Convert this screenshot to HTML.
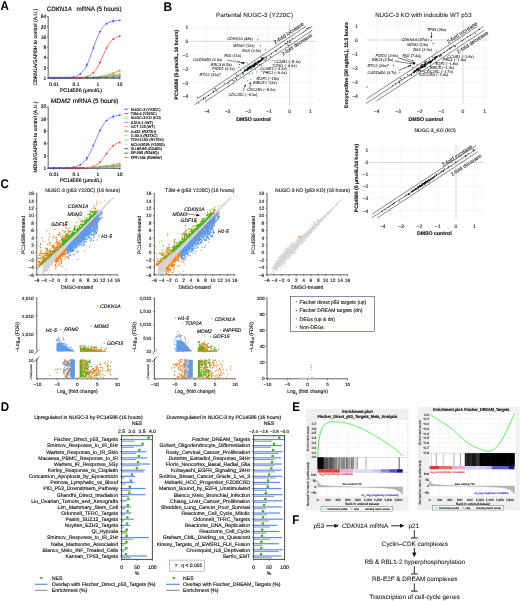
<!DOCTYPE html>
<html><head><meta charset="utf-8"><style>
html,body{margin:0;padding:0;background:#fff;}
svg{display:block;}
text{font-family:"Liberation Sans",Arial,sans-serif;text-rendering:geometricPrecision;}
</style></head><body><div class="wrap">
<svg width="520" height="601" viewBox="0 0 520 601">
<rect x="0" y="0" width="520" height="601" fill="#fff"/>
<text x="0.60" y="10.35" font-size="12.60" font-weight="bold" textLength="8.38" lengthAdjust="spacingAndGlyphs">A</text>
<text x="163.60" y="10.70" font-size="12.60" font-weight="bold" textLength="8.67" lengthAdjust="spacingAndGlyphs">B</text>
<text x="0.50" y="188.10" font-size="12.60" font-weight="bold" textLength="8.38" lengthAdjust="spacingAndGlyphs">C</text>
<text x="0.80" y="411.30" font-size="12.60" font-weight="bold" textLength="8.38" lengthAdjust="spacingAndGlyphs">D</text>
<text x="292.30" y="411.30" font-size="12.60" font-weight="bold" textLength="7.74" lengthAdjust="spacingAndGlyphs">E</text>
<text x="292.20" y="523.80" font-size="12.60" font-weight="bold" textLength="7.09" lengthAdjust="spacingAndGlyphs">F</text>
<line x1="48.20" y1="16.50" x2="48.20" y2="78.40" stroke="#222" stroke-width="0.7"/>
<line x1="47.85" y1="78.10" x2="120.50" y2="78.10" stroke="#222" stroke-width="0.7"/>
<line x1="47.00" y1="78.10" x2="48.20" y2="78.10" stroke="#222" stroke-width="0.6"/>
<text x="46.20" y="79.85" font-size="4.90" text-anchor="end" stroke="#000" stroke-width="0.140">1</text>
<line x1="47.00" y1="67.83" x2="48.20" y2="67.83" stroke="#222" stroke-width="0.6"/>
<text x="46.20" y="69.58" font-size="4.90" text-anchor="end" stroke="#000" stroke-width="0.140">2</text>
<line x1="47.00" y1="57.57" x2="48.20" y2="57.57" stroke="#222" stroke-width="0.6"/>
<text x="46.20" y="59.32" font-size="4.90" text-anchor="end" stroke="#000" stroke-width="0.140">4</text>
<line x1="47.00" y1="47.30" x2="48.20" y2="47.30" stroke="#222" stroke-width="0.6"/>
<text x="46.20" y="49.05" font-size="4.90" text-anchor="end" stroke="#000" stroke-width="0.140">8</text>
<line x1="47.00" y1="37.03" x2="48.20" y2="37.03" stroke="#222" stroke-width="0.6"/>
<text x="46.20" y="38.78" font-size="4.90" text-anchor="end" stroke="#000" stroke-width="0.140">16</text>
<line x1="47.00" y1="26.77" x2="48.20" y2="26.77" stroke="#222" stroke-width="0.6"/>
<text x="46.20" y="28.52" font-size="4.90" text-anchor="end" stroke="#000" stroke-width="0.140">32</text>
<line x1="47.00" y1="16.50" x2="48.20" y2="16.50" stroke="#222" stroke-width="0.6"/>
<text x="46.20" y="18.25" font-size="4.90" text-anchor="end" stroke="#000" stroke-width="0.140">64</text>
<line x1="54.10" y1="78.10" x2="54.10" y2="79.50" stroke="#222" stroke-width="0.6"/>
<line x1="76.00" y1="78.10" x2="76.00" y2="79.50" stroke="#222" stroke-width="0.6"/>
<line x1="97.90" y1="78.10" x2="97.90" y2="79.50" stroke="#222" stroke-width="0.6"/>
<line x1="119.80" y1="78.10" x2="119.80" y2="79.50" stroke="#222" stroke-width="0.6"/>
<line x1="49.24" y1="78.10" x2="49.24" y2="78.90" stroke="#222" stroke-width="0.4"/>
<line x1="50.71" y1="78.10" x2="50.71" y2="78.90" stroke="#222" stroke-width="0.4"/>
<line x1="51.98" y1="78.10" x2="51.98" y2="78.90" stroke="#222" stroke-width="0.4"/>
<line x1="53.10" y1="78.10" x2="53.10" y2="78.90" stroke="#222" stroke-width="0.4"/>
<line x1="60.69" y1="78.10" x2="60.69" y2="78.90" stroke="#222" stroke-width="0.4"/>
<line x1="64.55" y1="78.10" x2="64.55" y2="78.90" stroke="#222" stroke-width="0.4"/>
<line x1="67.29" y1="78.10" x2="67.29" y2="78.90" stroke="#222" stroke-width="0.4"/>
<line x1="69.41" y1="78.10" x2="69.41" y2="78.90" stroke="#222" stroke-width="0.4"/>
<line x1="71.14" y1="78.10" x2="71.14" y2="78.90" stroke="#222" stroke-width="0.4"/>
<line x1="72.61" y1="78.10" x2="72.61" y2="78.90" stroke="#222" stroke-width="0.4"/>
<line x1="73.88" y1="78.10" x2="73.88" y2="78.90" stroke="#222" stroke-width="0.4"/>
<line x1="75.00" y1="78.10" x2="75.00" y2="78.90" stroke="#222" stroke-width="0.4"/>
<line x1="82.59" y1="78.10" x2="82.59" y2="78.90" stroke="#222" stroke-width="0.4"/>
<line x1="86.45" y1="78.10" x2="86.45" y2="78.90" stroke="#222" stroke-width="0.4"/>
<line x1="89.19" y1="78.10" x2="89.19" y2="78.90" stroke="#222" stroke-width="0.4"/>
<line x1="91.31" y1="78.10" x2="91.31" y2="78.90" stroke="#222" stroke-width="0.4"/>
<line x1="93.04" y1="78.10" x2="93.04" y2="78.90" stroke="#222" stroke-width="0.4"/>
<line x1="94.51" y1="78.10" x2="94.51" y2="78.90" stroke="#222" stroke-width="0.4"/>
<line x1="95.78" y1="78.10" x2="95.78" y2="78.90" stroke="#222" stroke-width="0.4"/>
<line x1="96.90" y1="78.10" x2="96.90" y2="78.90" stroke="#222" stroke-width="0.4"/>
<line x1="104.49" y1="78.10" x2="104.49" y2="78.90" stroke="#222" stroke-width="0.4"/>
<line x1="108.35" y1="78.10" x2="108.35" y2="78.90" stroke="#222" stroke-width="0.4"/>
<line x1="111.09" y1="78.10" x2="111.09" y2="78.90" stroke="#222" stroke-width="0.4"/>
<line x1="113.21" y1="78.10" x2="113.21" y2="78.90" stroke="#222" stroke-width="0.4"/>
<line x1="114.94" y1="78.10" x2="114.94" y2="78.90" stroke="#222" stroke-width="0.4"/>
<line x1="116.41" y1="78.10" x2="116.41" y2="78.90" stroke="#222" stroke-width="0.4"/>
<line x1="117.68" y1="78.10" x2="117.68" y2="78.90" stroke="#222" stroke-width="0.4"/>
<line x1="118.80" y1="78.10" x2="118.80" y2="78.90" stroke="#222" stroke-width="0.4"/>
<text x="54.10" y="85.50" font-size="4.90" text-anchor="middle" stroke="#000" stroke-width="0.140">0.01</text>
<text x="76.00" y="85.50" font-size="4.90" text-anchor="middle" stroke="#000" stroke-width="0.140">0.1</text>
<text x="97.90" y="85.50" font-size="4.90" text-anchor="middle" stroke="#000" stroke-width="0.140">1</text>
<text x="119.80" y="85.50" font-size="4.90" text-anchor="middle" stroke="#000" stroke-width="0.140">10</text>
<text x="81.00" y="92.00" font-size="5.20" text-anchor="middle" stroke="#000" stroke-width="0.140">PC14586 (&#956;mol/L)</text>
<text y="10.60" font-size="6.3" stroke="#000" stroke-width="0.15"><tspan x="46.8" font-style="italic" textLength="25.1" lengthAdjust="spacingAndGlyphs">CDKN1A</tspan><tspan x="76.5" textLength="45" lengthAdjust="spacingAndGlyphs">mRNA (5 hours)</tspan></text>
<text x="36.60" y="47.10" font-size="5.05" text-anchor="middle" stroke="#000" stroke-width="0.140" transform="rotate(-90 36.60 47.10)">CDKN1A/GAPDH to control (A.U.)</text>
<path d="M48.20,78.09 L48.20,78.09 L48.20,78.09 L48.20,78.09 L48.72,78.09 L49.28,78.09 L49.83,78.09 L50.38,78.09 L50.94,78.09 L51.49,78.09 L52.05,78.09 L52.60,78.09 L53.16,78.09 L53.71,78.09 L54.26,78.09 L54.82,78.08 L55.37,78.08 L55.93,78.08 L56.48,78.08 L57.04,78.08 L57.59,78.08 L58.14,78.08 L58.70,78.08 L59.25,78.08 L59.81,78.07 L60.36,78.07 L60.91,78.07 L61.47,78.07 L62.02,78.07 L62.58,78.07 L63.13,78.06 L63.69,78.06 L64.24,78.06 L64.79,78.06 L65.35,78.05 L65.90,78.05 L66.46,78.05 L67.01,78.04 L67.56,78.04 L68.12,78.04 L68.67,78.03 L69.23,78.03 L69.78,78.03 L70.34,78.02 L70.89,78.02 L71.44,78.01 L72.00,78.01 L72.55,78.00 L73.11,77.99 L73.66,77.99 L74.22,77.98 L74.77,77.97 L75.32,77.97 L75.88,77.96 L76.43,77.95 L76.99,77.94 L77.54,77.93 L78.09,77.92 L78.65,77.91 L79.20,77.90 L79.76,77.89 L80.31,77.88 L80.87,77.86 L81.42,77.85 L81.97,77.84 L82.53,77.82 L83.08,77.80 L83.64,77.79 L84.19,77.77 L84.75,77.75 L85.30,77.73 L85.85,77.70 L86.41,77.68 L86.96,77.66 L87.52,77.63 L88.07,77.60 L88.62,77.58 L89.18,77.54 L89.73,77.51 L90.29,77.48 L90.84,77.44 L91.40,77.40 L91.95,77.36 L92.50,77.32 L93.06,77.28 L93.61,77.23 L94.17,77.18 L94.72,77.13 L95.27,77.08 L95.83,77.02 L96.38,76.96 L96.94,76.89 L97.49,76.83 L98.05,76.76 L98.60,76.68 L99.15,76.60 L99.71,76.52 L100.26,76.44 L100.82,76.35 L101.37,76.25 L101.93,76.16 L102.48,76.05 L103.03,75.95 L103.59,75.83 L104.14,75.72 L104.70,75.59 L105.25,75.47 L105.80,75.33 L106.36,75.20 L106.91,75.05 L107.47,74.90 L108.02,74.75 L108.58,74.59 L109.13,74.42 L109.68,74.25 L110.24,74.07 L110.79,73.89 L111.35,73.70 L111.90,73.51 L112.45,73.31 L113.01,73.11 L113.56,72.90 L114.12,72.68 L114.67,72.47 L115.23,72.24 L115.78,72.01 L116.33,71.78 L116.89,71.55 L117.44,71.31 L118.00,71.07 L118.55,70.83 L119.11,70.58 L119.66,70.33 L119.80,70.27" stroke="#c46a1a" stroke-width="0.65" fill="none"/>
<circle cx="53.91" cy="78.09" r="0.70" fill="#c46a1a"/>
<circle cx="60.45" cy="78.07" r="0.70" fill="#c46a1a"/>
<circle cx="67.04" cy="78.04" r="0.70" fill="#c46a1a"/>
<circle cx="73.64" cy="77.99" r="0.70" fill="#c46a1a"/>
<circle cx="80.23" cy="77.88" r="0.70" fill="#c46a1a"/>
<circle cx="86.84" cy="77.66" r="0.70" fill="#c46a1a"/>
<circle cx="93.43" cy="77.25" r="0.70" fill="#c46a1a"/>
<circle cx="100.02" cy="76.47" r="0.70" fill="#c46a1a"/>
<circle cx="106.61" cy="75.13" r="0.70" fill="#c46a1a"/>
<circle cx="113.21" cy="73.03" r="0.70" fill="#c46a1a"/>
<circle cx="119.80" cy="70.27" r="0.70" fill="#c46a1a"/>
<path d="M48.20,78.10 L48.20,78.10 L48.20,78.10 L48.20,78.10 L48.72,78.10 L49.28,78.10 L49.83,78.10 L50.38,78.09 L50.94,78.09 L51.49,78.09 L52.05,78.09 L52.60,78.09 L53.16,78.09 L53.71,78.09 L54.26,78.09 L54.82,78.09 L55.37,78.09 L55.93,78.09 L56.48,78.09 L57.04,78.09 L57.59,78.09 L58.14,78.09 L58.70,78.09 L59.25,78.09 L59.81,78.08 L60.36,78.08 L60.91,78.08 L61.47,78.08 L62.02,78.08 L62.58,78.08 L63.13,78.08 L63.69,78.08 L64.24,78.07 L64.79,78.07 L65.35,78.07 L65.90,78.07 L66.46,78.07 L67.01,78.06 L67.56,78.06 L68.12,78.06 L68.67,78.06 L69.23,78.05 L69.78,78.05 L70.34,78.05 L70.89,78.05 L71.44,78.04 L72.00,78.04 L72.55,78.03 L73.11,78.03 L73.66,78.02 L74.22,78.02 L74.77,78.01 L75.32,78.01 L75.88,78.00 L76.43,78.00 L76.99,77.99 L77.54,77.98 L78.09,77.97 L78.65,77.97 L79.20,77.96 L79.76,77.95 L80.31,77.94 L80.87,77.93 L81.42,77.92 L81.97,77.90 L82.53,77.89 L83.08,77.88 L83.64,77.86 L84.19,77.85 L84.75,77.83 L85.30,77.82 L85.85,77.80 L86.41,77.78 L86.96,77.76 L87.52,77.73 L88.07,77.71 L88.62,77.69 L89.18,77.66 L89.73,77.63 L90.29,77.60 L90.84,77.57 L91.40,77.54 L91.95,77.50 L92.50,77.46 L93.06,77.42 L93.61,77.38 L94.17,77.34 L94.72,77.29 L95.27,77.24 L95.83,77.19 L96.38,77.13 L96.94,77.07 L97.49,77.01 L98.05,76.95 L98.60,76.88 L99.15,76.80 L99.71,76.73 L100.26,76.65 L100.82,76.56 L101.37,76.48 L101.93,76.38 L102.48,76.29 L103.03,76.18 L103.59,76.08 L104.14,75.97 L104.70,75.85 L105.25,75.73 L105.80,75.61 L106.36,75.48 L106.91,75.34 L107.47,75.20 L108.02,75.06 L108.58,74.91 L109.13,74.75 L109.68,74.60 L110.24,74.43 L110.79,74.27 L111.35,74.09 L111.90,73.92 L112.45,73.74 L113.01,73.56 L113.56,73.37 L114.12,73.18 L114.67,72.99 L115.23,72.80 L115.78,72.61 L116.33,72.41 L116.89,72.21 L117.44,72.02 L118.00,71.82 L118.55,71.62 L119.11,71.42 L119.66,71.23 L119.80,71.18" stroke="#f59a3a" stroke-width="0.65" fill="none"/>
<circle cx="53.91" cy="78.09" r="0.70" fill="#f59a3a"/>
<circle cx="60.45" cy="78.08" r="0.70" fill="#f59a3a"/>
<circle cx="67.04" cy="78.06" r="0.70" fill="#f59a3a"/>
<circle cx="73.64" cy="78.02" r="0.70" fill="#f59a3a"/>
<circle cx="80.23" cy="77.94" r="0.70" fill="#f59a3a"/>
<circle cx="86.84" cy="77.76" r="0.70" fill="#f59a3a"/>
<circle cx="93.43" cy="77.40" r="0.70" fill="#f59a3a"/>
<circle cx="100.02" cy="76.68" r="0.70" fill="#f59a3a"/>
<circle cx="106.61" cy="75.42" r="0.70" fill="#f59a3a"/>
<circle cx="113.21" cy="73.49" r="0.70" fill="#f59a3a"/>
<circle cx="119.80" cy="71.18" r="0.70" fill="#f59a3a"/>
<path d="M48.20,78.10 L48.20,78.10 L48.20,78.10 L48.20,78.09 L48.72,78.09 L49.28,78.09 L49.83,78.09 L50.38,78.09 L50.94,78.09 L51.49,78.09 L52.05,78.09 L52.60,78.09 L53.16,78.09 L53.71,78.09 L54.26,78.09 L54.82,78.09 L55.37,78.09 L55.93,78.09 L56.48,78.09 L57.04,78.09 L57.59,78.09 L58.14,78.09 L58.70,78.08 L59.25,78.08 L59.81,78.08 L60.36,78.08 L60.91,78.08 L61.47,78.08 L62.02,78.08 L62.58,78.08 L63.13,78.08 L63.69,78.07 L64.24,78.07 L64.79,78.07 L65.35,78.07 L65.90,78.07 L66.46,78.07 L67.01,78.06 L67.56,78.06 L68.12,78.06 L68.67,78.06 L69.23,78.05 L69.78,78.05 L70.34,78.05 L70.89,78.04 L71.44,78.04 L72.00,78.04 L72.55,78.03 L73.11,78.03 L73.66,78.03 L74.22,78.02 L74.77,78.02 L75.32,78.01 L75.88,78.01 L76.43,78.00 L76.99,78.00 L77.54,77.99 L78.09,77.98 L78.65,77.98 L79.20,77.97 L79.76,77.96 L80.31,77.95 L80.87,77.94 L81.42,77.93 L81.97,77.93 L82.53,77.91 L83.08,77.90 L83.64,77.89 L84.19,77.88 L84.75,77.87 L85.30,77.85 L85.85,77.84 L86.41,77.82 L86.96,77.81 L87.52,77.79 L88.07,77.77 L88.62,77.75 L89.18,77.73 L89.73,77.71 L90.29,77.69 L90.84,77.67 L91.40,77.64 L91.95,77.62 L92.50,77.59 L93.06,77.56 L93.61,77.53 L94.17,77.50 L94.72,77.46 L95.27,77.43 L95.83,77.39 L96.38,77.35 L96.94,77.31 L97.49,77.27 L98.05,77.22 L98.60,77.18 L99.15,77.13 L99.71,77.07 L100.26,77.02 L100.82,76.96 L101.37,76.90 L101.93,76.84 L102.48,76.78 L103.03,76.71 L103.59,76.64 L104.14,76.56 L104.70,76.49 L105.25,76.41 L105.80,76.32 L106.36,76.24 L106.91,76.15 L107.47,76.06 L108.02,75.96 L108.58,75.87 L109.13,75.76 L109.68,75.66 L110.24,75.55 L110.79,75.44 L111.35,75.33 L111.90,75.21 L112.45,75.10 L113.01,74.97 L113.56,74.85 L114.12,74.73 L114.67,74.60 L115.23,74.47 L115.78,74.34 L116.33,74.20 L116.89,74.07 L117.44,73.93 L118.00,73.80 L118.55,73.66 L119.11,73.52 L119.66,73.38 L119.80,73.35" stroke="#7cff33" stroke-width="0.65" fill="none"/>
<circle cx="53.91" cy="78.09" r="0.70" fill="#7cff33"/>
<circle cx="60.45" cy="78.08" r="0.70" fill="#7cff33"/>
<circle cx="67.04" cy="78.06" r="0.70" fill="#7cff33"/>
<circle cx="73.64" cy="78.03" r="0.70" fill="#7cff33"/>
<circle cx="80.23" cy="77.95" r="0.70" fill="#7cff33"/>
<circle cx="86.84" cy="77.81" r="0.70" fill="#7cff33"/>
<circle cx="93.43" cy="77.54" r="0.70" fill="#7cff33"/>
<circle cx="100.02" cy="77.04" r="0.70" fill="#7cff33"/>
<circle cx="106.61" cy="76.20" r="0.70" fill="#7cff33"/>
<circle cx="113.21" cy="74.93" r="0.70" fill="#7cff33"/>
<circle cx="119.80" cy="73.35" r="0.70" fill="#7cff33"/>
<path d="M48.20,78.09 L48.20,78.09 L48.20,78.09 L48.20,78.09 L48.72,78.09 L49.28,78.09 L49.83,78.09 L50.38,78.09 L50.94,78.09 L51.49,78.09 L52.05,78.09 L52.60,78.09 L53.16,78.09 L53.71,78.09 L54.26,78.08 L54.82,78.08 L55.37,78.08 L55.93,78.08 L56.48,78.08 L57.04,78.08 L57.59,78.08 L58.14,78.08 L58.70,78.08 L59.25,78.07 L59.81,78.07 L60.36,78.07 L60.91,78.07 L61.47,78.07 L62.02,78.07 L62.58,78.06 L63.13,78.06 L63.69,78.06 L64.24,78.06 L64.79,78.05 L65.35,78.05 L65.90,78.05 L66.46,78.05 L67.01,78.04 L67.56,78.04 L68.12,78.04 L68.67,78.03 L69.23,78.03 L69.78,78.02 L70.34,78.02 L70.89,78.01 L71.44,78.01 L72.00,78.00 L72.55,78.00 L73.11,77.99 L73.66,77.98 L74.22,77.98 L74.77,77.97 L75.32,77.96 L75.88,77.96 L76.43,77.95 L76.99,77.94 L77.54,77.93 L78.09,77.92 L78.65,77.91 L79.20,77.90 L79.76,77.89 L80.31,77.87 L80.87,77.86 L81.42,77.85 L81.97,77.83 L82.53,77.82 L83.08,77.80 L83.64,77.78 L84.19,77.76 L84.75,77.75 L85.30,77.73 L85.85,77.70 L86.41,77.68 L86.96,77.66 L87.52,77.64 L88.07,77.61 L88.62,77.58 L89.18,77.55 L89.73,77.52 L90.29,77.49 L90.84,77.46 L91.40,77.43 L91.95,77.39 L92.50,77.35 L93.06,77.32 L93.61,77.27 L94.17,77.23 L94.72,77.19 L95.27,77.14 L95.83,77.09 L96.38,77.04 L96.94,76.99 L97.49,76.94 L98.05,76.88 L98.60,76.83 L99.15,76.77 L99.71,76.71 L100.26,76.64 L100.82,76.58 L101.37,76.51 L101.93,76.44 L102.48,76.37 L103.03,76.30 L103.59,76.22 L104.14,76.15 L104.70,76.07 L105.25,75.99 L105.80,75.91 L106.36,75.83 L106.91,75.75 L107.47,75.66 L108.02,75.58 L108.58,75.49 L109.13,75.40 L109.68,75.32 L110.24,75.23 L110.79,75.14 L111.35,75.06 L111.90,74.97 L112.45,74.88 L113.01,74.79 L113.56,74.71 L114.12,74.62 L114.67,74.54 L115.23,74.45 L115.78,74.37 L116.33,74.29 L116.89,74.21 L117.44,74.13 L118.00,74.05 L118.55,73.98 L119.11,73.90 L119.66,73.83 L119.80,73.81" stroke="#8fdc6a" stroke-width="0.65" fill="none"/>
<circle cx="53.91" cy="78.09" r="0.70" fill="#8fdc6a"/>
<circle cx="60.45" cy="78.07" r="0.70" fill="#8fdc6a"/>
<circle cx="67.04" cy="78.04" r="0.70" fill="#8fdc6a"/>
<circle cx="73.64" cy="77.99" r="0.70" fill="#8fdc6a"/>
<circle cx="80.23" cy="77.87" r="0.70" fill="#8fdc6a"/>
<circle cx="86.84" cy="77.66" r="0.70" fill="#8fdc6a"/>
<circle cx="93.43" cy="77.29" r="0.70" fill="#8fdc6a"/>
<circle cx="100.02" cy="76.67" r="0.70" fill="#8fdc6a"/>
<circle cx="106.61" cy="75.79" r="0.70" fill="#8fdc6a"/>
<circle cx="113.21" cy="74.76" r="0.70" fill="#8fdc6a"/>
<circle cx="119.80" cy="73.81" r="0.70" fill="#8fdc6a"/>
<path d="M48.20,78.10 L48.20,78.10 L48.20,78.10 L48.20,78.09 L48.72,78.09 L49.28,78.09 L49.83,78.09 L50.38,78.09 L50.94,78.09 L51.49,78.09 L52.05,78.09 L52.60,78.09 L53.16,78.09 L53.71,78.09 L54.26,78.09 L54.82,78.09 L55.37,78.09 L55.93,78.09 L56.48,78.09 L57.04,78.09 L57.59,78.09 L58.14,78.09 L58.70,78.08 L59.25,78.08 L59.81,78.08 L60.36,78.08 L60.91,78.08 L61.47,78.08 L62.02,78.08 L62.58,78.08 L63.13,78.08 L63.69,78.07 L64.24,78.07 L64.79,78.07 L65.35,78.07 L65.90,78.07 L66.46,78.06 L67.01,78.06 L67.56,78.06 L68.12,78.06 L68.67,78.06 L69.23,78.05 L69.78,78.05 L70.34,78.05 L70.89,78.04 L71.44,78.04 L72.00,78.04 L72.55,78.03 L73.11,78.03 L73.66,78.03 L74.22,78.02 L74.77,78.02 L75.32,78.01 L75.88,78.01 L76.43,78.00 L76.99,78.00 L77.54,77.99 L78.09,77.98 L78.65,77.98 L79.20,77.97 L79.76,77.96 L80.31,77.95 L80.87,77.94 L81.42,77.94 L81.97,77.93 L82.53,77.92 L83.08,77.91 L83.64,77.89 L84.19,77.88 L84.75,77.87 L85.30,77.86 L85.85,77.84 L86.41,77.83 L86.96,77.81 L87.52,77.80 L88.07,77.78 L88.62,77.77 L89.18,77.75 L89.73,77.73 L90.29,77.71 L90.84,77.69 L91.40,77.66 L91.95,77.64 L92.50,77.62 L93.06,77.59 L93.61,77.57 L94.17,77.54 L94.72,77.51 L95.27,77.48 L95.83,77.45 L96.38,77.42 L96.94,77.38 L97.49,77.35 L98.05,77.31 L98.60,77.28 L99.15,77.24 L99.71,77.20 L100.26,77.16 L100.82,77.11 L101.37,77.07 L101.93,77.03 L102.48,76.98 L103.03,76.93 L103.59,76.89 L104.14,76.84 L104.70,76.79 L105.25,76.73 L105.80,76.68 L106.36,76.63 L106.91,76.58 L107.47,76.52 L108.02,76.47 L108.58,76.41 L109.13,76.36 L109.68,76.30 L110.24,76.24 L110.79,76.19 L111.35,76.13 L111.90,76.07 L112.45,76.02 L113.01,75.96 L113.56,75.91 L114.12,75.85 L114.67,75.79 L115.23,75.74 L115.78,75.69 L116.33,75.63 L116.89,75.58 L117.44,75.53 L118.00,75.48 L118.55,75.43 L119.11,75.38 L119.66,75.34 L119.80,75.32" stroke="#3d7a3d" stroke-width="0.65" fill="none"/>
<circle cx="53.91" cy="78.09" r="0.70" fill="#3d7a3d"/>
<circle cx="60.45" cy="78.08" r="0.70" fill="#3d7a3d"/>
<circle cx="67.04" cy="78.06" r="0.70" fill="#3d7a3d"/>
<circle cx="73.64" cy="78.03" r="0.70" fill="#3d7a3d"/>
<circle cx="80.23" cy="77.95" r="0.70" fill="#3d7a3d"/>
<circle cx="86.84" cy="77.82" r="0.70" fill="#3d7a3d"/>
<circle cx="93.43" cy="77.57" r="0.70" fill="#3d7a3d"/>
<circle cx="100.02" cy="77.17" r="0.70" fill="#3d7a3d"/>
<circle cx="106.61" cy="76.61" r="0.70" fill="#3d7a3d"/>
<circle cx="113.21" cy="75.94" r="0.70" fill="#3d7a3d"/>
<circle cx="119.80" cy="75.32" r="0.70" fill="#3d7a3d"/>
<path d="M48.20,78.10 L48.20,78.09 L48.20,78.09 L48.20,78.09 L48.72,78.09 L49.28,78.09 L49.83,78.09 L50.38,78.09 L50.94,78.09 L51.49,78.09 L52.05,78.09 L52.60,78.09 L53.16,78.09 L53.71,78.09 L54.26,78.09 L54.82,78.09 L55.37,78.09 L55.93,78.09 L56.48,78.09 L57.04,78.09 L57.59,78.08 L58.14,78.08 L58.70,78.08 L59.25,78.08 L59.81,78.08 L60.36,78.08 L60.91,78.08 L61.47,78.08 L62.02,78.07 L62.58,78.07 L63.13,78.07 L63.69,78.07 L64.24,78.07 L64.79,78.07 L65.35,78.06 L65.90,78.06 L66.46,78.06 L67.01,78.06 L67.56,78.06 L68.12,78.05 L68.67,78.05 L69.23,78.05 L69.78,78.04 L70.34,78.04 L70.89,78.04 L71.44,78.03 L72.00,78.03 L72.55,78.03 L73.11,78.02 L73.66,78.02 L74.22,78.01 L74.77,78.01 L75.32,78.00 L75.88,77.99 L76.43,77.99 L76.99,77.98 L77.54,77.98 L78.09,77.97 L78.65,77.96 L79.20,77.95 L79.76,77.94 L80.31,77.94 L80.87,77.93 L81.42,77.92 L81.97,77.91 L82.53,77.89 L83.08,77.88 L83.64,77.87 L84.19,77.86 L84.75,77.85 L85.30,77.83 L85.85,77.82 L86.41,77.80 L86.96,77.78 L87.52,77.77 L88.07,77.75 L88.62,77.73 L89.18,77.71 L89.73,77.69 L90.29,77.67 L90.84,77.65 L91.40,77.62 L91.95,77.60 L92.50,77.57 L93.06,77.55 L93.61,77.52 L94.17,77.49 L94.72,77.46 L95.27,77.43 L95.83,77.40 L96.38,77.37 L96.94,77.33 L97.49,77.30 L98.05,77.26 L98.60,77.23 L99.15,77.19 L99.71,77.15 L100.26,77.11 L100.82,77.07 L101.37,77.03 L101.93,76.99 L102.48,76.94 L103.03,76.90 L103.59,76.85 L104.14,76.81 L104.70,76.76 L105.25,76.71 L105.80,76.67 L106.36,76.62 L106.91,76.57 L107.47,76.52 L108.02,76.48 L108.58,76.43 L109.13,76.38 L109.68,76.33 L110.24,76.28 L110.79,76.24 L111.35,76.19 L111.90,76.14 L112.45,76.10 L113.01,76.05 L113.56,76.01 L114.12,75.96 L114.67,75.92 L115.23,75.87 L115.78,75.83 L116.33,75.79 L116.89,75.75 L117.44,75.71 L118.00,75.67 L118.55,75.64 L119.11,75.60 L119.66,75.57 L119.80,75.56" stroke="#b54be0" stroke-width="0.65" fill="none"/>
<circle cx="53.91" cy="78.09" r="0.70" fill="#b54be0"/>
<circle cx="60.45" cy="78.08" r="0.70" fill="#b54be0"/>
<circle cx="67.04" cy="78.06" r="0.70" fill="#b54be0"/>
<circle cx="73.64" cy="78.02" r="0.70" fill="#b54be0"/>
<circle cx="80.23" cy="77.94" r="0.70" fill="#b54be0"/>
<circle cx="86.84" cy="77.79" r="0.70" fill="#b54be0"/>
<circle cx="93.43" cy="77.53" r="0.70" fill="#b54be0"/>
<circle cx="100.02" cy="77.13" r="0.70" fill="#b54be0"/>
<circle cx="106.61" cy="76.60" r="0.70" fill="#b54be0"/>
<circle cx="113.21" cy="76.03" r="0.70" fill="#b54be0"/>
<circle cx="119.80" cy="75.56" r="0.70" fill="#b54be0"/>
<path d="M48.20,78.10 L48.20,78.10 L48.20,78.10 L48.20,78.10 L48.72,78.09 L49.28,78.09 L49.83,78.09 L50.38,78.09 L50.94,78.09 L51.49,78.09 L52.05,78.09 L52.60,78.09 L53.16,78.09 L53.71,78.09 L54.26,78.09 L54.82,78.09 L55.37,78.09 L55.93,78.09 L56.48,78.09 L57.04,78.09 L57.59,78.09 L58.14,78.09 L58.70,78.09 L59.25,78.08 L59.81,78.08 L60.36,78.08 L60.91,78.08 L61.47,78.08 L62.02,78.08 L62.58,78.08 L63.13,78.08 L63.69,78.08 L64.24,78.07 L64.79,78.07 L65.35,78.07 L65.90,78.07 L66.46,78.07 L67.01,78.07 L67.56,78.06 L68.12,78.06 L68.67,78.06 L69.23,78.06 L69.78,78.05 L70.34,78.05 L70.89,78.05 L71.44,78.05 L72.00,78.04 L72.55,78.04 L73.11,78.04 L73.66,78.03 L74.22,78.03 L74.77,78.02 L75.32,78.02 L75.88,78.01 L76.43,78.01 L76.99,78.00 L77.54,78.00 L78.09,77.99 L78.65,77.99 L79.20,77.98 L79.76,77.97 L80.31,77.97 L80.87,77.96 L81.42,77.95 L81.97,77.94 L82.53,77.93 L83.08,77.92 L83.64,77.91 L84.19,77.90 L84.75,77.89 L85.30,77.88 L85.85,77.87 L86.41,77.86 L86.96,77.84 L87.52,77.83 L88.07,77.81 L88.62,77.80 L89.18,77.78 L89.73,77.77 L90.29,77.75 L90.84,77.73 L91.40,77.71 L91.95,77.69 L92.50,77.67 L93.06,77.65 L93.61,77.63 L94.17,77.60 L94.72,77.58 L95.27,77.55 L95.83,77.53 L96.38,77.50 L96.94,77.47 L97.49,77.45 L98.05,77.42 L98.60,77.39 L99.15,77.36 L99.71,77.32 L100.26,77.29 L100.82,77.26 L101.37,77.22 L101.93,77.19 L102.48,77.15 L103.03,77.12 L103.59,77.08 L104.14,77.04 L104.70,77.01 L105.25,76.97 L105.80,76.93 L106.36,76.89 L106.91,76.85 L107.47,76.81 L108.02,76.77 L108.58,76.73 L109.13,76.69 L109.68,76.66 L110.24,76.62 L110.79,76.58 L111.35,76.54 L111.90,76.50 L112.45,76.46 L113.01,76.43 L113.56,76.39 L114.12,76.35 L114.67,76.32 L115.23,76.28 L115.78,76.25 L116.33,76.21 L116.89,76.18 L117.44,76.15 L118.00,76.12 L118.55,76.09 L119.11,76.06 L119.66,76.03 L119.80,76.02" stroke="#7fb6ff" stroke-width="0.65" fill="none"/>
<circle cx="53.91" cy="78.09" r="0.70" fill="#7fb6ff"/>
<circle cx="60.45" cy="78.08" r="0.70" fill="#7fb6ff"/>
<circle cx="67.04" cy="78.07" r="0.70" fill="#7fb6ff"/>
<circle cx="73.64" cy="78.03" r="0.70" fill="#7fb6ff"/>
<circle cx="80.23" cy="77.97" r="0.70" fill="#7fb6ff"/>
<circle cx="86.84" cy="77.85" r="0.70" fill="#7fb6ff"/>
<circle cx="93.43" cy="77.63" r="0.70" fill="#7fb6ff"/>
<circle cx="100.02" cy="77.31" r="0.70" fill="#7fb6ff"/>
<circle cx="106.61" cy="76.87" r="0.70" fill="#7fb6ff"/>
<circle cx="113.21" cy="76.41" r="0.70" fill="#7fb6ff"/>
<circle cx="119.80" cy="76.02" r="0.70" fill="#7fb6ff"/>
<path d="M48.20,78.10 L48.20,78.10 L48.20,78.10 L48.20,78.10 L48.72,78.10 L49.28,78.10 L49.83,78.10 L50.38,78.10 L50.94,78.10 L51.49,78.10 L52.05,78.10 L52.60,78.10 L53.16,78.10 L53.71,78.10 L54.26,78.10 L54.82,78.09 L55.37,78.09 L55.93,78.09 L56.48,78.09 L57.04,78.09 L57.59,78.09 L58.14,78.09 L58.70,78.09 L59.25,78.09 L59.81,78.09 L60.36,78.09 L60.91,78.09 L61.47,78.09 L62.02,78.09 L62.58,78.09 L63.13,78.09 L63.69,78.09 L64.24,78.09 L64.79,78.09 L65.35,78.08 L65.90,78.08 L66.46,78.08 L67.01,78.08 L67.56,78.08 L68.12,78.08 L68.67,78.08 L69.23,78.08 L69.78,78.08 L70.34,78.07 L70.89,78.07 L71.44,78.07 L72.00,78.07 L72.55,78.07 L73.11,78.07 L73.66,78.06 L74.22,78.06 L74.77,78.06 L75.32,78.06 L75.88,78.06 L76.43,78.05 L76.99,78.05 L77.54,78.05 L78.09,78.04 L78.65,78.04 L79.20,78.04 L79.76,78.03 L80.31,78.03 L80.87,78.03 L81.42,78.02 L81.97,78.02 L82.53,78.01 L83.08,78.01 L83.64,78.00 L84.19,78.00 L84.75,77.99 L85.30,77.99 L85.85,77.98 L86.41,77.97 L86.96,77.97 L87.52,77.96 L88.07,77.95 L88.62,77.94 L89.18,77.93 L89.73,77.93 L90.29,77.92 L90.84,77.91 L91.40,77.90 L91.95,77.89 L92.50,77.88 L93.06,77.86 L93.61,77.85 L94.17,77.84 L94.72,77.83 L95.27,77.82 L95.83,77.80 L96.38,77.79 L96.94,77.77 L97.49,77.76 L98.05,77.74 L98.60,77.73 L99.15,77.71 L99.71,77.69 L100.26,77.68 L100.82,77.66 L101.37,77.64 L101.93,77.62 L102.48,77.61 L103.03,77.59 L103.59,77.57 L104.14,77.55 L104.70,77.53 L105.25,77.51 L105.80,77.49 L106.36,77.47 L106.91,77.45 L107.47,77.43 L108.02,77.41 L108.58,77.39 L109.13,77.37 L109.68,77.34 L110.24,77.32 L110.79,77.30 L111.35,77.28 L111.90,77.26 L112.45,77.24 L113.01,77.22 L113.56,77.21 L114.12,77.19 L114.67,77.17 L115.23,77.15 L115.78,77.13 L116.33,77.11 L116.89,77.10 L117.44,77.08 L118.00,77.06 L118.55,77.05 L119.11,77.03 L119.66,77.02 L119.80,77.01" stroke="#333333" stroke-width="0.65" fill="none"/>
<circle cx="53.91" cy="78.10" r="0.70" fill="#333333"/>
<circle cx="60.45" cy="78.09" r="0.70" fill="#333333"/>
<circle cx="67.04" cy="78.08" r="0.70" fill="#333333"/>
<circle cx="73.64" cy="78.06" r="0.70" fill="#333333"/>
<circle cx="80.23" cy="78.03" r="0.70" fill="#333333"/>
<circle cx="86.84" cy="77.97" r="0.70" fill="#333333"/>
<circle cx="93.43" cy="77.86" r="0.70" fill="#333333"/>
<circle cx="100.02" cy="77.68" r="0.70" fill="#333333"/>
<circle cx="106.61" cy="77.46" r="0.70" fill="#333333"/>
<circle cx="113.21" cy="77.22" r="0.70" fill="#333333"/>
<circle cx="119.80" cy="77.01" r="0.70" fill="#333333"/>
<path d="M48.20,78.10 L48.20,78.10 L48.20,78.10 L48.20,78.10 L48.72,78.10 L49.28,78.10 L49.83,78.10 L50.38,78.10 L50.94,78.10 L51.49,78.10 L52.05,78.10 L52.60,78.10 L53.16,78.10 L53.71,78.10 L54.26,78.10 L54.82,78.10 L55.37,78.10 L55.93,78.10 L56.48,78.10 L57.04,78.10 L57.59,78.10 L58.14,78.10 L58.70,78.10 L59.25,78.10 L59.81,78.09 L60.36,78.09 L60.91,78.09 L61.47,78.09 L62.02,78.09 L62.58,78.09 L63.13,78.09 L63.69,78.09 L64.24,78.09 L64.79,78.08 L65.35,78.08 L65.90,78.08 L66.46,78.08 L67.01,78.08 L67.56,78.07 L68.12,78.07 L68.67,78.07 L69.23,78.06 L69.78,78.06 L70.34,78.05 L70.89,78.05 L71.44,78.04 L72.00,78.03 L72.55,78.02 L73.11,78.01 L73.66,78.00 L74.22,77.99 L74.77,77.98 L75.32,77.96 L75.88,77.95 L76.43,77.93 L76.99,77.91 L77.54,77.88 L78.09,77.86 L78.65,77.83 L79.20,77.79 L79.76,77.75 L80.31,77.71 L80.87,77.66 L81.42,77.61 L81.97,77.55 L82.53,77.48 L83.08,77.41 L83.64,77.33 L84.19,77.23 L84.75,77.13 L85.30,77.01 L85.85,76.88 L86.41,76.73 L86.96,76.57 L87.52,76.39 L88.07,76.18 L88.62,75.96 L89.18,75.71 L89.73,75.43 L90.29,75.13 L90.84,74.79 L91.40,74.41 L91.95,74.00 L92.50,73.55 L93.06,73.05 L93.61,72.51 L94.17,71.91 L94.72,71.27 L95.27,70.57 L95.83,69.82 L96.38,69.01 L96.94,68.15 L97.49,67.23 L98.05,66.25 L98.60,65.23 L99.15,64.15 L99.71,63.03 L100.26,61.87 L100.82,60.67 L101.37,59.45 L101.93,58.21 L102.48,56.96 L103.03,55.70 L103.59,54.45 L104.14,53.21 L104.70,52.00 L105.25,50.82 L105.80,49.67 L106.36,48.56 L106.91,47.50 L107.47,46.49 L108.02,45.53 L108.58,44.63 L109.13,43.79 L109.68,43.00 L110.24,42.27 L110.79,41.59 L111.35,40.96 L111.90,40.39 L112.45,39.86 L113.01,39.38 L113.56,38.94 L114.12,38.54 L114.67,38.18 L115.23,37.85 L115.78,37.55 L116.33,37.28 L116.89,37.04 L117.44,36.82 L118.00,36.63 L118.55,36.45 L119.11,36.30 L119.66,36.16 L119.80,36.12" stroke="#ff1f1f" stroke-width="0.65" fill="none"/>
<circle cx="53.91" cy="78.10" r="0.85" fill="#ff1f1f"/>
<circle cx="60.45" cy="78.09" r="0.85" fill="#ff1f1f"/>
<circle cx="67.04" cy="78.08" r="0.85" fill="#ff1f1f"/>
<circle cx="73.64" cy="78.00" r="0.85" fill="#ff1f1f"/>
<circle cx="80.23" cy="77.72" r="0.85" fill="#ff1f1f"/>
<circle cx="86.84" cy="76.61" r="0.85" fill="#ff1f1f"/>
<circle cx="93.43" cy="72.69" r="0.85" fill="#ff1f1f"/>
<circle cx="100.02" cy="62.38" r="0.85" fill="#ff1f1f"/>
<circle cx="106.61" cy="48.06" r="0.85" fill="#ff1f1f"/>
<circle cx="113.21" cy="39.21" r="0.85" fill="#ff1f1f"/>
<circle cx="119.80" cy="36.12" r="0.85" fill="#ff1f1f"/>
<path d="M48.20,78.09 L48.20,78.09 L48.20,78.09 L48.20,78.09 L48.72,78.09 L49.28,78.09 L49.83,78.09 L50.38,78.09 L50.94,78.09 L51.49,78.09 L52.05,78.08 L52.60,78.08 L53.16,78.08 L53.71,78.08 L54.26,78.07 L54.82,78.07 L55.37,78.07 L55.93,78.07 L56.48,78.06 L57.04,78.06 L57.59,78.05 L58.14,78.05 L58.70,78.04 L59.25,78.03 L59.81,78.02 L60.36,78.02 L60.91,78.01 L61.47,77.99 L62.02,77.98 L62.58,77.97 L63.13,77.95 L63.69,77.94 L64.24,77.92 L64.79,77.90 L65.35,77.87 L65.90,77.84 L66.46,77.81 L67.01,77.78 L67.56,77.74 L68.12,77.70 L68.67,77.66 L69.23,77.61 L69.78,77.55 L70.34,77.48 L70.89,77.41 L71.44,77.33 L72.00,77.25 L72.55,77.15 L73.11,77.04 L73.66,76.92 L74.22,76.78 L74.77,76.63 L75.32,76.46 L75.88,76.28 L76.43,76.07 L76.99,75.84 L77.54,75.59 L78.09,75.31 L78.65,75.00 L79.20,74.66 L79.76,74.29 L80.31,73.87 L80.87,73.42 L81.42,72.92 L81.97,72.37 L82.53,71.77 L83.08,71.12 L83.64,70.41 L84.19,69.64 L84.75,68.81 L85.30,67.92 L85.85,66.95 L86.41,65.92 L86.96,64.82 L87.52,63.65 L88.07,62.42 L88.62,61.12 L89.18,59.76 L89.73,58.35 L90.29,56.88 L90.84,55.37 L91.40,53.82 L91.95,52.25 L92.50,50.65 L93.06,49.05 L93.61,47.45 L94.17,45.85 L94.72,44.28 L95.27,42.73 L95.83,41.22 L96.38,39.76 L96.94,38.35 L97.49,36.99 L98.05,35.70 L98.60,34.47 L99.15,33.30 L99.71,32.21 L100.26,31.18 L100.82,30.22 L101.37,29.33 L101.93,28.50 L102.48,27.74 L103.03,27.03 L103.59,26.38 L104.14,25.79 L104.70,25.25 L105.25,24.75 L105.80,24.30 L106.36,23.88 L106.91,23.51 L107.47,23.17 L108.02,22.86 L108.58,22.59 L109.13,22.34 L109.68,22.11 L110.24,21.90 L110.79,21.72 L111.35,21.55 L111.90,21.40 L112.45,21.27 L113.01,21.15 L113.56,21.04 L114.12,20.94 L114.67,20.85 L115.23,20.78 L115.78,20.70 L116.33,20.64 L116.89,20.58 L117.44,20.53 L118.00,20.49 L118.55,20.45 L119.11,20.41 L119.66,20.38 L119.80,20.37" stroke="#2b4cff" stroke-width="0.65" fill="none"/>
<circle cx="53.91" cy="78.08" r="0.85" fill="#2b4cff"/>
<circle cx="60.45" cy="78.01" r="0.85" fill="#2b4cff"/>
<circle cx="67.04" cy="77.78" r="0.85" fill="#2b4cff"/>
<circle cx="73.64" cy="76.92" r="0.85" fill="#2b4cff"/>
<circle cx="80.23" cy="73.94" r="0.85" fill="#2b4cff"/>
<circle cx="86.84" cy="65.08" r="0.85" fill="#2b4cff"/>
<line x1="86.84" y1="62.88" x2="86.84" y2="67.28" stroke="#2b4cff" stroke-width="0.5"/>
<circle cx="93.43" cy="47.97" r="0.85" fill="#2b4cff"/>
<circle cx="100.02" cy="31.62" r="0.85" fill="#2b4cff"/>
<circle cx="106.61" cy="23.71" r="0.85" fill="#2b4cff"/>
<circle cx="113.21" cy="21.11" r="0.85" fill="#2b4cff"/>
<line x1="113.21" y1="18.91" x2="113.21" y2="23.31" stroke="#2b4cff" stroke-width="0.5"/>
<circle cx="119.80" cy="20.37" r="0.85" fill="#2b4cff"/>
<line x1="48.20" y1="76.30" x2="120.00" y2="76.30" stroke="#9be07a" stroke-width="0.5"/>
<line x1="48.20" y1="106.50" x2="48.20" y2="168.60" stroke="#222" stroke-width="0.7"/>
<line x1="47.85" y1="168.30" x2="120.50" y2="168.30" stroke="#222" stroke-width="0.7"/>
<line x1="47.00" y1="168.30" x2="48.20" y2="168.30" stroke="#222" stroke-width="0.6"/>
<text x="46.20" y="170.05" font-size="4.90" text-anchor="end" stroke="#000" stroke-width="0.140">1</text>
<line x1="47.00" y1="155.94" x2="48.20" y2="155.94" stroke="#222" stroke-width="0.6"/>
<text x="46.20" y="157.69" font-size="4.90" text-anchor="end" stroke="#000" stroke-width="0.140">2</text>
<line x1="47.00" y1="143.58" x2="48.20" y2="143.58" stroke="#222" stroke-width="0.6"/>
<text x="46.20" y="145.33" font-size="4.90" text-anchor="end" stroke="#000" stroke-width="0.140">4</text>
<line x1="47.00" y1="131.22" x2="48.20" y2="131.22" stroke="#222" stroke-width="0.6"/>
<text x="46.20" y="132.97" font-size="4.90" text-anchor="end" stroke="#000" stroke-width="0.140">8</text>
<line x1="47.00" y1="118.86" x2="48.20" y2="118.86" stroke="#222" stroke-width="0.6"/>
<text x="46.20" y="120.61" font-size="4.90" text-anchor="end" stroke="#000" stroke-width="0.140">16</text>
<line x1="47.00" y1="106.50" x2="48.20" y2="106.50" stroke="#222" stroke-width="0.6"/>
<text x="46.20" y="108.25" font-size="4.90" text-anchor="end" stroke="#000" stroke-width="0.140">32</text>
<line x1="54.10" y1="168.30" x2="54.10" y2="169.70" stroke="#222" stroke-width="0.6"/>
<line x1="76.00" y1="168.30" x2="76.00" y2="169.70" stroke="#222" stroke-width="0.6"/>
<line x1="97.90" y1="168.30" x2="97.90" y2="169.70" stroke="#222" stroke-width="0.6"/>
<line x1="119.80" y1="168.30" x2="119.80" y2="169.70" stroke="#222" stroke-width="0.6"/>
<line x1="49.24" y1="168.30" x2="49.24" y2="169.10" stroke="#222" stroke-width="0.4"/>
<line x1="50.71" y1="168.30" x2="50.71" y2="169.10" stroke="#222" stroke-width="0.4"/>
<line x1="51.98" y1="168.30" x2="51.98" y2="169.10" stroke="#222" stroke-width="0.4"/>
<line x1="53.10" y1="168.30" x2="53.10" y2="169.10" stroke="#222" stroke-width="0.4"/>
<line x1="60.69" y1="168.30" x2="60.69" y2="169.10" stroke="#222" stroke-width="0.4"/>
<line x1="64.55" y1="168.30" x2="64.55" y2="169.10" stroke="#222" stroke-width="0.4"/>
<line x1="67.29" y1="168.30" x2="67.29" y2="169.10" stroke="#222" stroke-width="0.4"/>
<line x1="69.41" y1="168.30" x2="69.41" y2="169.10" stroke="#222" stroke-width="0.4"/>
<line x1="71.14" y1="168.30" x2="71.14" y2="169.10" stroke="#222" stroke-width="0.4"/>
<line x1="72.61" y1="168.30" x2="72.61" y2="169.10" stroke="#222" stroke-width="0.4"/>
<line x1="73.88" y1="168.30" x2="73.88" y2="169.10" stroke="#222" stroke-width="0.4"/>
<line x1="75.00" y1="168.30" x2="75.00" y2="169.10" stroke="#222" stroke-width="0.4"/>
<line x1="82.59" y1="168.30" x2="82.59" y2="169.10" stroke="#222" stroke-width="0.4"/>
<line x1="86.45" y1="168.30" x2="86.45" y2="169.10" stroke="#222" stroke-width="0.4"/>
<line x1="89.19" y1="168.30" x2="89.19" y2="169.10" stroke="#222" stroke-width="0.4"/>
<line x1="91.31" y1="168.30" x2="91.31" y2="169.10" stroke="#222" stroke-width="0.4"/>
<line x1="93.04" y1="168.30" x2="93.04" y2="169.10" stroke="#222" stroke-width="0.4"/>
<line x1="94.51" y1="168.30" x2="94.51" y2="169.10" stroke="#222" stroke-width="0.4"/>
<line x1="95.78" y1="168.30" x2="95.78" y2="169.10" stroke="#222" stroke-width="0.4"/>
<line x1="96.90" y1="168.30" x2="96.90" y2="169.10" stroke="#222" stroke-width="0.4"/>
<line x1="104.49" y1="168.30" x2="104.49" y2="169.10" stroke="#222" stroke-width="0.4"/>
<line x1="108.35" y1="168.30" x2="108.35" y2="169.10" stroke="#222" stroke-width="0.4"/>
<line x1="111.09" y1="168.30" x2="111.09" y2="169.10" stroke="#222" stroke-width="0.4"/>
<line x1="113.21" y1="168.30" x2="113.21" y2="169.10" stroke="#222" stroke-width="0.4"/>
<line x1="114.94" y1="168.30" x2="114.94" y2="169.10" stroke="#222" stroke-width="0.4"/>
<line x1="116.41" y1="168.30" x2="116.41" y2="169.10" stroke="#222" stroke-width="0.4"/>
<line x1="117.68" y1="168.30" x2="117.68" y2="169.10" stroke="#222" stroke-width="0.4"/>
<line x1="118.80" y1="168.30" x2="118.80" y2="169.10" stroke="#222" stroke-width="0.4"/>
<text x="54.10" y="175.70" font-size="4.90" text-anchor="middle" stroke="#000" stroke-width="0.140">0.01</text>
<text x="76.00" y="175.70" font-size="4.90" text-anchor="middle" stroke="#000" stroke-width="0.140">0.1</text>
<text x="97.90" y="175.70" font-size="4.90" text-anchor="middle" stroke="#000" stroke-width="0.140">1</text>
<text x="119.80" y="175.70" font-size="4.90" text-anchor="middle" stroke="#000" stroke-width="0.140">10</text>
<text x="81.00" y="182.20" font-size="5.20" text-anchor="middle" stroke="#000" stroke-width="0.140">PC14586 (&#956;mol/L)</text>
<text y="102.80" font-size="6.3" stroke="#000" stroke-width="0.15"><tspan x="50.8" font-style="italic" textLength="19.6" lengthAdjust="spacingAndGlyphs">MDM2</tspan><tspan x="72.7" textLength="45.8" lengthAdjust="spacingAndGlyphs">mRNA (5 hours)</tspan></text>
<text x="36.60" y="137.10" font-size="5.05" text-anchor="middle" stroke="#000" stroke-width="0.140" transform="rotate(-90 36.60 137.10)">MDM2/GAPDH to control (A.U.)</text>
<path d="M48.20,168.29 L48.20,168.29 L48.20,168.29 L48.20,168.29 L48.72,168.29 L49.28,168.29 L49.83,168.29 L50.38,168.29 L50.94,168.29 L51.49,168.29 L52.05,168.29 L52.60,168.29 L53.16,168.29 L53.71,168.28 L54.26,168.28 L54.82,168.28 L55.37,168.28 L55.93,168.28 L56.48,168.28 L57.04,168.28 L57.59,168.28 L58.14,168.27 L58.70,168.27 L59.25,168.27 L59.81,168.27 L60.36,168.27 L60.91,168.27 L61.47,168.26 L62.02,168.26 L62.58,168.26 L63.13,168.26 L63.69,168.25 L64.24,168.25 L64.79,168.25 L65.35,168.25 L65.90,168.24 L66.46,168.24 L67.01,168.24 L67.56,168.23 L68.12,168.23 L68.67,168.22 L69.23,168.22 L69.78,168.21 L70.34,168.21 L70.89,168.20 L71.44,168.20 L72.00,168.19 L72.55,168.19 L73.11,168.18 L73.66,168.17 L74.22,168.17 L74.77,168.16 L75.32,168.15 L75.88,168.14 L76.43,168.13 L76.99,168.12 L77.54,168.11 L78.09,168.10 L78.65,168.09 L79.20,168.08 L79.76,168.06 L80.31,168.05 L80.87,168.03 L81.42,168.02 L81.97,168.00 L82.53,167.99 L83.08,167.97 L83.64,167.95 L84.19,167.93 L84.75,167.91 L85.30,167.89 L85.85,167.86 L86.41,167.84 L86.96,167.81 L87.52,167.79 L88.07,167.76 L88.62,167.73 L89.18,167.70 L89.73,167.67 L90.29,167.63 L90.84,167.60 L91.40,167.56 L91.95,167.52 L92.50,167.48 L93.06,167.43 L93.61,167.39 L94.17,167.34 L94.72,167.29 L95.27,167.24 L95.83,167.19 L96.38,167.14 L96.94,167.08 L97.49,167.02 L98.05,166.96 L98.60,166.90 L99.15,166.83 L99.71,166.76 L100.26,166.69 L100.82,166.62 L101.37,166.55 L101.93,166.47 L102.48,166.39 L103.03,166.31 L103.59,166.23 L104.14,166.15 L104.70,166.06 L105.25,165.97 L105.80,165.88 L106.36,165.79 L106.91,165.70 L107.47,165.61 L108.02,165.52 L108.58,165.42 L109.13,165.33 L109.68,165.23 L110.24,165.13 L110.79,165.04 L111.35,164.94 L111.90,164.85 L112.45,164.75 L113.01,164.65 L113.56,164.56 L114.12,164.46 L114.67,164.37 L115.23,164.28 L115.78,164.19 L116.33,164.10 L116.89,164.01 L117.44,163.92 L118.00,163.83 L118.55,163.75 L119.11,163.67 L119.66,163.59 L119.80,163.57" stroke="#c46a1a" stroke-width="0.65" fill="none"/>
<circle cx="53.91" cy="168.28" r="0.70" fill="#c46a1a"/>
<circle cx="60.45" cy="168.27" r="0.70" fill="#c46a1a"/>
<circle cx="67.04" cy="168.24" r="0.70" fill="#c46a1a"/>
<circle cx="73.64" cy="168.17" r="0.70" fill="#c46a1a"/>
<circle cx="80.23" cy="168.05" r="0.70" fill="#c46a1a"/>
<circle cx="86.84" cy="167.82" r="0.70" fill="#c46a1a"/>
<circle cx="93.43" cy="167.40" r="0.70" fill="#c46a1a"/>
<circle cx="100.02" cy="166.72" r="0.70" fill="#c46a1a"/>
<circle cx="106.61" cy="165.75" r="0.70" fill="#c46a1a"/>
<circle cx="113.21" cy="164.62" r="0.70" fill="#c46a1a"/>
<circle cx="119.80" cy="163.57" r="0.70" fill="#c46a1a"/>
<path d="M48.20,168.29 L48.20,168.29 L48.20,168.29 L48.20,168.29 L48.72,168.29 L49.28,168.29 L49.83,168.29 L50.38,168.29 L50.94,168.29 L51.49,168.29 L52.05,168.29 L52.60,168.28 L53.16,168.28 L53.71,168.28 L54.26,168.28 L54.82,168.28 L55.37,168.28 L55.93,168.28 L56.48,168.28 L57.04,168.28 L57.59,168.27 L58.14,168.27 L58.70,168.27 L59.25,168.27 L59.81,168.27 L60.36,168.27 L60.91,168.26 L61.47,168.26 L62.02,168.26 L62.58,168.26 L63.13,168.25 L63.69,168.25 L64.24,168.25 L64.79,168.25 L65.35,168.24 L65.90,168.24 L66.46,168.24 L67.01,168.23 L67.56,168.23 L68.12,168.22 L68.67,168.22 L69.23,168.21 L69.78,168.21 L70.34,168.20 L70.89,168.20 L71.44,168.19 L72.00,168.19 L72.55,168.18 L73.11,168.17 L73.66,168.16 L74.22,168.16 L74.77,168.15 L75.32,168.14 L75.88,168.13 L76.43,168.12 L76.99,168.11 L77.54,168.10 L78.09,168.09 L78.65,168.07 L79.20,168.06 L79.76,168.05 L80.31,168.03 L80.87,168.02 L81.42,168.00 L81.97,167.99 L82.53,167.97 L83.08,167.95 L83.64,167.93 L84.19,167.91 L84.75,167.89 L85.30,167.86 L85.85,167.84 L86.41,167.82 L86.96,167.79 L87.52,167.76 L88.07,167.73 L88.62,167.70 L89.18,167.67 L89.73,167.64 L90.29,167.60 L90.84,167.57 L91.40,167.53 L91.95,167.49 L92.50,167.45 L93.06,167.41 L93.61,167.36 L94.17,167.32 L94.72,167.27 L95.27,167.22 L95.83,167.17 L96.38,167.12 L96.94,167.06 L97.49,167.00 L98.05,166.95 L98.60,166.89 L99.15,166.83 L99.71,166.76 L100.26,166.70 L100.82,166.63 L101.37,166.56 L101.93,166.50 L102.48,166.42 L103.03,166.35 L103.59,166.28 L104.14,166.21 L104.70,166.13 L105.25,166.06 L105.80,165.98 L106.36,165.90 L106.91,165.83 L107.47,165.75 L108.02,165.67 L108.58,165.59 L109.13,165.51 L109.68,165.44 L110.24,165.36 L110.79,165.28 L111.35,165.21 L111.90,165.13 L112.45,165.06 L113.01,164.98 L113.56,164.91 L114.12,164.84 L114.67,164.77 L115.23,164.70 L115.78,164.63 L116.33,164.56 L116.89,164.50 L117.44,164.43 L118.00,164.37 L118.55,164.31 L119.11,164.25 L119.66,164.20 L119.80,164.18" stroke="#f59a3a" stroke-width="0.65" fill="none"/>
<circle cx="53.91" cy="168.28" r="0.70" fill="#f59a3a"/>
<circle cx="60.45" cy="168.27" r="0.70" fill="#f59a3a"/>
<circle cx="67.04" cy="168.23" r="0.70" fill="#f59a3a"/>
<circle cx="73.64" cy="168.16" r="0.70" fill="#f59a3a"/>
<circle cx="80.23" cy="168.04" r="0.70" fill="#f59a3a"/>
<circle cx="86.84" cy="167.80" r="0.70" fill="#f59a3a"/>
<circle cx="93.43" cy="167.38" r="0.70" fill="#f59a3a"/>
<circle cx="100.02" cy="166.73" r="0.70" fill="#f59a3a"/>
<circle cx="106.61" cy="165.87" r="0.70" fill="#f59a3a"/>
<circle cx="113.21" cy="164.96" r="0.70" fill="#f59a3a"/>
<circle cx="119.80" cy="164.18" r="0.70" fill="#f59a3a"/>
<path d="M48.20,168.29 L48.20,168.29 L48.20,168.29 L48.20,168.29 L48.72,168.29 L49.28,168.29 L49.83,168.29 L50.38,168.29 L50.94,168.29 L51.49,168.29 L52.05,168.29 L52.60,168.29 L53.16,168.29 L53.71,168.29 L54.26,168.29 L54.82,168.29 L55.37,168.28 L55.93,168.28 L56.48,168.28 L57.04,168.28 L57.59,168.28 L58.14,168.28 L58.70,168.28 L59.25,168.28 L59.81,168.28 L60.36,168.27 L60.91,168.27 L61.47,168.27 L62.02,168.27 L62.58,168.27 L63.13,168.27 L63.69,168.26 L64.24,168.26 L64.79,168.26 L65.35,168.26 L65.90,168.25 L66.46,168.25 L67.01,168.25 L67.56,168.25 L68.12,168.24 L68.67,168.24 L69.23,168.24 L69.78,168.23 L70.34,168.23 L70.89,168.22 L71.44,168.22 L72.00,168.21 L72.55,168.21 L73.11,168.20 L73.66,168.20 L74.22,168.19 L74.77,168.19 L75.32,168.18 L75.88,168.17 L76.43,168.17 L76.99,168.16 L77.54,168.15 L78.09,168.14 L78.65,168.13 L79.20,168.12 L79.76,168.11 L80.31,168.10 L80.87,168.09 L81.42,168.08 L81.97,168.07 L82.53,168.05 L83.08,168.04 L83.64,168.02 L84.19,168.01 L84.75,167.99 L85.30,167.98 L85.85,167.96 L86.41,167.94 L86.96,167.92 L87.52,167.90 L88.07,167.88 L88.62,167.86 L89.18,167.83 L89.73,167.81 L90.29,167.78 L90.84,167.76 L91.40,167.73 L91.95,167.70 L92.50,167.67 L93.06,167.64 L93.61,167.60 L94.17,167.57 L94.72,167.53 L95.27,167.50 L95.83,167.46 L96.38,167.42 L96.94,167.38 L97.49,167.34 L98.05,167.29 L98.60,167.25 L99.15,167.20 L99.71,167.16 L100.26,167.11 L100.82,167.06 L101.37,167.01 L101.93,166.96 L102.48,166.91 L103.03,166.85 L103.59,166.80 L104.14,166.74 L104.70,166.69 L105.25,166.63 L105.80,166.58 L106.36,166.52 L106.91,166.46 L107.47,166.40 L108.02,166.34 L108.58,166.29 L109.13,166.23 L109.68,166.17 L110.24,166.11 L110.79,166.06 L111.35,166.00 L111.90,165.94 L112.45,165.89 L113.01,165.83 L113.56,165.78 L114.12,165.72 L114.67,165.67 L115.23,165.62 L115.78,165.57 L116.33,165.52 L116.89,165.47 L117.44,165.43 L118.00,165.38 L118.55,165.34 L119.11,165.29 L119.66,165.25 L119.80,165.24" stroke="#7cff33" stroke-width="0.65" fill="none"/>
<circle cx="53.91" cy="168.29" r="0.70" fill="#7cff33"/>
<circle cx="60.45" cy="168.27" r="0.70" fill="#7cff33"/>
<circle cx="67.04" cy="168.25" r="0.70" fill="#7cff33"/>
<circle cx="73.64" cy="168.20" r="0.70" fill="#7cff33"/>
<circle cx="80.23" cy="168.10" r="0.70" fill="#7cff33"/>
<circle cx="86.84" cy="167.92" r="0.70" fill="#7cff33"/>
<circle cx="93.43" cy="167.61" r="0.70" fill="#7cff33"/>
<circle cx="100.02" cy="167.13" r="0.70" fill="#7cff33"/>
<circle cx="106.61" cy="166.49" r="0.70" fill="#7cff33"/>
<circle cx="113.21" cy="165.81" r="0.70" fill="#7cff33"/>
<circle cx="119.80" cy="165.24" r="0.70" fill="#7cff33"/>
<path d="M48.20,168.30 L48.20,168.29 L48.20,168.29 L48.20,168.29 L48.72,168.29 L49.28,168.29 L49.83,168.29 L50.38,168.29 L50.94,168.29 L51.49,168.29 L52.05,168.29 L52.60,168.29 L53.16,168.29 L53.71,168.29 L54.26,168.29 L54.82,168.29 L55.37,168.29 L55.93,168.29 L56.48,168.29 L57.04,168.29 L57.59,168.28 L58.14,168.28 L58.70,168.28 L59.25,168.28 L59.81,168.28 L60.36,168.28 L60.91,168.28 L61.47,168.28 L62.02,168.28 L62.58,168.27 L63.13,168.27 L63.69,168.27 L64.24,168.27 L64.79,168.27 L65.35,168.27 L65.90,168.26 L66.46,168.26 L67.01,168.26 L67.56,168.26 L68.12,168.25 L68.67,168.25 L69.23,168.25 L69.78,168.24 L70.34,168.24 L70.89,168.24 L71.44,168.23 L72.00,168.23 L72.55,168.23 L73.11,168.22 L73.66,168.22 L74.22,168.21 L74.77,168.21 L75.32,168.20 L75.88,168.20 L76.43,168.19 L76.99,168.18 L77.54,168.18 L78.09,168.17 L78.65,168.16 L79.20,168.16 L79.76,168.15 L80.31,168.14 L80.87,168.13 L81.42,168.12 L81.97,168.11 L82.53,168.10 L83.08,168.09 L83.64,168.07 L84.19,168.06 L84.75,168.05 L85.30,168.04 L85.85,168.02 L86.41,168.01 L86.96,167.99 L87.52,167.97 L88.07,167.96 L88.62,167.94 L89.18,167.92 L89.73,167.90 L90.29,167.88 L90.84,167.85 L91.40,167.83 L91.95,167.81 L92.50,167.78 L93.06,167.76 L93.61,167.73 L94.17,167.70 L94.72,167.67 L95.27,167.64 L95.83,167.61 L96.38,167.58 L96.94,167.55 L97.49,167.51 L98.05,167.48 L98.60,167.44 L99.15,167.40 L99.71,167.37 L100.26,167.33 L100.82,167.29 L101.37,167.25 L101.93,167.20 L102.48,167.16 L103.03,167.12 L103.59,167.07 L104.14,167.03 L104.70,166.98 L105.25,166.94 L105.80,166.89 L106.36,166.84 L106.91,166.80 L107.47,166.75 L108.02,166.70 L108.58,166.66 L109.13,166.61 L109.68,166.56 L110.24,166.51 L110.79,166.47 L111.35,166.42 L111.90,166.37 L112.45,166.33 L113.01,166.28 L113.56,166.24 L114.12,166.20 L114.67,166.15 L115.23,166.11 L115.78,166.07 L116.33,166.03 L116.89,165.99 L117.44,165.95 L118.00,165.91 L118.55,165.88 L119.11,165.84 L119.66,165.81 L119.80,165.80" stroke="#8fdc6a" stroke-width="0.65" fill="none"/>
<circle cx="53.91" cy="168.29" r="0.70" fill="#8fdc6a"/>
<circle cx="60.45" cy="168.28" r="0.70" fill="#8fdc6a"/>
<circle cx="67.04" cy="168.26" r="0.70" fill="#8fdc6a"/>
<circle cx="73.64" cy="168.22" r="0.70" fill="#8fdc6a"/>
<circle cx="80.23" cy="168.14" r="0.70" fill="#8fdc6a"/>
<circle cx="86.84" cy="167.99" r="0.70" fill="#8fdc6a"/>
<circle cx="93.43" cy="167.74" r="0.70" fill="#8fdc6a"/>
<circle cx="100.02" cy="167.34" r="0.70" fill="#8fdc6a"/>
<circle cx="106.61" cy="166.82" r="0.70" fill="#8fdc6a"/>
<circle cx="113.21" cy="166.27" r="0.70" fill="#8fdc6a"/>
<circle cx="119.80" cy="165.80" r="0.70" fill="#8fdc6a"/>
<path d="M48.20,168.30 L48.20,168.30 L48.20,168.30 L48.20,168.30 L48.72,168.30 L49.28,168.30 L49.83,168.29 L50.38,168.29 L50.94,168.29 L51.49,168.29 L52.05,168.29 L52.60,168.29 L53.16,168.29 L53.71,168.29 L54.26,168.29 L54.82,168.29 L55.37,168.29 L55.93,168.29 L56.48,168.29 L57.04,168.29 L57.59,168.29 L58.14,168.29 L58.70,168.29 L59.25,168.29 L59.81,168.28 L60.36,168.28 L60.91,168.28 L61.47,168.28 L62.02,168.28 L62.58,168.28 L63.13,168.28 L63.69,168.28 L64.24,168.28 L64.79,168.27 L65.35,168.27 L65.90,168.27 L66.46,168.27 L67.01,168.27 L67.56,168.27 L68.12,168.26 L68.67,168.26 L69.23,168.26 L69.78,168.26 L70.34,168.26 L70.89,168.25 L71.44,168.25 L72.00,168.25 L72.55,168.24 L73.11,168.24 L73.66,168.24 L74.22,168.23 L74.77,168.23 L75.32,168.22 L75.88,168.22 L76.43,168.22 L76.99,168.21 L77.54,168.21 L78.09,168.20 L78.65,168.19 L79.20,168.19 L79.76,168.18 L80.31,168.18 L80.87,168.17 L81.42,168.16 L81.97,168.15 L82.53,168.15 L83.08,168.14 L83.64,168.13 L84.19,168.12 L84.75,168.11 L85.30,168.10 L85.85,168.09 L86.41,168.07 L86.96,168.06 L87.52,168.05 L88.07,168.04 L88.62,168.02 L89.18,168.01 L89.73,167.99 L90.29,167.98 L90.84,167.96 L91.40,167.94 L91.95,167.92 L92.50,167.90 L93.06,167.88 L93.61,167.86 L94.17,167.84 L94.72,167.82 L95.27,167.80 L95.83,167.77 L96.38,167.75 L96.94,167.72 L97.49,167.70 L98.05,167.67 L98.60,167.64 L99.15,167.61 L99.71,167.58 L100.26,167.55 L100.82,167.52 L101.37,167.49 L101.93,167.46 L102.48,167.43 L103.03,167.39 L103.59,167.36 L104.14,167.33 L104.70,167.29 L105.25,167.26 L105.80,167.22 L106.36,167.18 L106.91,167.15 L107.47,167.11 L108.02,167.08 L108.58,167.04 L109.13,167.00 L109.68,166.97 L110.24,166.93 L110.79,166.89 L111.35,166.86 L111.90,166.82 L112.45,166.79 L113.01,166.75 L113.56,166.72 L114.12,166.69 L114.67,166.65 L115.23,166.62 L115.78,166.59 L116.33,166.56 L116.89,166.53 L117.44,166.50 L118.00,166.47 L118.55,166.44 L119.11,166.42 L119.66,166.39 L119.80,166.38" stroke="#3d7a3d" stroke-width="0.65" fill="none"/>
<circle cx="53.91" cy="168.29" r="0.70" fill="#3d7a3d"/>
<circle cx="60.45" cy="168.28" r="0.70" fill="#3d7a3d"/>
<circle cx="67.04" cy="168.27" r="0.70" fill="#3d7a3d"/>
<circle cx="73.64" cy="168.24" r="0.70" fill="#3d7a3d"/>
<circle cx="80.23" cy="168.18" r="0.70" fill="#3d7a3d"/>
<circle cx="86.84" cy="168.06" r="0.70" fill="#3d7a3d"/>
<circle cx="93.43" cy="167.87" r="0.70" fill="#3d7a3d"/>
<circle cx="100.02" cy="167.57" r="0.70" fill="#3d7a3d"/>
<circle cx="106.61" cy="167.17" r="0.70" fill="#3d7a3d"/>
<circle cx="113.21" cy="166.74" r="0.70" fill="#3d7a3d"/>
<circle cx="119.80" cy="166.38" r="0.70" fill="#3d7a3d"/>
<path d="M48.20,168.30 L48.20,168.30 L48.20,168.30 L48.20,168.30 L48.72,168.30 L49.28,168.30 L49.83,168.30 L50.38,168.30 L50.94,168.30 L51.49,168.30 L52.05,168.30 L52.60,168.30 L53.16,168.29 L53.71,168.29 L54.26,168.29 L54.82,168.29 L55.37,168.29 L55.93,168.29 L56.48,168.29 L57.04,168.29 L57.59,168.29 L58.14,168.29 L58.70,168.29 L59.25,168.29 L59.81,168.29 L60.36,168.29 L60.91,168.29 L61.47,168.29 L62.02,168.29 L62.58,168.29 L63.13,168.29 L63.69,168.28 L64.24,168.28 L64.79,168.28 L65.35,168.28 L65.90,168.28 L66.46,168.28 L67.01,168.28 L67.56,168.28 L68.12,168.28 L68.67,168.27 L69.23,168.27 L69.78,168.27 L70.34,168.27 L70.89,168.27 L71.44,168.27 L72.00,168.26 L72.55,168.26 L73.11,168.26 L73.66,168.26 L74.22,168.25 L74.77,168.25 L75.32,168.25 L75.88,168.25 L76.43,168.24 L76.99,168.24 L77.54,168.24 L78.09,168.23 L78.65,168.23 L79.20,168.22 L79.76,168.22 L80.31,168.22 L80.87,168.21 L81.42,168.21 L81.97,168.20 L82.53,168.19 L83.08,168.19 L83.64,168.18 L84.19,168.18 L84.75,168.17 L85.30,168.16 L85.85,168.15 L86.41,168.15 L86.96,168.14 L87.52,168.13 L88.07,168.12 L88.62,168.11 L89.18,168.10 L89.73,168.09 L90.29,168.08 L90.84,168.07 L91.40,168.06 L91.95,168.04 L92.50,168.03 L93.06,168.02 L93.61,168.00 L94.17,167.99 L94.72,167.97 L95.27,167.96 L95.83,167.94 L96.38,167.92 L96.94,167.91 L97.49,167.89 L98.05,167.87 L98.60,167.85 L99.15,167.83 L99.71,167.81 L100.26,167.79 L100.82,167.77 L101.37,167.75 L101.93,167.73 L102.48,167.70 L103.03,167.68 L103.59,167.66 L104.14,167.64 L104.70,167.61 L105.25,167.59 L105.80,167.56 L106.36,167.54 L106.91,167.51 L107.47,167.49 L108.02,167.46 L108.58,167.44 L109.13,167.42 L109.68,167.39 L110.24,167.37 L110.79,167.34 L111.35,167.32 L111.90,167.29 L112.45,167.27 L113.01,167.25 L113.56,167.22 L114.12,167.20 L114.67,167.18 L115.23,167.16 L115.78,167.13 L116.33,167.11 L116.89,167.09 L117.44,167.07 L118.00,167.05 L118.55,167.03 L119.11,167.02 L119.66,167.00 L119.80,166.99" stroke="#b54be0" stroke-width="0.65" fill="none"/>
<circle cx="53.91" cy="168.29" r="0.70" fill="#b54be0"/>
<circle cx="60.45" cy="168.29" r="0.70" fill="#b54be0"/>
<circle cx="67.04" cy="168.28" r="0.70" fill="#b54be0"/>
<circle cx="73.64" cy="168.26" r="0.70" fill="#b54be0"/>
<circle cx="80.23" cy="168.22" r="0.70" fill="#b54be0"/>
<circle cx="86.84" cy="168.14" r="0.70" fill="#b54be0"/>
<circle cx="93.43" cy="168.01" r="0.70" fill="#b54be0"/>
<circle cx="100.02" cy="167.80" r="0.70" fill="#b54be0"/>
<circle cx="106.61" cy="167.53" r="0.70" fill="#b54be0"/>
<circle cx="113.21" cy="167.24" r="0.70" fill="#b54be0"/>
<circle cx="119.80" cy="166.99" r="0.70" fill="#b54be0"/>
<path d="M48.20,168.29 L48.20,168.29 L48.20,168.29 L48.20,168.29 L48.72,168.29 L49.28,168.29 L49.83,168.29 L50.38,168.29 L50.94,168.29 L51.49,168.29 L52.05,168.29 L52.60,168.29 L53.16,168.29 L53.71,168.28 L54.26,168.28 L54.82,168.28 L55.37,168.28 L55.93,168.28 L56.48,168.28 L57.04,168.28 L57.59,168.28 L58.14,168.28 L58.70,168.27 L59.25,168.27 L59.81,168.27 L60.36,168.27 L60.91,168.27 L61.47,168.27 L62.02,168.26 L62.58,168.26 L63.13,168.26 L63.69,168.26 L64.24,168.25 L64.79,168.25 L65.35,168.25 L65.90,168.24 L66.46,168.24 L67.01,168.24 L67.56,168.23 L68.12,168.23 L68.67,168.23 L69.23,168.22 L69.78,168.22 L70.34,168.21 L70.89,168.21 L71.44,168.20 L72.00,168.20 L72.55,168.19 L73.11,168.18 L73.66,168.18 L74.22,168.17 L74.77,168.16 L75.32,168.16 L75.88,168.15 L76.43,168.14 L76.99,168.13 L77.54,168.12 L78.09,168.11 L78.65,168.10 L79.20,168.09 L79.76,168.08 L80.31,168.06 L80.87,168.05 L81.42,168.04 L81.97,168.02 L82.53,168.01 L83.08,167.99 L83.64,167.97 L84.19,167.96 L84.75,167.94 L85.30,167.92 L85.85,167.90 L86.41,167.88 L86.96,167.86 L87.52,167.83 L88.07,167.81 L88.62,167.78 L89.18,167.76 L89.73,167.73 L90.29,167.70 L90.84,167.67 L91.40,167.64 L91.95,167.61 L92.50,167.58 L93.06,167.55 L93.61,167.51 L94.17,167.48 L94.72,167.44 L95.27,167.41 L95.83,167.37 L96.38,167.33 L96.94,167.29 L97.49,167.25 L98.05,167.21 L98.60,167.16 L99.15,167.12 L99.71,167.07 L100.26,167.03 L100.82,166.98 L101.37,166.94 L101.93,166.89 L102.48,166.85 L103.03,166.80 L103.59,166.75 L104.14,166.70 L104.70,166.66 L105.25,166.61 L105.80,166.56 L106.36,166.52 L106.91,166.47 L107.47,166.42 L108.02,166.38 L108.58,166.33 L109.13,166.29 L109.68,166.24 L110.24,166.20 L110.79,166.15 L111.35,166.11 L111.90,166.07 L112.45,166.03 L113.01,165.99 L113.56,165.95 L114.12,165.92 L114.67,165.88 L115.23,165.84 L115.78,165.81 L116.33,165.78 L116.89,165.74 L117.44,165.71 L118.00,165.68 L118.55,165.65 L119.11,165.62 L119.66,165.60 L119.80,165.59" stroke="#333333" stroke-width="0.65" fill="none"/>
<circle cx="53.91" cy="168.28" r="0.70" fill="#333333"/>
<circle cx="60.45" cy="168.27" r="0.70" fill="#333333"/>
<circle cx="67.04" cy="168.24" r="0.70" fill="#333333"/>
<circle cx="73.64" cy="168.18" r="0.70" fill="#333333"/>
<circle cx="80.23" cy="168.06" r="0.70" fill="#333333"/>
<circle cx="86.84" cy="167.86" r="0.70" fill="#333333"/>
<circle cx="93.43" cy="167.53" r="0.70" fill="#333333"/>
<circle cx="100.02" cy="167.05" r="0.70" fill="#333333"/>
<circle cx="106.61" cy="166.49" r="0.70" fill="#333333"/>
<circle cx="113.21" cy="165.98" r="0.70" fill="#333333"/>
<circle cx="119.80" cy="165.59" r="0.70" fill="#333333"/>
<path d="M48.20,168.30 L48.20,168.30 L48.20,168.30 L48.20,168.30 L48.72,168.30 L49.28,168.30 L49.83,168.30 L50.38,168.30 L50.94,168.30 L51.49,168.30 L52.05,168.30 L52.60,168.30 L53.16,168.30 L53.71,168.30 L54.26,168.30 L54.82,168.30 L55.37,168.30 L55.93,168.30 L56.48,168.30 L57.04,168.30 L57.59,168.30 L58.14,168.30 L58.70,168.30 L59.25,168.30 L59.81,168.30 L60.36,168.30 L60.91,168.30 L61.47,168.30 L62.02,168.30 L62.58,168.30 L63.13,168.30 L63.69,168.30 L64.24,168.30 L64.79,168.30 L65.35,168.29 L65.90,168.29 L66.46,168.29 L67.01,168.29 L67.56,168.29 L68.12,168.29 L68.67,168.29 L69.23,168.29 L69.78,168.29 L70.34,168.28 L70.89,168.28 L71.44,168.28 L72.00,168.28 L72.55,168.28 L73.11,168.27 L73.66,168.27 L74.22,168.26 L74.77,168.26 L75.32,168.26 L75.88,168.25 L76.43,168.24 L76.99,168.24 L77.54,168.23 L78.09,168.22 L78.65,168.21 L79.20,168.20 L79.76,168.19 L80.31,168.17 L80.87,168.16 L81.42,168.14 L81.97,168.12 L82.53,168.10 L83.08,168.07 L83.64,168.05 L84.19,168.02 L84.75,167.98 L85.30,167.94 L85.85,167.90 L86.41,167.85 L86.96,167.79 L87.52,167.73 L88.07,167.66 L88.62,167.59 L89.18,167.50 L89.73,167.41 L90.29,167.30 L90.84,167.18 L91.40,167.05 L91.95,166.90 L92.50,166.74 L93.06,166.56 L93.61,166.36 L94.17,166.14 L94.72,165.90 L95.27,165.63 L95.83,165.34 L96.38,165.01 L96.94,164.66 L97.49,164.28 L98.05,163.86 L98.60,163.41 L99.15,162.93 L99.71,162.41 L100.26,161.85 L100.82,161.26 L101.37,160.64 L101.93,159.98 L102.48,159.29 L103.03,158.58 L103.59,157.84 L104.14,157.08 L104.70,156.31 L105.25,155.52 L105.80,154.73 L106.36,153.94 L106.91,153.15 L107.47,152.38 L108.02,151.61 L108.58,150.87 L109.13,150.16 L109.68,149.47 L110.24,148.81 L110.79,148.18 L111.35,147.59 L111.90,147.03 L112.45,146.51 L113.01,146.02 L113.56,145.57 L114.12,145.15 L114.67,144.77 L115.23,144.41 L115.78,144.09 L116.33,143.79 L116.89,143.53 L117.44,143.28 L118.00,143.06 L118.55,142.86 L119.11,142.68 L119.66,142.51 L119.80,142.47" stroke="#ff1f1f" stroke-width="0.65" fill="none"/>
<circle cx="53.91" cy="168.30" r="0.85" fill="#ff1f1f"/>
<circle cx="60.45" cy="168.30" r="0.85" fill="#ff1f1f"/>
<circle cx="67.04" cy="168.29" r="0.85" fill="#ff1f1f"/>
<circle cx="73.64" cy="168.27" r="0.85" fill="#ff1f1f"/>
<circle cx="80.23" cy="168.18" r="0.85" fill="#ff1f1f"/>
<circle cx="86.84" cy="167.81" r="0.85" fill="#ff1f1f"/>
<circle cx="93.43" cy="166.43" r="0.85" fill="#ff1f1f"/>
<circle cx="100.02" cy="162.10" r="0.85" fill="#ff1f1f"/>
<circle cx="106.61" cy="153.57" r="0.85" fill="#ff1f1f"/>
<circle cx="113.21" cy="145.86" r="0.85" fill="#ff1f1f"/>
<circle cx="119.80" cy="142.47" r="0.85" fill="#ff1f1f"/>
<path d="M48.20,168.29 L48.20,168.29 L48.20,168.29 L48.20,168.29 L48.72,168.29 L49.28,168.29 L49.83,168.28 L50.38,168.28 L50.94,168.28 L51.49,168.28 L52.05,168.28 L52.60,168.27 L53.16,168.27 L53.71,168.27 L54.26,168.26 L54.82,168.26 L55.37,168.26 L55.93,168.25 L56.48,168.25 L57.04,168.24 L57.59,168.23 L58.14,168.23 L58.70,168.22 L59.25,168.21 L59.81,168.20 L60.36,168.19 L60.91,168.18 L61.47,168.17 L62.02,168.16 L62.58,168.14 L63.13,168.13 L63.69,168.11 L64.24,168.09 L64.79,168.06 L65.35,168.04 L65.90,168.01 L66.46,167.98 L67.01,167.95 L67.56,167.92 L68.12,167.88 L68.67,167.83 L69.23,167.78 L69.78,167.73 L70.34,167.67 L70.89,167.61 L71.44,167.54 L72.00,167.46 L72.55,167.37 L73.11,167.28 L73.66,167.17 L74.22,167.06 L74.77,166.93 L75.32,166.79 L75.88,166.64 L76.43,166.47 L76.99,166.29 L77.54,166.09 L78.09,165.87 L78.65,165.63 L79.20,165.37 L79.76,165.08 L80.31,164.77 L80.87,164.43 L81.42,164.05 L81.97,163.65 L82.53,163.21 L83.08,162.74 L83.64,162.22 L84.19,161.67 L84.75,161.07 L85.30,160.43 L85.85,159.74 L86.41,159.00 L86.96,158.22 L87.52,157.38 L88.07,156.49 L88.62,155.55 L89.18,154.57 L89.73,153.53 L90.29,152.44 L90.84,151.31 L91.40,150.14 L91.95,148.93 L92.50,147.69 L93.06,146.42 L93.61,145.12 L94.17,143.81 L94.72,142.48 L95.27,141.15 L95.83,139.82 L96.38,138.50 L96.94,137.19 L97.49,135.90 L98.05,134.64 L98.60,133.41 L99.15,132.22 L99.71,131.06 L100.26,129.95 L100.82,128.88 L101.37,127.87 L101.93,126.90 L102.48,125.98 L103.03,125.11 L103.59,124.30 L104.14,123.53 L104.70,122.81 L105.25,122.14 L105.80,121.52 L106.36,120.94 L106.91,120.40 L107.47,119.90 L108.02,119.44 L108.58,119.02 L109.13,118.63 L109.68,118.27 L110.24,117.94 L110.79,117.64 L111.35,117.36 L111.90,117.10 L112.45,116.87 L113.01,116.66 L113.56,116.47 L114.12,116.29 L114.67,116.13 L115.23,115.98 L115.78,115.85 L116.33,115.73 L116.89,115.62 L117.44,115.52 L118.00,115.43 L118.55,115.34 L119.11,115.27 L119.66,115.20 L119.80,115.18" stroke="#2b4cff" stroke-width="0.65" fill="none"/>
<circle cx="53.91" cy="168.27" r="0.85" fill="#2b4cff"/>
<circle cx="60.45" cy="168.19" r="0.85" fill="#2b4cff"/>
<circle cx="67.04" cy="167.95" r="0.85" fill="#2b4cff"/>
<circle cx="73.64" cy="167.18" r="0.85" fill="#2b4cff"/>
<circle cx="80.23" cy="164.82" r="0.85" fill="#2b4cff"/>
<circle cx="86.84" cy="158.40" r="0.85" fill="#2b4cff"/>
<line x1="86.84" y1="156.20" x2="86.84" y2="160.60" stroke="#2b4cff" stroke-width="0.5"/>
<circle cx="93.43" cy="145.55" r="0.85" fill="#2b4cff"/>
<circle cx="100.02" cy="130.43" r="0.85" fill="#2b4cff"/>
<circle cx="106.61" cy="120.68" r="0.85" fill="#2b4cff"/>
<circle cx="113.21" cy="116.59" r="0.85" fill="#2b4cff"/>
<line x1="113.21" y1="114.39" x2="113.21" y2="118.79" stroke="#2b4cff" stroke-width="0.5"/>
<circle cx="119.80" cy="115.18" r="0.85" fill="#2b4cff"/>
<path d="M84,168.1 L120,168.1 L120,164.6 L100,165.6 L84,167.2 Z" fill="#a8e08a" fill-opacity="0.55"/>
<line x1="124.00" y1="109.20" x2="128.60" y2="109.20" stroke="#2b4cff" stroke-width="0.6"/>
<circle cx="126.30" cy="109.20" r="0.60" fill="#2b4cff"/>
<text x="130.70" y="110.55" font-size="3.80" stroke="#000" stroke-width="0.140">NUGC-3 (Y220C)</text>
<line x1="124.00" y1="113.59" x2="128.60" y2="113.59" stroke="#ff1f1f" stroke-width="0.6"/>
<circle cx="126.30" cy="113.59" r="0.60" fill="#ff1f1f"/>
<text x="130.70" y="114.94" font-size="3.80" stroke="#000" stroke-width="0.140">T3M-4 (Y220C)</text>
<line x1="124.00" y1="117.98" x2="128.60" y2="117.98" stroke="#8fdc6a" stroke-width="0.6"/>
<circle cx="126.30" cy="117.98" r="0.60" fill="#8fdc6a"/>
<text x="130.70" y="119.33" font-size="3.80" stroke="#000" stroke-width="0.140">NUGC-3 KO (KO)</text>
<line x1="124.00" y1="122.37" x2="128.60" y2="122.37" stroke="#b54be0" stroke-width="0.6"/>
<circle cx="126.30" cy="122.37" r="0.60" fill="#b54be0"/>
<text x="130.70" y="123.72" font-size="3.80" stroke="#000" stroke-width="0.140">SJSA-1 (WT)</text>
<line x1="124.00" y1="126.76" x2="128.60" y2="126.76" stroke="#f59a3a" stroke-width="0.6"/>
<circle cx="126.30" cy="126.76" r="0.60" fill="#f59a3a"/>
<text x="130.70" y="128.11" font-size="3.80" stroke="#000" stroke-width="0.140">HCT 116 (WT)</text>
<line x1="124.00" y1="131.15" x2="128.60" y2="131.15" stroke="#3d7a3d" stroke-width="0.6"/>
<circle cx="126.30" cy="131.15" r="0.60" fill="#3d7a3d"/>
<text x="130.70" y="132.50" font-size="3.80" stroke="#000" stroke-width="0.140">A-431 (R273H)</text>
<line x1="124.00" y1="135.54" x2="128.60" y2="135.54" stroke="#7cff33" stroke-width="0.6"/>
<circle cx="126.30" cy="135.54" r="0.60" fill="#7cff33"/>
<text x="130.70" y="136.89" font-size="3.80" stroke="#000" stroke-width="0.140">C-33 A (R273C)</text>
<line x1="124.00" y1="139.93" x2="128.60" y2="139.93" stroke="#7fb6ff" stroke-width="0.6"/>
<circle cx="126.30" cy="139.93" r="0.60" fill="#7fb6ff"/>
<text x="130.70" y="141.28" font-size="3.80" stroke="#000" stroke-width="0.140">TOV-112D (R175H)</text>
<line x1="124.00" y1="144.32" x2="128.60" y2="144.32" stroke="#c9c9ff" stroke-width="0.6"/>
<circle cx="126.30" cy="144.32" r="0.60" fill="#c9c9ff"/>
<text x="130.70" y="145.67" font-size="3.80" stroke="#000" stroke-width="0.140">NCI-H2029 (Y220D)</text>
<line x1="124.00" y1="148.71" x2="128.60" y2="148.71" stroke="#333333" stroke-width="0.6"/>
<circle cx="126.30" cy="148.71" r="0.60" fill="#333333"/>
<text x="130.70" y="150.06" font-size="3.80" stroke="#000" stroke-width="0.140">SU.86.86 (G245S)</text>
<line x1="124.00" y1="153.10" x2="128.60" y2="153.10" stroke="#555555" stroke-width="0.6"/>
<circle cx="126.30" cy="153.10" r="0.60" fill="#555555"/>
<text x="130.70" y="154.45" font-size="3.80" stroke="#000" stroke-width="0.140">SF-295 (R248Q)</text>
<line x1="124.00" y1="157.49" x2="128.60" y2="157.49" stroke="#c46a1a" stroke-width="0.6"/>
<circle cx="126.30" cy="157.49" r="0.60" fill="#c46a1a"/>
<text x="130.70" y="158.84" font-size="3.80" stroke="#000" stroke-width="0.140">EFE-184 (R280W)</text>
<line x1="206.80" y1="21.98" x2="206.80" y2="104.78" stroke="#ececec" stroke-width="0.5"/>
<line x1="189.21" y1="96.50" x2="315.48" y2="96.50" stroke="#ececec" stroke-width="0.5"/>
<line x1="227.50" y1="21.98" x2="227.50" y2="104.78" stroke="#ececec" stroke-width="0.5"/>
<line x1="189.21" y1="82.70" x2="315.48" y2="82.70" stroke="#ececec" stroke-width="0.5"/>
<line x1="248.20" y1="21.98" x2="248.20" y2="104.78" stroke="#ececec" stroke-width="0.5"/>
<line x1="189.21" y1="68.90" x2="315.48" y2="68.90" stroke="#ececec" stroke-width="0.5"/>
<line x1="268.90" y1="21.98" x2="268.90" y2="104.78" stroke="#ececec" stroke-width="0.5"/>
<line x1="189.21" y1="55.10" x2="315.48" y2="55.10" stroke="#ececec" stroke-width="0.5"/>
<line x1="310.30" y1="21.98" x2="310.30" y2="104.78" stroke="#ececec" stroke-width="0.5"/>
<line x1="189.21" y1="27.50" x2="315.48" y2="27.50" stroke="#ececec" stroke-width="0.5"/>
<line x1="196.45" y1="21.98" x2="196.45" y2="104.78" stroke="#f5f5f5" stroke-width="0.4"/>
<line x1="189.21" y1="103.40" x2="315.48" y2="103.40" stroke="#f5f5f5" stroke-width="0.4"/>
<line x1="217.15" y1="21.98" x2="217.15" y2="104.78" stroke="#f5f5f5" stroke-width="0.4"/>
<line x1="189.21" y1="89.60" x2="315.48" y2="89.60" stroke="#f5f5f5" stroke-width="0.4"/>
<line x1="237.85" y1="21.98" x2="237.85" y2="104.78" stroke="#f5f5f5" stroke-width="0.4"/>
<line x1="189.21" y1="75.80" x2="315.48" y2="75.80" stroke="#f5f5f5" stroke-width="0.4"/>
<line x1="258.55" y1="21.98" x2="258.55" y2="104.78" stroke="#f5f5f5" stroke-width="0.4"/>
<line x1="189.21" y1="62.00" x2="315.48" y2="62.00" stroke="#f5f5f5" stroke-width="0.4"/>
<line x1="279.25" y1="21.98" x2="279.25" y2="104.78" stroke="#f5f5f5" stroke-width="0.4"/>
<line x1="189.21" y1="48.20" x2="315.48" y2="48.20" stroke="#f5f5f5" stroke-width="0.4"/>
<line x1="299.95" y1="21.98" x2="299.95" y2="104.78" stroke="#f5f5f5" stroke-width="0.4"/>
<line x1="189.21" y1="34.40" x2="315.48" y2="34.40" stroke="#f5f5f5" stroke-width="0.4"/>
<line x1="289.60" y1="21.98" x2="289.60" y2="104.78" stroke="#c4c4c4" stroke-width="0.7"/>
<line x1="189.21" y1="41.30" x2="315.48" y2="41.30" stroke="#c4c4c4" stroke-width="0.7"/>
<text x="206.80" y="113.30" font-size="5.00" text-anchor="middle" fill="#333" stroke="#333" stroke-width="0.140">&#8722;4</text>
<text x="188.20" y="98.30" font-size="5.00" text-anchor="end" fill="#333" stroke="#333" stroke-width="0.140">&#8722;4</text>
<text x="227.50" y="113.30" font-size="5.00" text-anchor="middle" fill="#333" stroke="#333" stroke-width="0.140">&#8722;3</text>
<text x="188.20" y="84.50" font-size="5.00" text-anchor="end" fill="#333" stroke="#333" stroke-width="0.140">&#8722;3</text>
<text x="248.20" y="113.30" font-size="5.00" text-anchor="middle" fill="#333" stroke="#333" stroke-width="0.140">&#8722;2</text>
<text x="188.20" y="70.70" font-size="5.00" text-anchor="end" fill="#333" stroke="#333" stroke-width="0.140">&#8722;2</text>
<text x="268.90" y="113.30" font-size="5.00" text-anchor="middle" fill="#333" stroke="#333" stroke-width="0.140">&#8722;1</text>
<text x="188.20" y="56.90" font-size="5.00" text-anchor="end" fill="#333" stroke="#333" stroke-width="0.140">&#8722;1</text>
<text x="289.60" y="113.30" font-size="5.00" text-anchor="middle" fill="#333" stroke="#333" stroke-width="0.140">0</text>
<text x="188.20" y="43.10" font-size="5.00" text-anchor="end" fill="#333" stroke="#333" stroke-width="0.140">0</text>
<text x="310.30" y="113.30" font-size="5.00" text-anchor="middle" fill="#333" stroke="#333" stroke-width="0.140">1</text>
<text x="188.20" y="29.30" font-size="5.00" text-anchor="end" fill="#333" stroke="#333" stroke-width="0.140">1</text>
<line x1="197.49" y1="98.57" x2="306.16" y2="26.12" stroke="#111" stroke-width="0.5"/>
<line x1="194.38" y1="104.78" x2="312.37" y2="26.12" stroke="#111" stroke-width="0.5"/>
<line x1="204.73" y1="102.02" x2="312.37" y2="30.26" stroke="#111" stroke-width="0.5"/>
<text x="275.32" y="44.20" font-size="5.31" fill="#222" stroke="#222" stroke-width="0.084" transform="rotate(-33.7 275.32 44.20)">2-fold increase</text>
<text x="282.96" y="55.80" font-size="5.16" fill="#222" stroke="#222" stroke-width="0.090" transform="rotate(-33.7 282.96 55.80)">2-fold decrease</text>
<text x="254.50" y="17.10" font-size="6.20" text-anchor="middle" fill="#222" stroke="#222" stroke-width="0.063" textLength="77.00" lengthAdjust="spacingAndGlyphs">Partental NUGC-3 (Y220C)</text>
<text x="253.50" y="120.70" font-size="5.20" text-anchor="middle" font-weight="bold" fill="#111" stroke="#111" stroke-width="0.140">DMSO control</text>
<text x="178.20" y="64.60" font-size="5.00" text-anchor="middle" font-weight="bold" fill="#111" stroke="#111" stroke-width="0.140" transform="rotate(-90 178.20 64.60)">PC14586 (5 &#956;mol/L, 16 hours)</text>
<circle cx="258.47" cy="60.75" r="0.55" fill="#111"/>
<circle cx="245.60" cy="70.87" r="0.55" fill="#111"/>
<circle cx="250.34" cy="67.49" r="0.55" fill="#111"/>
<circle cx="255.20" cy="64.03" r="0.55" fill="#111"/>
<circle cx="254.07" cy="65.49" r="0.55" fill="#111"/>
<circle cx="240.09" cy="76.23" r="0.55" fill="#111"/>
<circle cx="236.56" cy="74.84" r="0.55" fill="#111"/>
<circle cx="256.11" cy="64.33" r="0.55" fill="#111"/>
<circle cx="256.93" cy="62.44" r="0.55" fill="#111"/>
<circle cx="217.03" cy="91.06" r="0.55" fill="#111"/>
<circle cx="247.27" cy="69.90" r="0.55" fill="#111"/>
<circle cx="251.57" cy="66.20" r="0.55" fill="#111"/>
<circle cx="262.87" cy="59.70" r="0.55" fill="#111"/>
<circle cx="261.19" cy="60.85" r="0.55" fill="#111"/>
<circle cx="224.24" cy="83.00" r="0.55" fill="#111"/>
<circle cx="237.75" cy="76.22" r="0.55" fill="#111"/>
<circle cx="229.23" cy="81.00" r="0.55" fill="#111"/>
<circle cx="251.89" cy="66.41" r="0.55" fill="#111"/>
<circle cx="248.18" cy="67.32" r="0.55" fill="#111"/>
<circle cx="261.69" cy="59.51" r="0.55" fill="#111"/>
<circle cx="232.17" cy="80.09" r="0.55" fill="#111"/>
<circle cx="243.18" cy="74.28" r="0.55" fill="#111"/>
<circle cx="250.43" cy="66.84" r="0.55" fill="#111"/>
<circle cx="203.36" cy="99.27" r="0.55" fill="#111"/>
<circle cx="290.03" cy="42.54" r="0.55" fill="#111"/>
<circle cx="244.23" cy="70.47" r="0.55" fill="#111"/>
<circle cx="248.07" cy="68.83" r="0.55" fill="#111"/>
<circle cx="263.89" cy="57.76" r="0.55" fill="#111"/>
<circle cx="252.45" cy="64.97" r="0.55" fill="#111"/>
<circle cx="205.62" cy="98.61" r="0.55" fill="#111"/>
<circle cx="289.73" cy="40.78" r="0.55" fill="#111"/>
<circle cx="228.15" cy="83.16" r="0.55" fill="#111"/>
<circle cx="305.49" cy="30.18" r="0.55" fill="#111"/>
<circle cx="254.69" cy="63.85" r="0.55" fill="#111"/>
<circle cx="242.72" cy="72.41" r="0.55" fill="#111"/>
<circle cx="259.89" cy="61.08" r="0.55" fill="#111"/>
<circle cx="235.95" cy="78.17" r="0.55" fill="#111"/>
<circle cx="255.14" cy="65.50" r="0.55" fill="#111"/>
<circle cx="245.01" cy="69.47" r="0.55" fill="#111"/>
<circle cx="287.29" cy="43.98" r="0.55" fill="#111"/>
<circle cx="249.61" cy="67.65" r="0.55" fill="#111"/>
<circle cx="203.54" cy="97.99" r="0.55" fill="#111"/>
<circle cx="254.38" cy="64.98" r="0.55" fill="#111"/>
<circle cx="254.35" cy="64.50" r="0.55" fill="#111"/>
<circle cx="255.07" cy="62.10" r="0.55" fill="#111"/>
<circle cx="213.36" cy="91.77" r="0.55" fill="#111"/>
<circle cx="248.38" cy="67.92" r="0.55" fill="#111"/>
<circle cx="265.65" cy="60.10" r="0.55" fill="#111"/>
<circle cx="249.29" cy="68.13" r="0.55" fill="#111"/>
<circle cx="249.22" cy="67.50" r="0.55" fill="#111"/>
<circle cx="214.83" cy="88.46" r="0.55" fill="#111"/>
<circle cx="254.91" cy="63.59" r="0.55" fill="#111"/>
<circle cx="259.56" cy="64.34" r="0.55" fill="#111"/>
<circle cx="275.71" cy="51.10" r="0.55" fill="#111"/>
<circle cx="249.41" cy="67.60" r="0.55" fill="#111"/>
<circle cx="257.09" cy="62.80" r="0.55" fill="#111"/>
<circle cx="245.97" cy="69.18" r="0.55" fill="#111"/>
<circle cx="288.22" cy="45.18" r="0.55" fill="#111"/>
<circle cx="280.68" cy="47.05" r="0.55" fill="#111"/>
<circle cx="261.00" cy="60.11" r="0.55" fill="#111"/>
<circle cx="252.65" cy="66.03" r="0.55" fill="#111"/>
<circle cx="247.37" cy="67.76" r="0.55" fill="#111"/>
<circle cx="308.94" cy="27.40" r="0.55" fill="#111"/>
<circle cx="250.41" cy="67.32" r="0.55" fill="#111"/>
<circle cx="257.08" cy="64.66" r="0.55" fill="#111"/>
<circle cx="251.04" cy="68.67" r="0.55" fill="#111"/>
<circle cx="287.49" cy="41.31" r="0.55" fill="#111"/>
<circle cx="285.52" cy="43.20" r="0.55" fill="#111"/>
<circle cx="250.87" cy="66.27" r="0.55" fill="#111"/>
<circle cx="263.86" cy="57.54" r="0.55" fill="#111"/>
<circle cx="233.98" cy="80.56" r="0.55" fill="#111"/>
<circle cx="215.80" cy="88.94" r="0.55" fill="#111"/>
<circle cx="261.48" cy="58.10" r="0.55" fill="#111"/>
<circle cx="213.09" cy="90.87" r="0.55" fill="#111"/>
<circle cx="236.34" cy="79.55" r="0.55" fill="#111"/>
<circle cx="253.17" cy="65.45" r="0.55" fill="#111"/>
<circle cx="270.42" cy="56.63" r="0.55" fill="#111"/>
<circle cx="249.53" cy="66.58" r="0.55" fill="#111"/>
<circle cx="242.56" cy="72.67" r="0.55" fill="#111"/>
<circle cx="258.37" cy="62.85" r="0.55" fill="#111"/>
<circle cx="249.44" cy="66.43" r="0.55" fill="#111"/>
<circle cx="264.00" cy="59.77" r="0.55" fill="#111"/>
<circle cx="244.34" cy="71.09" r="0.55" fill="#111"/>
<circle cx="253.56" cy="66.64" r="0.55" fill="#111"/>
<circle cx="250.59" cy="67.96" r="0.55" fill="#111"/>
<circle cx="254.03" cy="64.80" r="0.55" fill="#111"/>
<circle cx="248.09" cy="69.19" r="0.55" fill="#111"/>
<circle cx="243.21" cy="73.62" r="0.55" fill="#111"/>
<circle cx="208.53" cy="95.51" r="0.55" fill="#111"/>
<circle cx="252.40" cy="65.21" r="0.55" fill="#111"/>
<circle cx="254.25" cy="66.59" r="0.55" fill="#111"/>
<circle cx="246.91" cy="70.46" r="0.55" fill="#111"/>
<circle cx="254.01" cy="66.72" r="0.55" fill="#111"/>
<circle cx="251.49" cy="67.94" r="0.55" fill="#111"/>
<circle cx="276.06" cy="50.59" r="0.55" fill="#111"/>
<circle cx="303.72" cy="31.97" r="0.55" fill="#111"/>
<circle cx="292.08" cy="38.23" r="0.55" fill="#111"/>
<circle cx="257.99" cy="61.55" r="0.55" fill="#111"/>
<circle cx="252.51" cy="65.60" r="0.55" fill="#111"/>
<circle cx="285.70" cy="43.39" r="0.55" fill="#111"/>
<circle cx="271.62" cy="53.67" r="0.55" fill="#111"/>
<circle cx="266.40" cy="58.71" r="0.55" fill="#111"/>
<circle cx="259.32" cy="61.81" r="0.55" fill="#111"/>
<circle cx="266.01" cy="57.16" r="0.55" fill="#111"/>
<circle cx="244.41" cy="70.87" r="0.55" fill="#111"/>
<circle cx="254.46" cy="63.81" r="0.55" fill="#111"/>
<circle cx="198.67" cy="103.04" r="0.55" fill="#111"/>
<circle cx="249.74" cy="68.63" r="0.55" fill="#111"/>
<circle cx="261.17" cy="57.31" r="0.55" fill="#111"/>
<circle cx="307.08" cy="28.39" r="0.55" fill="#111"/>
<text x="227.20" y="40.30" font-size="3.88" fill="#222" stroke="#222" stroke-width="0.060"><tspan font-style="italic">CDKN1A</tspan> (48x)</text>
<text x="233.10" y="46.80" font-size="3.88" fill="#222" stroke="#222" stroke-width="0.060"><tspan font-style="italic">MDM2</tspan> (12x)</text>
<text x="242.30" y="51.70" font-size="3.88" fill="#222" stroke="#222" stroke-width="0.060"><tspan font-style="italic">BAX</tspan> (3.9x)</text>
<text x="224.20" y="56.50" font-size="3.88" fill="#222" stroke="#222" stroke-width="0.060"><tspan font-style="italic">FAS</tspan> (11x)</text>
<text x="193.10" y="60.60" font-size="3.88" fill="#222" stroke="#222" stroke-width="0.060"><tspan font-style="italic">GADD45A</tspan> (3.3x)</text>
<text x="210.80" y="65.60" font-size="3.88" fill="#222" stroke="#222" stroke-width="0.060"><tspan font-style="italic">BBC3</tspan> (6.5x)</text>
<text x="212.30" y="69.90" font-size="3.88" fill="#222" stroke="#222" stroke-width="0.060"><tspan font-style="italic">PIDD1</tspan> (2.2x)</text>
<text x="199.50" y="75.60" font-size="3.88" fill="#222" stroke="#222" stroke-width="0.060"><tspan font-style="italic">BTG2</tspan> (31x)*</text>
<text x="274.20" y="63.30" font-size="3.88" fill="#222" stroke="#222" stroke-width="0.060"><tspan font-style="italic">CCNB1</tspan> (&#8722;5.1x)</text>
<text x="273.10" y="66.90" font-size="3.88" fill="#222" stroke="#222" stroke-width="0.060"><tspan font-style="italic">CDK1</tspan> (&#8722;6.6x)</text>
<text x="260.30" y="69.90" font-size="3.88" fill="#222" stroke="#222" stroke-width="0.060"><tspan font-style="italic">CCNE1</tspan> (&#8722;3.2x)</text>
<text x="263.10" y="74.10" font-size="3.88" fill="#222" stroke="#222" stroke-width="0.060"><tspan font-style="italic">PRC1</tspan> (&#8722;6.6x)</text>
<text x="257.70" y="80.20" font-size="3.88" fill="#222" stroke="#222" stroke-width="0.060"><tspan font-style="italic">E2F1</tspan> (&#8722;15x)</text>
<text x="253.10" y="84.10" font-size="3.88" fill="#222" stroke="#222" stroke-width="0.060"><tspan font-style="italic">BIRC5</tspan> (&#8722;12x)</text>
<text x="246.90" y="90.60" font-size="3.88" fill="#222" stroke="#222" stroke-width="0.060"><tspan font-style="italic">CDC25A</tspan> (&#8722;8.2x)</text>
<text x="228.50" y="95.60" font-size="3.88" fill="#222" stroke="#222" stroke-width="0.060"><tspan font-style="italic">CDC25C</tspan> (&#8722;8.3x)</text>
<circle cx="257.70" cy="39.70" r="0.65" fill="#e02a2a"/>
<circle cx="260.50" cy="45.80" r="0.65" fill="#e02a2a"/>
<circle cx="265.40" cy="49.70" r="0.65" fill="#e02a2a"/>
<circle cx="263.00" cy="54.60" r="0.65" fill="#e02a2a"/>
<circle cx="213.80" cy="71.50" r="0.65" fill="#e02a2a"/>
<circle cx="238.90" cy="61.50" r="0.65" fill="#e02a2a"/>
<circle cx="247.20" cy="62.80" r="0.65" fill="#e02a2a"/>
<circle cx="238.90" cy="67.40" r="0.65" fill="#e02a2a"/>
<circle cx="240.50" cy="70.30" r="0.65" fill="#e02a2a"/>
<circle cx="239.50" cy="64.50" r="0.65" fill="#e02a2a"/>
<circle cx="197.50" cy="97.40" r="0.65" fill="#e02a2a"/>
<circle cx="228.50" cy="86.50" r="0.65" fill="#2aa36a"/>
<circle cx="233.10" cy="83.50" r="0.65" fill="#2aa36a"/>
<circle cx="247.40" cy="80.80" r="0.65" fill="#2aa36a"/>
<circle cx="249.20" cy="74.20" r="0.65" fill="#2aa36a"/>
<circle cx="252.30" cy="73.20" r="0.65" fill="#2aa36a"/>
<circle cx="256.90" cy="71.90" r="0.65" fill="#2aa36a"/>
<circle cx="261.50" cy="65.80" r="0.65" fill="#2aa36a"/>
<circle cx="261.80" cy="71.20" r="0.65" fill="#2aa36a"/>
<circle cx="272.30" cy="60.40" r="0.65" fill="#2aa36a"/>
<circle cx="273.10" cy="64.50" r="0.65" fill="#2aa36a"/>
<circle cx="250.80" cy="79.60" r="0.65" fill="#2aa36a"/>
<circle cx="255.50" cy="69.00" r="0.65" fill="#2aa36a"/>
<circle cx="244.00" cy="78.00" r="0.65" fill="#2aa36a"/>
<line x1="226.90" y1="60.00" x2="243.00" y2="62.90" stroke="#111" stroke-width="0.5"/>
<path d="M243.00,62.90 L241.39,61.70 L241.07,63.47 Z" fill="#111"/>
<circle cx="243.50" cy="63.00" r="1.00" fill="#111"/>
<line x1="243.10" y1="91.20" x2="245.60" y2="84.60" stroke="#111" stroke-width="0.5"/>
<path d="M245.60,84.60 L244.12,85.96 L245.80,86.60 Z" fill="#111"/>
<line x1="250.00" y1="88.10" x2="250.30" y2="82.20" stroke="#111" stroke-width="0.5"/>
<path d="M250.30,82.20 L249.31,83.95 L251.11,84.04 Z" fill="#111"/>
<line x1="256.50" y1="79.80" x2="257.80" y2="77.30" stroke="#111" stroke-width="0.5"/>
<path d="M257.80,77.30 L256.71,78.09 L257.78,78.64 Z" fill="#111"/>
<circle cx="247.97" cy="69.07" r="0.75" fill="#111"/>
<circle cx="259.84" cy="60.95" r="0.75" fill="#111"/>
<circle cx="250.89" cy="66.61" r="0.75" fill="#111"/>
<circle cx="262.17" cy="59.06" r="0.75" fill="#111"/>
<circle cx="260.54" cy="60.69" r="0.75" fill="#111"/>
<circle cx="262.30" cy="59.11" r="0.75" fill="#111"/>
<circle cx="256.17" cy="63.68" r="0.75" fill="#111"/>
<circle cx="247.14" cy="69.89" r="0.75" fill="#111"/>
<circle cx="258.24" cy="62.45" r="0.75" fill="#111"/>
<circle cx="262.64" cy="59.15" r="0.75" fill="#111"/>
<circle cx="257.29" cy="62.75" r="0.75" fill="#111"/>
<circle cx="261.20" cy="60.51" r="0.75" fill="#111"/>
<circle cx="247.30" cy="69.00" r="0.75" fill="#111"/>
<circle cx="252.10" cy="66.88" r="0.75" fill="#111"/>
<circle cx="255.86" cy="63.30" r="0.75" fill="#111"/>
<circle cx="248.40" cy="69.01" r="0.75" fill="#111"/>
<circle cx="255.40" cy="64.08" r="0.75" fill="#111"/>
<circle cx="248.97" cy="68.05" r="0.75" fill="#111"/>
<circle cx="247.02" cy="69.51" r="0.75" fill="#111"/>
<circle cx="251.50" cy="66.13" r="0.75" fill="#111"/>
<circle cx="259.49" cy="61.57" r="0.75" fill="#111"/>
<circle cx="249.26" cy="67.41" r="0.75" fill="#111"/>
<circle cx="252.24" cy="65.69" r="0.75" fill="#111"/>
<circle cx="246.40" cy="70.04" r="0.75" fill="#111"/>
<circle cx="259.03" cy="62.11" r="0.75" fill="#111"/>
<circle cx="254.48" cy="64.85" r="0.75" fill="#111"/>
<circle cx="262.58" cy="58.32" r="0.75" fill="#111"/>
<circle cx="253.73" cy="64.42" r="0.75" fill="#111"/>
<circle cx="254.84" cy="64.12" r="0.75" fill="#111"/>
<circle cx="255.05" cy="64.93" r="0.75" fill="#111"/>
<circle cx="258.23" cy="61.58" r="0.75" fill="#111"/>
<circle cx="260.77" cy="60.59" r="0.75" fill="#111"/>
<line x1="376.60" y1="20.19" x2="376.60" y2="103.68" stroke="#ececec" stroke-width="0.5"/>
<line x1="366.88" y1="96.60" x2="488.92" y2="96.60" stroke="#ececec" stroke-width="0.5"/>
<line x1="398.20" y1="20.19" x2="398.20" y2="103.68" stroke="#ececec" stroke-width="0.5"/>
<line x1="366.88" y1="82.45" x2="488.92" y2="82.45" stroke="#ececec" stroke-width="0.5"/>
<line x1="419.80" y1="20.19" x2="419.80" y2="103.68" stroke="#ececec" stroke-width="0.5"/>
<line x1="366.88" y1="68.30" x2="488.92" y2="68.30" stroke="#ececec" stroke-width="0.5"/>
<line x1="441.40" y1="20.19" x2="441.40" y2="103.68" stroke="#ececec" stroke-width="0.5"/>
<line x1="366.88" y1="54.15" x2="488.92" y2="54.15" stroke="#ececec" stroke-width="0.5"/>
<line x1="484.60" y1="20.19" x2="484.60" y2="103.68" stroke="#ececec" stroke-width="0.5"/>
<line x1="366.88" y1="25.85" x2="488.92" y2="25.85" stroke="#ececec" stroke-width="0.5"/>
<line x1="366.88" y1="103.68" x2="488.92" y2="103.68" stroke="#f5f5f5" stroke-width="0.4"/>
<line x1="387.40" y1="20.19" x2="387.40" y2="103.68" stroke="#f5f5f5" stroke-width="0.4"/>
<line x1="366.88" y1="89.53" x2="488.92" y2="89.53" stroke="#f5f5f5" stroke-width="0.4"/>
<line x1="409.00" y1="20.19" x2="409.00" y2="103.68" stroke="#f5f5f5" stroke-width="0.4"/>
<line x1="366.88" y1="75.38" x2="488.92" y2="75.38" stroke="#f5f5f5" stroke-width="0.4"/>
<line x1="430.60" y1="20.19" x2="430.60" y2="103.68" stroke="#f5f5f5" stroke-width="0.4"/>
<line x1="366.88" y1="61.23" x2="488.92" y2="61.23" stroke="#f5f5f5" stroke-width="0.4"/>
<line x1="452.20" y1="20.19" x2="452.20" y2="103.68" stroke="#f5f5f5" stroke-width="0.4"/>
<line x1="366.88" y1="47.08" x2="488.92" y2="47.08" stroke="#f5f5f5" stroke-width="0.4"/>
<line x1="473.80" y1="20.19" x2="473.80" y2="103.68" stroke="#f5f5f5" stroke-width="0.4"/>
<line x1="366.88" y1="32.92" x2="488.92" y2="32.92" stroke="#f5f5f5" stroke-width="0.4"/>
<line x1="463.00" y1="20.19" x2="463.00" y2="103.68" stroke="#c4c4c4" stroke-width="0.7"/>
<line x1="366.88" y1="40.00" x2="488.92" y2="40.00" stroke="#c4c4c4" stroke-width="0.7"/>
<text x="376.60" y="113.30" font-size="5.00" text-anchor="middle" fill="#333" stroke="#333" stroke-width="0.140">&#8722;4</text>
<text x="357.90" y="98.40" font-size="5.00" text-anchor="end" fill="#333" stroke="#333" stroke-width="0.140">&#8722;4</text>
<text x="398.20" y="113.30" font-size="5.00" text-anchor="middle" fill="#333" stroke="#333" stroke-width="0.140">&#8722;3</text>
<text x="357.90" y="84.25" font-size="5.00" text-anchor="end" fill="#333" stroke="#333" stroke-width="0.140">&#8722;3</text>
<text x="419.80" y="113.30" font-size="5.00" text-anchor="middle" fill="#333" stroke="#333" stroke-width="0.140">&#8722;2</text>
<text x="357.90" y="70.10" font-size="5.00" text-anchor="end" fill="#333" stroke="#333" stroke-width="0.140">&#8722;2</text>
<text x="441.40" y="113.30" font-size="5.00" text-anchor="middle" fill="#333" stroke="#333" stroke-width="0.140">&#8722;1</text>
<text x="357.90" y="55.95" font-size="5.00" text-anchor="end" fill="#333" stroke="#333" stroke-width="0.140">&#8722;1</text>
<text x="463.00" y="113.30" font-size="5.00" text-anchor="middle" fill="#333" stroke="#333" stroke-width="0.140">0</text>
<text x="357.90" y="41.80" font-size="5.00" text-anchor="end" fill="#333" stroke="#333" stroke-width="0.140">0</text>
<text x="484.60" y="113.30" font-size="5.00" text-anchor="middle" fill="#333" stroke="#333" stroke-width="0.140">1</text>
<text x="357.90" y="27.65" font-size="5.00" text-anchor="end" fill="#333" stroke="#333" stroke-width="0.140">1</text>
<line x1="366.88" y1="98.72" x2="477.04" y2="26.56" stroke="#111" stroke-width="0.5"/>
<line x1="365.80" y1="103.68" x2="483.52" y2="26.56" stroke="#111" stroke-width="0.5"/>
<line x1="376.60" y1="100.84" x2="484.60" y2="30.09" stroke="#111" stroke-width="0.5"/>
<text x="448.41" y="43.80" font-size="5.34" fill="#222" stroke="#222" stroke-width="0.083" transform="rotate(-33.2 448.41 43.80)">2-fold increase</text>
<text x="458.37" y="53.80" font-size="5.26" fill="#222" stroke="#222" stroke-width="0.087" transform="rotate(-33.2 458.37 53.80)">2-fold decrease</text>
<text x="423.40" y="17.00" font-size="6.20" text-anchor="middle" fill="#222" stroke="#222" stroke-width="0.063" textLength="96.50" lengthAdjust="spacingAndGlyphs">NUGC-3 KO with inducible WT p53</text>
<text x="425.80" y="120.70" font-size="5.20" text-anchor="middle" font-weight="bold" fill="#111" stroke="#111" stroke-width="0.140">DMSO control</text>
<text x="348.20" y="65.00" font-size="5.15" text-anchor="middle" font-weight="bold" fill="#111" stroke="#111" stroke-width="0.140" transform="rotate(-90 348.20 65.00)">Doxycycline (50 ng/mL), 12.5 hours</text>
<circle cx="439.98" cy="55.94" r="0.55" fill="#111"/>
<circle cx="425.90" cy="64.01" r="0.55" fill="#111"/>
<circle cx="395.61" cy="83.83" r="0.55" fill="#111"/>
<circle cx="434.47" cy="57.59" r="0.55" fill="#111"/>
<circle cx="444.01" cy="52.61" r="0.55" fill="#111"/>
<circle cx="427.48" cy="63.91" r="0.55" fill="#111"/>
<circle cx="423.08" cy="66.39" r="0.55" fill="#111"/>
<circle cx="429.61" cy="58.99" r="0.55" fill="#111"/>
<circle cx="428.32" cy="62.93" r="0.55" fill="#111"/>
<circle cx="429.37" cy="62.02" r="0.55" fill="#111"/>
<circle cx="416.90" cy="70.22" r="0.55" fill="#111"/>
<circle cx="427.88" cy="62.98" r="0.55" fill="#111"/>
<circle cx="420.18" cy="67.86" r="0.55" fill="#111"/>
<circle cx="420.12" cy="67.31" r="0.55" fill="#111"/>
<circle cx="409.57" cy="75.34" r="0.55" fill="#111"/>
<circle cx="449.31" cy="48.15" r="0.55" fill="#111"/>
<circle cx="416.79" cy="69.63" r="0.55" fill="#111"/>
<circle cx="440.83" cy="54.59" r="0.55" fill="#111"/>
<circle cx="430.10" cy="63.60" r="0.55" fill="#111"/>
<circle cx="451.40" cy="47.37" r="0.55" fill="#111"/>
<circle cx="418.13" cy="71.54" r="0.55" fill="#111"/>
<circle cx="462.19" cy="40.59" r="0.55" fill="#111"/>
<circle cx="430.92" cy="62.09" r="0.55" fill="#111"/>
<circle cx="392.62" cy="85.51" r="0.55" fill="#111"/>
<circle cx="422.75" cy="64.67" r="0.55" fill="#111"/>
<circle cx="430.76" cy="62.22" r="0.55" fill="#111"/>
<circle cx="422.87" cy="67.43" r="0.55" fill="#111"/>
<circle cx="425.67" cy="66.25" r="0.55" fill="#111"/>
<circle cx="411.14" cy="74.34" r="0.55" fill="#111"/>
<circle cx="421.48" cy="68.06" r="0.55" fill="#111"/>
<circle cx="420.77" cy="65.85" r="0.55" fill="#111"/>
<circle cx="420.64" cy="70.83" r="0.55" fill="#111"/>
<circle cx="415.57" cy="70.20" r="0.55" fill="#111"/>
<circle cx="455.26" cy="46.28" r="0.55" fill="#111"/>
<circle cx="414.69" cy="71.13" r="0.55" fill="#111"/>
<circle cx="401.31" cy="79.72" r="0.55" fill="#111"/>
<circle cx="424.63" cy="65.11" r="0.55" fill="#111"/>
<circle cx="416.50" cy="72.00" r="0.55" fill="#111"/>
<circle cx="399.73" cy="82.71" r="0.55" fill="#111"/>
<circle cx="421.08" cy="65.70" r="0.55" fill="#111"/>
<circle cx="432.81" cy="57.15" r="0.55" fill="#111"/>
<circle cx="419.53" cy="70.50" r="0.55" fill="#111"/>
<circle cx="418.22" cy="68.80" r="0.55" fill="#111"/>
<circle cx="426.51" cy="61.26" r="0.55" fill="#111"/>
<circle cx="418.32" cy="69.58" r="0.55" fill="#111"/>
<circle cx="425.82" cy="64.54" r="0.55" fill="#111"/>
<circle cx="425.14" cy="63.46" r="0.55" fill="#111"/>
<circle cx="414.27" cy="70.88" r="0.55" fill="#111"/>
<circle cx="416.73" cy="68.99" r="0.55" fill="#111"/>
<circle cx="422.16" cy="66.95" r="0.55" fill="#111"/>
<circle cx="425.90" cy="65.18" r="0.55" fill="#111"/>
<circle cx="435.21" cy="58.20" r="0.55" fill="#111"/>
<circle cx="407.51" cy="74.75" r="0.55" fill="#111"/>
<circle cx="399.61" cy="82.33" r="0.55" fill="#111"/>
<circle cx="400.29" cy="78.50" r="0.55" fill="#111"/>
<circle cx="416.84" cy="69.32" r="0.55" fill="#111"/>
<circle cx="425.30" cy="64.54" r="0.55" fill="#111"/>
<circle cx="399.12" cy="81.06" r="0.55" fill="#111"/>
<circle cx="419.71" cy="69.09" r="0.55" fill="#111"/>
<circle cx="421.62" cy="64.84" r="0.55" fill="#111"/>
<circle cx="439.39" cy="56.11" r="0.55" fill="#111"/>
<circle cx="475.52" cy="33.52" r="0.55" fill="#111"/>
<circle cx="418.29" cy="69.43" r="0.55" fill="#111"/>
<circle cx="440.97" cy="55.66" r="0.55" fill="#111"/>
<circle cx="438.43" cy="55.31" r="0.55" fill="#111"/>
<circle cx="415.13" cy="71.18" r="0.55" fill="#111"/>
<circle cx="420.54" cy="70.91" r="0.55" fill="#111"/>
<circle cx="418.40" cy="70.01" r="0.55" fill="#111"/>
<circle cx="418.36" cy="68.82" r="0.55" fill="#111"/>
<circle cx="426.26" cy="61.69" r="0.55" fill="#111"/>
<circle cx="425.04" cy="62.45" r="0.55" fill="#111"/>
<circle cx="418.28" cy="68.82" r="0.55" fill="#111"/>
<circle cx="425.76" cy="64.67" r="0.55" fill="#111"/>
<circle cx="424.73" cy="65.15" r="0.55" fill="#111"/>
<circle cx="453.24" cy="44.93" r="0.55" fill="#111"/>
<circle cx="414.06" cy="71.35" r="0.55" fill="#111"/>
<circle cx="420.54" cy="67.47" r="0.55" fill="#111"/>
<circle cx="425.80" cy="64.49" r="0.55" fill="#111"/>
<circle cx="411.62" cy="75.30" r="0.55" fill="#111"/>
<circle cx="421.21" cy="66.53" r="0.55" fill="#111"/>
<circle cx="404.28" cy="77.53" r="0.55" fill="#111"/>
<circle cx="467.61" cy="36.69" r="0.55" fill="#111"/>
<circle cx="470.27" cy="35.20" r="0.55" fill="#111"/>
<circle cx="421.84" cy="66.98" r="0.55" fill="#111"/>
<circle cx="434.62" cy="59.53" r="0.55" fill="#111"/>
<circle cx="479.20" cy="29.38" r="0.55" fill="#111"/>
<circle cx="425.59" cy="66.20" r="0.55" fill="#111"/>
<circle cx="449.98" cy="48.77" r="0.55" fill="#111"/>
<circle cx="455.01" cy="46.62" r="0.55" fill="#111"/>
<circle cx="424.50" cy="65.06" r="0.55" fill="#111"/>
<circle cx="441.09" cy="55.16" r="0.55" fill="#111"/>
<circle cx="425.96" cy="63.65" r="0.55" fill="#111"/>
<circle cx="447.28" cy="49.97" r="0.55" fill="#111"/>
<circle cx="423.83" cy="66.63" r="0.55" fill="#111"/>
<circle cx="418.23" cy="69.46" r="0.55" fill="#111"/>
<circle cx="451.12" cy="60.52" r="0.60" fill="#222"/>
<circle cx="436.00" cy="63.35" r="0.60" fill="#222"/>
<circle cx="439.24" cy="66.18" r="0.60" fill="#222"/>
<circle cx="428.44" cy="69.72" r="0.60" fill="#222"/>
<circle cx="423.04" cy="71.13" r="0.60" fill="#222"/>
<circle cx="419.80" cy="73.96" r="0.60" fill="#222"/>
<text x="427.00" y="30.90" font-size="3.88" fill="#222" stroke="#222" stroke-width="0.060"><tspan font-style="italic">TP53</tspan> (26x)</text>
<line x1="431.50" y1="32.00" x2="431.50" y2="38.00" stroke="#111" stroke-width="0.55"/>
<path d="M431.50,38.00 L432.50,36.00 L430.50,36.00 Z" fill="#111"/>
<text x="401.50" y="41.10" font-size="3.88" fill="#222" stroke="#222" stroke-width="0.060"><tspan font-style="italic">CDKN1A</tspan> (37x)</text>
<text x="407.00" y="45.60" font-size="3.88" fill="#222" stroke="#222" stroke-width="0.060"><tspan font-style="italic">MDM2</tspan> (13x)</text>
<text x="413.20" y="50.90" font-size="3.88" fill="#222" stroke="#222" stroke-width="0.060"><tspan font-style="italic">BAX</tspan> (2.9x)</text>
<text x="402.40" y="56.50" font-size="3.88" fill="#222" stroke="#222" stroke-width="0.060"><tspan font-style="italic">FAS</tspan> (7.4x)</text>
<text x="375.60" y="57.00" font-size="3.88" fill="#222" stroke="#222" stroke-width="0.060"><tspan font-style="italic">PIDD1</tspan> (2.8x)</text>
<text x="372.10" y="60.80" font-size="3.88" fill="#222" stroke="#222" stroke-width="0.060"><tspan font-style="italic">BBC3</tspan> (2.5x)</text>
<text x="367.50" y="67.40" font-size="3.88" fill="#222" stroke="#222" stroke-width="0.060"><tspan font-style="italic">BTG2</tspan> (26x)*</text>
<text x="367.50" y="73.70" font-size="3.88" fill="#222" stroke="#222" stroke-width="0.060"><tspan font-style="italic">GADD45A</tspan> (3.7x)</text>
<text x="447.30" y="58.00" font-size="3.88" fill="#222" stroke="#222" stroke-width="0.060"><tspan font-style="italic">CCNB1</tspan> (&#8722;1.8x)</text>
<text x="442.60" y="61.40" font-size="3.88" fill="#222" stroke="#222" stroke-width="0.060"><tspan font-style="italic">PRC1</tspan> (&#8722;1.6x)</text>
<text x="435.70" y="64.80" font-size="3.88" fill="#222" stroke="#222" stroke-width="0.060"><tspan font-style="italic">E2F1</tspan> (&#8722;1.8x)</text>
<text x="429.40" y="69.20" font-size="3.88" fill="#222" stroke="#222" stroke-width="0.060"><tspan font-style="italic">BIRC5</tspan> (&#8722;1.9x)</text>
<text x="424.10" y="72.90" font-size="3.88" fill="#222" stroke="#222" stroke-width="0.060"><tspan font-style="italic">CDC25C</tspan> (&#8722;1.7x)</text>
<text x="419.80" y="76.10" font-size="3.88" fill="#222" stroke="#222" stroke-width="0.060"><tspan font-style="italic">CDC25A</tspan> (&#8722;1.6x)</text>
<circle cx="428.50" cy="39.90" r="0.65" fill="#e02a2a"/>
<circle cx="431.60" cy="40.30" r="0.65" fill="#e02a2a"/>
<circle cx="433.20" cy="43.50" r="0.65" fill="#e02a2a"/>
<circle cx="436.20" cy="50.80" r="0.65" fill="#e02a2a"/>
<circle cx="393.40" cy="65.40" r="0.65" fill="#e02a2a"/>
<circle cx="399.80" cy="72.30" r="0.65" fill="#e02a2a"/>
<circle cx="412.50" cy="60.30" r="0.65" fill="#e02a2a"/>
<circle cx="417.10" cy="64.60" r="0.65" fill="#e02a2a"/>
<circle cx="412.80" cy="67.50" r="0.65" fill="#e02a2a"/>
<circle cx="420.00" cy="57.50" r="0.65" fill="#e02a2a"/>
<circle cx="425.00" cy="61.00" r="0.65" fill="#e02a2a"/>
<circle cx="367.00" cy="87.00" r="0.65" fill="#e02a2a"/>
<line x1="398.00" y1="57.50" x2="413.00" y2="62.80" stroke="#111" stroke-width="0.55"/>
<line x1="394.50" y1="61.00" x2="412.50" y2="63.80" stroke="#111" stroke-width="0.55"/>
<line x1="404.00" y1="56.80" x2="414.00" y2="62.00" stroke="#111" stroke-width="0.45"/>
<circle cx="414.00" cy="63.20" r="1.20" fill="#111"/>
<line x1="398.60" y1="70.60" x2="409.80" y2="65.80" stroke="#111" stroke-width="0.55"/>
<path d="M409.80,65.80 L407.79,65.68 L408.50,67.34 Z" fill="#111"/>
<circle cx="410.30" cy="65.60" r="0.90" fill="#111"/>
<circle cx="420.48" cy="67.92" r="0.70" fill="#111"/>
<circle cx="424.27" cy="64.19" r="0.70" fill="#111"/>
<circle cx="434.32" cy="59.10" r="0.70" fill="#111"/>
<circle cx="424.61" cy="65.09" r="0.70" fill="#111"/>
<circle cx="436.14" cy="56.96" r="0.70" fill="#111"/>
<circle cx="430.06" cy="61.64" r="0.70" fill="#111"/>
<circle cx="425.16" cy="64.62" r="0.70" fill="#111"/>
<circle cx="429.35" cy="62.62" r="0.70" fill="#111"/>
<circle cx="429.18" cy="61.84" r="0.70" fill="#111"/>
<circle cx="435.30" cy="58.11" r="0.70" fill="#111"/>
<circle cx="421.35" cy="67.06" r="0.70" fill="#111"/>
<circle cx="423.31" cy="66.23" r="0.70" fill="#111"/>
<circle cx="432.26" cy="60.65" r="0.70" fill="#111"/>
<circle cx="430.88" cy="61.62" r="0.70" fill="#111"/>
<circle cx="436.36" cy="57.47" r="0.70" fill="#111"/>
<circle cx="420.73" cy="67.43" r="0.70" fill="#111"/>
<circle cx="418.58" cy="69.65" r="0.70" fill="#111"/>
<circle cx="431.39" cy="61.29" r="0.70" fill="#111"/>
<circle cx="425.10" cy="62.82" r="0.70" fill="#111"/>
<circle cx="417.77" cy="69.48" r="0.70" fill="#111"/>
<circle cx="429.13" cy="61.32" r="0.70" fill="#111"/>
<circle cx="435.86" cy="57.26" r="0.70" fill="#111"/>
<circle cx="418.38" cy="68.56" r="0.70" fill="#111"/>
<circle cx="436.47" cy="57.21" r="0.70" fill="#111"/>
<circle cx="414.75" cy="71.39" r="0.70" fill="#111"/>
<circle cx="422.67" cy="65.01" r="0.70" fill="#111"/>
<circle cx="430.73" cy="62.19" r="0.70" fill="#111"/>
<circle cx="437.02" cy="56.33" r="0.70" fill="#111"/>
<circle cx="417.73" cy="69.97" r="0.70" fill="#111"/>
<circle cx="435.56" cy="57.98" r="0.70" fill="#111"/>
<circle cx="429.11" cy="62.42" r="0.70" fill="#111"/>
<circle cx="422.32" cy="67.19" r="0.70" fill="#111"/>
<circle cx="417.34" cy="69.37" r="0.70" fill="#111"/>
<circle cx="413.39" cy="72.65" r="0.70" fill="#111"/>
<circle cx="436.02" cy="56.90" r="0.70" fill="#111"/>
<circle cx="416.26" cy="70.06" r="0.70" fill="#111"/>
<circle cx="421.79" cy="67.12" r="0.70" fill="#111"/>
<circle cx="432.84" cy="59.36" r="0.70" fill="#111"/>
<circle cx="414.49" cy="72.59" r="0.70" fill="#111"/>
<circle cx="424.57" cy="66.50" r="0.70" fill="#111"/>
<circle cx="417.91" cy="68.17" r="0.70" fill="#111"/>
<circle cx="421.97" cy="66.71" r="0.70" fill="#111"/>
<circle cx="423.08" cy="66.28" r="0.70" fill="#111"/>
<circle cx="432.61" cy="59.88" r="0.70" fill="#111"/>
<circle cx="414.15" cy="72.25" r="0.70" fill="#111"/>
<circle cx="414.81" cy="71.00" r="0.70" fill="#111"/>
<circle cx="431.08" cy="61.23" r="0.70" fill="#111"/>
<circle cx="434.67" cy="58.92" r="0.70" fill="#111"/>
<circle cx="436.07" cy="57.06" r="0.70" fill="#111"/>
<circle cx="427.98" cy="63.04" r="0.70" fill="#111"/>
<text x="435.00" y="131.90" font-size="5.00" text-anchor="middle" fill="#222" stroke="#222" stroke-width="0.140">NUGC-3_KO (KO)</text>
<line x1="382.80" y1="145.03" x2="382.80" y2="218.53" stroke="#ececec" stroke-width="0.5"/>
<line x1="369.07" y1="210.70" x2="483.45" y2="210.70" stroke="#ececec" stroke-width="0.5"/>
<line x1="401.10" y1="145.03" x2="401.10" y2="218.53" stroke="#ececec" stroke-width="0.5"/>
<line x1="369.07" y1="198.65" x2="483.45" y2="198.65" stroke="#ececec" stroke-width="0.5"/>
<line x1="419.40" y1="145.03" x2="419.40" y2="218.53" stroke="#ececec" stroke-width="0.5"/>
<line x1="369.07" y1="186.60" x2="483.45" y2="186.60" stroke="#ececec" stroke-width="0.5"/>
<line x1="437.70" y1="145.03" x2="437.70" y2="218.53" stroke="#ececec" stroke-width="0.5"/>
<line x1="369.07" y1="174.55" x2="483.45" y2="174.55" stroke="#ececec" stroke-width="0.5"/>
<line x1="474.30" y1="145.03" x2="474.30" y2="218.53" stroke="#ececec" stroke-width="0.5"/>
<line x1="369.07" y1="150.45" x2="483.45" y2="150.45" stroke="#ececec" stroke-width="0.5"/>
<line x1="373.65" y1="145.03" x2="373.65" y2="218.53" stroke="#f5f5f5" stroke-width="0.4"/>
<line x1="369.07" y1="216.72" x2="483.45" y2="216.72" stroke="#f5f5f5" stroke-width="0.4"/>
<line x1="391.95" y1="145.03" x2="391.95" y2="218.53" stroke="#f5f5f5" stroke-width="0.4"/>
<line x1="369.07" y1="204.68" x2="483.45" y2="204.68" stroke="#f5f5f5" stroke-width="0.4"/>
<line x1="410.25" y1="145.03" x2="410.25" y2="218.53" stroke="#f5f5f5" stroke-width="0.4"/>
<line x1="369.07" y1="192.62" x2="483.45" y2="192.62" stroke="#f5f5f5" stroke-width="0.4"/>
<line x1="428.55" y1="145.03" x2="428.55" y2="218.53" stroke="#f5f5f5" stroke-width="0.4"/>
<line x1="369.07" y1="180.57" x2="483.45" y2="180.57" stroke="#f5f5f5" stroke-width="0.4"/>
<line x1="446.85" y1="145.03" x2="446.85" y2="218.53" stroke="#f5f5f5" stroke-width="0.4"/>
<line x1="369.07" y1="168.53" x2="483.45" y2="168.53" stroke="#f5f5f5" stroke-width="0.4"/>
<line x1="465.15" y1="145.03" x2="465.15" y2="218.53" stroke="#f5f5f5" stroke-width="0.4"/>
<line x1="369.07" y1="156.47" x2="483.45" y2="156.47" stroke="#f5f5f5" stroke-width="0.4"/>
<line x1="456.00" y1="145.03" x2="456.00" y2="218.53" stroke="#c4c4c4" stroke-width="0.7"/>
<line x1="369.07" y1="162.50" x2="483.45" y2="162.50" stroke="#c4c4c4" stroke-width="0.7"/>
<text x="382.80" y="228.30" font-size="5.00" text-anchor="middle" fill="#333" stroke="#333" stroke-width="0.140">&#8722;4</text>
<text x="368.30" y="212.50" font-size="5.00" text-anchor="end" fill="#333" stroke="#333" stroke-width="0.140">&#8722;4</text>
<text x="401.10" y="228.30" font-size="5.00" text-anchor="middle" fill="#333" stroke="#333" stroke-width="0.140">&#8722;3</text>
<text x="368.30" y="200.45" font-size="5.00" text-anchor="end" fill="#333" stroke="#333" stroke-width="0.140">&#8722;3</text>
<text x="419.40" y="228.30" font-size="5.00" text-anchor="middle" fill="#333" stroke="#333" stroke-width="0.140">&#8722;2</text>
<text x="368.30" y="188.40" font-size="5.00" text-anchor="end" fill="#333" stroke="#333" stroke-width="0.140">&#8722;2</text>
<text x="437.70" y="228.30" font-size="5.00" text-anchor="middle" fill="#333" stroke="#333" stroke-width="0.140">&#8722;1</text>
<text x="368.30" y="176.35" font-size="5.00" text-anchor="end" fill="#333" stroke="#333" stroke-width="0.140">&#8722;1</text>
<text x="456.00" y="228.30" font-size="5.00" text-anchor="middle" fill="#333" stroke="#333" stroke-width="0.140">0</text>
<text x="368.30" y="164.30" font-size="5.00" text-anchor="end" fill="#333" stroke="#333" stroke-width="0.140">0</text>
<text x="474.30" y="228.30" font-size="5.00" text-anchor="middle" fill="#333" stroke="#333" stroke-width="0.140">1</text>
<text x="368.30" y="152.25" font-size="5.00" text-anchor="end" fill="#333" stroke="#333" stroke-width="0.140">1</text>
<line x1="371.82" y1="214.31" x2="476.13" y2="145.63" stroke="#111" stroke-width="0.5"/>
<line x1="371.82" y1="217.93" x2="476.13" y2="149.25" stroke="#111" stroke-width="0.5"/>
<line x1="377.31" y1="217.93" x2="477.96" y2="151.66" stroke="#111" stroke-width="0.5"/>
<text x="443.61" y="166.80" font-size="5.32" fill="#222" stroke="#222" stroke-width="0.084" transform="rotate(-33.4 443.61 166.80)">2-fold increase</text>
<text x="452.25" y="176.30" font-size="5.16" fill="#222" stroke="#222" stroke-width="0.090" transform="rotate(-33.4 452.25 176.30)">2-fold decrease</text>
<text x="434.30" y="234.90" font-size="5.20" text-anchor="middle" font-weight="bold" fill="#111" stroke="#111" stroke-width="0.140">DMSO control</text>
<text x="358.00" y="178.00" font-size="5.00" text-anchor="middle" font-weight="bold" fill="#111" stroke="#111" stroke-width="0.140" transform="rotate(-90 358.00 178.00)">PC14586 (5 &#956;mol/L/16 hours)</text>
<circle cx="436.48" cy="175.36" r="0.55" fill="#111"/>
<circle cx="465.89" cy="155.93" r="0.55" fill="#111"/>
<circle cx="468.59" cy="153.78" r="0.55" fill="#111"/>
<circle cx="425.70" cy="181.01" r="0.55" fill="#111"/>
<circle cx="420.02" cy="186.20" r="0.55" fill="#111"/>
<circle cx="432.65" cy="177.53" r="0.55" fill="#111"/>
<circle cx="447.98" cy="167.95" r="0.55" fill="#111"/>
<circle cx="451.43" cy="165.93" r="0.55" fill="#111"/>
<circle cx="420.82" cy="186.35" r="0.55" fill="#111"/>
<circle cx="434.64" cy="176.24" r="0.55" fill="#111"/>
<circle cx="436.46" cy="175.22" r="0.55" fill="#111"/>
<circle cx="425.65" cy="183.26" r="0.55" fill="#111"/>
<circle cx="473.07" cy="149.76" r="0.55" fill="#111"/>
<circle cx="427.74" cy="180.97" r="0.55" fill="#111"/>
<circle cx="422.90" cy="184.93" r="0.55" fill="#111"/>
<circle cx="416.06" cy="188.38" r="0.55" fill="#111"/>
<circle cx="448.93" cy="166.64" r="0.55" fill="#111"/>
<circle cx="416.02" cy="188.55" r="0.55" fill="#111"/>
<circle cx="419.75" cy="187.06" r="0.55" fill="#111"/>
<circle cx="433.47" cy="177.33" r="0.55" fill="#111"/>
<circle cx="430.38" cy="178.78" r="0.55" fill="#111"/>
<circle cx="418.49" cy="188.69" r="0.55" fill="#111"/>
<circle cx="438.79" cy="173.70" r="0.55" fill="#111"/>
<circle cx="473.39" cy="149.96" r="0.55" fill="#111"/>
<circle cx="411.52" cy="191.61" r="0.55" fill="#111"/>
<circle cx="465.68" cy="155.64" r="0.55" fill="#111"/>
<circle cx="426.42" cy="181.38" r="0.55" fill="#111"/>
<circle cx="443.16" cy="170.43" r="0.55" fill="#111"/>
<circle cx="418.85" cy="187.21" r="0.55" fill="#111"/>
<circle cx="427.96" cy="182.40" r="0.55" fill="#111"/>
<circle cx="416.51" cy="188.98" r="0.55" fill="#111"/>
<circle cx="422.15" cy="184.55" r="0.55" fill="#111"/>
<circle cx="424.58" cy="182.37" r="0.55" fill="#111"/>
<circle cx="394.13" cy="202.71" r="0.55" fill="#111"/>
<circle cx="392.28" cy="204.42" r="0.55" fill="#111"/>
<circle cx="428.65" cy="179.48" r="0.55" fill="#111"/>
<circle cx="428.01" cy="180.82" r="0.55" fill="#111"/>
<circle cx="414.95" cy="189.80" r="0.55" fill="#111"/>
<circle cx="430.72" cy="178.35" r="0.55" fill="#111"/>
<circle cx="423.59" cy="183.34" r="0.55" fill="#111"/>
<circle cx="405.09" cy="196.54" r="0.55" fill="#111"/>
<circle cx="422.10" cy="183.49" r="0.55" fill="#111"/>
<circle cx="406.29" cy="194.92" r="0.55" fill="#111"/>
<circle cx="436.06" cy="174.33" r="0.55" fill="#111"/>
<circle cx="425.47" cy="182.34" r="0.55" fill="#111"/>
<circle cx="420.04" cy="186.73" r="0.55" fill="#111"/>
<circle cx="434.12" cy="176.84" r="0.55" fill="#111"/>
<circle cx="465.22" cy="155.72" r="0.55" fill="#111"/>
<circle cx="430.31" cy="179.75" r="0.55" fill="#111"/>
<circle cx="424.77" cy="184.42" r="0.55" fill="#111"/>
<circle cx="422.68" cy="185.53" r="0.55" fill="#111"/>
<circle cx="393.51" cy="203.58" r="0.55" fill="#111"/>
<circle cx="443.57" cy="171.26" r="0.55" fill="#111"/>
<circle cx="440.67" cy="172.14" r="0.55" fill="#111"/>
<circle cx="433.29" cy="177.93" r="0.55" fill="#111"/>
<circle cx="389.78" cy="206.01" r="0.55" fill="#111"/>
<circle cx="419.83" cy="185.67" r="0.55" fill="#111"/>
<circle cx="413.57" cy="190.32" r="0.55" fill="#111"/>
<circle cx="432.14" cy="178.44" r="0.55" fill="#111"/>
<circle cx="427.40" cy="181.54" r="0.55" fill="#111"/>
<circle cx="409.47" cy="194.08" r="0.55" fill="#111"/>
<circle cx="420.19" cy="185.92" r="0.55" fill="#111"/>
<circle cx="421.77" cy="185.84" r="0.55" fill="#111"/>
<circle cx="421.71" cy="185.78" r="0.55" fill="#111"/>
<circle cx="429.55" cy="180.27" r="0.55" fill="#111"/>
<circle cx="418.20" cy="186.56" r="0.55" fill="#111"/>
<circle cx="426.38" cy="181.91" r="0.55" fill="#111"/>
<circle cx="419.78" cy="185.33" r="0.55" fill="#111"/>
<circle cx="421.46" cy="185.20" r="0.55" fill="#111"/>
<circle cx="421.98" cy="184.79" r="0.55" fill="#111"/>
<circle cx="422.78" cy="184.38" r="0.55" fill="#111"/>
<circle cx="381.93" cy="211.38" r="0.55" fill="#111"/>
<circle cx="412.27" cy="190.63" r="0.55" fill="#111"/>
<circle cx="427.79" cy="180.77" r="0.55" fill="#111"/>
<circle cx="473.91" cy="150.81" r="0.55" fill="#111"/>
<circle cx="455.68" cy="162.12" r="0.55" fill="#111"/>
<circle cx="444.32" cy="168.90" r="0.55" fill="#111"/>
<circle cx="420.51" cy="185.54" r="0.55" fill="#111"/>
<circle cx="408.47" cy="194.40" r="0.55" fill="#111"/>
<circle cx="434.80" cy="176.08" r="0.55" fill="#111"/>
<circle cx="388.10" cy="207.50" r="0.55" fill="#111"/>
<circle cx="429.27" cy="180.30" r="0.55" fill="#111"/>
<circle cx="418.48" cy="187.23" r="0.55" fill="#111"/>
<circle cx="426.69" cy="181.48" r="0.55" fill="#111"/>
<circle cx="442.06" cy="171.39" r="0.55" fill="#111"/>
<circle cx="385.23" cy="209.32" r="0.55" fill="#111"/>
<circle cx="420.36" cy="186.40" r="0.55" fill="#111"/>
<circle cx="429.53" cy="181.02" r="0.55" fill="#111"/>
<circle cx="417.59" cy="186.94" r="0.55" fill="#111"/>
<circle cx="424.43" cy="183.15" r="0.55" fill="#111"/>
<circle cx="431.76" cy="178.91" r="0.55" fill="#111"/>
<circle cx="425.62" cy="183.15" r="0.55" fill="#111"/>
<circle cx="424.80" cy="183.24" r="0.55" fill="#111"/>
<circle cx="399.18" cy="201.03" r="0.55" fill="#111"/>
<circle cx="408.73" cy="193.90" r="0.55" fill="#111"/>
<circle cx="412.12" cy="191.75" r="0.55" fill="#111"/>
<circle cx="412.88" cy="190.50" r="0.55" fill="#111"/>
<circle cx="422.36" cy="184.11" r="0.55" fill="#111"/>
<circle cx="424.28" cy="183.19" r="0.55" fill="#111"/>
<circle cx="417.49" cy="188.02" r="0.55" fill="#111"/>
<circle cx="427.62" cy="181.15" r="0.55" fill="#111"/>
<circle cx="420.52" cy="185.85" r="0.55" fill="#111"/>
<circle cx="414.61" cy="189.97" r="0.55" fill="#111"/>
<circle cx="425.96" cy="182.01" r="0.55" fill="#111"/>
<circle cx="426.09" cy="182.00" r="0.55" fill="#111"/>
<circle cx="423.38" cy="183.33" r="0.55" fill="#111"/>
<circle cx="415.29" cy="188.98" r="0.55" fill="#111"/>
<circle cx="415.63" cy="189.22" r="0.55" fill="#111"/>
<circle cx="414.36" cy="190.55" r="0.55" fill="#111"/>
<circle cx="430.69" cy="179.91" r="0.55" fill="#111"/>
<circle cx="421.64" cy="185.13" r="0.55" fill="#111"/>
<circle cx="427.42" cy="181.24" r="0.55" fill="#111"/>
<circle cx="425.46" cy="183.02" r="0.55" fill="#111"/>
<circle cx="422.64" cy="183.91" r="0.55" fill="#111"/>
<circle cx="434.37" cy="176.78" r="0.55" fill="#111"/>
<circle cx="433.57" cy="177.63" r="0.55" fill="#111"/>
<circle cx="413.13" cy="191.21" r="0.55" fill="#111"/>
<circle cx="417.73" cy="187.79" r="0.55" fill="#111"/>
<circle cx="413.47" cy="190.49" r="0.55" fill="#111"/>
<circle cx="425.19" cy="182.86" r="0.55" fill="#111"/>
<circle cx="434.46" cy="176.48" r="0.55" fill="#111"/>
<circle cx="426.55" cy="181.64" r="0.55" fill="#111"/>
<circle cx="424.14" cy="184.03" r="0.55" fill="#111"/>
<circle cx="390.12" cy="210.70" r="0.50" fill="#2aa36a"/>
<line x1="36.80" y1="193.30" x2="36.80" y2="275.15" stroke="#222" stroke-width="0.7"/>
<line x1="36.45" y1="274.80" x2="117.62" y2="274.80" stroke="#222" stroke-width="0.7"/>
<line x1="35.50" y1="274.80" x2="36.80" y2="274.80" stroke="#222" stroke-width="0.55"/>
<text x="34.00" y="276.55" font-size="4.85" text-anchor="end" fill="#222" stroke="#222" stroke-width="0.140">&#8722;6</text>
<line x1="36.80" y1="274.80" x2="36.80" y2="276.10" stroke="#222" stroke-width="0.55"/>
<text x="36.80" y="282.05" font-size="4.85" text-anchor="middle" fill="#222" stroke="#222" stroke-width="0.140">&#8722;6</text>
<line x1="35.50" y1="267.42" x2="36.80" y2="267.42" stroke="#222" stroke-width="0.55"/>
<text x="34.00" y="269.16" font-size="4.85" text-anchor="end" fill="#222" stroke="#222" stroke-width="0.140">&#8722;4</text>
<line x1="44.12" y1="274.80" x2="44.12" y2="276.10" stroke="#222" stroke-width="0.55"/>
<text x="44.12" y="282.05" font-size="4.85" text-anchor="middle" fill="#222" stroke="#222" stroke-width="0.140">&#8722;4</text>
<line x1="35.50" y1="260.04" x2="36.80" y2="260.04" stroke="#222" stroke-width="0.55"/>
<text x="34.00" y="261.78" font-size="4.85" text-anchor="end" fill="#222" stroke="#222" stroke-width="0.140">&#8722;2</text>
<line x1="51.44" y1="274.80" x2="51.44" y2="276.10" stroke="#222" stroke-width="0.55"/>
<text x="51.44" y="282.05" font-size="4.85" text-anchor="middle" fill="#222" stroke="#222" stroke-width="0.140">&#8722;2</text>
<line x1="35.50" y1="252.65" x2="36.80" y2="252.65" stroke="#222" stroke-width="0.55"/>
<text x="34.00" y="254.40" font-size="4.85" text-anchor="end" fill="#222" stroke="#222" stroke-width="0.140">0</text>
<line x1="58.76" y1="274.80" x2="58.76" y2="276.10" stroke="#222" stroke-width="0.55"/>
<text x="58.76" y="282.05" font-size="4.85" text-anchor="middle" fill="#222" stroke="#222" stroke-width="0.140">0</text>
<line x1="35.50" y1="245.27" x2="36.80" y2="245.27" stroke="#222" stroke-width="0.55"/>
<text x="34.00" y="247.02" font-size="4.85" text-anchor="end" fill="#222" stroke="#222" stroke-width="0.140">2</text>
<line x1="66.08" y1="274.80" x2="66.08" y2="276.10" stroke="#222" stroke-width="0.55"/>
<text x="66.08" y="282.05" font-size="4.85" text-anchor="middle" fill="#222" stroke="#222" stroke-width="0.140">2</text>
<line x1="35.50" y1="237.89" x2="36.80" y2="237.89" stroke="#222" stroke-width="0.55"/>
<text x="34.00" y="239.64" font-size="4.85" text-anchor="end" fill="#222" stroke="#222" stroke-width="0.140">4</text>
<line x1="73.40" y1="274.80" x2="73.40" y2="276.10" stroke="#222" stroke-width="0.55"/>
<text x="73.40" y="282.05" font-size="4.85" text-anchor="middle" fill="#222" stroke="#222" stroke-width="0.140">4</text>
<line x1="35.50" y1="230.51" x2="36.80" y2="230.51" stroke="#222" stroke-width="0.55"/>
<text x="34.00" y="232.26" font-size="4.85" text-anchor="end" fill="#222" stroke="#222" stroke-width="0.140">6</text>
<line x1="80.72" y1="274.80" x2="80.72" y2="276.10" stroke="#222" stroke-width="0.55"/>
<text x="80.72" y="282.05" font-size="4.85" text-anchor="middle" fill="#222" stroke="#222" stroke-width="0.140">6</text>
<line x1="35.50" y1="223.13" x2="36.80" y2="223.13" stroke="#222" stroke-width="0.55"/>
<text x="34.00" y="224.87" font-size="4.85" text-anchor="end" fill="#222" stroke="#222" stroke-width="0.140">8</text>
<line x1="88.04" y1="274.80" x2="88.04" y2="276.10" stroke="#222" stroke-width="0.55"/>
<text x="88.04" y="282.05" font-size="4.85" text-anchor="middle" fill="#222" stroke="#222" stroke-width="0.140">8</text>
<line x1="35.50" y1="215.75" x2="36.80" y2="215.75" stroke="#222" stroke-width="0.55"/>
<text x="34.00" y="217.49" font-size="4.85" text-anchor="end" fill="#222" stroke="#222" stroke-width="0.140">10</text>
<line x1="95.36" y1="274.80" x2="95.36" y2="276.10" stroke="#222" stroke-width="0.55"/>
<text x="95.36" y="282.05" font-size="4.85" text-anchor="middle" fill="#222" stroke="#222" stroke-width="0.140">10</text>
<line x1="35.50" y1="208.36" x2="36.80" y2="208.36" stroke="#222" stroke-width="0.55"/>
<text x="34.00" y="210.11" font-size="4.85" text-anchor="end" fill="#222" stroke="#222" stroke-width="0.140">12</text>
<line x1="102.68" y1="274.80" x2="102.68" y2="276.10" stroke="#222" stroke-width="0.55"/>
<text x="102.68" y="282.05" font-size="4.85" text-anchor="middle" fill="#222" stroke="#222" stroke-width="0.140">12</text>
<line x1="35.50" y1="200.98" x2="36.80" y2="200.98" stroke="#222" stroke-width="0.55"/>
<text x="34.00" y="202.73" font-size="4.85" text-anchor="end" fill="#222" stroke="#222" stroke-width="0.140">14</text>
<line x1="110.00" y1="274.80" x2="110.00" y2="276.10" stroke="#222" stroke-width="0.55"/>
<text x="110.00" y="282.05" font-size="4.85" text-anchor="middle" fill="#222" stroke="#222" stroke-width="0.140">14</text>
<line x1="35.50" y1="193.60" x2="36.80" y2="193.60" stroke="#222" stroke-width="0.55"/>
<text x="34.00" y="195.35" font-size="4.85" text-anchor="end" fill="#222" stroke="#222" stroke-width="0.140">16</text>
<line x1="117.32" y1="274.80" x2="117.32" y2="276.10" stroke="#222" stroke-width="0.55"/>
<text x="117.32" y="282.05" font-size="4.85" text-anchor="middle" fill="#222" stroke="#222" stroke-width="0.140">16</text>
<text x="77.06" y="288.80" font-size="5.00" text-anchor="middle" fill="#222" stroke="#222" stroke-width="0.140">DMSO-treated</text>
<text x="24.90" y="235.00" font-size="5.00" text-anchor="middle" fill="#222" stroke="#222" stroke-width="0.140" transform="rotate(-90 24.90 235.00)">PC14586-treated</text>
<text x="82.60" y="191.84" font-size="5.10" text-anchor="middle" fill="#222" stroke="#222" stroke-width="0.140" textLength="74.80" lengthAdjust="spacingAndGlyphs">NUGC-3 (p53 Y220C) (16 hours)</text>
<path d="M42.66,265.44 L45.01,263.27 L47.37,261.10 L49.72,258.94 L52.07,256.77 L54.43,254.61 L56.78,252.44 L59.14,250.26 L61.49,247.98 L63.85,245.71 L66.20,243.43 L68.56,241.15 L70.91,238.88 L73.27,236.60 L75.62,234.32 L77.97,232.05 L80.33,229.77 L82.68,227.46 L85.04,225.15 L87.39,222.83 L89.75,220.51 L92.10,218.20 L94.46,215.88 L96.81,213.57 L99.17,211.25 L101.52,208.94 L103.88,206.62 L106.23,204.30 L108.58,201.99 L110.94,199.67 L113.29,197.29 L113.29,198.03 L110.94,200.40 L108.58,202.83 L106.23,205.26 L103.88,207.70 L101.52,210.13 L99.17,212.56 L96.81,215.00 L94.46,217.43 L92.10,219.86 L89.75,222.30 L87.39,224.73 L85.04,227.16 L82.68,229.60 L80.33,232.04 L77.97,234.51 L75.62,236.98 L73.27,239.45 L70.91,241.93 L68.56,244.40 L66.20,246.87 L63.85,249.34 L61.49,251.81 L59.14,254.29 L56.78,256.85 L54.43,259.44 L52.07,262.02 L49.72,264.60 L47.37,267.19 L45.01,269.77 L42.66,272.35 Z" fill="#d5d5d5"/>
<path d="M63.0 252.8h0M63.6 249.5h0M65.7 246.8h0M65.9 246.1h0M72.1 239.0h0M56.4 256.1h0M48.2 261.5h0M45.9 270.7h0M105.1 205.1h0M71.3 240.5h0M50.7 257.0h0M46.8 264.3h0M51.9 259.5h0M63.5 247.3h0M62.4 247.5h0M72.7 240.2h0M65.3 247.2h0M55.4 258.5h0M111.0 199.2h0M76.9 234.5h0M56.9 254.2h0M47.3 261.4h0M80.8 232.4h0M60.0 248.9h0M100.2 210.9h0M52.7 258.9h0M93.6 220.0h0M60.5 249.8h0M47.4 268.1h0M55.1 259.8h0M48.0 267.8h0M80.2 228.1h0M49.2 262.3h0M46.9 263.1h0M83.1 227.4h0M62.8 246.2h0M51.9 259.7h0M72.9 239.2h0M49.1 264.4h0M55.1 255.5h0M102.6 208.3h0M90.8 221.1h0M52.7 263.2h0M72.8 236.5h0M48.5 260.7h0M54.6 257.0h0M81.3 230.4h0M47.5 261.5h0M48.1 265.5h0M70.5 241.4h0M59.3 257.5h0M64.5 245.4h0M69.1 241.5h0M50.5 262.4h0M93.4 217.5h0M51.9 261.6h0M78.9 231.5h0M98.9 212.4h0M90.6 221.4h0M48.7 264.9h0M45.7 263.2h0M76.6 234.9h0M54.5 255.3h0M56.0 258.5h0M51.3 260.4h0M53.4 259.1h0M68.3 241.5h0M55.5 258.9h0M94.4 216.6h0M55.0 256.0h0M62.7 247.5h0M59.2 251.7h0M69.0 241.2h0M91.5 219.0h0M104.7 206.8h0M69.6 244.0h0M50.0 260.9h0M93.6 217.5h0M76.4 234.6h0M72.5 238.9h0M64.4 247.2h0M112.6 198.7h0M47.5 269.3h0M92.5 219.1h0M78.8 233.1h0M94.1 218.5h0M58.5 254.9h0M89.5 223.7h0M61.4 248.9h0M69.0 245.8h0M71.9 241.1h0M71.0 238.8h0M47.7 270.6h0M90.3 223.2h0M78.2 234.8h0M69.4 240.0h0M62.4 248.5h0M79.7 232.0h0M45.2 269.7h0M53.5 259.9h0M76.3 237.0h0M94.8 216.3h0M54.5 254.7h0M75.0 236.2h0M52.4 256.0h0M73.9 234.4h0M62.5 247.4h0M74.3 237.9h0M52.2 264.1h0M94.1 216.4h0M90.4 221.8h0M57.0 252.3h0M49.8 267.7h0M87.4 223.7h0M77.1 233.1h0M51.1 261.1h0M62.9 248.7h0M61.2 248.7h0M71.9 240.8h0M86.5 224.6h0M105.1 206.2h0M45.3 265.8h0M89.6 220.0h0M68.9 241.7h0M56.7 254.6h0M49.8 262.3h0M63.1 244.4h0M53.7 256.9h0M50.0 257.2h0M62.7 247.8h0M72.1 240.8h0M100.2 211.9h0M75.4 235.4h0M51.5 256.8h0M43.6 273.9h0M51.5 259.2h0M55.2 258.6h0M66.3 242.6h0M71.3 240.0h0M82.7 229.7h0M93.1 216.2h0M77.8 231.8h0M49.6 266.2h0M93.6 217.2h0M59.6 256.0h0M83.1 229.2h0M98.0 214.2h0M52.5 258.0h0M77.8 232.6h0M77.5 235.6h0M52.8 252.1h0M103.9 208.1h0M67.1 243.8h0M93.6 218.3h0M88.0 223.4h0M62.5 248.2h0M67.8 243.3h0M45.1 270.6h0M84.1 225.2h0M51.2 258.1h0M57.8 253.4h0M50.3 262.8h0M66.1 245.9h0M75.7 238.4h0M98.2 214.7h0M48.0 263.1h0M53.1 260.7h0M78.2 233.2h0M72.7 241.8h0M68.3 243.5h0M56.8 258.2h0M92.5 217.4h0M52.6 254.3h0M66.5 248.9h0M69.0 241.6h0M65.4 243.6h0M70.8 236.1h0M66.1 244.4h0M60.6 249.9h0M64.8 249.0h0M75.8 233.8h0M61.2 249.1h0M100.0 210.6h0M64.0 248.1h0M49.5 267.4h0M92.5 217.9h0M64.1 247.8h0M71.5 238.8h0M95.4 214.7h0M44.7 262.2h0M52.1 258.8h0M57.2 250.5h0M58.6 253.6h0M78.4 233.3h0M49.4 264.6h0M52.2 259.4h0M66.8 246.3h0M61.2 249.4h0M66.8 243.9h0M72.2 238.1h0M72.6 241.8h0M71.1 240.8h0M88.1 222.9h0M84.2 225.1h0M92.7 218.7h0M95.1 215.3h0M53.0 252.5h0M49.8 261.8h0M53.8 257.9h0M48.4 265.6h0M85.9 227.0h0M49.5 259.3h0M60.7 250.8h0M52.3 259.7h0M75.3 232.6h0M49.1 266.9h0M65.6 245.7h0M75.5 237.6h0M51.9 258.3h0M45.7 265.1h0M67.9 245.8h0M50.2 261.6h0M51.7 258.2h0M107.6 202.5h0M95.6 215.2h0M99.1 211.8h0M63.5 247.7h0M63.7 249.5h0M66.0 247.7h0M43.9 265.5h0M76.4 234.3h0M63.1 249.4h0M78.9 233.0h0M50.9 259.4h0M65.9 241.3h0M83.5 227.5h0M76.7 233.3h0M60.8 253.0h0M70.5 245.8h0M83.7 227.6h0M54.6 253.1h0M81.7 230.6h0M84.5 228.7h0M90.3 219.7h0M76.0 235.0h0M60.9 254.2h0M77.8 232.3h0M63.8 246.8h0M43.6 271.3h0M71.8 237.6h0M53.5 254.0h0M57.9 254.7h0M73.9 239.2h0M60.1 252.4h0M113.7 197.7h0M80.5 232.3h0M104.6 205.6h0M78.9 232.1h0M54.5 257.6h0M52.1 258.8h0M59.5 250.5h0M93.1 217.7h0M67.8 248.4h0M68.7 242.8h0M109.5 202.0h0M47.6 268.7h0M70.3 240.9h0M96.0 215.3h0M50.7 262.6h0M65.1 246.1h0M71.1 236.4h0M61.5 248.0h0M66.6 246.2h0M55.7 257.2h0M73.6 238.9h0M77.4 234.3h0M56.1 253.4h0M46.0 265.3h0M50.6 260.8h0M92.2 219.9h0M79.6 227.9h0M98.0 212.3h0M47.5 261.0h0M64.2 248.4h0M103.0 208.0h0M97.0 213.1h0M77.8 237.2h0M84.7 225.9h0M70.7 238.8h0M63.2 246.3h0M52.4 255.7h0M49.4 260.8h0M62.6 250.0h0M54.7 259.3h0M69.5 244.5h0M66.8 242.9h0M111.0 199.3h0M53.8 259.0h0M49.0 258.0h0M71.9 241.3h0M58.8 253.1h0M68.6 240.0h0M70.0 243.3h0M51.9 263.3h0M54.2 251.2h0M90.2 221.2h0M45.8 263.1h0M61.7 249.0h0M71.8 237.9h0M47.4 261.5h0M48.0 265.4h0M72.2 241.0h0M59.4 253.5h0M58.1 253.1h0M79.3 231.7h0M49.2 263.3h0M84.1 228.6h0M52.8 262.1h0M61.7 249.9h0M59.2 248.1h0M73.5 236.4h0M67.7 243.7h0M79.4 230.6h0M59.2 253.3h0M48.4 262.1h0M47.9 264.6h0M68.5 245.6h0M56.2 254.8h0M81.5 229.0h0M74.0 236.8h0M47.8 265.5h0M76.0 233.0h0M55.6 254.3h0M78.0 232.2h0M59.1 249.7h0M68.8 240.6h0M94.6 214.8h0M62.3 250.8h0M83.6 228.0h0M60.6 249.0h0M96.6 214.0h0M58.9 253.6h0M59.1 253.8h0M60.0 249.7h0M52.1 264.2h0M67.3 245.3h0M86.3 225.5h0M80.3 231.2h0M90.4 220.8h0M66.1 244.9h0M67.5 248.3h0M73.4 239.6h0M83.7 226.2h0M82.4 228.2h0M47.9 258.8h0M92.3 218.1h0M47.9 264.8h0M79.4 232.4h0M73.3 238.0h0M80.8 229.6h0M66.4 244.8h0M57.9 255.9h0M102.0 209.4h0M67.2 246.1h0M77.7 234.4h0M61.1 255.0h0M85.4 226.8h0M83.8 229.4h0M86.1 223.0h0M72.7 241.2h0M66.5 245.7h0M61.6 253.6h0M61.5 247.7h0M107.8 202.5h0M59.5 251.1h0M61.7 248.4h0M56.0 254.6h0M56.6 255.0h0M49.1 265.8h0M51.5 264.2h0M47.0 269.0h0M93.5 217.3h0M45.6 264.1h0M53.0 257.3h0M53.7 258.6h0M53.2 262.0h0M51.7 260.1h0M80.2 230.3h0M56.8 259.0h0M64.3 248.2h0M54.7 252.2h0M58.1 256.8h0M67.7 241.6h0M53.1 259.2h0M46.4 259.2h0M59.9 252.8h0M66.7 246.2h0M107.5 203.5h0M73.8 237.5h0M64.0 247.1h0M59.3 251.0h0M70.8 243.1h0M50.6 259.3h0M54.6 254.8h0M89.3 223.3h0M108.6 202.4h0M54.9 258.0h0M81.1 230.3h0M42.0 266.2h0M85.1 228.1h0M47.8 264.3h0M48.4 257.9h0M64.3 252.0h0M69.7 240.7h0M88.2 223.6h0M61.4 246.4h0M94.4 215.4h0M52.6 255.9h0M67.5 245.0h0M85.9 225.4h0M56.8 255.0h0M56.5 254.0h0M63.7 248.1h0M75.5 237.1h0M48.7 265.7h0M101.8 208.8h0M85.7 225.5h0M59.6 252.1h0M77.0 234.1h0M63.3 245.4h0M43.6 261.2h0M52.5 259.2h0M71.4 240.4h0M67.3 242.3h0M56.2 256.5h0M74.3 235.7h0M54.5 255.6h0M57.5 250.2h0M98.1 214.1h0M57.6 255.3h0M85.5 225.2h0M48.3 262.2h0M75.0 236.6h0M60.7 252.0h0M86.3 225.2h0M53.3 258.8h0M50.6 258.6h0M47.4 261.6h0M94.8 217.2h0M73.1 237.3h0M80.9 229.8h0M57.6 256.0h0M61.1 248.1h0M76.3 234.8h0M105.1 205.8h0M70.9 242.8h0M44.3 268.9h0M73.4 236.7h0M48.7 265.6h0M82.5 227.8h0M85.4 226.3h0M80.8 230.9h0M92.8 219.2h0M65.3 246.6h0M50.1 263.5h0M66.1 250.8h0M77.3 233.4h0M98.1 213.4h0M72.0 239.1h0M54.0 256.3h0M69.2 242.7h0M95.9 215.9h0M58.9 253.7h0M103.1 207.9h0M49.8 258.4h0M68.4 244.3h0M68.3 243.4h0M108.2 201.7h0M84.7 226.9h0M85.3 226.2h0M55.8 254.1h0M69.0 243.1h0M85.8 224.8h0M47.6 260.0h0M45.3 261.6h0M97.3 211.7h0M73.8 238.3h0M78.8 230.5h0M59.8 255.0h0M44.2 271.1h0M52.3 260.8h0M60.0 251.2h0M68.8 241.5h0M54.8 253.8h0M68.8 243.9h0M45.7 261.3h0M74.6 234.3h0M70.5 237.4h0M63.8 250.0h0M75.7 234.5h0M80.2 231.0h0M109.3 202.2h0M86.5 224.0h0M62.1 251.0h0M68.6 240.8h0M66.5 246.1h0M62.1 247.8h0M46.6 266.7h0M78.0 231.4h0M70.3 242.6h0M79.8 232.0h0M47.3 259.9h0M49.4 265.7h0M60.5 250.1h0M46.5 266.5h0M53.8 260.8h0M56.6 256.3h0M47.2 262.7h0M93.7 216.1h0M89.0 222.5h0M61.6 249.3h0M79.4 232.7h0M68.7 242.0h0M82.7 228.8h0M49.4 269.8h0M41.7 272.1h0M54.0 258.2h0M47.0 261.6h0M91.9 218.9h0M58.7 254.8h0M69.7 241.2h0M92.3 218.8h0M56.6 260.6h0M103.9 207.1h0M64.0 246.9h0M95.1 215.3h0M92.1 218.4h0M58.6 248.7h0M64.0 245.4h0M109.7 200.5h0M52.4 260.4h0M90.4 221.3h0M46.4 260.7h0M56.8 252.1h0M92.5 217.7h0M49.8 265.4h0M76.1 233.7h0M47.7 265.2h0M53.2 259.8h0M52.1 255.0h0M51.5 259.5h0M82.6 226.8h0M59.4 254.5h0M69.9 244.5h0M53.4 260.1h0M74.3 233.6h0M55.3 256.8h0M105.3 205.9h0M62.4 251.5h0M46.1 266.2h0M70.5 241.1h0M83.6 226.7h0M48.0 264.7h0M54.1 252.9h0M55.4 257.6h0M92.1 219.2h0M106.7 203.7h0M79.7 231.2h0M59.9 249.1h0M51.5 261.5h0M68.1 244.3h0M73.8 238.7h0M82.0 230.6h0M87.1 224.2h0M75.4 239.6h0M51.3 261.2h0M81.8 228.6h0M53.7 254.5h0M62.4 248.4h0M82.7 230.7h0M53.7 259.7h0M69.4 241.8h0M65.2 243.5h0M77.3 233.5h0M69.0 241.5h0M50.4 262.5h0M44.3 271.2h0M62.5 248.8h0M54.8 256.4h0M93.2 218.2h0M68.8 245.6h0M53.8 259.0h0M50.2 261.6h0M56.9 253.9h0M71.7 241.0h0M69.9 241.7h0M48.1 262.5h0M54.4 258.5h0M50.7 262.9h0M82.3 231.0h0M46.9 267.4h0M52.9 257.1h0M102.5 207.8h0M80.5 230.4h0M106.2 204.4h0M79.3 230.8h0M45.8 265.3h0M50.1 254.8h0M60.3 251.8h0M47.6 260.5h0M45.5 259.9h0M78.6 232.7h0M53.5 258.1h0M53.9 254.0h0M63.4 246.1h0M57.8 254.5h0M104.9 206.3h0M60.7 251.1h0M73.3 236.6h0M76.0 234.8h0M88.8 224.1h0M63.5 250.2h0M60.3 249.9h0M81.9 230.3h0M52.9 259.6h0M67.8 242.6h0M50.9 260.0h0M63.7 246.3h0M56.6 262.3h0M75.1 234.6h0M88.7 222.2h0M47.4 260.8h0M75.8 236.2h0M44.3 264.9h0M51.6 260.1h0M95.2 215.1h0M77.3 234.1h0M50.5 258.1h0M96.9 215.1h0M77.9 231.6h0M93.2 217.1h0M59.9 251.2h0M47.9 261.4h0M81.1 230.8h0M66.2 243.3h0M53.8 256.7h0M45.9 262.8h0M45.3 262.2h0M56.8 257.4h0M49.8 259.8h0M76.8 234.6h0M74.3 234.5h0M50.3 260.5h0M77.2 233.0h0M60.8 253.9h0M53.3 254.4h0M56.0 256.5h0M45.9 263.6h0M44.8 270.0h0M84.0 228.3h0M103.5 207.8h0M94.6 215.2h0M52.9 260.1h0M99.7 212.4h0M89.2 221.8h0M48.1 258.7h0M61.9 250.1h0M59.9 251.1h0M57.5 255.9h0M50.7 260.7h0M60.7 252.0h0M74.2 236.9h0M53.8 255.5h0M61.6 248.7h0M50.4 265.3h0M68.0 244.8h0M76.4 233.5h0M59.0 252.1h0M47.0 265.5h0M65.1 245.9h0M69.7 243.2h0M54.4 256.6h0M44.7 271.2h0M68.6 239.5h0M54.7 257.6h0M63.8 248.7h0M71.3 238.4h0M69.2 242.6h0M97.7 213.2h0M71.6 242.0h0M61.1 251.8h0M85.7 225.0h0M90.3 222.4h0M45.7 260.5h0M49.8 264.4h0M58.9 252.6h0M103.9 206.9h0M53.4 256.6h0M75.1 236.2h0M67.5 243.8h0M60.3 250.9h0M73.3 236.1h0M67.7 245.3h0M85.9 226.3h0M102.1 209.2h0M91.0 219.4h0M56.8 255.4h0M75.5 238.0h0M101.2 209.7h0M71.7 240.5h0M64.8 248.3h0M55.7 256.7h0M79.6 232.6h0M54.2 257.7h0M57.3 252.8h0M49.5 258.5h0M47.0 263.0h0M76.7 234.3h0M49.0 267.9h0M64.3 246.0h0M50.8 256.5h0M46.5 270.3h0M54.4 261.9h0M60.3 251.3h0M77.4 233.9h0M57.4 250.2h0M57.7 253.4h0M85.6 227.7h0M68.7 245.1h0M71.8 238.3h0M85.8 225.2h0M59.6 252.9h0M74.5 236.7h0M43.9 265.2h0M69.7 237.2h0M49.8 264.8h0M75.6 237.5h0M60.5 249.4h0M96.5 214.4h0M77.2 234.1h0M49.2 259.7h0M78.4 232.6h0M108.8 201.8h0M45.0 264.3h0M67.4 245.7h0M56.7 254.5h0M83.4 227.3h0M60.2 252.7h0M71.5 239.4h0M60.1 257.5h0M76.0 237.8h0M50.3 262.8h0M51.3 254.6h0M54.3 253.2h0M64.7 245.4h0M44.4 264.9h0M68.6 241.1h0M55.2 253.3h0M53.4 260.8h0M54.6 256.5h0M46.4 258.2h0M56.7 252.7h0M47.7 262.2h0M110.7 199.9h0M52.4 256.8h0M61.3 252.0h0M83.9 227.6h0M67.8 243.1h0M73.7 238.5h0M97.2 214.3h0M88.8 221.2h0M86.1 225.2h0M78.0 233.1h0M51.1 259.8h0M49.2 259.6h0M79.9 230.8h0M56.7 255.1h0M52.7 258.8h0M100.4 209.8h0M84.1 227.0h0M82.7 228.6h0M83.6 228.8h0M85.6 225.3h0M48.5 272.6h0M98.9 213.1h0M54.3 254.7h0M93.5 216.4h0M53.3 257.6h0M60.1 253.5h0M84.2 225.8h0M59.0 253.7h0M55.4 257.9h0M93.0 218.3h0M57.8 252.7h0M79.1 231.6h0M67.6 240.7h0M75.1 235.8h0M50.1 260.0h0M58.4 253.3h0M65.4 245.8h0M60.8 251.8h0M99.2 211.0h0M52.5 257.1h0M80.0 232.1h0M48.8 259.2h0M101.0 210.1h0M53.0 262.2h0M51.4 257.5h0M55.2 259.1h0M57.2 259.5h0M51.6 265.5h0M50.3 253.8h0M72.4 240.6h0M52.8 255.8h0M71.4 237.4h0M72.1 241.4h0M65.5 246.7h0M86.4 225.0h0M75.7 237.7h0M61.5 249.0h0M59.9 251.1h0M69.0 239.9h0M66.0 242.6h0M62.7 248.0h0M70.1 244.6h0M50.4 265.1h0M63.8 244.2h0M56.8 254.8h0M78.8 231.1h0M89.1 222.1h0M49.5 258.3h0M53.6 258.0h0M86.6 226.1h0M85.7 227.6h0M83.2 231.8h0M47.1 265.2h0M89.4 222.0h0M83.9 228.2h0M63.1 252.4h0M52.1 260.7h0M55.5 256.6h0M68.1 243.8h0M82.4 229.8h0M83.3 227.8h0M88.0 223.0h0M93.1 219.2h0M83.1 227.5h0M48.5 260.4h0M45.6 270.0h0M86.1 223.3h0M49.2 261.0h0M87.4 222.8h0M71.4 239.4h0M106.7 204.4h0M52.5 263.0h0M78.2 235.1h0M52.2 260.8h0M44.1 271.0h0M58.0 254.8h0M55.4 252.6h0M70.6 241.0h0M49.5 263.9h0M76.0 236.1h0M49.1 262.0h0M97.5 214.1h0M52.1 261.1h0M109.4 201.8h0M58.9 256.0h0M56.7 255.9h0M72.2 238.6h0M61.7 248.7h0M63.2 250.1h0M65.6 244.1h0M76.6 235.2h0M53.7 259.8h0M89.6 221.9h0M55.7 253.3h0M63.1 250.7h0M96.5 215.6h0M70.5 238.9h0M62.8 246.6h0M55.5 254.9h0M62.5 247.2h0M76.0 235.6h0M74.6 236.6h0M49.7 258.5h0M91.9 219.2h0M58.0 250.9h0M85.0 225.3h0M67.6 245.8h0M48.5 261.9h0M59.0 253.0h0M59.5 252.5h0M58.1 256.7h0M92.2 218.7h0M72.3 239.1h0M63.8 249.1h0M57.0 252.4h0M74.6 240.0h0M103.7 208.3h0M108.4 203.3h0M73.3 236.1h0M76.4 234.3h0M63.5 247.9h0M60.7 251.6h0M107.4 203.9h0M52.6 259.9h0M60.4 250.1h0M79.1 231.4h0M73.2 237.6h0M71.8 239.6h0M84.2 227.9h0M78.4 232.8h0M63.8 248.6h0M44.1 261.7h0M92.0 220.9h0M44.8 269.5h0M67.0 242.5h0M48.9 261.9h0M65.6 247.3h0M49.4 263.6h0M48.1 264.2h0M65.9 246.4h0M54.1 252.7h0M61.2 248.7h0M63.0 247.9h0M68.2 246.6h0M48.7 261.2h0M87.5 222.1h0M66.5 240.6h0M60.9 253.8h0M101.2 210.8h0M61.2 248.9h0M84.8 226.3h0M78.6 232.8h0M66.8 245.6h0M45.1 264.0h0M101.6 209.1h0M72.9 238.1h0M61.3 250.6h0M47.7 263.9h0M94.6 216.1h0M57.5 257.4h0M91.0 220.0h0M98.3 213.6h0M92.9 218.7h0M60.4 252.2h0M54.6 252.6h0M59.2 254.6h0M58.8 251.5h0M62.0 250.1h0M86.2 224.8h0M46.9 268.9h0M60.6 251.3h0M53.2 256.1h0M56.9 253.1h0M64.5 246.4h0M64.7 243.4h0M43.1 262.9h0M70.1 239.6h0M70.4 241.4h0M59.2 253.2h0M69.9 239.1h0M56.9 257.5h0M79.9 231.3h0M46.5 262.8h0M55.1 255.3h0M83.0 230.3h0M60.7 248.7h0M55.7 256.2h0M105.6 205.6h0M85.9 225.8h0M84.9 225.4h0M82.4 229.0h0M80.6 230.9h0M46.3 268.4h0M95.7 216.2h0M72.6 234.9h0M79.9 231.0h0M69.4 239.0h0M61.4 249.8h0M75.1 232.8h0M47.5 264.8h0M81.9 231.2h0M59.6 250.4h0M62.8 249.6h0M57.1 253.8h0M78.6 232.0h0M86.1 224.8h0M74.3 237.7h0M49.2 262.8h0M56.7 251.7h0M95.0 216.4h0M52.7 261.8h0M86.6 223.9h0M49.4 259.6h0M45.3 269.2h0M62.1 251.6h0M95.8 214.5h0M65.0 247.1h0M81.7 230.6h0M48.7 262.9h0M69.7 242.7h0M52.4 260.1h0M58.4 251.9h0M70.0 243.1h0M69.1 242.5h0M86.8 225.3h0M64.3 244.9h0M104.7 206.7h0M53.6 254.0h0M54.7 257.2h0M54.5 260.4h0M47.1 262.9h0M77.4 235.1h0M62.1 251.3h0M103.6 208.0h0M93.5 218.6h0M53.5 257.1h0M79.9 230.5h0M87.3 223.4h0M45.5 267.5h0M67.9 245.7h0M57.7 250.3h0M80.7 228.0h0M83.8 225.7h0M53.0 255.6h0M52.3 263.2h0M49.3 263.2h0M80.7 232.9h0M95.2 216.8h0M75.7 238.0h0M77.6 231.1h0M55.9 252.9h0M54.8 260.0h0M54.2 253.9h0M54.4 256.6h0M56.0 255.5h0M64.6 245.7h0M55.2 256.7h0M65.7 244.1h0M89.7 220.4h0M87.9 221.5h0M71.0 243.0h0M67.0 245.2h0M73.9 235.0h0M54.6 259.1h0M46.6 261.9h0M82.4 229.3h0M53.6 260.4h0M78.3 232.6h0M97.9 214.2h0M58.4 253.2h0M53.5 256.6h0M97.5 213.8h0M73.7 234.5h0M48.6 259.8h0M68.6 238.7h0M56.7 249.6h0M89.6 220.2h0M47.2 262.4h0M75.4 237.7h0M88.0 222.9h0M47.6 267.9h0M66.6 243.8h0M58.6 250.2h0M65.2 245.1h0M61.4 246.8h0M64.6 244.7h0M68.2 242.1h0M102.9 208.5h0M56.3 255.6h0M57.8 255.3h0M103.6 208.8h0M98.9 210.9h0M96.7 215.1h0M44.5 272.0h0M75.5 235.7h0M71.2 243.1h0M48.0 268.6h0M66.2 244.6h0M48.9 262.8h0M89.3 221.7h0M45.3 266.4h0M85.7 226.0h0M69.4 243.9h0M80.2 231.0h0M47.2 264.4h0M82.9 226.1h0M60.9 251.1h0M57.8 253.9h0M81.1 229.9h0M54.7 259.5h0M57.8 255.1h0M74.8 237.6h0M90.5 220.4h0M51.3 258.8h0M64.3 245.8h0M82.1 229.6h0M73.6 236.7h0M54.7 258.8h0M90.0 221.2h0M51.7 259.5h0M57.5 251.9h0M78.1 234.3h0M67.3 247.0h0M47.7 263.6h0M53.0 260.6h0M61.2 248.1h0M58.7 252.9h0M93.7 216.6h0M49.8 261.9h0M82.5 228.5h0M82.6 229.7h0M59.7 252.4h0M79.1 230.4h0M64.1 247.1h0M65.2 246.4h0M59.7 247.1h0M50.1 258.6h0M52.5 253.6h0M96.2 216.3h0M58.1 252.2h0M77.3 234.3h0M98.2 212.7h0M75.0 235.5h0M90.6 220.9h0M63.1 253.3h0M59.4 250.7h0M97.2 213.4h0M47.4 262.9h0M46.3 262.2h0M56.6 254.3h0M66.6 243.8h0M67.3 246.9h0M66.6 246.1h0M98.4 212.2h0M47.6 262.7h0M56.7 254.4h0M65.5 250.4h0M50.8 262.7h0M56.1 252.5h0M82.8 227.1h0M70.6 241.0h0M87.1 224.7h0M98.0 213.0h0M104.1 206.0h0M60.6 250.2h0M46.5 263.9h0M78.7 231.8h0M52.7 256.7h0M83.3 227.8h0M65.2 247.4h0M51.6 262.6h0M44.0 267.9h0M54.7 256.0h0M71.5 241.1h0M71.8 238.1h0M57.0 257.6h0M69.4 239.0h0M61.4 252.4h0M57.7 254.4h0M94.0 216.9h0M87.8 220.9h0M90.5 220.0h0M105.8 204.7h0M55.8 253.6h0M53.7 253.9h0M69.6 239.4h0M55.6 250.5h0M48.4 264.3h0M68.3 244.6h0M65.2 244.1h0M59.7 253.0h0M42.1 272.6h0M69.1 242.2h0M72.3 239.7h0M65.2 246.0h0M64.4 250.3h0M55.5 261.3h0M62.6 245.6h0M53.6 255.3h0M85.7 225.3h0M92.7 219.1h0M65.5 248.1h0M98.2 212.4h0M64.8 248.2h0M86.7 224.4h0M65.4 246.6h0M52.9 257.0h0M86.1 224.1h0M94.4 219.0h0M75.4 235.2h0M84.1 228.9h0M83.4 226.8h0M56.4 250.9h0M54.0 256.9h0M65.9 245.7h0M58.1 252.5h0M93.7 218.6h0M96.4 214.9h0M74.3 237.4h0M48.9 256.0h0M56.7 255.3h0M51.7 261.5h0M105.9 206.0h0M71.7 237.6h0M46.8 260.7h0M89.1 221.8h0M89.7 223.2h0M68.8 240.1h0M64.9 247.5h0M59.9 251.8h0M50.8 260.2h0M83.0 228.0h0M81.5 228.0h0M76.0 236.5h0M55.2 256.5h0M51.8 262.4h0M97.7 214.3h0M57.6 249.1h0M55.9 258.0h0M99.2 213.3h0M81.4 232.0h0M57.7 254.3h0M64.7 244.3h0M45.5 263.1h0M64.0 249.3h0M79.3 231.9h0M69.4 240.7h0M53.9 258.0h0M46.5 263.9h0M58.6 258.3h0M72.7 239.3h0M61.3 251.5h0M64.0 246.5h0M100.3 210.2h0M75.5 234.7h0M80.5 232.4h0M97.2 214.3h0M92.7 218.4h0M110.8 199.7h0M66.7 243.5h0M46.7 259.3h0M50.4 263.5h0M77.6 234.0h0M78.1 234.2h0M73.2 235.6h0M76.7 236.0h0M48.8 261.8h0M64.1 243.2h0M46.7 266.9h0M47.4 264.8h0M62.3 245.8h0M49.5 265.7h0M79.3 231.2h0M60.7 252.6h0M71.3 242.0h0M46.2 265.8h0M46.6 266.7h0M64.0 246.6h0M60.2 251.1h0M63.8 243.6h0M87.7 221.9h0M64.6 248.2h0M105.5 205.8h0M49.2 263.0h0M88.9 221.5h0M65.7 247.3h0M91.1 219.6h0M54.6 255.8h0M62.8 251.7h0M59.1 254.6h0M56.9 253.4h0M71.8 240.7h0M81.3 229.4h0M63.1 252.5h0M63.1 247.6h0M59.5 246.9h0M82.2 231.0h0M60.7 252.5h0M56.1 259.0h0M77.9 231.4h0M74.4 237.6h0M62.2 250.1h0M81.1 230.8h0M67.2 242.4h0M77.1 234.3h0M44.2 272.9h0M54.6 254.5h0M71.2 239.8h0M108.9 201.7h0M52.1 258.4h0M69.5 242.1h0M85.0 225.6h0M69.9 242.9h0M77.1 234.0h0M69.3 245.0h0" stroke="#d5d5d5" stroke-width="1.2" stroke-linecap="round" fill="none"/>
<path d="M46.2 253.1h0M55.9 248.4h0M69.3 239.0h0M62.8 244.1h0M61.1 234.2h0M46.9 255.0h0M54.9 249.7h0M43.5 256.6h0M66.4 237.7h0M47.4 249.7h0M51.5 255.2h0M57.3 248.1h0M54.9 229.5h0M56.2 237.2h0M49.4 249.7h0M40.6 263.1h0M60.0 243.3h0M64.3 242.3h0M46.9 257.4h0M55.2 252.7h0M50.1 251.3h0M42.9 261.1h0M65.7 231.1h0M46.1 259.6h0M42.0 263.9h0M63.3 239.5h0M46.6 256.2h0M60.2 248.3h0M64.0 236.0h0M44.9 254.0h0M60.3 246.4h0M65.9 241.8h0M53.2 252.6h0M52.2 246.5h0M56.2 247.4h0M69.3 238.6h0M45.3 255.4h0M43.0 241.2h0M49.0 254.9h0M51.8 246.2h0M67.1 236.8h0M43.7 260.1h0M60.5 247.0h0M66.0 233.7h0M45.4 258.6h0M45.5 253.3h0M39.7 257.9h0M40.2 252.9h0M55.4 248.4h0M41.3 264.8h0M49.4 233.7h0M57.2 241.9h0M40.2 265.2h0M38.9 258.4h0M43.8 260.7h0M59.3 244.0h0M48.4 255.1h0M47.4 254.7h0M49.5 255.3h0M46.1 258.7h0M46.5 260.4h0M48.0 253.8h0M46.7 259.5h0M64.9 241.1h0M54.4 251.7h0M66.2 236.5h0M57.9 245.6h0M60.1 245.4h0M51.3 253.6h0M54.1 250.5h0M54.9 249.3h0M63.1 235.7h0M45.3 261.4h0M47.7 259.2h0M63.3 241.1h0M47.3 258.5h0M65.6 235.2h0M59.8 243.5h0M61.7 244.2h0M50.8 252.2h0M66.0 221.8h0M67.1 233.8h0M40.6 263.7h0M68.8 236.7h0M54.5 251.6h0M65.4 240.2h0M69.4 239.2h0M69.5 239.4h0M42.9 260.3h0M58.4 249.5h0M56.0 238.6h0M52.0 247.9h0M56.9 247.2h0M43.7 258.8h0M66.6 237.3h0M45.1 257.9h0M55.4 250.7h0M56.4 247.0h0M38.8 265.4h0M58.9 248.5h0M40.6 255.6h0M48.8 239.9h0M55.9 251.7h0M58.3 248.7h0M63.9 239.1h0M62.1 246.2h0M39.3 255.2h0M42.7 262.3h0M39.2 265.6h0M53.2 238.0h0M48.4 257.0h0M64.3 243.5h0M58.3 245.8h0M67.7 241.0h0M56.0 249.8h0M64.2 243.3h0M60.8 246.9h0M53.8 236.3h0M45.8 259.0h0M67.1 236.8h0M40.3 264.4h0M45.7 259.0h0M64.8 238.6h0M69.1 235.0h0M58.0 248.2h0M60.8 244.7h0M40.1 261.3h0M50.4 252.8h0M39.8 266.2h0M69.2 237.7h0M48.7 257.6h0M56.9 239.8h0M43.9 258.2h0M54.0 246.5h0M56.1 250.8h0M44.2 254.0h0M40.7 251.5h0M39.3 265.3h0M53.0 245.0h0M57.8 244.3h0M62.2 240.7h0M39.9 253.8h0M42.9 262.4h0M39.4 266.5h0M65.9 240.8h0M41.0 265.0h0M64.9 239.8h0M67.1 241.6h0M41.8 262.3h0M44.3 261.7h0M44.6 255.5h0M43.6 261.8h0M55.1 250.6h0M43.0 257.9h0M54.3 251.2h0M53.2 254.4h0M57.6 249.7h0M48.8 258.4h0M66.2 238.7h0M50.6 252.5h0M67.8 240.5h0M50.3 250.2h0M50.0 250.4h0M66.9 241.8h0M47.2 257.7h0M61.9 240.0h0M60.3 236.8h0M44.1 259.3h0M65.1 237.3h0M41.8 237.7h0M61.6 238.1h0M49.7 252.4h0M68.4 230.4h0M56.4 241.2h0M69.7 231.2h0M58.9 235.3h0M42.8 260.3h0M56.0 251.4h0M62.8 245.6h0M58.1 248.8h0M48.4 253.3h0M44.3 258.6h0M65.2 224.4h0M46.5 257.6h0M60.1 247.5h0M65.0 242.8h0M55.8 250.3h0M38.3 267.7h0M38.3 264.7h0M46.9 230.9h0M58.3 249.8h0M60.8 246.6h0M53.4 247.7h0M65.2 231.4h0M51.5 254.0h0M50.8 254.6h0M61.6 244.2h0M59.8 247.9h0M62.9 230.7h0M44.7 255.9h0M43.4 263.0h0M51.3 255.2h0M61.3 243.6h0M59.5 233.8h0M40.1 265.4h0M39.4 262.3h0M64.2 239.4h0M55.5 243.1h0M50.0 256.7h0M58.5 249.9h0M45.5 261.2h0M43.4 262.8h0M55.0 252.3h0M57.3 242.9h0M49.1 257.4h0M59.4 243.3h0M66.1 239.2h0M56.6 242.2h0M59.6 232.6h0M47.3 250.7h0M58.2 247.4h0M38.6 262.7h0M46.6 254.7h0M54.3 250.0h0M40.1 265.1h0M57.4 245.6h0M69.4 232.6h0M47.4 256.0h0M54.2 245.4h0M50.7 242.6h0M53.5 251.7h0M53.4 252.1h0M69.7 239.1h0M50.8 256.2h0M59.6 248.2h0M43.0 259.9h0M57.2 244.3h0M52.3 253.5h0M49.8 245.0h0M45.0 261.7h0M66.1 239.8h0M42.4 263.1h0M66.3 236.4h0M40.3 257.9h0M45.0 258.0h0M57.3 250.7h0M67.7 239.4h0M42.8 253.5h0M41.7 264.4h0M58.8 246.9h0M66.6 235.3h0M44.8 261.7h0M57.3 248.1h0M47.7 244.4h0M44.8 255.3h0M40.6 247.5h0M68.1 236.6h0M48.3 251.2h0M66.7 235.2h0M39.5 261.5h0M42.7 258.5h0M68.2 231.9h0M46.1 255.8h0M48.3 257.8h0M61.7 240.6h0M48.9 255.2h0M60.2 242.6h0M52.9 254.2h0M41.3 263.8h0M64.3 241.4h0M58.5 247.9h0M49.9 256.4h0M68.9 235.9h0M42.3 255.9h0M57.1 246.7h0M62.5 242.0h0M65.9 227.5h0M51.1 250.7h0M50.0 254.4h0M49.8 251.6h0M49.4 255.5h0M64.9 236.7h0M59.5 240.7h0M50.4 251.2h0M46.2 258.4h0M41.4 253.8h0M67.3 240.0h0M50.2 256.5h0M42.7 256.9h0M66.3 242.1h0M46.3 251.8h0M45.4 248.1h0M49.4 254.2h0M44.6 259.9h0M51.6 254.2h0M61.2 247.2h0M58.4 242.8h0M48.5 257.4h0M42.0 263.9h0M63.2 241.4h0M38.7 262.9h0M57.1 249.4h0M39.4 262.8h0M49.4 237.2h0M49.6 243.0h0M65.6 239.4h0M42.2 253.0h0M41.1 259.5h0M41.3 264.4h0M51.2 255.4h0M69.5 235.7h0M66.5 228.5h0M62.1 241.9h0M53.2 246.7h0M59.3 248.4h0M54.9 250.4h0M54.5 247.2h0M60.0 244.8h0M63.1 237.9h0M41.2 264.1h0M39.7 265.2h0M68.4 238.9h0M52.1 252.2h0M56.0 250.5h0M62.8 244.1h0M64.9 236.7h0M38.3 261.8h0M41.2 250.1h0M40.4 263.6h0M62.5 242.2h0" stroke="#f7821e" stroke-width="1.4" stroke-linecap="round" fill="none"/>
<path d="M60.0 245.8h0M55.7 251.1h0M54.0 252.2h0M60.2 247.6h0M44.5 260.9h0M56.1 247.7h0M40.5 244.5h0M64.9 241.4h0M45.1 253.0h0M69.1 238.8h0M62.6 237.7h0M67.9 239.8h0M44.0 261.5h0M47.2 248.5h0M67.1 238.6h0M44.2 260.1h0M47.5 254.3h0M61.5 239.7h0M53.3 251.4h0M54.2 251.3h0M53.8 248.3h0M61.3 245.2h0M57.1 250.2h0M41.8 262.0h0M51.0 256.1h0M42.8 260.8h0M68.1 232.0h0M41.3 262.9h0M51.3 254.3h0M44.5 257.7h0M65.0 241.3h0M45.6 260.4h0M40.9 258.1h0M47.2 253.4h0M63.6 244.5h0M46.0 258.8h0M63.0 239.1h0M49.3 254.9h0M50.9 253.3h0M63.7 243.4h0M64.2 232.3h0M58.1 234.8h0M67.9 240.0h0M69.5 238.3h0M64.0 243.9h0M49.3 254.9h0M65.0 238.1h0M46.4 249.3h0M65.8 239.4h0M41.9 262.6h0M49.0 255.4h0M68.1 236.4h0M64.5 243.8h0M47.6 252.9h0M50.4 255.5h0M42.3 263.6h0M52.5 251.2h0M52.2 251.3h0M49.0 258.0h0M60.2 246.2h0M54.8 250.6h0M48.4 258.3h0M49.1 256.2h0M43.8 262.4h0M54.5 253.1h0M66.2 240.4h0M53.5 250.6h0M41.2 264.3h0M63.5 241.2h0M54.9 250.9h0" stroke="#43b51c" stroke-width="1.4" stroke-linecap="round" fill="none"/>
<path d="M89.8 217.7h0M91.2 212.7h0M94.7 211.0h0M87.2 220.5h0M82.4 224.4h0M82.1 221.8h0M93.5 216.3h0M89.8 216.8h0M84.6 217.2h0M65.9 240.8h0M77.0 222.5h0M69.9 236.4h0M69.2 235.2h0M80.9 224.3h0M74.7 227.5h0M64.5 243.4h0M89.2 213.6h0M90.7 218.1h0M67.0 237.8h0M89.1 220.5h0M96.1 211.5h0M65.4 241.2h0M75.8 233.2h0M94.4 206.5h0M68.5 238.5h0M73.6 232.0h0M68.0 239.6h0M78.2 229.1h0M79.1 227.4h0M96.3 204.9h0M95.1 209.0h0M72.0 236.2h0M79.9 226.2h0M84.9 223.4h0M98.0 210.8h0M64.9 243.6h0M71.4 233.4h0M92.9 216.9h0M72.3 235.9h0M91.0 211.3h0M73.2 235.6h0M97.2 201.1h0M88.6 219.1h0M89.7 215.3h0M81.6 227.0h0M82.1 223.9h0M75.3 230.6h0M69.2 228.0h0M71.4 236.8h0M96.9 203.2h0M95.7 208.2h0M93.1 211.1h0M83.5 225.9h0M89.2 214.7h0M92.8 217.0h0M66.3 238.2h0M80.9 221.3h0M98.0 210.1h0M87.2 218.9h0M87.9 220.4h0" stroke="#f7821e" stroke-width="1.4" stroke-linecap="round" fill="none"/>
<path d="M84.2 225.4h0M93.1 214.5h0M89.7 219.0h0M69.4 238.5h0M85.6 222.7h0M66.1 242.7h0M76.0 232.9h0M70.1 238.5h0M76.6 230.6h0M93.5 214.4h0M63.1 241.8h0M83.1 224.1h0M83.3 225.6h0M74.0 235.1h0M85.0 224.6h0M85.6 219.7h0M85.2 222.9h0M89.9 214.0h0M90.1 211.3h0M78.1 231.4h0M83.3 224.5h0M91.8 216.4h0M74.8 234.5h0M90.7 217.4h0M96.0 212.4h0M91.4 215.7h0M96.1 212.7h0M93.0 216.1h0M62.8 245.1h0M74.4 225.9h0M75.9 232.9h0M85.9 223.6h0M72.8 235.4h0M66.7 240.5h0M76.8 229.6h0M74.0 228.3h0M69.1 238.5h0M70.1 238.9h0M72.7 232.3h0M72.3 235.6h0M80.3 228.8h0M80.6 228.9h0M74.3 234.3h0M90.2 217.0h0M86.3 221.8h0M91.9 215.5h0M64.3 244.2h0M87.9 218.5h0M96.1 211.2h0M67.8 239.6h0M83.7 224.3h0M67.0 235.5h0M79.8 229.2h0M95.8 213.3h0M64.8 241.9h0M71.3 237.4h0M72.7 234.7h0M73.3 233.9h0M93.2 208.1h0M92.7 212.6h0M71.0 234.9h0M65.5 241.7h0M65.0 243.6h0M94.7 215.0h0M86.8 221.6h0M62.5 243.3h0M64.5 240.3h0M90.3 218.3h0M77.6 231.8h0M86.2 223.4h0M80.3 224.5h0M85.5 224.0h0M87.0 220.6h0M73.6 232.9h0M82.1 226.5h0M80.3 228.7h0M72.2 232.9h0M74.3 232.2h0M74.9 234.0h0M62.5 240.1h0M88.0 214.4h0M82.5 227.1h0M68.0 240.9h0M83.3 224.6h0M94.9 214.4h0M70.4 238.2h0M67.4 241.4h0M79.2 229.3h0M74.9 228.8h0M73.1 232.9h0M80.5 228.9h0M63.4 243.5h0M92.2 217.6h0M86.3 223.0h0M85.8 220.6h0M87.2 222.1h0M67.7 234.9h0M93.6 211.6h0M80.8 228.7h0M75.0 229.9h0M64.7 243.4h0M63.9 240.9h0M74.5 234.7h0M74.5 234.3h0M77.2 230.5h0M84.8 224.7h0M80.6 228.9h0M77.4 228.9h0M71.4 234.6h0M70.7 237.4h0M89.4 220.4h0M81.3 226.9h0M86.8 217.6h0M86.1 223.2h0M69.2 238.6h0M72.0 235.7h0M65.5 241.2h0M76.6 232.7h0M66.5 237.3h0M91.3 214.6h0M75.7 226.0h0M68.2 238.4h0M94.5 215.1h0M62.6 245.8h0M65.3 240.5h0M83.1 225.4h0M66.3 240.6h0M67.1 241.6h0M82.6 225.1h0M89.7 216.9h0M67.1 241.1h0M67.3 240.3h0M63.4 241.6h0M85.6 221.1h0M79.0 226.0h0M90.8 215.8h0M89.9 219.6h0M74.2 235.0h0M88.4 220.2h0M96.0 213.4h0M77.1 228.6h0M95.4 212.0h0M92.5 212.7h0M71.7 235.7h0M64.6 242.1h0M94.8 213.9h0M67.4 240.0h0M64.6 243.0h0M65.1 242.7h0M90.3 217.1h0M91.5 217.3h0M77.4 231.9h0M89.3 219.0h0M76.3 232.8h0M78.0 231.3h0M66.5 242.2h0M76.9 232.2h0M90.6 217.6h0M91.9 216.5h0M67.9 240.5h0M91.0 217.3h0M84.4 223.4h0M64.1 244.3h0M77.1 228.9h0M94.5 213.8h0M71.3 237.8h0M81.4 227.2h0M94.1 215.4h0M69.4 239.6h0M63.4 242.3h0M92.1 217.5h0M62.9 244.2h0M70.8 236.5h0M93.5 214.0h0M71.9 235.5h0M72.3 234.3h0M71.2 234.1h0M85.5 220.1h0M74.2 229.4h0M82.2 226.9h0M84.4 224.6h0M66.3 242.5h0M83.2 226.0h0M65.8 240.2h0M67.3 239.1h0M71.7 236.6h0M94.2 212.6h0M90.8 211.8h0M83.0 221.6h0M83.6 224.5h0M73.4 234.9h0M81.8 227.3h0M84.3 221.7h0M86.9 222.4h0M63.4 244.5h0M77.2 228.8h0M81.0 227.2h0M83.0 225.1h0M85.5 222.7h0M81.2 227.9h0M66.6 241.2h0M92.6 211.9h0M72.4 235.2h0M80.1 228.4h0M68.5 237.6h0M65.3 243.0h0M71.9 236.8h0M69.0 239.8h0M80.2 229.0h0M84.3 223.7h0M83.7 224.8h0M83.3 225.8h0M78.2 229.1h0M69.7 236.8h0M82.3 220.5h0M83.4 224.8h0M88.6 220.6h0M75.1 233.2h0M87.4 220.0h0M68.7 234.6h0M95.8 212.9h0M96.3 211.9h0M75.5 233.7h0M63.0 244.0h0M86.9 221.1h0M89.1 219.7h0M87.7 220.4h0M84.0 224.2h0M85.1 223.1h0M65.5 241.2h0M86.4 222.4h0M95.4 213.4h0M68.1 239.5h0M74.6 234.3h0M92.7 216.9h0M86.7 222.8h0M80.0 219.0h0M65.4 239.8h0M62.6 239.0h0M93.3 215.5h0M84.1 224.4h0M68.0 240.1h0M77.4 228.2h0M66.3 241.1h0M78.5 229.5h0M89.4 218.8h0M73.4 230.1h0M82.8 226.3h0M81.1 224.8h0M64.0 242.8h0M79.0 229.9h0M67.8 240.6h0M77.3 231.1h0M82.9 226.2h0M83.5 225.0h0M89.5 217.3h0M70.5 231.6h0M81.0 227.8h0M71.1 235.7h0M77.3 230.0h0M71.1 234.3h0M71.4 233.9h0M77.3 231.1h0M82.1 226.2h0M81.1 227.0h0M94.8 212.7h0M65.6 235.1h0M62.9 245.6h0M90.3 219.0h0M63.4 244.9h0M79.3 226.8h0M63.1 245.3h0M62.9 245.7h0M73.1 234.8h0M95.4 212.7h0M91.5 216.7h0M93.4 214.5h0M70.6 237.6h0M78.7 230.5h0M93.9 214.9h0M69.2 238.5h0M89.8 219.4h0M82.4 227.1h0M70.6 238.1h0M79.6 227.8h0M70.2 236.7h0M82.4 224.7h0M96.3 213.0h0M96.3 212.6h0M79.8 229.4h0M65.3 241.6h0M65.9 242.8h0M65.3 242.1h0M69.1 239.3h0M88.5 220.2h0M67.4 239.4h0M96.3 212.0h0M77.6 230.4h0M86.3 220.1h0M89.2 220.2h0M89.0 220.7h0M66.8 240.8h0M68.7 238.8h0M72.1 231.8h0M77.2 229.1h0M94.6 214.3h0M88.6 220.0h0M76.0 233.1h0M84.8 220.2h0M85.8 223.2h0M80.3 228.5h0M75.7 230.9h0M62.6 244.8h0M79.8 229.4h0M87.3 221.9h0M76.2 232.7h0M82.8 225.9h0M85.7 223.0h0M89.1 219.3h0M66.0 241.6h0M71.0 237.4h0M94.7 214.1h0M87.6 221.9h0M83.8 225.6h0M70.0 238.8h0M63.3 241.0h0M95.3 213.9h0M62.9 243.4h0M85.0 224.7h0M88.5 221.2h0" stroke="#43b51c" stroke-width="1.4" stroke-linecap="round" fill="none"/>
<path d="M58.7 260.1h0M66.9 247.7h0M62.9 255.9h0M64.4 251.8h0M57.9 256.7h0M58.0 258.7h0M64.3 251.5h0M64.9 251.5h0M65.0 250.5h0M68.0 247.9h0M68.6 257.6h0M67.8 250.3h0M65.7 250.6h0M58.9 255.8h0M65.3 249.5h0M64.5 251.8h0M64.4 251.2h0M58.8 256.7h0M65.8 254.5h0M60.0 255.4h0M62.0 253.8h0M64.8 253.3h0M66.9 251.8h0M66.3 258.1h0M62.0 253.9h0M65.1 249.9h0M67.8 247.5h0M63.7 252.5h0M60.7 253.6h0M59.4 256.9h0M69.7 244.3h0M69.0 255.3h0M67.3 247.5h0M55.4 265.7h0M56.2 259.6h0M69.5 247.4h0M67.8 251.3h0M57.8 258.7h0M56.6 259.5h0M62.7 256.4h0M59.5 258.0h0M57.3 258.2h0M56.0 261.3h0M64.1 253.6h0M61.6 260.8h0M66.2 250.1h0M68.5 245.8h0M59.6 257.1h0M64.3 258.9h0M65.5 248.5h0M69.6 245.9h0M58.3 260.4h0M64.8 254.9h0M63.6 251.3h0M62.3 253.6h0M60.5 256.3h0M57.4 258.0h0M56.9 257.8h0M63.2 254.8h0M61.3 259.8h0M64.5 252.7h0M59.5 261.6h0M60.4 259.3h0M58.9 264.5h0M65.6 248.9h0M66.3 248.0h0M61.0 254.6h0M60.2 255.3h0M57.6 258.5h0M56.5 262.8h0M60.5 257.4h0M61.7 263.3h0M68.6 248.7h0M68.0 252.9h0M69.4 245.8h0M64.2 250.0h0M60.7 254.7h0M64.7 249.3h0M66.7 247.4h0M61.6 254.5h0M68.0 248.6h0M57.4 260.4h0M58.7 258.5h0M61.5 261.9h0M62.0 253.1h0M59.9 263.8h0M60.5 254.6h0M63.3 254.0h0M69.6 244.3h0M60.2 257.9h0M62.7 254.8h0M65.5 248.7h0M55.9 259.5h0M59.8 255.1h0M59.5 255.2h0M55.5 261.5h0M66.8 247.6h0M56.5 262.0h0M56.3 258.8h0M62.6 252.5h0M67.2 248.7h0M63.1 252.3h0M55.5 264.4h0M61.1 258.3h0M56.7 259.6h0M63.4 251.1h0M56.2 266.6h0M63.5 254.5h0M64.3 251.6h0M57.7 259.8h0M61.9 255.6h0M55.7 260.1h0M56.8 262.0h0M62.5 252.6h0M67.1 248.8h0M59.6 256.2h0M55.1 259.9h0M55.7 268.8h0M68.6 247.4h0M69.6 246.3h0M65.6 248.6h0M61.8 255.1h0M61.4 255.9h0M60.4 257.0h0M58.3 258.1h0M61.7 254.7h0M55.9 259.6h0M66.1 248.3h0M62.4 267.0h0M64.5 253.4h0M66.9 257.0h0M61.1 254.6h0M66.7 247.2h0M62.3 252.8h0M63.7 254.3h0M68.3 247.5h0M65.7 248.4h0M65.2 256.5h0M64.6 251.4h0M63.0 252.7h0M57.9 257.3h0M67.3 248.6h0M55.7 261.9h0M67.9 249.0h0M57.9 265.6h0M57.9 258.7h0M62.2 252.5h0M59.2 255.7h0M57.7 257.0h0M65.0 252.2h0M59.0 264.3h0M61.6 254.4h0M69.4 247.4h0M62.3 255.9h0M66.5 248.4h0M56.2 262.4h0M66.6 249.9h0M56.9 261.8h0M57.8 261.4h0M64.7 252.3h0M56.3 259.8h0M66.4 247.8h0M55.7 260.7h0M68.2 248.4h0M58.6 256.0h0M68.0 251.2h0M65.9 248.7h0M66.6 247.2h0M57.7 257.9h0" stroke="#f7821e" stroke-width="1.4" stroke-linecap="round" fill="none"/>
<path d="M96.2 220.1h0M89.4 223.8h0M90.2 222.3h0M93.1 221.9h0M96.6 223.6h0M69.4 247.1h0M89.6 230.3h0M90.2 232.5h0M82.3 236.9h0M80.5 233.1h0M86.4 228.1h0M95.7 225.9h0M75.2 246.3h0M77.5 242.1h0M67.7 250.6h0M96.3 221.9h0M84.0 230.2h0M72.0 249.2h0M87.3 229.3h0M75.3 239.1h0M78.0 235.5h0M76.7 243.0h0M68.5 246.6h0M92.5 231.2h0M91.0 226.4h0M81.0 233.4h0M75.9 238.6h0M67.3 248.8h0M80.7 233.3h0M85.4 227.5h0M85.4 229.4h0M84.0 229.1h0M82.9 231.1h0M71.6 244.8h0M81.7 236.2h0M87.5 231.3h0M75.3 240.8h0M89.7 225.8h0M73.1 246.7h0M91.4 227.2h0M83.1 244.5h0M91.2 231.7h0M77.8 235.8h0M70.8 249.0h0M72.3 246.7h0M78.7 238.6h0M95.1 220.1h0M77.3 241.8h0M76.7 238.7h0M93.6 219.6h0M76.0 251.7h0M78.5 235.1h0M90.6 238.9h0M69.3 247.5h0M81.4 232.0h0M95.0 218.4h0M77.2 236.6h0M69.2 245.8h0M69.5 246.5h0M95.0 234.2h0M83.1 238.2h0M82.4 235.8h0M90.9 227.3h0M72.1 245.8h0M71.2 246.4h0M75.7 240.0h0M96.1 227.9h0M70.5 245.2h0M70.0 246.2h0M85.1 229.4h0M84.8 232.4h0M71.1 244.7h0M88.2 230.4h0M92.0 227.1h0M69.1 247.9h0M95.5 219.8h0M85.9 228.8h0M67.3 250.7h0M82.6 232.9h0M82.4 231.5h0M83.4 231.1h0M76.4 243.4h0M88.4 236.0h0M80.6 235.6h0M72.1 242.8h0M69.7 249.8h0M94.9 218.6h0M69.0 248.9h0M80.8 235.4h0M72.3 241.6h0M83.6 231.1h0M73.5 241.7h0M85.4 227.2h0M88.2 225.7h0M93.5 223.5h0M73.3 248.9h0M76.3 242.5h0M86.1 231.6h0M83.8 229.2h0M69.4 247.3h0M68.6 246.5h0M93.8 219.9h0M96.3 227.6h0M86.0 239.6h0M67.0 249.5h0M76.3 240.0h0M68.9 244.5h0M80.6 233.1h0M81.6 232.5h0M94.0 234.5h0M82.2 232.2h0M90.0 228.4h0M90.7 228.3h0M77.6 242.4h0M72.1 243.1h0M88.9 225.0h0M74.6 247.8h0M85.2 227.4h0M94.8 219.0h0M89.6 233.0h0M88.0 232.0h0M87.1 229.5h0M83.7 243.1h0M76.0 239.6h0M72.7 244.7h0M88.8 223.6h0M86.4 230.4h0M85.8 226.7h0M79.0 236.4h0M70.2 247.8h0M88.0 227.2h0M85.8 227.2h0M85.7 232.5h0M82.4 234.8h0M97.2 220.4h0M91.8 225.8h0M87.3 232.8h0M69.0 259.2h0M73.3 240.8h0M95.2 230.4h0M73.8 249.8h0M89.0 224.6h0M84.9 238.7h0M69.6 250.1h0M96.5 218.2h0M90.0 231.4h0M75.8 241.1h0M91.1 235.2h0M96.8 224.0h0M89.5 228.0h0M96.2 216.7h0M69.9 247.1h0M72.1 241.4h0M76.7 243.1h0M71.4 248.0h0M91.9 225.9h0M70.6 255.7h0M77.9 236.2h0M83.2 229.8h0M93.7 219.9h0M90.6 222.2h0M81.9 236.1h0M95.7 219.2h0M86.5 226.9h0M96.1 218.8h0M81.0 234.7h0M91.1 230.5h0M68.4 247.5h0M72.9 247.0h0M69.6 247.5h0M69.6 245.6h0M77.1 240.9h0M72.0 247.3h0M96.1 220.7h0M86.3 229.0h0M85.7 228.3h0M78.0 239.0h0M85.7 233.8h0M94.9 221.0h0M80.3 233.3h0M69.4 246.9h0M88.3 225.8h0M77.7 246.5h0M70.7 243.0h0M75.1 239.7h0M90.6 222.0h0M88.8 230.4h0M70.8 246.9h0M83.1 233.5h0M80.7 234.6h0M83.6 236.9h0M77.1 245.9h0M77.6 237.5h0M78.1 243.4h0M73.3 241.6h0M92.5 226.6h0M80.3 234.9h0M84.7 234.3h0M74.7 245.3h0M69.4 247.9h0M80.8 232.0h0M77.2 240.1h0M72.9 241.5h0M74.1 239.6h0M74.9 242.2h0M87.9 235.8h0M94.1 221.2h0M76.4 239.0h0M82.4 235.8h0M93.2 230.7h0M67.3 250.0h0M80.0 233.6h0M67.0 247.8h0M93.7 221.5h0M73.3 241.1h0M92.9 223.3h0M70.3 246.1h0M74.4 240.0h0M97.4 217.4h0M77.7 243.8h0M96.9 225.7h0M73.8 240.8h0M68.3 250.0h0M93.3 221.1h0M97.5 216.8h0M97.1 220.1h0M85.6 231.0h0M96.3 217.0h0M91.3 221.6h0M67.5 252.3h0M95.6 220.2h0M83.4 239.1h0M81.8 243.8h0M92.5 222.3h0M78.9 235.9h0M77.5 238.0h0M76.7 241.4h0M66.9 247.9h0M96.6 219.0h0M68.7 249.3h0M74.9 238.7h0M69.7 247.4h0M79.9 235.4h0M78.4 235.7h0M83.9 228.8h0M97.3 222.5h0M74.7 238.3h0M94.9 220.1h0M83.6 234.2h0M94.0 230.0h0M70.8 251.2h0M77.7 244.4h0M91.1 222.8h0M78.7 241.1h0M76.4 240.2h0M95.9 228.1h0M68.9 250.8h0M73.5 242.9h0M67.5 251.9h0M88.7 230.8h0M77.0 244.9h0M69.7 246.8h0M89.0 225.3h0M96.1 224.0h0M86.2 229.3h0M79.4 235.8h0M75.8 245.9h0M97.3 214.8h0M94.8 229.3h0M89.4 237.6h0M89.5 228.6h0M81.9 234.0h0M70.0 246.9h0M74.3 241.6h0M69.3 248.0h0M96.0 217.6h0M86.3 229.5h0M68.3 246.2h0M88.0 230.3h0M82.4 234.7h0M79.4 234.9h0M73.9 240.1h0M91.2 223.5h0M80.1 237.3h0M75.9 237.2h0M83.9 231.4h0M88.8 229.5h0M77.7 242.5h0M86.0 230.9h0M84.0 231.7h0M85.6 228.5h0M83.4 229.5h0M93.4 219.4h0M85.9 230.8h0M73.9 240.7h0M86.0 227.9h0M93.9 219.5h0M93.7 228.0h0M92.9 220.1h0M96.8 222.6h0M95.8 222.9h0M77.3 241.4h0M69.6 245.3h0M86.2 230.3h0M87.0 235.2h0M66.8 253.5h0M73.1 243.8h0M94.9 221.3h0M81.2 232.6h0M77.7 238.4h0M91.4 223.9h0M85.2 237.0h0M87.0 231.5h0M97.1 216.2h0M78.4 238.2h0M84.9 251.1h0M88.2 233.3h0M78.8 234.8h0M75.3 238.7h0M88.2 228.8h0M69.5 247.8h0M97.2 220.8h0M90.8 227.0h0M73.2 247.1h0M82.5 237.3h0M67.8 246.2h0M70.4 246.0h0M81.4 234.9h0M73.5 241.8h0M96.0 217.8h0M97.1 218.4h0M73.0 241.5h0M93.8 222.4h0M86.8 226.0h0M96.5 228.5h0M76.6 241.0h0M89.4 236.3h0M96.7 221.6h0M90.2 224.5h0M79.8 241.5h0M84.4 235.4h0M67.6 248.3h0M80.6 238.3h0M81.6 237.7h0M95.5 216.7h0M88.4 228.7h0M93.6 235.5h0M80.1 233.2h0M92.9 225.5h0M76.2 237.1h0M73.5 244.5h0M86.8 235.3h0M94.8 221.9h0M79.1 236.6h0M91.2 222.6h0M93.6 240.5h0M83.1 230.2h0M82.8 240.9h0M87.7 232.2h0M71.6 248.7h0M67.7 247.8h0M72.6 249.2h0M93.0 219.4h0M71.6 244.5h0M87.0 228.1h0M94.7 220.4h0M73.4 245.7h0M70.5 252.5h0M88.4 238.0h0M80.5 236.1h0M79.5 234.4h0M76.7 246.5h0M94.8 232.3h0M67.4 248.0h0M89.1 228.9h0M85.0 229.2h0M79.5 243.1h0M82.0 235.1h0M91.5 224.8h0M73.9 239.9h0M91.9 221.8h0M78.4 234.5h0M78.7 240.3h0M74.2 247.1h0M89.6 229.9h0M87.1 234.0h0M69.0 249.0h0M80.9 232.9h0M83.9 230.9h0M82.8 235.5h0M92.2 221.9h0M71.1 245.0h0M75.2 242.7h0M93.8 220.4h0M96.5 217.8h0M89.7 228.8h0M82.2 237.1h0M86.4 228.3h0M87.9 227.3h0M84.3 231.0h0M80.0 236.9h0M73.2 247.7h0M78.2 235.2h0M81.9 245.8h0M80.6 241.9h0M93.2 221.7h0M82.3 234.3h0M69.4 247.1h0M79.1 239.7h0M96.9 217.7h0M83.2 231.3h0M87.7 228.2h0M82.7 235.8h0M79.4 236.9h0M87.7 226.4h0M82.1 231.6h0M74.5 243.5h0M90.2 225.8h0M96.5 216.1h0M82.4 238.4h0M70.3 243.4h0M78.5 237.9h0M84.8 228.9h0M83.6 241.1h0M96.7 223.7h0M76.7 237.0h0M84.5 233.0h0M95.7 224.3h0M80.4 238.9h0M83.8 236.1h0M75.1 241.2h0M69.1 245.8h0M83.4 239.3h0M91.9 227.7h0M85.6 232.1h0M71.9 241.6h0M80.4 235.9h0M97.0 223.4h0M91.4 229.8h0M79.7 235.1h0M94.7 219.7h0M94.5 221.5h0M87.6 231.7h0M79.8 240.2h0M88.1 233.5h0M95.1 217.3h0M94.2 225.1h0M88.8 224.3h0M87.3 231.5h0M75.4 241.1h0M86.7 228.4h0M74.6 242.2h0M75.4 247.0h0M86.5 231.0h0M86.7 226.2h0M80.0 238.4h0M86.8 228.5h0M95.1 228.8h0M93.9 233.0h0M73.7 243.8h0M70.8 245.7h0M72.3 243.8h0M85.5 234.6h0M82.5 231.7h0M85.8 228.4h0M88.5 234.3h0M92.3 229.9h0M70.3 244.2h0M69.3 250.6h0M74.0 241.3h0M96.3 217.8h0M81.2 238.0h0M96.7 218.6h0M86.3 230.1h0M77.9 236.5h0M95.0 220.3h0M80.4 236.1h0M95.6 219.1h0M70.1 243.8h0M83.2 231.5h0M76.8 241.6h0M92.6 221.9h0M67.7 246.9h0M78.2 250.7h0M68.0 245.7h0M83.0 235.3h0M78.5 236.4h0M81.2 237.6h0M72.4 247.1h0M84.4 229.0h0M89.6 227.2h0M95.8 217.7h0M70.4 244.4h0M79.5 238.8h0M73.3 242.5h0M83.6 232.9h0M85.5 231.5h0M70.9 246.0h0M83.5 230.5h0M95.7 230.9h0M70.3 249.6h0M78.3 236.6h0M95.8 231.3h0M68.9 244.8h0M78.8 237.5h0M82.0 241.2h0M93.2 219.4h0M88.6 230.6h0M82.7 239.7h0M92.8 229.3h0M94.2 219.0h0M68.0 253.0h0M82.2 232.7h0M78.6 240.4h0M83.7 238.3h0M87.0 229.8h0M75.4 238.8h0M76.8 239.8h0M79.9 242.5h0M97.0 215.3h0M74.8 239.9h0M67.0 251.4h0M86.3 234.5h0M84.9 229.6h0M78.6 239.0h0M67.3 246.3h0M70.1 243.7h0M89.5 233.8h0M77.7 237.6h0M73.8 241.2h0M84.4 238.8h0M76.3 238.5h0M94.5 225.1h0M84.5 235.0h0M73.3 250.7h0M67.3 250.2h0M77.0 237.4h0M90.5 226.7h0M86.7 232.4h0M93.8 226.8h0M68.8 250.6h0M93.9 219.4h0M83.7 235.1h0M84.2 228.5h0M94.9 227.2h0M81.1 237.1h0M94.0 219.2h0M76.1 243.1h0M76.0 244.4h0M69.0 245.2h0M82.8 237.0h0M75.5 240.5h0M94.6 231.1h0M74.8 239.3h0M94.1 226.8h0M80.2 234.6h0M95.8 224.8h0M78.0 237.4h0M80.9 232.6h0M74.9 243.6h0M69.2 244.9h0M87.2 226.3h0M69.7 246.9h0M75.2 240.4h0M83.7 231.4h0M76.2 245.0h0M95.1 219.4h0M93.9 218.8h0M88.0 225.2h0M77.9 242.8h0M82.4 231.3h0M86.8 233.6h0M92.8 219.7h0M84.2 236.3h0M93.7 232.8h0M95.2 218.7h0M79.4 245.7h0M84.6 237.0h0M83.1 230.8h0M82.7 237.9h0M87.0 225.8h0M67.1 250.6h0M89.0 228.2h0M96.7 226.4h0M90.0 226.9h0M95.2 221.0h0M70.1 249.1h0M71.3 247.8h0M73.3 240.7h0M67.7 252.0h0M83.1 234.0h0M83.3 240.4h0M67.2 246.7h0M94.7 218.1h0M94.1 218.1h0M95.7 216.9h0M74.9 243.2h0M84.0 237.0h0M70.4 243.1h0M70.6 250.2h0M78.4 239.6h0M71.5 243.7h0M86.8 232.3h0M78.0 242.6h0M92.3 221.9h0M83.6 232.3h0M80.5 241.3h0M77.3 243.9h0M85.6 241.3h0M97.0 221.9h0M87.8 231.1h0M81.2 237.7h0M81.4 231.9h0M92.8 223.4h0M85.4 227.3h0M79.2 242.8h0M83.7 231.7h0M80.1 240.5h0M90.9 223.1h0M69.3 248.3h0M68.0 245.6h0M79.9 233.9h0M78.5 235.5h0M97.1 216.4h0M69.7 245.7h0M74.4 242.9h0M85.6 227.6h0M70.8 243.1h0M87.7 228.6h0M74.6 254.3h0M90.5 226.3h0M75.4 242.8h0M79.5 236.9h0M79.9 235.1h0M94.7 230.2h0M83.2 232.6h0M77.6 236.7h0M78.5 242.2h0M97.5 227.0h0M89.0 230.5h0M88.6 234.6h0M68.2 246.5h0M87.4 229.4h0M89.6 227.9h0M88.2 235.5h0M81.7 231.0h0M70.5 250.5h0M71.9 242.5h0M81.0 232.1h0M93.3 219.8h0M77.6 240.7h0M84.4 235.3h0M75.7 240.4h0M94.2 224.3h0M97.4 216.9h0M87.9 234.4h0M94.9 219.4h0M92.7 222.8h0M67.4 250.4h0M95.0 218.1h0M86.0 226.8h0M81.3 233.4h0M83.8 236.7h0M68.7 245.9h0M77.9 237.1h0M72.6 244.1h0M72.3 249.9h0M79.3 237.7h0M76.9 243.4h0M94.7 228.5h0M96.1 223.0h0M70.4 248.4h0M95.8 222.3h0M77.8 242.8h0M67.9 247.3h0M94.1 222.7h0M72.4 243.4h0M68.3 249.2h0M75.5 240.8h0M90.5 232.8h0M95.6 219.1h0M78.3 237.8h0M76.7 238.7h0M67.0 253.4h0M83.3 232.8h0M75.8 240.5h0M81.0 240.4h0M80.0 236.2h0M97.2 214.9h0M86.4 230.2h0M90.5 223.1h0M89.0 231.2h0M77.0 244.2h0M91.4 224.4h0M83.4 235.1h0M96.1 220.1h0M80.4 237.0h0M82.7 231.5h0M84.0 239.8h0M92.9 223.5h0M72.4 242.4h0M79.2 240.1h0M70.4 254.6h0M89.1 234.1h0M84.4 232.9h0M76.9 238.3h0M69.5 246.9h0M79.5 237.0h0M68.9 251.9h0M83.9 239.8h0M74.0 243.6h0M81.7 232.6h0M72.3 241.3h0M86.1 241.1h0M96.3 219.4h0M82.9 236.6h0M88.1 226.1h0M80.7 233.6h0M91.9 221.2h0M92.2 221.8h0M68.3 247.9h0M76.0 237.3h0M73.9 245.1h0M94.0 225.7h0M82.4 231.8h0M69.4 244.4h0M70.7 244.3h0M71.4 245.4h0M93.0 224.4h0M90.9 227.4h0M72.4 242.2h0M81.7 230.9h0M95.4 222.5h0M86.3 228.4h0M82.2 238.8h0M88.7 223.8h0M94.2 236.3h0M91.7 223.1h0M87.8 225.9h0M72.9 243.3h0M92.7 220.8h0M89.7 223.1h0M70.9 243.8h0M72.6 251.4h0M92.2 221.3h0M78.5 244.0h0M84.1 232.4h0M73.2 247.1h0M87.4 227.4h0M90.7 226.0h0M71.5 243.7h0M84.7 229.3h0M72.2 249.6h0M80.5 244.4h0M82.2 234.9h0M70.1 244.0h0M85.9 228.8h0M71.2 244.5h0M89.6 226.0h0M76.5 240.0h0M75.3 244.1h0M70.9 244.2h0M71.5 244.4h0M87.3 228.9h0M72.2 242.5h0M93.2 220.6h0M83.3 234.9h0M86.2 226.9h0M73.5 239.8h0M83.0 230.1h0M84.5 234.9h0M83.6 245.6h0M70.8 242.5h0M87.8 226.2h0M92.5 220.7h0M68.8 245.3h0M92.3 223.1h0M95.3 221.5h0M91.8 231.8h0M67.2 251.8h0M76.8 237.0h0M82.2 234.4h0M68.2 248.1h0M87.8 225.5h0M77.6 241.3h0M82.1 234.3h0M90.2 229.0h0M72.1 243.0h0M91.4 226.2h0M97.2 220.9h0M81.1 231.7h0M77.9 238.2h0M86.2 227.4h0M97.3 240.2h0M86.6 226.8h0M90.6 227.1h0M93.3 227.8h0M86.9 227.6h0M74.5 241.7h0M83.0 230.7h0M86.4 229.2h0M72.0 244.2h0M79.7 235.3h0M81.8 234.7h0M87.9 227.7h0M81.3 233.6h0M82.8 233.7h0M84.2 236.4h0M96.4 225.7h0M69.5 245.6h0M82.9 230.4h0M69.1 247.8h0M88.1 227.2h0M73.9 242.5h0M97.3 225.8h0M74.4 241.2h0M95.8 218.0h0M70.3 248.4h0M80.2 236.3h0M90.8 222.1h0M70.2 244.2h0M96.6 222.1h0M71.9 246.4h0M68.2 247.9h0M84.1 233.3h0M76.7 238.2h0M97.5 220.5h0M76.9 237.7h0M76.0 239.3h0M88.1 229.2h0M77.7 235.4h0M91.0 223.1h0M76.0 238.3h0M96.6 229.9h0M83.7 239.3h0M90.3 227.5h0M67.3 248.0h0M81.4 242.0h0M72.2 244.3h0M72.4 241.1h0M88.2 234.5h0M67.4 246.6h0M67.4 247.4h0M96.3 226.6h0M70.4 246.3h0M67.7 251.4h0M94.6 220.3h0M91.2 227.3h0M83.5 230.5h0M85.9 228.1h0M71.4 245.5h0M86.8 235.6h0M86.6 237.8h0M88.8 225.4h0M77.9 259.4h0M68.8 246.2h0M68.1 256.6h0M80.5 242.3h0M73.2 242.8h0M78.0 235.3h0M77.5 236.6h0M97.5 230.0h0M96.9 219.0h0M71.9 248.3h0M81.0 236.7h0M90.9 221.3h0M73.6 242.3h0M86.2 236.6h0M69.2 250.1h0M96.3 225.1h0M74.2 243.1h0M93.5 229.1h0M71.0 242.7h0M88.1 226.5h0M77.8 236.1h0M86.4 229.6h0M75.2 244.2h0M96.0 219.8h0M72.7 240.8h0M72.3 242.4h0M88.2 235.1h0M94.1 224.9h0M73.6 241.5h0M96.9 225.7h0M82.0 238.8h0M75.0 245.8h0M94.9 222.1h0M92.5 225.2h0M90.1 226.2h0M97.2 225.0h0M79.1 241.3h0M88.9 226.9h0M78.8 236.5h0M86.1 229.1h0M77.0 236.3h0M90.2 224.1h0M71.7 247.5h0M77.8 242.5h0M69.9 244.2h0M96.9 220.1h0M91.6 221.5h0M84.0 228.6h0M80.8 242.4h0M92.6 224.0h0M71.0 247.4h0M81.3 232.6h0M71.5 242.0h0M75.4 240.9h0M83.5 229.2h0M70.2 246.7h0M68.9 248.5h0M80.7 235.2h0M70.8 243.2h0M90.9 221.4h0M68.1 246.5h0M80.8 238.3h0M88.5 233.2h0M68.9 247.5h0M75.8 238.0h0M79.7 239.4h0M70.1 244.3h0M68.5 246.0h0M86.7 234.1h0M72.9 241.7h0M85.6 232.0h0M91.5 220.9h0M74.9 238.7h0M74.3 240.2h0M95.2 228.7h0M81.9 232.0h0M75.0 241.8h0M76.3 241.6h0M82.7 235.8h0M70.4 243.6h0M81.5 243.8h0M93.6 221.5h0M94.3 223.6h0M92.9 221.3h0M70.5 244.0h0M91.8 222.1h0M89.7 226.5h0M92.5 221.7h0M88.3 231.0h0M91.6 222.7h0M81.3 243.9h0M78.1 238.9h0M83.4 241.0h0M93.1 225.7h0M79.1 236.9h0M87.2 229.4h0M87.3 230.9h0M87.5 230.4h0M67.0 253.0h0M89.2 224.5h0M91.9 222.8h0M96.6 232.5h0M85.9 228.4h0M72.6 243.5h0M73.5 249.9h0M77.6 237.7h0M95.5 217.6h0M67.7 246.9h0M97.5 227.8h0M93.3 218.9h0M76.2 247.3h0M95.4 218.0h0M79.1 234.1h0M95.7 217.3h0M85.6 236.4h0M77.9 236.1h0M72.3 250.5h0M83.2 230.4h0M83.4 229.8h0M74.1 241.7h0M76.2 249.2h0M75.2 240.0h0M73.8 239.9h0M74.1 250.9h0M76.0 238.5h0M69.7 244.5h0M83.8 228.9h0M91.6 225.7h0M81.6 238.9h0M89.6 226.5h0M95.1 220.5h0M89.6 223.3h0M67.6 248.3h0M70.8 244.9h0M71.5 242.6h0M91.0 233.8h0M82.2 239.8h0M85.0 230.7h0M69.2 247.1h0M81.3 232.3h0M96.9 217.3h0M84.7 233.0h0M87.1 227.5h0M82.1 236.1h0M95.4 231.5h0M83.9 232.5h0M95.0 225.3h0M67.5 249.9h0M73.7 242.1h0M82.7 234.2h0M97.0 225.5h0M84.2 231.8h0M74.6 243.4h0M67.5 246.3h0M79.9 236.1h0M80.0 234.7h0M69.0 249.4h0M75.6 239.6h0M83.7 234.0h0M91.7 224.3h0M80.8 240.6h0M88.1 229.5h0M71.8 245.2h0M91.8 239.1h0M68.2 245.3h0M87.3 225.5h0M94.1 222.2h0M83.5 237.3h0M89.3 234.6h0M71.6 244.1h0M81.3 232.9h0M84.1 230.1h0M95.0 227.3h0M88.9 229.1h0M94.2 228.1h0M85.2 229.2h0M81.4 238.6h0M77.2 238.4h0M91.4 228.0h0M82.7 231.8h0M88.6 230.0h0M88.6 234.2h0M74.3 241.3h0M69.4 243.9h0M82.4 236.2h0M90.1 225.8h0M80.4 236.1h0M81.7 234.9h0M75.0 242.6h0M70.6 247.1h0M71.4 243.8h0M96.9 226.9h0M73.5 240.4h0M84.7 244.3h0M91.3 231.1h0M74.4 238.7h0M97.0 215.4h0M96.6 215.8h0M86.7 226.5h0M76.1 242.8h0M90.6 224.0h0M94.2 219.8h0M77.0 239.7h0M70.8 248.9h0M85.4 230.1h0M96.2 217.2h0M88.1 237.5h0M86.6 230.5h0M92.1 220.7h0M76.5 239.7h0M72.1 245.5h0M84.4 242.0h0M87.3 232.9h0M80.4 233.3h0M75.4 240.2h0M72.7 240.7h0M93.0 223.9h0M83.1 230.2h0M74.1 239.8h0M87.4 226.0h0M69.1 244.8h0M88.2 227.1h0M73.5 240.8h0M84.2 228.8h0M77.3 238.5h0M75.9 238.9h0M93.5 226.4h0M81.7 233.4h0M75.8 240.2h0M67.7 250.2h0M67.1 247.3h0M74.7 243.1h0M88.7 231.6h0M84.9 231.9h0M88.7 231.5h0M88.2 227.7h0M83.9 238.9h0M83.1 234.8h0M68.0 245.6h0M95.9 224.9h0M79.6 244.9h0M95.3 219.6h0M90.5 228.6h0M89.4 225.3h0M94.4 228.7h0M84.1 230.9h0M83.8 229.9h0M74.7 242.4h0M97.1 220.2h0M73.1 240.6h0M91.9 223.2h0M70.1 246.7h0M87.5 225.1h0M88.8 233.1h0M85.2 238.3h0M93.6 220.9h0M72.0 251.5h0M96.8 229.7h0M91.9 222.5h0M93.7 221.9h0M92.1 224.9h0M91.8 235.1h0M95.0 219.7h0M72.0 242.4h0M91.6 223.6h0M91.1 226.8h0M92.3 225.7h0M88.2 228.2h0M97.4 219.4h0M74.2 242.2h0M72.6 246.5h0M73.7 244.6h0M89.7 229.6h0M83.0 234.4h0M79.5 240.3h0M87.2 226.0h0M94.1 228.4h0M71.7 242.6h0M93.2 234.8h0M95.8 226.1h0M69.6 245.1h0M87.6 225.5h0M81.9 234.4h0M85.0 231.3h0M69.7 245.6h0M73.8 247.1h0M70.3 250.8h0M95.6 233.6h0M93.9 218.4h0M71.6 242.2h0M84.7 239.4h0M67.8 247.4h0M86.0 236.0h0M69.6 247.1h0M81.8 233.2h0M91.3 240.9h0M90.9 224.3h0M83.5 237.4h0M82.0 235.9h0M78.5 237.7h0M90.3 233.2h0M95.3 232.8h0M91.4 227.1h0M82.1 235.0h0M91.1 225.0h0M67.1 247.9h0M93.6 225.1h0M85.3 228.0h0M78.7 240.0h0M88.1 230.5h0M94.5 223.2h0M80.7 237.1h0M97.1 231.8h0M96.6 217.2h0M67.7 246.0h0M82.1 233.4h0M86.2 233.6h0M88.1 228.4h0M77.5 240.6h0M71.5 242.9h0M74.7 245.2h0M83.4 232.2h0M91.6 226.7h0M79.1 241.7h0M83.4 230.1h0M95.2 219.3h0M69.3 250.2h0M76.4 244.0h0M94.8 221.4h0M80.6 232.5h0M86.4 229.7h0M92.0 234.6h0M72.5 242.1h0M81.2 231.6h0M77.5 238.9h0M97.4 215.4h0M96.6 233.4h0M89.5 246.8h0M67.8 248.0h0M75.4 239.7h0M88.9 225.1h0M67.0 250.3h0M76.7 237.1h0M69.8 245.6h0M79.3 244.9h0M74.7 244.2h0M78.1 244.0h0M72.6 244.0h0M69.2 251.0h0M95.0 228.8h0M81.2 233.5h0M94.6 218.9h0M90.0 222.6h0M71.7 250.6h0M81.7 232.7h0M74.5 244.9h0M83.5 229.1h0M70.3 243.8h0M91.1 229.0h0M87.1 227.8h0M74.7 240.3h0M89.9 228.8h0M89.3 231.9h0M74.6 240.1h0M96.0 224.7h0M78.2 242.3h0M84.6 229.8h0M90.2 230.2h0M75.2 238.8h0M82.7 235.0h0M71.2 250.1h0M67.7 250.9h0M72.6 247.5h0M87.9 227.0h0M87.9 226.1h0M71.5 248.0h0M83.5 229.1h0M82.4 230.8h0M96.8 227.7h0M86.0 228.7h0M68.0 257.9h0M86.9 231.3h0M76.0 243.5h0M95.5 222.8h0M92.9 226.2h0M83.1 232.8h0M76.6 238.0h0M97.2 217.9h0M77.2 242.5h0M76.4 239.2h0M85.5 239.0h0M70.0 246.4h0M93.7 226.5h0M89.9 231.7h0M72.6 242.2h0M89.7 223.6h0M91.0 223.0h0M69.6 248.5h0M87.3 225.8h0M85.6 228.9h0M93.8 225.2h0M75.2 248.0h0M67.3 252.4h0M72.7 244.6h0M93.2 221.6h0M91.9 221.4h0M76.9 236.3h0M76.1 237.2h0M81.0 239.3h0M69.3 244.2h0M66.9 250.0h0M89.1 227.9h0M94.3 227.7h0M73.6 244.1h0M73.3 254.3h0M96.7 217.2h0M73.9 241.9h0M77.9 238.3h0M75.5 242.6h0M81.1 231.7h0M69.5 245.0h0M92.3 222.3h0M74.2 239.0h0M77.7 236.7h0M96.2 220.2h0M89.7 227.3h0M73.9 239.8h0M93.1 237.7h0M68.1 246.9h0M91.2 233.0h0M84.6 235.2h0M84.7 233.6h0M81.7 231.3h0M78.4 237.9h0M86.2 241.8h0M94.1 231.4h0M74.9 243.7h0M81.0 235.0h0M69.2 251.1h0M78.4 244.0h0M93.8 225.0h0M95.0 222.7h0M96.8 225.3h0M96.1 216.5h0M76.3 238.6h0M93.9 221.4h0M84.1 235.3h0M94.4 223.1h0M82.7 236.1h0M77.1 237.6h0M96.6 220.7h0M69.6 248.0h0M86.5 232.9h0M73.3 241.3h0M78.9 234.6h0M80.3 236.4h0M70.5 242.9h0M69.9 250.7h0M92.8 223.5h0M90.6 224.2h0M78.4 234.6h0M72.3 241.0h0M95.6 224.4h0M84.9 227.8h0M69.6 249.0h0M86.2 236.6h0M76.6 239.2h0M80.5 235.8h0M90.9 224.7h0M97.0 219.9h0M73.3 240.4h0M84.1 235.8h0M83.4 239.5h0M74.5 240.3h0M80.2 237.9h0M74.6 248.0h0M77.7 239.3h0M82.6 230.9h0M95.7 217.8h0M94.1 231.6h0M81.8 232.5h0M83.7 231.3h0M92.8 223.4h0M92.3 223.6h0M71.7 249.1h0M82.5 234.0h0M75.8 241.0h0M87.4 228.4h0M91.3 224.8h0M70.6 250.3h0M75.1 241.5h0M94.3 226.9h0M80.3 234.4h0M68.3 245.7h0M83.4 229.9h0M94.7 219.2h0M68.8 249.0h0M87.8 233.8h0M73.5 244.8h0M92.1 221.9h0M79.8 241.5h0M68.6 253.6h0M84.3 241.9h0M85.3 236.0h0M74.9 242.4h0M71.9 246.0h0M77.6 238.6h0M73.1 240.8h0M87.4 239.3h0M76.9 236.3h0M90.1 241.0h0M95.1 229.1h0M72.8 244.2h0M81.3 236.1h0M85.0 228.8h0M86.8 229.1h0M92.1 224.8h0M74.6 240.6h0M85.5 230.1h0M76.1 239.4h0M88.0 224.8h0M71.4 247.8h0M77.7 252.2h0M81.0 238.9h0M92.6 219.7h0M71.2 245.8h0M78.7 236.8h0M76.7 242.4h0M70.8 243.6h0M72.2 249.1h0M97.3 217.1h0M66.9 248.8h0M92.2 230.2h0M82.3 232.7h0M79.5 234.2h0M89.9 223.0h0M92.7 225.1h0M92.6 220.9h0M72.9 245.7h0M97.2 225.6h0M97.2 216.2h0M67.1 248.5h0M70.4 248.4h0M90.0 237.5h0M72.4 245.7h0M71.7 245.2h0" stroke="#5b9bf0" stroke-width="1.3" stroke-linecap="round" fill="none"/>
<path d="M94.4 219.4h0M96.4 216.0h0M102.1 217.7h0M97.9 217.7h0M98.6 220.3h0M97.4 222.2h0M102.0 212.2h0M98.8 221.0h0M96.5 223.7h0M98.1 219.4h0M94.7 220.7h0M99.4 214.3h0M102.1 213.1h0M98.7 219.7h0M96.5 221.3h0M100.1 218.2h0M96.6 218.3h0M98.8 216.9h0M97.9 218.8h0M100.3 212.9h0M95.7 217.5h0M98.3 215.5h0M101.7 211.9h0M97.7 220.7h0M96.3 216.5h0M95.8 222.1h0M96.8 223.0h0M95.2 219.5h0M98.1 216.7h0M96.4 216.6h0M98.2 220.0h0M97.0 223.1h0M99.1 215.8h0M97.0 217.4h0M94.7 221.4h0M98.4 220.1h0M94.6 217.9h0M101.5 213.3h0M100.0 219.1h0M96.3 217.3h0M100.5 214.0h0M98.1 214.0h0M98.8 216.8h0M95.7 218.1h0M101.7 217.5h0M96.5 218.2h0M96.8 218.2h0M97.1 222.8h0M94.0 221.2h0M98.5 218.5h0M96.7 221.3h0M97.5 215.8h0M101.6 212.0h0M99.8 219.7h0M95.3 223.0h0M100.4 214.3h0M101.6 211.4h0M98.3 221.8h0M98.3 220.9h0M97.3 220.1h0M98.0 219.9h0M100.1 217.7h0M100.3 213.4h0M99.4 219.1h0M100.2 213.3h0M98.5 213.7h0M102.1 215.1h0M96.0 221.1h0M96.5 220.1h0M100.5 218.4h0" stroke="#5b9bf0" stroke-width="1.3" stroke-linecap="round" fill="none"/>
<path d="M100.3 215.7h0M86.5 228.8h0M74.5 239.0h0M97.4 228.2h0M95.5 217.4h0M89.2 224.1h0M79.8 238.9h0M98.7 213.4h0M94.0 222.8h0M91.5 221.5h0M80.6 237.3h0M76.1 237.8h0M84.6 228.7h0M77.9 235.8h0M76.3 237.2h0M82.6 231.7h0M74.1 239.9h0M82.3 230.8h0M79.0 234.2h0M92.7 220.1h0M84.3 228.9h0M91.0 234.8h0M91.7 221.0h0M75.8 238.0h0M97.3 215.2h0M93.5 224.2h0M95.7 218.5h0M82.7 231.6h0M90.0 224.8h0M91.7 222.8h0" stroke="#f7821e" stroke-width="1.2" stroke-linecap="round" fill="none"/>
<path d="M43.02,264.04 L45.35,261.96 L47.68,259.88 L50.01,257.80 L52.34,255.72 L54.67,253.64 L57.00,251.56 L59.33,249.45 L61.66,247.23 L63.99,245.00 L66.32,242.78 L68.65,240.56 L70.98,238.34 L73.31,236.11 L75.64,233.89 L77.97,231.67 L80.31,229.44 L82.64,227.18 L84.97,224.90 L87.30,222.63 L89.63,220.36 L91.96,218.08 L94.29,215.81 L96.62,213.54 L98.95,211.26 L101.28,208.99 L103.61,206.71 L105.94,204.44 L108.27,202.17 L110.60,199.89 L112.93,197.55 L112.93,198.51 L110.60,200.86 L108.27,203.29 L105.94,205.72 L103.61,208.14 L101.28,210.57 L98.95,212.99 L96.62,215.42 L94.29,217.85 L91.96,220.27 L89.63,222.70 L87.30,225.12 L84.97,227.55 L82.64,229.98 L80.31,232.41 L77.97,234.89 L75.64,237.37 L73.31,239.84 L70.98,242.32 L68.65,244.80 L66.32,247.27 L63.99,249.75 L61.66,252.23 L59.33,254.70 L57.00,257.29 L54.67,259.91 L52.34,262.53 L50.01,265.15 L47.68,267.77 L45.35,270.39 L43.02,273.01 Z" fill="#d5d5d5"/>
<circle cx="37.53" cy="258.19" r="0.60" fill="#f7821e"/>
<circle cx="43.39" cy="274.80" r="0.60" fill="#f7821e"/>
<circle cx="47.78" cy="270.37" r="0.60" fill="#f7821e"/>
<circle cx="66.08" cy="269.26" r="0.60" fill="#f7821e"/>
<circle cx="100.85" cy="202.46" r="0.60" fill="#f7821e"/>
<circle cx="104.51" cy="200.98" r="0.60" fill="#f7821e"/>
<circle cx="94.63" cy="212.05" r="0.60" fill="#f7821e"/>
<circle cx="60.59" cy="265.57" r="0.60" fill="#f7821e"/>
<circle cx="39.00" cy="246.75" r="0.60" fill="#f7821e"/>
<circle cx="40.46" cy="243.43" r="0.60" fill="#f7821e"/>
<circle cx="80.72" cy="211.32" r="0.65" fill="#43b51c"/>
<circle cx="77.79" cy="216.85" r="0.65" fill="#43b51c"/>
<circle cx="67.54" cy="222.02" r="0.65" fill="#43b51c"/>
<text x="68.02" y="208.06" font-size="5.00" font-style="italic" fill="#111" stroke="#111" stroke-width="0.140">CDKN1A</text>
<text x="67.51" y="215.55" font-size="5.00" font-style="italic" fill="#111" stroke="#111" stroke-width="0.140">MDM2</text>
<text x="51.26" y="226.29" font-size="5.00" font-style="italic" fill="#111" stroke="#111" stroke-width="0.140">GDF15</text>
<text x="101.22" y="237.55" font-size="5.00" font-style="italic" fill="#111" stroke="#111" stroke-width="0.140">H1-5</text>
<path d="M100.12,234.66 l-2.2,1.2 l2.2,1.2" stroke="#5b9bf0" stroke-width="0.6" fill="none"/>
<line x1="154.30" y1="193.30" x2="154.30" y2="275.15" stroke="#222" stroke-width="0.7"/>
<line x1="153.95" y1="274.80" x2="235.12" y2="274.80" stroke="#222" stroke-width="0.7"/>
<line x1="153.00" y1="274.80" x2="154.30" y2="274.80" stroke="#222" stroke-width="0.55"/>
<text x="151.50" y="276.55" font-size="4.85" text-anchor="end" fill="#222" stroke="#222" stroke-width="0.140">&#8722;6</text>
<line x1="154.30" y1="274.80" x2="154.30" y2="276.10" stroke="#222" stroke-width="0.55"/>
<text x="154.30" y="282.05" font-size="4.85" text-anchor="middle" fill="#222" stroke="#222" stroke-width="0.140">&#8722;6</text>
<line x1="153.00" y1="267.42" x2="154.30" y2="267.42" stroke="#222" stroke-width="0.55"/>
<text x="151.50" y="269.16" font-size="4.85" text-anchor="end" fill="#222" stroke="#222" stroke-width="0.140">&#8722;4</text>
<line x1="161.62" y1="274.80" x2="161.62" y2="276.10" stroke="#222" stroke-width="0.55"/>
<text x="161.62" y="282.05" font-size="4.85" text-anchor="middle" fill="#222" stroke="#222" stroke-width="0.140">&#8722;4</text>
<line x1="153.00" y1="260.04" x2="154.30" y2="260.04" stroke="#222" stroke-width="0.55"/>
<text x="151.50" y="261.78" font-size="4.85" text-anchor="end" fill="#222" stroke="#222" stroke-width="0.140">&#8722;2</text>
<line x1="168.94" y1="274.80" x2="168.94" y2="276.10" stroke="#222" stroke-width="0.55"/>
<text x="168.94" y="282.05" font-size="4.85" text-anchor="middle" fill="#222" stroke="#222" stroke-width="0.140">&#8722;2</text>
<line x1="153.00" y1="252.65" x2="154.30" y2="252.65" stroke="#222" stroke-width="0.55"/>
<text x="151.50" y="254.40" font-size="4.85" text-anchor="end" fill="#222" stroke="#222" stroke-width="0.140">0</text>
<line x1="176.26" y1="274.80" x2="176.26" y2="276.10" stroke="#222" stroke-width="0.55"/>
<text x="176.26" y="282.05" font-size="4.85" text-anchor="middle" fill="#222" stroke="#222" stroke-width="0.140">0</text>
<line x1="153.00" y1="245.27" x2="154.30" y2="245.27" stroke="#222" stroke-width="0.55"/>
<text x="151.50" y="247.02" font-size="4.85" text-anchor="end" fill="#222" stroke="#222" stroke-width="0.140">2</text>
<line x1="183.58" y1="274.80" x2="183.58" y2="276.10" stroke="#222" stroke-width="0.55"/>
<text x="183.58" y="282.05" font-size="4.85" text-anchor="middle" fill="#222" stroke="#222" stroke-width="0.140">2</text>
<line x1="153.00" y1="237.89" x2="154.30" y2="237.89" stroke="#222" stroke-width="0.55"/>
<text x="151.50" y="239.64" font-size="4.85" text-anchor="end" fill="#222" stroke="#222" stroke-width="0.140">4</text>
<line x1="190.90" y1="274.80" x2="190.90" y2="276.10" stroke="#222" stroke-width="0.55"/>
<text x="190.90" y="282.05" font-size="4.85" text-anchor="middle" fill="#222" stroke="#222" stroke-width="0.140">4</text>
<line x1="153.00" y1="230.51" x2="154.30" y2="230.51" stroke="#222" stroke-width="0.55"/>
<text x="151.50" y="232.26" font-size="4.85" text-anchor="end" fill="#222" stroke="#222" stroke-width="0.140">6</text>
<line x1="198.22" y1="274.80" x2="198.22" y2="276.10" stroke="#222" stroke-width="0.55"/>
<text x="198.22" y="282.05" font-size="4.85" text-anchor="middle" fill="#222" stroke="#222" stroke-width="0.140">6</text>
<line x1="153.00" y1="223.13" x2="154.30" y2="223.13" stroke="#222" stroke-width="0.55"/>
<text x="151.50" y="224.87" font-size="4.85" text-anchor="end" fill="#222" stroke="#222" stroke-width="0.140">8</text>
<line x1="205.54" y1="274.80" x2="205.54" y2="276.10" stroke="#222" stroke-width="0.55"/>
<text x="205.54" y="282.05" font-size="4.85" text-anchor="middle" fill="#222" stroke="#222" stroke-width="0.140">8</text>
<line x1="153.00" y1="215.75" x2="154.30" y2="215.75" stroke="#222" stroke-width="0.55"/>
<text x="151.50" y="217.49" font-size="4.85" text-anchor="end" fill="#222" stroke="#222" stroke-width="0.140">10</text>
<line x1="212.86" y1="274.80" x2="212.86" y2="276.10" stroke="#222" stroke-width="0.55"/>
<text x="212.86" y="282.05" font-size="4.85" text-anchor="middle" fill="#222" stroke="#222" stroke-width="0.140">10</text>
<line x1="153.00" y1="208.36" x2="154.30" y2="208.36" stroke="#222" stroke-width="0.55"/>
<text x="151.50" y="210.11" font-size="4.85" text-anchor="end" fill="#222" stroke="#222" stroke-width="0.140">12</text>
<line x1="220.18" y1="274.80" x2="220.18" y2="276.10" stroke="#222" stroke-width="0.55"/>
<text x="220.18" y="282.05" font-size="4.85" text-anchor="middle" fill="#222" stroke="#222" stroke-width="0.140">12</text>
<line x1="153.00" y1="200.98" x2="154.30" y2="200.98" stroke="#222" stroke-width="0.55"/>
<text x="151.50" y="202.73" font-size="4.85" text-anchor="end" fill="#222" stroke="#222" stroke-width="0.140">14</text>
<line x1="227.50" y1="274.80" x2="227.50" y2="276.10" stroke="#222" stroke-width="0.55"/>
<text x="227.50" y="282.05" font-size="4.85" text-anchor="middle" fill="#222" stroke="#222" stroke-width="0.140">14</text>
<line x1="153.00" y1="193.60" x2="154.30" y2="193.60" stroke="#222" stroke-width="0.55"/>
<text x="151.50" y="195.35" font-size="4.85" text-anchor="end" fill="#222" stroke="#222" stroke-width="0.140">16</text>
<line x1="234.82" y1="274.80" x2="234.82" y2="276.10" stroke="#222" stroke-width="0.55"/>
<text x="234.82" y="282.05" font-size="4.85" text-anchor="middle" fill="#222" stroke="#222" stroke-width="0.140">16</text>
<text x="194.56" y="288.80" font-size="5.00" text-anchor="middle" fill="#222" stroke="#222" stroke-width="0.140">DMSO-treated</text>
<text x="141.30" y="235.00" font-size="5.00" text-anchor="middle" fill="#222" stroke="#222" stroke-width="0.140" transform="rotate(-90 141.30 235.00)">PC14586-treated</text>
<text x="199.80" y="191.84" font-size="5.10" text-anchor="middle" fill="#222" stroke="#222" stroke-width="0.140" textLength="69.50" lengthAdjust="spacingAndGlyphs">T3M-4 (p53 Y220C) (16 hours)</text>
<path d="M158.33,266.62 L160.77,264.43 L163.21,262.24 L165.65,260.05 L168.09,257.86 L170.53,255.67 L172.97,253.48 L175.41,251.29 L177.85,248.99 L180.29,246.64 L182.73,244.29 L185.17,241.94 L187.61,239.58 L190.05,237.23 L192.49,234.88 L194.93,232.53 L197.37,230.18 L199.81,227.79 L202.25,225.39 L204.69,222.99 L207.13,220.59 L209.57,218.19 L212.01,215.79 L214.45,213.39 L216.89,210.99 L219.33,208.59 L221.77,206.19 L224.21,203.80 L226.65,201.40 L229.09,199.00 L231.53,196.56 L231.53,197.29 L229.09,199.77 L226.65,202.29 L224.21,204.81 L221.77,207.33 L219.33,209.86 L216.89,212.38 L214.45,214.90 L212.01,217.42 L209.57,219.94 L207.13,222.46 L204.69,224.98 L202.25,227.51 L199.81,230.03 L197.37,232.57 L194.93,235.13 L192.49,237.70 L190.05,240.27 L187.61,242.84 L185.17,245.41 L182.73,247.98 L180.29,250.55 L177.85,253.12 L175.41,255.74 L172.97,258.47 L170.53,261.20 L168.09,263.94 L165.65,266.67 L163.21,269.40 L160.77,272.13 L158.33,274.86 Z" fill="#d5d5d5"/>
<path d="M204.1 225.4h0M177.9 252.1h0M169.5 258.6h0M176.9 252.4h0M178.2 251.5h0M191.4 237.9h0M165.6 264.0h0M163.3 262.3h0M230.2 197.5h0M192.3 235.2h0M213.5 216.0h0M179.0 251.5h0M184.3 245.2h0M186.3 241.5h0M199.9 226.1h0M187.4 242.0h0M168.4 262.5h0M205.6 223.3h0M197.0 232.6h0M208.7 219.3h0M178.6 247.3h0M177.9 249.4h0M165.0 262.4h0M167.9 263.0h0M183.2 245.7h0M179.2 247.6h0M213.6 215.8h0M203.1 226.3h0M213.2 215.3h0M200.8 228.0h0M198.5 230.7h0M190.5 240.9h0M168.5 255.0h0M169.9 261.5h0M183.4 244.9h0M188.6 239.0h0M165.9 258.0h0M188.0 240.7h0M210.8 217.0h0M165.1 263.4h0M211.6 216.9h0M180.3 249.8h0M192.4 237.7h0M183.8 246.7h0M168.6 258.5h0M182.1 246.3h0M166.0 260.7h0M159.5 272.0h0M189.8 240.5h0M179.0 253.1h0M211.7 217.9h0M200.0 231.3h0M171.3 259.6h0M188.9 239.4h0M176.3 254.8h0M167.3 260.9h0M186.5 242.6h0M165.4 267.0h0M187.9 242.5h0M202.8 226.9h0M215.2 213.3h0M214.8 214.9h0M185.0 245.1h0M173.3 255.8h0M175.2 253.9h0M167.6 258.7h0M164.5 268.5h0M200.7 228.5h0M194.9 231.0h0M164.7 268.0h0M190.5 237.6h0M165.8 263.9h0M160.2 264.2h0M207.6 218.8h0M166.0 261.3h0M206.2 222.4h0M173.4 257.9h0M177.8 252.0h0M189.1 239.1h0M177.8 251.4h0M194.1 234.2h0M171.6 261.5h0M160.7 267.6h0M209.3 218.1h0M186.4 243.9h0M196.6 232.9h0M220.2 209.4h0M183.3 245.1h0M170.4 257.5h0M177.8 251.6h0M212.8 216.6h0M168.6 261.9h0M175.6 253.4h0M188.3 243.3h0M216.5 212.5h0M188.3 239.4h0M213.5 215.5h0M202.8 228.1h0M160.4 270.8h0M192.0 237.8h0M199.4 229.0h0M175.6 254.9h0M166.5 259.8h0M184.8 246.8h0M184.2 244.8h0M167.4 265.4h0M217.2 211.3h0M185.0 246.1h0M168.5 260.4h0M190.9 237.4h0M201.5 227.3h0M178.4 249.0h0M171.7 257.2h0M170.7 260.6h0M177.1 249.5h0M164.9 268.7h0M165.8 257.9h0M190.3 237.7h0M166.9 263.5h0M162.1 259.0h0M195.3 232.4h0M173.2 259.3h0M195.9 231.3h0M188.3 241.6h0M187.1 237.2h0M190.9 239.8h0M181.1 246.0h0M177.9 249.1h0M191.9 238.1h0M168.2 260.6h0M196.6 234.3h0M167.9 263.6h0M179.0 248.8h0M174.5 253.3h0M171.3 256.3h0M182.4 246.8h0M164.0 263.6h0M205.3 223.7h0M173.1 256.7h0M188.6 239.6h0M163.2 268.3h0M171.3 260.9h0M190.0 239.0h0M211.4 217.6h0M207.2 220.7h0M174.3 260.4h0M165.4 271.2h0M191.9 235.4h0M164.7 264.3h0M179.7 253.2h0M189.9 237.6h0M199.5 230.1h0M185.4 242.6h0M166.1 269.8h0M167.8 264.0h0M172.3 258.1h0M177.2 248.8h0M168.8 263.3h0M160.7 264.1h0M167.0 265.3h0M192.9 236.2h0M165.4 255.9h0M196.7 230.9h0M189.6 240.1h0M166.2 264.2h0M179.0 250.9h0M181.7 249.3h0M163.5 262.7h0M176.3 253.1h0M200.8 226.8h0M179.3 250.3h0M203.8 225.5h0M168.9 260.0h0M174.0 253.9h0M209.2 219.5h0M203.3 224.9h0M174.5 256.4h0M214.7 213.0h0M175.2 252.9h0M196.2 234.4h0M219.4 211.2h0M187.5 239.2h0M168.5 262.8h0M182.1 247.3h0M200.5 225.5h0M164.4 267.9h0M198.2 232.1h0M166.1 264.5h0M178.1 251.4h0M175.1 255.5h0M182.5 244.7h0M164.7 265.8h0M193.2 235.6h0M161.3 268.1h0M199.0 229.7h0M215.4 213.2h0M179.8 251.5h0M197.0 230.6h0M180.7 247.2h0M167.1 265.0h0M165.8 262.3h0M186.4 243.3h0M183.5 244.9h0M169.3 262.3h0M194.4 234.9h0M187.0 240.2h0M197.2 231.5h0M174.0 254.3h0M213.0 217.4h0M196.7 233.4h0M163.8 263.2h0M172.1 257.2h0M199.2 227.2h0M188.9 239.8h0M189.4 241.2h0M174.9 250.9h0M207.4 221.1h0M181.6 245.6h0M170.4 260.3h0M166.6 265.2h0M164.7 262.9h0M172.9 251.3h0M177.8 252.3h0M169.6 262.2h0M188.2 240.6h0M171.6 261.1h0M171.5 261.0h0M169.1 263.8h0M207.8 221.4h0M201.5 228.6h0M199.4 228.9h0M185.7 241.8h0M164.9 261.5h0M191.3 237.1h0M162.4 272.4h0M177.1 248.3h0M196.8 231.7h0M168.2 261.0h0M166.0 264.1h0M213.1 215.2h0M214.2 213.2h0M197.8 232.2h0M176.9 251.3h0M166.4 261.6h0M197.6 232.7h0M180.7 248.1h0M165.0 261.1h0M194.5 235.8h0M221.4 207.1h0M175.2 254.8h0M171.4 255.8h0M170.2 262.1h0M180.2 248.9h0M203.4 226.2h0M182.3 244.3h0M216.1 214.0h0M175.1 257.2h0M167.9 259.4h0M164.8 257.3h0M172.0 256.4h0M193.4 235.8h0M176.5 251.4h0M205.6 220.4h0M168.7 257.4h0M163.2 262.0h0M215.9 213.0h0M162.4 263.4h0M181.1 248.8h0M193.2 235.9h0M182.4 244.4h0M206.8 224.1h0M178.7 252.1h0M177.2 249.0h0M179.5 249.4h0M164.4 262.4h0M189.1 235.5h0M170.9 262.6h0M168.4 259.2h0M202.1 226.3h0M174.4 255.7h0M193.2 234.8h0M167.9 260.4h0M213.2 215.5h0M177.3 254.2h0M169.8 257.9h0M211.8 218.0h0M206.9 222.0h0M190.7 237.7h0M172.3 257.8h0M168.7 262.9h0M209.6 219.1h0M168.6 263.0h0M173.1 254.0h0M193.8 237.7h0M174.7 254.0h0M203.5 224.6h0M214.6 214.8h0M213.3 215.2h0M206.8 220.6h0M169.4 257.7h0M202.1 227.3h0M175.8 248.4h0M175.9 254.7h0M159.5 273.8h0M172.2 259.3h0M211.7 217.9h0M169.2 257.8h0M195.3 234.3h0M214.9 213.8h0M171.4 254.4h0M177.8 248.3h0M200.9 229.2h0M194.5 233.4h0M207.1 221.3h0M180.7 247.3h0M166.4 261.7h0M174.9 256.3h0M163.7 265.8h0M170.9 255.2h0M168.7 261.4h0M165.2 257.9h0M182.0 247.2h0M202.0 226.9h0M197.2 231.6h0M163.2 264.4h0M207.1 220.2h0M186.3 241.9h0M190.5 240.0h0M179.9 248.2h0M197.1 230.7h0M181.4 246.5h0M177.6 253.1h0M219.7 209.3h0M168.8 259.6h0M201.5 227.3h0M164.4 265.6h0M211.0 216.7h0M165.6 270.1h0M181.1 248.0h0M194.7 231.4h0M170.3 258.7h0M173.5 259.8h0M222.6 206.2h0M204.5 223.9h0M194.0 236.9h0M206.8 221.7h0M169.3 261.6h0M177.2 249.8h0M201.5 227.4h0M172.1 258.3h0M225.2 204.4h0M185.5 244.3h0M204.8 224.3h0M168.7 255.6h0M182.9 243.1h0M179.8 247.3h0M192.3 233.1h0M206.1 223.5h0M182.3 245.0h0M164.0 259.8h0M174.9 253.6h0M204.0 224.5h0M185.7 246.0h0M169.9 263.2h0M170.6 260.7h0M180.0 245.9h0M178.4 249.1h0M168.9 261.5h0M168.9 265.8h0M163.8 270.1h0M200.6 229.6h0M159.5 273.9h0M176.7 246.7h0M224.7 203.4h0M194.0 236.9h0M165.5 267.1h0M223.7 205.3h0M159.4 266.5h0M163.6 263.1h0M181.9 247.6h0M194.9 234.0h0M192.6 237.8h0M203.3 225.0h0M185.8 241.3h0M192.7 236.5h0M170.0 259.3h0M174.9 251.7h0M171.2 260.9h0M185.2 245.1h0M192.8 232.0h0M207.6 221.5h0M199.5 228.8h0M167.5 257.9h0M206.1 224.1h0M185.5 243.6h0M171.5 258.0h0M165.1 259.6h0M162.7 264.3h0M181.4 246.7h0M200.5 227.5h0M224.3 204.7h0M167.4 265.2h0M178.0 250.2h0M175.9 253.7h0M170.0 258.7h0M195.4 232.5h0M174.1 252.5h0M193.7 235.2h0M175.2 253.6h0M223.4 205.3h0M170.2 259.0h0M160.0 273.0h0M183.7 242.6h0M168.8 256.0h0M162.1 272.3h0M189.5 239.8h0M194.1 231.6h0M201.0 226.8h0M196.4 231.2h0M168.4 260.5h0M207.9 220.9h0M168.6 257.0h0M195.3 232.3h0M196.9 230.8h0M175.1 253.4h0M167.8 257.1h0M195.0 233.3h0M162.1 269.7h0M175.6 248.5h0M217.1 211.4h0M186.7 244.6h0M175.1 254.3h0M183.8 248.0h0M172.2 260.5h0M166.1 264.0h0M172.9 255.8h0M182.2 244.9h0M224.4 204.7h0M199.2 226.9h0M173.6 255.8h0M167.4 263.4h0M177.2 255.4h0M202.1 227.9h0M203.8 224.3h0M203.8 225.4h0M170.8 254.7h0M203.0 227.5h0M164.1 263.2h0M169.8 255.4h0M175.9 247.8h0M166.7 264.3h0M166.9 261.2h0M218.3 210.2h0M208.2 220.1h0M202.6 224.8h0M215.4 212.5h0M228.0 199.7h0M214.5 215.0h0M176.8 253.3h0M202.1 228.9h0M186.9 240.2h0M212.6 217.3h0M210.6 217.6h0M174.1 256.0h0M181.4 245.7h0M206.8 221.8h0M221.3 208.0h0M164.8 264.0h0M183.6 243.6h0M190.4 239.0h0M201.8 228.1h0M194.1 234.2h0M167.3 263.0h0M162.8 263.7h0M170.0 256.4h0M177.0 255.3h0M164.9 267.3h0M188.8 240.1h0M205.3 224.0h0M202.7 225.2h0M205.4 223.6h0M213.1 216.3h0M162.8 259.7h0M162.7 266.8h0M167.0 259.6h0M164.3 273.5h0M188.2 239.0h0M213.3 216.3h0M207.5 221.0h0M209.0 219.2h0M170.1 253.2h0M176.2 256.9h0M197.8 230.5h0M165.2 259.4h0M188.6 239.0h0M160.5 264.9h0M221.9 207.0h0M169.2 261.7h0M199.1 231.2h0M161.7 267.0h0M175.3 258.4h0M168.4 259.2h0M162.1 269.8h0M161.5 268.3h0M164.6 268.4h0M170.9 257.7h0M193.5 234.1h0M181.5 246.8h0M170.0 256.1h0M179.5 249.8h0M216.6 212.6h0M180.5 248.6h0M225.9 202.4h0M163.2 268.8h0M212.9 215.8h0M177.8 250.2h0M197.6 232.8h0M214.7 212.8h0M191.4 235.8h0M163.7 268.9h0M191.7 237.2h0M209.6 217.3h0M180.0 249.1h0M185.7 243.7h0M190.6 237.6h0M168.1 261.5h0M197.4 232.4h0M220.4 208.6h0M163.1 264.5h0M169.9 260.2h0M190.5 235.6h0M172.7 254.7h0M200.1 229.4h0M199.7 229.6h0M212.0 216.5h0M178.8 251.0h0M163.0 269.2h0M183.2 245.1h0M206.4 222.3h0M162.4 273.9h0M181.0 250.9h0M208.4 219.4h0M158.9 267.5h0M161.1 270.8h0M188.2 245.1h0M200.7 228.7h0M180.1 247.9h0M182.5 250.6h0M173.2 258.9h0M194.0 237.2h0M188.1 239.2h0M187.0 239.2h0M194.8 234.4h0M170.4 258.3h0M186.6 241.3h0M177.3 249.9h0M165.9 263.8h0M211.4 216.3h0M194.5 233.1h0M201.2 226.8h0M156.9 274.1h0M170.3 263.5h0M159.6 270.9h0M190.9 236.5h0M163.4 262.4h0M161.6 261.6h0M186.8 243.2h0M177.2 250.1h0M174.2 253.2h0M185.4 247.6h0M192.2 236.2h0M180.1 249.6h0M160.7 268.0h0M165.7 271.2h0M177.9 253.1h0M162.3 270.2h0M177.2 253.3h0M209.1 218.4h0M163.5 269.9h0M176.2 253.4h0M167.9 262.7h0M191.5 237.0h0M172.1 255.3h0M168.7 262.1h0M167.7 262.2h0M206.5 224.2h0M182.5 247.6h0M183.6 246.8h0M164.8 261.4h0M180.7 249.8h0M164.4 267.2h0M223.4 205.1h0M163.3 266.7h0M168.3 259.6h0M181.8 244.3h0M187.1 240.7h0M197.8 232.0h0M174.0 251.7h0M192.4 235.4h0M192.0 236.9h0M200.2 228.5h0M182.3 245.9h0M182.2 249.3h0M173.8 258.0h0M200.9 228.0h0M169.5 261.8h0M179.4 246.7h0M183.3 248.8h0M183.2 249.1h0M160.4 268.4h0M193.7 237.0h0M205.2 223.6h0M164.6 273.9h0M170.1 259.5h0M188.0 241.3h0M189.4 236.5h0M165.8 261.0h0M179.0 248.3h0M200.2 227.0h0M163.9 266.8h0M179.7 248.4h0M178.8 250.4h0M171.0 259.3h0M161.9 269.5h0M167.7 264.9h0M204.1 224.7h0M168.7 264.7h0M181.3 247.1h0M170.6 255.4h0M197.2 231.7h0M168.5 250.9h0M172.1 257.8h0M167.1 263.3h0M173.9 257.7h0M186.5 245.3h0M171.8 264.9h0M175.4 256.3h0M164.8 260.1h0M216.4 212.0h0M215.1 213.7h0M175.8 254.8h0M168.7 265.6h0M161.0 265.3h0M182.8 245.4h0M199.6 227.4h0M197.8 232.6h0M159.7 261.6h0M172.2 254.1h0M180.9 245.4h0M187.2 240.8h0M196.6 231.9h0M189.9 237.3h0M186.9 242.9h0M178.2 249.3h0M181.3 248.8h0M199.4 230.2h0M164.3 261.8h0M218.5 210.9h0M166.8 262.2h0M177.3 252.5h0M175.1 252.5h0M174.7 254.8h0M226.6 202.1h0M204.1 223.3h0M195.5 233.2h0M161.6 258.8h0M163.1 272.7h0M173.4 253.3h0M195.7 233.3h0M200.6 226.7h0M173.7 255.2h0M202.4 224.7h0M160.5 265.4h0M187.5 245.5h0M224.3 204.0h0M202.3 226.8h0M186.6 244.0h0M178.0 251.2h0M190.6 242.8h0M166.1 267.2h0M209.5 219.5h0M173.3 259.0h0M187.3 239.8h0M181.4 248.7h0M163.9 266.8h0M178.6 254.0h0M176.7 252.9h0M173.9 249.3h0M168.6 262.3h0M205.2 223.7h0M200.1 228.2h0M183.1 243.8h0M161.6 269.3h0M176.5 253.0h0M190.5 239.4h0M169.4 259.9h0M193.7 235.3h0M168.4 267.3h0M164.5 257.9h0M163.3 258.5h0M185.3 244.3h0M183.0 248.7h0M201.8 226.4h0M165.7 266.0h0M166.6 259.1h0M164.6 271.2h0M201.6 229.8h0M173.1 260.1h0M202.2 223.5h0M186.9 241.1h0M196.5 231.9h0M175.4 254.4h0M192.2 237.4h0M182.4 245.6h0M170.2 257.7h0M176.5 258.0h0M167.8 263.3h0M168.0 263.4h0M158.6 271.1h0M182.0 249.5h0M182.2 245.1h0M163.3 267.4h0M163.3 265.0h0M205.5 220.8h0M195.4 235.3h0M187.8 243.2h0M173.2 255.8h0M206.9 224.0h0M175.1 252.6h0M170.2 261.9h0M181.0 250.4h0M169.0 255.9h0M165.6 260.7h0M204.4 226.1h0M171.1 256.6h0M210.7 217.8h0M162.8 253.6h0M195.7 234.1h0M187.3 237.3h0M195.5 235.6h0M171.7 258.7h0M175.8 253.5h0M171.9 258.0h0M168.1 259.7h0M160.6 265.5h0M184.7 247.0h0M218.3 209.7h0M186.9 244.1h0M218.7 211.2h0M178.9 248.4h0M179.7 250.9h0M170.4 258.6h0M173.1 258.0h0M178.9 245.8h0M157.6 270.6h0M165.6 258.3h0M160.3 273.3h0M169.0 260.5h0M169.6 259.0h0M174.3 253.7h0M193.1 235.7h0M168.7 260.6h0M196.9 232.0h0M212.7 213.6h0M205.7 221.9h0M172.7 256.5h0M167.5 261.5h0M162.5 268.3h0M163.1 263.4h0M162.8 265.7h0M165.7 262.1h0M203.6 225.5h0M206.3 222.2h0M167.1 261.7h0M203.6 224.8h0M179.1 252.2h0M205.0 224.3h0M210.1 218.2h0M193.0 237.6h0M168.9 257.5h0M160.6 272.4h0M173.7 253.1h0M165.1 265.0h0M224.0 205.2h0M175.1 252.4h0M170.7 261.4h0M181.1 243.2h0M194.0 235.6h0M210.6 218.5h0M211.9 216.5h0M194.9 233.5h0M166.3 259.9h0M182.5 248.1h0M171.3 260.1h0M159.9 270.5h0M183.5 243.2h0M180.0 251.2h0M204.6 223.3h0M175.4 253.0h0M160.4 262.0h0M180.2 246.5h0M190.3 237.0h0M212.5 214.3h0M174.1 254.1h0M171.7 254.6h0M176.1 254.5h0M209.8 220.3h0M187.9 239.7h0M163.5 270.7h0M167.1 261.7h0M170.7 256.8h0M191.2 237.6h0M184.1 247.0h0M189.5 240.0h0M175.2 256.2h0M182.8 247.0h0M179.7 249.8h0M181.8 247.0h0M218.0 211.1h0M194.7 235.3h0M167.1 264.8h0M174.2 255.9h0M163.2 261.5h0M160.3 268.2h0M172.4 256.6h0M177.0 249.8h0M171.9 257.3h0M180.9 251.0h0M192.5 238.6h0M163.4 258.5h0M164.5 269.4h0M202.1 224.7h0M213.8 215.7h0M172.7 259.5h0M203.1 227.1h0M187.3 239.5h0M176.1 255.2h0M215.9 213.0h0M211.4 217.0h0M175.5 252.0h0M199.0 232.3h0M192.5 237.1h0M176.6 249.8h0M201.1 228.1h0M198.5 229.0h0M164.8 263.1h0M191.8 239.0h0M191.9 236.7h0M188.2 236.8h0M174.9 252.7h0M161.3 266.0h0M172.0 256.5h0M162.3 266.0h0M164.4 264.3h0M172.7 255.0h0M164.6 261.7h0M175.7 250.5h0M192.1 236.4h0M171.6 253.1h0M178.2 250.7h0M229.6 198.7h0M170.6 254.1h0M162.4 266.5h0M164.4 264.2h0M175.6 251.6h0M173.9 256.7h0M176.0 249.0h0M209.8 219.4h0M178.4 255.1h0M174.0 263.5h0M163.5 272.6h0M192.0 235.9h0M165.2 268.1h0M229.5 199.4h0M180.4 244.1h0M165.0 267.1h0M172.8 256.7h0M208.9 218.7h0M190.4 239.7h0M190.9 240.6h0M187.5 240.3h0M226.4 201.8h0M180.1 247.7h0M163.2 263.0h0M206.5 223.5h0M202.6 225.6h0M198.0 230.4h0M164.4 265.4h0M180.4 253.9h0M174.6 258.2h0M165.8 263.2h0M196.4 231.6h0M184.1 244.8h0M176.1 248.8h0M168.1 255.6h0M202.9 224.9h0M193.9 231.1h0M158.6 273.5h0M165.6 267.9h0M174.7 254.3h0M168.9 261.0h0M181.4 241.7h0M177.8 251.3h0M200.4 230.3h0M199.1 229.9h0M181.8 245.6h0M195.8 233.3h0M165.1 255.7h0M169.5 260.9h0M165.5 261.9h0M172.9 252.2h0M184.2 244.5h0M166.0 263.2h0M184.2 246.7h0M208.2 221.0h0M173.8 255.1h0M166.4 260.6h0M163.1 267.8h0M179.3 251.6h0M160.4 262.1h0M169.2 260.4h0M182.4 245.6h0M209.2 218.2h0M159.3 272.5h0M189.3 238.3h0M188.3 238.7h0M216.0 213.2h0M163.8 266.5h0M196.8 232.7h0M183.9 243.5h0M191.3 237.6h0M203.5 225.3h0M190.7 236.4h0M190.5 240.1h0M171.1 261.9h0M173.0 250.6h0M211.1 217.6h0M219.0 208.7h0M189.4 239.6h0M176.6 252.4h0M165.5 273.0h0M170.7 261.7h0M213.5 214.6h0M208.3 220.7h0M193.9 234.4h0M187.9 240.1h0M206.7 222.5h0M189.5 236.5h0M165.3 264.5h0M167.0 264.8h0M179.6 244.8h0M161.3 265.8h0M223.6 203.6h0M186.8 242.3h0M224.5 203.4h0M180.4 247.9h0M166.7 264.8h0M179.1 253.7h0M162.4 270.6h0M224.5 203.1h0M176.1 247.9h0M193.5 235.0h0M161.6 271.4h0M225.6 202.9h0M185.5 241.5h0M174.4 255.7h0M183.2 243.9h0M173.0 254.4h0M167.3 259.3h0M194.5 235.9h0M187.4 241.2h0M167.6 258.6h0M188.8 240.4h0M202.2 225.9h0M165.5 260.2h0M191.5 237.5h0M223.8 204.7h0M173.8 249.6h0M183.5 247.7h0M192.1 236.1h0M197.9 232.3h0M207.2 220.3h0M182.2 249.0h0M167.6 260.7h0M187.5 241.4h0M213.5 214.2h0M171.9 259.2h0M187.3 239.2h0M204.7 223.4h0M167.2 259.8h0M165.9 268.1h0M203.1 224.4h0M168.1 261.4h0M179.4 250.9h0M165.3 263.1h0M194.4 231.6h0M181.4 246.7h0M172.2 257.7h0M191.6 236.0h0M178.1 248.9h0M167.3 262.2h0M184.0 243.3h0M174.1 257.0h0M194.6 234.7h0M207.5 222.7h0M179.9 251.8h0M163.7 263.2h0M163.3 267.4h0M196.4 231.0h0M178.2 249.2h0M162.2 268.8h0M193.2 235.4h0M204.0 225.9h0M176.5 250.9h0M187.0 240.5h0M186.9 242.2h0M159.6 268.1h0M178.1 251.1h0M175.3 255.4h0M167.4 262.3h0M183.1 243.6h0M177.5 257.1h0M170.0 259.6h0M207.0 221.2h0M200.7 226.3h0M181.5 243.7h0M186.7 244.3h0M168.7 264.3h0M174.8 257.6h0M194.7 234.7h0M169.2 258.1h0M178.0 247.6h0M221.3 205.6h0M222.5 206.4h0M208.3 220.3h0M200.2 228.9h0M203.8 224.6h0M210.2 218.1h0M167.2 258.7h0M174.5 253.7h0M172.5 255.2h0M204.1 223.4h0M201.1 227.2h0M160.8 270.8h0M166.4 263.6h0M206.3 219.3h0M159.9 271.5h0M164.6 261.2h0M211.5 219.8h0M161.9 264.5h0M180.1 244.1h0M209.5 217.5h0M164.9 270.3h0M186.8 238.1h0M176.8 254.2h0M204.2 225.3h0M164.0 272.8h0M160.9 272.5h0M172.8 259.5h0M203.1 224.8h0M183.9 240.7h0M167.6 257.0h0M201.0 227.3h0M190.9 237.3h0M176.8 251.6h0M164.5 265.6h0M163.6 267.7h0M166.7 261.6h0M179.4 248.8h0M176.9 256.2h0M174.5 254.7h0M175.6 249.5h0M193.5 234.5h0M184.2 243.7h0M158.6 263.4h0M178.5 253.0h0M164.3 267.3h0M174.8 252.5h0M178.6 249.8h0M163.4 264.5h0M165.9 261.8h0M166.1 259.3h0M166.1 267.1h0M171.5 259.4h0M193.5 236.3h0M205.9 222.9h0M185.4 242.0h0M162.0 263.3h0M172.7 254.1h0M181.7 248.6h0M211.1 216.9h0M179.7 243.1h0M164.8 265.2h0M202.2 226.5h0M180.5 245.4h0M169.1 256.6h0M206.6 219.1h0M177.4 250.0h0M175.7 256.7h0M201.7 226.4h0M211.8 217.6h0M174.9 252.9h0M200.2 226.0h0M169.0 261.8h0M198.1 230.7h0M164.6 256.0h0M175.2 253.9h0M211.2 218.7h0M210.7 217.6h0M160.4 264.9h0M183.7 245.1h0M195.7 232.9h0M158.0 269.3h0M158.4 267.6h0M177.8 245.7h0M170.9 256.7h0M170.0 255.8h0M168.7 263.6h0M221.1 207.3h0M177.9 250.2h0M194.2 234.5h0M183.1 250.1h0M172.2 260.7h0M167.4 269.0h0M209.0 218.3h0M185.2 243.7h0M179.6 251.2h0M168.7 265.1h0M184.8 246.0h0M205.5 223.1h0M193.7 232.4h0M206.2 223.3h0M176.1 253.4h0M194.4 235.4h0M193.3 231.5h0M228.6 200.3h0M198.3 229.6h0M220.3 207.1h0M214.3 213.2h0M175.5 254.2h0M191.5 236.7h0M178.3 251.6h0M204.1 224.0h0M161.5 265.5h0M178.7 250.8h0M170.9 257.0h0M164.8 263.6h0M160.0 268.9h0M184.7 242.4h0M210.7 219.8h0M177.3 251.9h0M203.8 224.8h0M169.3 256.5h0M175.8 260.2h0M196.9 231.6h0M177.1 252.6h0M189.1 236.9h0M220.4 207.9h0M209.1 219.7h0M163.9 266.5h0M169.6 256.8h0M176.1 252.1h0M171.2 254.4h0M183.1 245.1h0M164.4 264.8h0M166.6 260.3h0M201.7 224.0h0M180.4 247.8h0M161.6 267.4h0M167.4 259.5h0M174.1 259.4h0M209.4 220.3h0M198.7 229.0h0M197.3 232.6h0M166.9 263.4h0M177.6 244.2h0M207.4 222.0h0M194.8 232.2h0M223.7 204.8h0M182.2 248.4h0M185.0 246.0h0M190.2 240.3h0M216.5 212.0h0M176.0 257.3h0M172.1 261.9h0M165.5 261.7h0M169.4 259.4h0M181.0 243.2h0M185.3 242.9h0M189.6 237.8h0M177.8 251.6h0M218.5 209.0h0M171.6 260.3h0M209.8 218.3h0M184.1 244.7h0M161.7 258.7h0M174.5 249.6h0M165.6 261.8h0M204.4 224.8h0M175.8 253.5h0M169.5 253.4h0M218.8 209.6h0M166.0 262.4h0M216.4 212.2h0M175.3 251.8h0M160.7 272.0h0M204.1 225.3h0M204.4 225.8h0M215.8 212.9h0M175.1 250.9h0M163.3 267.6h0M167.1 261.0h0M166.0 261.9h0M166.2 269.7h0M176.1 255.5h0M177.2 253.4h0M185.9 239.1h0M172.0 259.3h0M222.9 205.8h0M178.7 248.3h0M204.3 222.0h0M200.2 227.7h0M181.1 251.1h0M200.1 227.9h0M187.2 239.7h0M172.8 255.3h0M179.9 247.9h0M217.5 211.3h0M176.5 253.1h0M198.1 232.6h0M196.9 231.7h0M175.2 250.0h0M218.8 209.6h0M165.5 262.4h0M161.1 264.5h0M187.1 240.6h0M179.2 248.6h0M161.0 267.2h0M187.8 241.6h0M174.1 251.5h0M206.3 223.1h0M199.9 228.7h0M181.1 251.5h0M163.3 271.6h0M174.3 255.9h0M161.7 264.5h0M175.1 254.1h0M205.4 226.4h0M206.7 221.8h0M186.5 241.7h0M220.7 207.1h0M175.4 252.9h0M199.3 228.8h0M199.8 230.9h0M160.0 271.4h0M173.1 261.1h0M161.3 263.2h0M184.8 245.0h0M181.2 244.5h0M205.0 223.3h0M187.3 242.6h0M166.3 258.5h0M177.6 249.0h0M209.3 217.8h0M180.4 250.5h0M165.7 263.5h0M182.2 246.4h0M200.1 225.6h0M158.1 268.4h0M221.1 207.7h0M213.2 214.8h0M180.5 253.3h0M222.2 206.1h0M160.8 269.3h0M185.4 244.2h0M177.0 251.5h0M190.1 241.5h0M202.9 226.8h0M162.9 265.0h0M177.6 251.3h0M171.6 258.1h0M226.7 202.6h0M194.1 231.7h0M168.1 261.1h0M193.2 232.8h0M171.7 261.8h0M191.1 237.9h0M202.7 228.3h0M188.9 237.6h0" stroke="#d5d5d5" stroke-width="1.2" stroke-linecap="round" fill="none"/>
<path d="M173.8 240.1h0M174.3 248.8h0M157.3 265.3h0M183.8 240.2h0M167.9 255.9h0M160.9 260.2h0M170.8 250.3h0M160.1 262.0h0M167.6 256.6h0M174.1 245.2h0M184.1 239.0h0M162.9 250.0h0M174.3 245.6h0M161.3 261.9h0M159.8 263.3h0M172.7 250.0h0M183.2 239.8h0M171.6 253.5h0M184.2 240.1h0M156.9 261.2h0M184.3 241.8h0M176.9 246.3h0M155.8 265.4h0M159.5 260.7h0M170.7 252.9h0M177.7 242.5h0M156.4 263.9h0M163.2 257.3h0M167.4 251.9h0M168.2 255.7h0M180.0 245.0h0M168.3 250.3h0M167.5 256.3h0M168.9 255.3h0M173.0 252.2h0M161.3 254.3h0M174.1 249.4h0M183.9 242.0h0M164.0 258.6h0M179.5 245.0h0M156.8 264.0h0M157.5 264.8h0M168.5 246.9h0M166.4 254.1h0M171.0 251.4h0M181.9 243.6h0M160.1 262.0h0M166.9 256.1h0M162.8 260.0h0M174.7 249.4h0M175.6 249.5h0M166.5 256.9h0M181.8 243.3h0M165.3 258.3h0M173.5 250.8h0M177.2 247.1h0M174.7 248.4h0M184.9 240.5h0M182.6 242.9h0M173.2 248.2h0M156.4 264.5h0M168.6 255.4h0M179.4 246.2h0M169.0 254.9h0M178.1 244.1h0M180.7 243.1h0M174.8 243.0h0M168.9 244.3h0M164.9 256.9h0M183.6 242.3h0M169.8 250.2h0M174.2 251.2h0M167.6 249.8h0M169.6 253.7h0M163.6 254.1h0M157.2 258.4h0M164.7 256.5h0M181.9 239.1h0M180.0 245.5h0M160.2 253.3h0M173.5 250.8h0M168.4 254.3h0M182.2 239.4h0M169.5 250.0h0M181.0 244.0h0M161.8 258.4h0M157.6 258.8h0M166.6 255.5h0M183.6 241.8h0M159.6 253.4h0M156.1 253.9h0M173.9 251.4h0M180.3 244.8h0M166.9 247.7h0M158.5 262.5h0M185.0 239.2h0M173.9 251.4h0M187.0 236.2h0M182.9 242.9h0M160.3 261.6h0M180.3 245.6h0M185.1 234.4h0M167.3 255.1h0M175.3 247.6h0M161.2 259.7h0M159.3 242.1h0M162.3 252.4h0M172.0 250.8h0M167.6 248.7h0M169.3 254.8h0M168.1 256.1h0M165.4 257.5h0M185.9 238.5h0M179.5 246.4h0M165.8 251.7h0M175.2 239.8h0M168.2 248.2h0M161.0 258.8h0M171.9 251.1h0M184.5 232.7h0M174.5 241.7h0M165.1 257.2h0M186.5 238.7h0M186.8 239.4h0M164.9 254.9h0M183.3 242.9h0M162.1 261.5h0M161.5 258.6h0M163.2 260.1h0M177.0 248.4h0M186.3 233.9h0M183.9 234.4h0M184.5 235.2h0M164.2 259.7h0M158.6 264.5h0M166.9 255.1h0M178.2 246.2h0M158.5 262.0h0M177.1 245.9h0M156.6 263.4h0M178.4 246.9h0M166.9 251.1h0M182.3 242.8h0M158.1 263.6h0M180.0 241.7h0M160.3 261.1h0M169.0 253.1h0M166.6 257.5h0M168.0 253.4h0M184.6 241.7h0M181.1 243.3h0M162.2 254.1h0M156.0 265.5h0M170.0 253.4h0M179.4 246.5h0M172.1 252.7h0M156.6 265.0h0M159.0 263.5h0M167.5 234.0h0M186.7 238.8h0M163.4 258.3h0M161.8 255.5h0M170.8 250.6h0M169.3 254.5h0M160.1 262.4h0M168.0 253.9h0M156.8 263.2h0M163.1 255.5h0M185.3 239.3h0M157.8 260.9h0" stroke="#f7821e" stroke-width="1.4" stroke-linecap="round" fill="none"/>
<path d="M175.3 247.6h0M174.5 242.2h0M164.9 256.7h0M179.8 245.7h0M178.1 246.7h0M166.3 249.9h0M180.6 242.7h0M179.7 245.2h0M175.7 245.9h0M185.3 231.4h0M173.3 250.6h0M163.1 246.0h0M161.0 260.6h0M174.5 250.6h0M185.3 235.2h0M183.1 240.1h0M177.5 248.2h0M182.1 234.5h0M172.4 247.4h0M164.4 257.7h0M169.6 248.0h0M186.1 239.1h0M185.6 235.2h0M162.1 253.8h0M166.5 257.3h0M169.8 254.2h0M184.2 240.8h0M165.1 258.4h0M172.1 249.4h0M164.7 253.1h0M185.1 240.2h0M165.6 257.2h0M170.2 251.7h0M168.3 252.2h0M184.5 237.5h0M161.6 258.3h0M173.7 248.2h0M165.4 256.1h0M167.5 252.5h0M186.9 236.5h0" stroke="#43b51c" stroke-width="1.4" stroke-linecap="round" fill="none"/>
<path d="M193.7 232.8h0M186.5 239.0h0M200.7 223.1h0M194.9 226.2h0M215.3 210.8h0M210.6 214.4h0M189.7 236.4h0M198.3 225.0h0M194.7 228.5h0M206.2 220.9h0M194.4 229.1h0M209.2 217.7h0M204.0 221.9h0M214.2 210.7h0M214.9 207.3h0M200.0 225.9h0M190.8 234.8h0M185.3 225.5h0M209.9 213.9h0M186.5 230.2h0M199.4 224.5h0M189.1 229.3h0M183.0 241.4h0M196.3 220.8h0M201.0 223.5h0M196.5 226.8h0M182.5 236.8h0M212.7 212.7h0M197.1 227.4h0M201.2 220.6h0M208.1 217.8h0M189.0 228.4h0M187.2 234.6h0M199.8 226.3h0M190.2 235.9h0M201.6 222.9h0M184.9 238.8h0M185.8 230.6h0M210.9 215.6h0M204.0 221.4h0M186.4 236.7h0M214.3 209.1h0M213.9 210.5h0M208.2 218.7h0M184.2 241.6h0M207.6 212.2h0M187.8 236.7h0M211.1 212.5h0M195.5 221.9h0M208.2 219.0h0M201.9 222.9h0M201.8 222.6h0M208.8 213.6h0M185.2 233.4h0M198.0 224.1h0M189.1 235.9h0M196.6 211.8h0M213.9 209.4h0M192.3 232.6h0M189.2 231.9h0M203.1 219.3h0M195.6 231.2h0M193.7 232.0h0M194.8 230.8h0M193.5 226.7h0M183.1 241.8h0M200.8 225.2h0M204.1 218.6h0M193.9 229.0h0M192.0 232.8h0M209.3 217.6h0M200.2 224.6h0M207.7 218.7h0M204.1 220.5h0M211.4 209.1h0M209.5 215.3h0M191.3 229.6h0M195.8 229.9h0M193.2 226.2h0M186.4 233.3h0" stroke="#f7821e" stroke-width="1.4" stroke-linecap="round" fill="none"/>
<path d="M200.6 224.0h0M199.0 224.9h0M174.1 250.1h0M202.0 224.6h0M210.4 216.8h0M190.3 236.0h0M199.5 224.9h0M179.4 243.0h0M191.5 231.8h0M195.7 229.0h0M185.5 240.0h0M188.6 233.6h0M183.0 240.8h0M201.1 221.5h0M207.7 218.2h0M173.6 246.6h0M208.7 216.8h0M186.5 239.8h0M197.5 225.1h0M181.0 244.8h0M184.6 238.2h0M207.8 214.7h0M200.4 225.3h0M196.0 229.7h0M192.1 231.1h0M178.0 245.0h0M192.2 231.9h0M209.1 217.9h0M175.0 247.7h0M173.2 250.7h0M178.6 246.5h0M200.1 223.8h0M203.8 222.6h0M208.3 217.3h0M205.9 219.7h0M173.4 248.6h0M193.3 232.2h0M203.9 218.2h0M191.4 234.0h0M195.9 230.3h0M177.2 245.6h0M180.8 245.1h0M174.1 249.1h0M192.3 232.4h0M196.9 228.1h0M206.1 221.1h0M184.0 241.8h0M188.7 237.7h0M209.9 216.8h0M198.6 228.3h0M197.3 227.9h0M174.1 251.2h0M190.3 233.9h0M178.6 246.1h0M173.3 250.8h0M211.9 215.3h0M193.8 232.0h0M176.2 249.4h0M198.6 227.6h0M197.0 229.5h0M186.7 239.4h0M203.2 220.0h0M210.1 216.7h0M177.6 242.4h0M212.5 214.1h0M203.1 222.3h0M211.9 213.6h0M175.0 249.6h0M173.3 249.1h0M203.8 223.2h0M191.6 232.5h0M187.1 238.0h0M174.1 250.1h0M173.7 247.2h0M209.2 217.1h0M213.3 213.8h0M213.7 212.0h0M190.7 231.1h0M208.6 216.4h0M183.6 242.5h0M208.3 217.8h0M196.8 229.4h0M199.0 227.6h0M204.5 221.1h0M206.2 220.2h0M198.9 227.5h0M174.0 250.9h0M189.4 236.8h0M191.9 233.9h0M174.7 250.8h0M191.5 233.6h0M176.6 248.8h0M185.9 239.4h0M176.5 245.4h0M181.9 241.8h0M200.8 223.3h0M197.5 228.5h0M194.6 231.9h0M208.8 218.4h0M195.2 230.7h0M206.5 219.8h0M195.2 229.7h0M183.7 233.4h0M206.4 220.6h0M200.3 226.4h0M180.8 240.9h0M208.0 218.9h0M182.5 237.9h0M197.3 228.7h0M197.9 228.8h0M196.0 225.4h0M185.5 240.3h0M198.7 226.4h0M201.9 223.7h0M193.2 230.5h0M207.9 219.2h0M178.5 247.1h0M212.0 214.9h0M208.4 218.5h0M181.6 243.9h0M174.2 248.7h0M198.8 227.8h0M189.4 235.5h0M210.3 215.3h0M195.5 231.2h0M197.8 226.2h0M207.9 218.8h0M176.4 249.0h0M211.0 214.5h0M212.0 213.6h0M182.9 241.9h0M200.8 225.0h0M211.1 215.8h0M188.8 234.3h0M187.8 237.8h0M202.9 223.8h0M204.1 221.6h0M209.1 216.4h0M182.8 238.5h0M193.4 233.3h0M187.7 235.3h0M177.7 248.1h0M195.0 229.9h0M201.2 225.7h0M201.6 221.1h0M186.1 235.5h0M180.4 245.0h0M188.1 235.8h0M197.2 229.5h0M209.2 218.1h0M207.1 218.9h0M204.1 222.0h0M210.1 210.8h0M177.4 245.7h0M197.1 229.9h0M185.1 241.0h0M177.1 248.3h0M175.3 249.8h0M189.3 236.2h0M200.2 225.7h0M210.2 217.0h0M191.4 229.0h0M183.1 243.0h0M194.4 231.0h0M194.0 232.4h0M209.3 216.3h0M198.3 228.5h0M204.9 220.1h0M208.9 217.8h0M177.3 245.8h0M200.4 226.3h0M199.8 226.7h0M179.9 242.3h0M197.0 228.0h0M179.6 246.4h0M205.7 220.1h0M211.2 215.6h0M211.6 215.5h0M189.6 234.6h0M201.1 225.7h0M195.2 230.0h0M177.8 245.7h0M209.4 217.3h0M179.4 246.5h0M196.9 229.7h0M205.0 221.5h0M202.0 224.1h0M197.6 228.8h0M179.1 246.5h0M192.3 234.0h0M207.5 214.2h0M202.9 222.4h0M175.0 249.2h0M176.6 249.0h0M189.3 233.8h0M196.7 230.2h0M193.0 231.9h0M198.2 224.5h0M213.3 209.6h0M176.3 243.5h0M207.4 215.3h0M172.9 250.1h0M184.8 237.6h0M177.7 247.0h0M195.1 230.7h0M213.1 214.0h0M192.7 230.8h0M202.2 224.9h0M207.1 219.9h0M208.0 215.4h0M189.1 236.7h0M179.4 243.7h0M208.3 217.0h0M211.4 215.3h0M176.6 246.8h0M195.3 230.8h0M204.5 221.5h0M194.9 229.9h0M179.8 244.1h0M175.2 250.3h0M184.9 239.7h0M190.9 233.9h0M178.6 244.8h0M198.9 226.8h0M186.0 239.8h0M213.4 213.9h0M213.7 213.1h0M183.7 240.1h0M188.8 237.5h0M189.4 236.6h0M187.6 238.1h0M194.3 232.4h0M174.4 246.3h0M211.5 215.0h0M185.5 240.2h0M175.6 249.4h0M206.8 215.6h0M182.5 242.6h0M179.6 244.9h0M189.9 235.7h0M200.5 224.0h0M175.1 247.5h0M211.3 213.8h0M202.9 223.9h0M211.2 214.6h0M197.1 229.5h0M199.3 227.3h0M210.4 213.2h0M199.8 225.2h0M209.7 215.9h0M179.8 244.1h0M181.5 241.6h0M184.5 236.3h0M207.2 217.7h0M210.4 216.5h0M209.3 214.9h0M207.4 217.3h0M205.7 218.9h0M192.1 229.2h0M188.3 235.8h0M204.6 222.3h0M179.6 242.6h0M199.9 226.6h0M203.9 222.2h0M201.2 224.9h0M209.8 214.5h0M177.0 246.3h0M195.2 231.6h0M186.6 236.9h0M190.9 235.5h0M193.1 233.4h0M177.1 248.3h0M172.8 251.5h0M205.9 219.0h0M202.2 221.9h0M213.9 212.9h0M196.2 228.9h0M181.3 243.0h0M189.4 236.8h0M186.2 234.2h0M189.5 235.4h0M202.5 224.1h0M179.3 242.1h0M173.0 251.5h0M210.4 215.8h0M201.4 224.5h0M197.3 229.5h0M205.1 221.6h0M202.3 218.8h0M176.0 247.1h0M174.6 250.7h0M198.4 225.8h0M199.4 227.3h0M207.3 219.6h0M191.4 230.0h0M189.1 237.0h0M184.6 241.2h0M209.5 217.3h0M174.1 251.3h0M203.7 222.0h0M193.5 232.9h0M202.6 220.8h0M213.8 213.1h0M201.6 224.8h0M193.3 232.9h0M177.3 245.9h0M182.7 243.4h0M181.3 244.3h0M177.0 247.3h0M183.3 242.1h0M196.7 226.1h0M179.6 245.7h0M187.6 237.6h0M197.2 229.7h0M202.4 224.6h0M211.3 215.1h0M188.0 237.6h0M193.6 232.1h0M194.4 231.9h0M195.1 229.5h0" stroke="#43b51c" stroke-width="1.4" stroke-linecap="round" fill="none"/>
<path d="M175.3 262.3h0M181.0 252.6h0M177.4 260.0h0M172.6 265.4h0M182.9 250.6h0M167.1 267.6h0M178.6 261.2h0M179.0 257.2h0M177.7 256.1h0M181.0 257.2h0M184.6 254.2h0M177.8 257.5h0M173.2 263.5h0M179.5 265.5h0M174.0 260.1h0M176.0 258.7h0M167.7 270.1h0M174.0 262.1h0M180.3 251.7h0M184.3 255.4h0M183.5 249.2h0M179.1 257.7h0M167.4 266.6h0M183.9 254.2h0M184.2 250.8h0M175.2 260.3h0M184.3 248.6h0M169.0 272.2h0M166.4 271.7h0M172.3 266.9h0M182.3 249.7h0M174.5 260.8h0M166.9 273.4h0M175.1 258.8h0M173.2 259.9h0M183.0 259.7h0M182.4 249.6h0M182.5 249.4h0M172.8 265.1h0M178.6 253.8h0M167.9 268.7h0M183.5 250.9h0M172.2 261.5h0M178.8 256.0h0M177.5 257.1h0M177.0 259.8h0M172.6 261.9h0M176.4 257.9h0M179.0 254.8h0M176.1 258.5h0M185.3 246.8h0M173.7 264.5h0M181.3 250.4h0M176.6 259.8h0M166.4 273.4h0M171.0 269.3h0M184.6 249.6h0M178.2 257.2h0M179.7 253.0h0M182.4 251.1h0M182.6 253.7h0M173.9 266.0h0M175.1 259.0h0M166.6 267.6h0M167.6 269.3h0M180.6 251.1h0M185.3 249.3h0M168.1 267.8h0M173.6 260.1h0M184.4 264.1h0M181.8 259.0h0M178.9 253.5h0M166.9 267.2h0M178.0 260.0h0M180.0 252.6h0M174.4 258.0h0M170.9 265.6h0M168.6 265.1h0M172.5 264.7h0M166.4 269.6h0M172.2 260.8h0M168.2 269.2h0M172.9 261.8h0M180.5 252.1h0M172.1 261.8h0M184.8 253.0h0M175.2 257.5h0M179.6 255.8h0M183.3 252.8h0M175.4 257.0h0M171.8 262.0h0M178.4 258.9h0M184.0 247.6h0M174.0 261.8h0M181.0 255.8h0M169.6 264.1h0M182.9 250.6h0M177.4 254.6h0M182.3 250.8h0M179.6 252.5h0M180.0 253.0h0M169.7 265.2h0M185.1 249.6h0M166.1 267.8h0M181.5 252.5h0M173.6 268.0h0M184.6 260.1h0M166.9 268.3h0M183.3 253.5h0M170.6 270.0h0M184.0 258.9h0M181.0 250.9h0M173.9 260.1h0M180.3 254.8h0M172.4 262.1h0M173.8 270.9h0M168.7 266.8h0M174.8 264.9h0M179.0 258.6h0M174.7 258.9h0M168.8 270.8h0M167.0 267.6h0M170.7 274.2h0M179.7 254.7h0M185.0 246.8h0M180.7 254.1h0M176.3 256.9h0M173.7 259.2h0M166.8 270.9h0M183.2 248.9h0M175.0 260.9h0M180.6 252.0h0M173.3 261.3h0M184.9 247.2h0M182.1 255.1h0M171.1 265.2h0M173.8 259.0h0M172.8 260.1h0M178.7 258.9h0M167.5 267.9h0M183.0 251.9h0M183.4 248.3h0M177.5 266.2h0M170.0 268.5h0M171.8 266.5h0M174.1 261.0h0M179.7 254.8h0M183.3 250.4h0M169.3 265.7h0M178.2 255.5h0M178.0 254.0h0M167.0 273.2h0M175.1 257.9h0M177.4 254.7h0M167.6 268.0h0M172.1 261.9h0M167.6 268.3h0M172.0 265.5h0M183.8 253.1h0M168.2 267.7h0M168.9 265.8h0M178.3 253.8h0M172.6 272.4h0M166.3 268.5h0M169.0 269.3h0M170.0 263.5h0M183.6 253.0h0M174.7 261.9h0M184.7 251.4h0M183.0 249.3h0M180.1 251.6h0M183.4 261.7h0M179.2 256.5h0M170.4 270.8h0M184.8 247.3h0M174.3 258.0h0M180.5 251.4h0M175.1 257.4h0M177.7 255.1h0M168.5 266.6h0M168.6 268.9h0M170.3 269.3h0M167.3 266.9h0M174.2 268.7h0M184.5 247.3h0M176.3 260.5h0M176.1 257.8h0M184.4 247.2h0M178.3 253.7h0M184.1 257.1h0M182.4 251.3h0M171.7 263.7h0M175.9 258.0h0M172.9 265.9h0M169.5 264.9h0M171.1 263.9h0" stroke="#f7821e" stroke-width="1.4" stroke-linecap="round" fill="none"/>
<path d="M195.7 239.1h0M213.2 221.9h0M201.4 228.9h0M201.1 250.2h0M210.8 219.0h0M195.8 239.7h0M201.6 233.4h0M187.8 253.9h0M198.6 236.9h0M208.1 237.2h0M195.1 237.0h0M189.4 248.7h0M181.3 253.6h0M199.4 234.8h0M190.2 251.6h0M185.2 247.2h0M199.0 235.7h0M194.8 239.3h0M210.6 224.7h0M185.9 245.6h0M189.5 242.2h0M194.4 236.7h0M192.4 245.9h0M192.9 237.9h0M194.0 243.7h0M186.8 246.0h0M188.4 249.8h0M197.1 234.3h0M198.9 234.5h0M186.7 246.4h0M204.5 231.3h0M205.1 228.3h0M185.6 246.0h0M193.3 237.7h0M203.9 237.7h0M182.4 248.9h0M200.6 235.9h0M202.2 230.6h0M188.9 249.5h0M182.1 253.9h0M183.1 249.0h0M211.1 227.3h0M202.0 231.7h0M205.0 230.3h0M213.4 217.4h0M193.8 239.9h0M188.6 247.0h0M186.3 250.9h0M201.0 230.5h0M209.9 231.9h0M209.2 227.0h0M203.7 232.6h0M201.8 230.6h0M207.9 227.2h0M192.5 239.2h0M208.7 227.5h0M193.3 244.7h0M203.8 228.5h0M206.2 225.6h0M184.7 247.7h0M197.5 245.1h0M200.3 230.7h0M188.3 242.9h0M181.4 256.4h0M182.2 250.2h0M206.7 238.3h0M190.9 241.9h0M196.1 236.9h0M212.9 223.6h0M184.6 251.6h0M185.6 250.3h0M191.3 240.8h0M203.6 227.6h0M193.7 240.9h0M204.3 228.3h0M214.4 218.3h0M200.2 233.4h0M181.1 253.6h0M201.0 239.7h0M203.4 230.8h0M191.9 239.3h0M197.1 238.2h0M203.4 229.8h0M200.1 236.3h0M206.8 229.1h0M204.8 225.7h0M184.2 251.9h0M192.9 239.2h0M198.5 232.8h0M201.8 232.0h0M194.8 244.0h0M210.3 232.7h0M189.2 244.3h0M192.2 241.6h0M188.8 242.1h0M214.4 218.0h0M205.1 224.8h0M196.2 245.0h0M200.1 236.1h0M184.4 254.1h0M207.3 224.0h0M195.7 235.7h0M205.3 230.5h0M184.1 253.1h0M205.4 225.4h0M187.4 244.2h0M184.0 250.9h0M204.6 232.5h0M184.3 252.6h0M181.6 257.5h0M187.0 248.5h0M199.2 235.7h0M202.5 229.5h0M200.2 235.8h0M185.5 253.4h0M183.1 253.9h0M190.1 246.0h0M184.8 249.7h0M200.5 231.8h0M181.3 251.5h0M187.5 245.5h0M193.2 238.8h0M192.9 252.9h0M211.5 219.7h0M201.7 231.3h0M202.5 227.9h0M208.3 238.8h0M203.9 227.8h0M212.9 217.1h0M203.8 230.1h0M186.4 248.4h0M186.2 246.8h0M187.6 245.5h0M184.2 248.7h0M194.4 237.3h0M205.8 232.4h0M212.4 220.3h0M189.9 244.9h0M195.7 236.6h0M195.9 241.8h0M210.3 221.1h0M213.2 226.8h0M211.2 220.8h0M211.5 232.9h0M207.0 224.7h0M212.6 218.3h0M203.1 231.2h0M210.9 230.1h0M200.8 238.5h0M200.8 232.4h0M209.2 233.9h0M199.5 233.0h0M204.2 225.8h0M184.7 249.4h0M193.6 238.5h0M208.1 232.1h0M190.6 244.5h0M185.1 255.0h0M211.2 221.4h0M208.7 226.8h0M212.8 228.4h0M185.6 249.4h0M213.0 227.1h0M206.4 226.0h0M205.5 224.8h0M187.9 250.0h0M189.9 241.0h0M188.2 252.2h0M208.0 229.0h0M193.7 239.8h0M202.3 230.7h0M212.2 219.6h0M210.0 225.5h0M209.6 227.8h0M201.0 231.4h0M186.0 249.7h0M212.4 228.6h0M205.5 228.2h0M184.0 248.2h0M191.9 248.7h0M192.3 244.5h0M212.2 220.3h0M208.8 237.6h0M200.8 231.1h0M186.5 251.8h0M201.7 235.9h0M186.9 246.0h0M198.8 240.4h0M188.8 242.6h0M210.2 223.3h0M207.5 226.4h0M183.3 254.8h0M183.6 249.2h0M208.9 230.8h0M207.0 231.6h0M213.1 221.3h0M182.5 252.8h0M197.8 237.6h0M203.1 229.9h0M205.9 226.2h0M212.8 232.0h0M209.4 222.0h0M199.8 234.3h0M193.6 240.8h0M197.5 236.0h0M184.4 247.4h0M201.5 230.5h0M192.5 244.7h0M194.9 243.7h0M182.3 256.9h0M185.0 248.7h0M201.6 228.8h0M194.7 239.0h0M193.1 239.1h0M212.7 224.3h0M200.3 230.1h0M213.2 220.2h0M209.2 227.3h0M213.8 219.6h0M211.3 224.1h0M194.7 240.2h0M205.3 227.3h0M188.1 245.0h0M195.7 235.7h0M203.3 234.5h0M188.9 245.0h0M195.8 235.0h0M196.0 235.2h0M199.4 238.4h0M210.7 220.0h0M210.7 225.1h0M186.0 249.4h0M190.4 242.0h0M195.8 235.7h0M205.1 228.1h0M187.7 251.6h0M185.6 251.1h0M190.9 241.0h0M206.1 224.0h0M189.8 245.7h0M198.0 240.4h0M205.8 235.3h0M205.0 225.8h0M204.6 226.7h0M181.5 253.1h0M191.1 240.1h0M206.8 224.6h0M213.8 220.9h0M181.8 257.8h0M184.8 247.8h0M202.5 228.8h0M181.9 255.0h0M206.0 230.3h0M186.4 247.3h0M185.3 249.2h0M192.7 241.6h0M189.3 245.9h0M203.7 227.7h0M194.0 239.7h0M181.3 250.4h0M194.6 240.6h0M199.8 231.4h0M205.6 233.2h0M211.7 220.3h0M181.1 250.3h0M199.7 233.4h0M208.8 230.9h0M194.5 241.8h0M212.7 222.7h0M185.9 253.8h0M188.1 243.7h0M205.2 229.4h0M199.6 237.6h0M198.7 232.6h0M192.6 240.8h0M184.4 248.7h0M213.0 223.2h0M186.6 245.4h0M194.4 236.9h0M202.8 234.5h0M195.8 239.8h0M204.6 227.9h0M194.6 236.9h0M198.1 238.5h0M203.2 233.1h0M199.7 230.5h0M186.9 245.4h0M197.5 243.1h0M189.1 245.4h0M189.1 245.5h0M210.0 234.6h0M209.2 227.6h0M199.1 239.4h0M193.1 242.5h0M214.7 222.6h0M196.2 240.8h0M183.2 251.5h0M188.1 246.5h0M181.0 252.8h0M204.2 231.9h0M214.2 216.7h0M192.3 243.7h0M191.0 241.2h0M184.2 248.3h0M191.9 244.1h0M186.3 252.3h0M209.7 220.3h0M200.4 230.8h0M190.1 241.9h0M188.7 248.9h0M186.9 245.5h0M210.4 232.5h0M189.8 245.4h0M190.6 244.0h0M190.6 242.8h0M198.4 231.8h0M194.2 241.8h0M181.7 249.9h0M200.4 239.3h0M202.7 237.1h0M188.2 244.3h0M205.3 229.7h0M199.5 240.6h0M206.4 229.4h0M194.6 237.7h0M193.6 240.1h0M192.2 238.8h0M200.2 231.7h0M196.3 248.2h0M212.7 223.1h0M194.0 241.7h0M191.3 246.5h0M188.7 245.0h0M198.4 234.3h0M206.2 223.8h0M195.0 235.8h0M184.6 247.3h0M184.1 248.5h0M205.6 233.8h0M183.3 249.9h0M191.5 242.0h0M192.7 245.9h0M209.6 222.5h0M193.5 237.9h0M186.7 244.7h0M204.5 227.9h0M189.5 243.4h0M182.7 250.1h0M203.5 228.5h0M208.7 224.3h0M209.8 224.7h0M206.0 236.0h0M193.7 239.9h0M210.2 222.9h0M210.8 225.2h0M212.8 220.4h0M199.4 233.4h0M200.9 232.3h0M209.2 222.8h0M181.2 252.0h0M212.8 218.2h0M207.5 225.7h0M206.3 227.4h0M211.6 218.8h0M203.3 231.0h0M186.7 246.6h0M205.2 226.1h0M194.5 241.5h0M193.6 243.4h0M182.4 258.3h0M202.0 232.9h0M184.2 247.3h0M187.1 245.2h0M181.2 258.1h0M187.9 244.8h0M203.5 231.4h0M208.1 226.5h0M209.3 220.6h0M189.1 245.2h0M184.8 247.8h0M194.5 243.7h0M208.0 223.6h0M193.1 238.3h0M196.7 235.3h0M209.7 226.1h0M190.3 242.8h0M203.4 231.0h0M213.4 222.1h0M193.3 241.2h0M204.3 225.8h0M201.2 229.6h0M211.7 224.1h0M202.0 234.7h0M186.3 251.1h0M182.0 252.8h0M204.2 226.0h0M201.4 240.4h0M208.5 226.8h0M201.6 229.0h0M209.2 222.1h0M187.6 247.9h0M202.5 229.3h0M207.2 232.1h0M205.0 228.3h0M184.2 247.4h0M204.9 227.7h0M202.3 235.1h0M194.1 238.4h0M201.1 238.9h0M198.6 236.2h0M188.4 248.0h0M208.7 221.4h0M213.5 218.9h0M182.4 249.9h0M207.6 226.1h0M192.5 246.7h0M204.3 228.4h0M201.0 238.8h0M212.3 218.3h0M199.5 237.0h0M213.1 236.8h0M184.5 250.8h0M195.0 237.3h0M189.2 242.0h0M206.3 226.6h0M208.3 223.5h0M197.0 243.5h0M192.4 249.7h0M189.3 244.9h0M198.1 242.2h0M203.4 231.2h0M182.5 252.0h0M210.1 228.2h0M205.4 229.0h0M214.6 218.0h0M181.7 256.2h0M214.2 215.9h0M187.3 254.1h0M209.7 224.0h0M189.1 242.6h0M201.8 232.1h0M212.3 220.0h0M214.4 224.0h0M209.5 233.6h0M188.5 246.5h0M186.9 245.8h0M213.2 229.2h0M213.3 221.8h0M190.7 247.4h0M198.5 234.9h0M195.1 239.5h0M181.1 250.8h0M198.6 234.5h0M188.1 242.8h0M185.7 258.8h0M210.8 229.6h0M181.9 256.9h0M198.5 231.7h0M189.6 242.8h0M209.2 220.9h0M193.7 244.5h0M207.2 226.3h0M212.8 221.5h0M206.6 238.6h0M207.6 226.4h0M207.7 222.4h0M207.2 232.2h0M208.0 225.6h0M212.6 222.1h0M200.5 234.3h0M192.5 243.6h0M198.2 234.8h0M197.4 233.5h0M187.5 247.3h0M197.4 234.5h0M214.7 215.8h0M201.5 243.1h0M198.8 237.8h0M191.0 243.6h0M189.1 243.2h0M194.8 247.8h0M208.4 224.8h0M201.6 242.1h0M212.6 217.2h0M204.9 228.3h0M189.1 244.1h0M210.9 221.5h0M206.0 229.7h0M185.4 251.4h0M211.0 221.4h0M198.0 235.9h0M187.0 244.3h0M190.0 253.1h0M198.5 241.6h0M187.0 245.3h0M213.5 232.6h0M186.7 245.2h0M202.0 241.1h0M181.3 261.4h0M181.5 253.1h0M198.6 235.5h0M191.7 239.8h0M181.6 258.2h0M188.8 242.1h0M190.4 245.6h0M206.9 223.0h0M191.8 239.2h0M203.4 227.1h0M182.3 254.5h0M210.1 228.4h0M205.7 245.5h0M187.6 243.6h0M195.1 253.6h0M198.9 236.3h0M195.6 234.9h0M200.9 231.6h0M213.0 224.3h0M197.2 235.2h0M196.3 238.4h0M190.5 241.3h0M181.4 253.2h0M194.6 242.7h0M183.0 248.8h0M181.1 256.6h0M192.3 243.2h0M195.1 236.1h0M181.6 250.1h0M183.8 251.4h0M202.7 228.0h0M202.6 229.0h0M189.7 249.4h0M202.8 233.0h0M205.4 236.3h0M198.7 239.8h0M190.0 243.6h0M188.0 248.8h0M183.1 259.1h0M186.2 246.9h0M197.3 245.3h0M208.6 222.3h0M190.0 241.7h0M182.4 250.0h0M187.1 244.3h0M190.8 247.1h0M210.7 225.0h0M212.7 218.5h0M210.6 219.1h0M190.8 243.7h0M184.1 248.6h0M194.7 243.3h0M181.5 253.4h0M193.1 240.9h0M208.4 227.4h0M187.3 247.0h0M182.4 250.8h0M211.1 229.7h0M203.3 230.9h0M195.5 243.7h0M207.6 225.0h0M201.8 232.0h0M205.3 228.7h0M209.9 222.8h0M204.5 247.5h0M199.6 240.0h0M200.3 232.7h0M207.8 235.8h0M192.5 242.4h0M202.4 236.4h0M189.9 246.1h0M210.5 221.2h0M186.7 254.1h0M187.6 252.9h0M198.0 234.5h0M212.1 221.8h0M203.7 239.0h0M203.1 229.9h0M203.7 227.5h0M189.8 247.9h0M205.9 225.1h0M194.2 242.0h0M206.1 229.2h0M193.7 239.7h0M207.2 225.8h0M200.8 230.6h0M193.0 238.9h0M213.1 221.7h0M205.6 227.3h0M181.6 249.8h0M198.2 234.0h0M188.5 242.6h0M204.2 228.7h0M189.7 245.3h0M181.1 254.9h0M189.5 244.5h0M198.4 247.7h0M193.9 238.3h0M208.5 222.4h0M212.8 218.2h0M199.0 231.9h0M198.7 238.7h0M192.4 238.3h0M193.0 239.9h0M203.6 231.1h0M205.2 228.6h0M197.1 239.3h0M183.9 250.0h0M186.3 245.6h0M190.8 240.7h0M202.6 234.1h0M187.8 243.6h0M182.5 249.1h0M192.2 239.2h0M202.0 230.1h0M202.3 228.1h0M209.8 222.7h0M185.2 246.5h0M197.7 238.3h0M191.0 245.4h0M206.8 237.4h0M190.7 245.6h0M210.2 224.4h0M210.9 223.0h0M182.0 249.9h0M205.5 226.5h0M184.4 247.8h0M208.9 223.5h0M197.2 240.6h0M207.1 223.1h0M191.0 240.1h0M193.1 250.8h0M189.3 250.5h0M185.6 246.0h0M190.2 242.1h0M182.0 251.7h0M189.3 244.4h0M198.6 234.8h0M182.2 251.5h0M209.7 226.2h0M182.8 253.4h0M212.0 219.2h0M207.0 227.7h0M213.8 216.1h0M182.4 249.5h0M187.1 251.6h0M183.2 250.2h0M202.5 237.0h0M211.9 217.9h0M211.8 220.8h0M187.7 246.2h0M194.5 246.0h0M187.0 250.3h0M187.1 246.2h0M212.7 219.6h0M204.6 227.2h0M182.5 252.2h0M202.0 228.8h0M185.2 246.4h0M205.3 240.3h0M198.9 232.5h0M196.5 237.6h0M204.1 232.5h0M186.1 248.3h0M191.0 251.8h0M213.5 233.7h0M208.2 234.4h0M189.4 243.8h0M205.5 229.1h0M187.0 251.3h0M209.7 221.3h0M203.2 227.4h0M202.4 230.4h0M206.7 233.3h0M189.5 244.6h0M188.5 245.0h0M211.0 220.8h0M209.3 220.9h0M197.5 239.9h0M199.0 233.3h0M188.7 250.2h0M188.6 246.9h0M186.9 248.7h0M187.8 247.1h0M187.1 253.5h0M191.5 240.4h0M211.4 227.4h0M188.5 243.4h0M191.8 240.2h0M183.2 247.9h0M209.2 227.3h0M213.8 220.7h0M214.2 215.9h0M190.3 246.1h0M191.8 242.2h0M189.4 243.9h0M200.2 233.5h0M191.2 244.3h0M201.2 236.8h0M200.4 231.3h0M201.1 231.5h0M191.4 241.4h0M184.3 248.1h0M203.5 228.2h0M202.6 231.0h0M200.2 230.9h0M193.3 240.2h0M184.5 248.7h0M204.0 233.3h0M201.2 232.8h0M213.0 219.3h0M207.2 236.9h0M182.0 249.9h0M188.4 249.4h0M210.4 225.8h0M198.6 236.4h0M213.1 218.5h0M197.4 237.5h0M190.0 243.5h0M212.9 216.7h0M202.3 233.5h0M199.9 233.9h0M212.4 220.7h0M189.1 249.7h0M188.0 248.2h0M203.8 231.3h0M182.9 250.0h0M182.4 254.6h0M200.2 238.6h0M183.8 247.9h0M199.6 233.6h0M197.8 242.1h0M192.6 242.3h0M182.6 248.6h0M187.6 247.4h0M214.4 219.5h0M188.6 243.0h0M183.9 251.7h0M198.4 233.2h0M211.1 219.5h0M193.1 240.0h0M196.0 243.4h0M195.0 236.7h0M187.9 246.6h0M201.7 232.2h0M187.0 246.9h0M191.2 246.7h0M194.9 241.0h0M185.7 246.1h0M185.4 247.7h0M196.1 238.2h0M204.5 235.3h0M206.0 230.7h0M192.7 238.1h0M203.1 228.8h0M201.3 229.0h0M185.3 246.7h0M202.5 231.9h0M198.4 240.1h0M212.2 230.4h0M199.3 235.4h0M191.5 245.9h0M204.0 232.1h0M182.5 257.9h0M212.9 218.5h0M184.6 251.2h0M199.1 243.5h0M187.7 245.6h0M213.1 220.5h0M182.3 251.8h0M182.0 254.5h0M208.6 221.9h0M211.3 228.8h0M190.2 241.1h0M208.5 229.4h0M185.0 250.4h0M197.9 232.9h0M199.7 231.4h0M204.1 236.2h0M205.8 225.9h0M189.5 243.0h0M213.7 226.4h0M188.8 242.2h0M202.7 229.1h0M192.2 245.8h0M190.5 245.7h0M193.2 237.4h0M192.8 242.0h0M195.6 240.3h0M199.6 230.9h0M194.9 239.6h0M193.0 243.6h0M193.1 240.8h0M181.1 254.5h0M200.6 232.9h0M181.4 256.2h0M193.2 239.5h0M198.7 232.5h0M183.7 252.1h0M198.5 232.4h0M200.2 239.1h0M212.5 226.9h0M196.8 237.2h0M194.6 237.2h0M189.0 249.1h0M193.9 237.1h0M195.4 236.3h0M202.1 229.6h0M190.5 241.0h0M205.2 228.9h0M197.3 233.1h0M198.0 233.9h0M194.9 240.2h0M185.9 248.3h0M213.7 222.3h0M189.4 243.4h0M194.9 238.5h0M195.2 240.6h0M193.7 238.1h0M196.2 234.3h0M182.0 252.8h0M190.0 248.7h0M208.4 228.1h0M214.1 225.2h0M186.3 249.8h0M201.5 239.0h0M206.2 225.7h0M193.1 249.9h0M202.1 234.2h0M196.0 235.9h0M202.7 233.1h0M209.7 232.7h0M197.5 237.7h0M191.7 240.4h0M195.6 238.2h0M207.0 226.7h0M187.7 250.7h0M192.9 244.9h0M192.2 246.9h0M206.0 226.9h0M206.9 233.9h0M184.8 252.9h0M208.4 230.1h0M196.7 234.7h0M210.3 226.1h0M198.3 238.9h0M196.4 243.0h0M207.6 224.5h0M183.0 249.4h0M211.1 219.8h0M183.1 249.0h0M208.3 222.1h0M182.8 249.4h0M204.0 236.1h0M183.8 255.1h0M209.0 232.3h0M196.3 241.1h0M213.0 218.3h0M201.2 235.8h0M211.2 223.7h0M197.9 234.9h0M191.1 245.2h0M193.0 239.1h0M205.6 224.5h0M187.2 245.4h0M194.9 242.0h0M209.8 223.3h0M188.7 242.2h0M192.2 239.6h0M187.1 253.7h0M212.4 219.0h0M196.3 235.8h0M191.2 243.6h0M185.2 248.7h0M190.6 247.6h0M195.6 235.7h0M208.0 222.4h0M188.6 246.4h0M210.9 227.3h0M206.3 227.9h0M186.5 247.9h0M201.3 232.2h0M194.4 236.9h0M208.1 227.4h0M184.8 249.2h0M206.3 233.5h0M202.5 230.4h0M194.5 243.6h0M193.2 238.4h0M205.8 227.2h0M209.7 224.9h0M213.5 217.2h0M184.6 256.4h0M193.4 248.7h0M203.6 231.9h0M185.5 250.5h0M191.6 239.5h0M198.3 235.5h0M182.0 252.0h0M198.8 244.5h0M186.8 246.1h0M202.5 233.8h0M207.2 223.7h0M202.9 227.9h0M189.6 245.8h0M203.7 234.7h0M185.8 248.1h0M186.9 248.3h0M188.3 243.7h0M196.9 233.9h0M185.7 249.8h0M185.2 246.3h0M199.0 244.2h0M204.5 231.1h0M214.1 217.3h0M184.8 251.2h0M204.5 225.7h0M202.1 231.0h0M204.5 231.1h0M210.6 221.5h0M201.1 241.7h0M214.1 219.6h0M201.6 234.6h0M211.4 227.8h0M207.1 229.8h0M202.1 231.0h0M195.3 239.5h0M208.9 224.0h0M196.3 239.5h0M208.4 222.2h0M198.7 236.9h0M183.6 255.3h0M204.7 230.7h0M186.7 247.4h0M182.5 255.3h0M189.4 248.7h0M197.0 235.3h0M208.7 226.8h0M189.4 241.5h0M199.5 235.7h0M193.0 243.3h0M199.3 233.4h0M200.5 242.6h0M198.6 232.4h0M208.1 222.7h0M206.5 230.5h0M211.5 220.2h0M188.0 254.7h0M182.4 251.4h0M209.4 239.5h0M213.2 218.4h0M210.0 221.6h0M194.2 237.9h0M194.5 239.5h0M199.9 233.3h0M211.1 224.5h0M206.3 225.5h0M192.2 239.1h0M214.3 232.5h0M187.6 244.7h0M196.1 239.6h0M193.5 237.2h0M206.5 228.2h0M194.1 238.5h0M185.2 249.0h0M200.0 238.9h0M208.5 242.0h0M202.7 231.0h0M183.6 248.8h0M195.8 236.3h0M183.7 251.5h0M207.6 231.0h0M194.3 240.6h0M190.8 243.4h0M198.8 233.2h0M214.5 218.3h0M183.2 248.8h0M212.7 221.8h0M197.3 242.7h0M214.3 215.5h0M188.6 250.0h0M197.9 233.0h0M212.8 219.7h0M184.5 253.5h0M192.8 239.8h0M196.3 234.9h0M212.3 235.1h0M183.2 250.8h0M211.6 223.8h0M195.6 235.1h0M197.0 233.3h0M186.3 247.9h0M207.6 235.0h0M213.5 218.3h0M201.7 234.0h0M182.2 250.0h0M183.3 251.4h0M183.3 247.9h0M183.2 248.1h0M209.8 232.0h0M196.4 251.4h0M198.8 242.3h0M181.8 254.2h0M200.2 230.9h0M193.0 238.8h0M184.7 253.0h0M189.5 242.2h0M210.3 226.5h0M183.8 249.7h0M196.2 237.5h0M203.2 232.8h0M209.7 233.1h0M210.5 222.2h0M182.7 253.3h0M191.2 242.9h0M200.3 238.2h0M197.4 233.7h0M181.9 249.9h0M207.2 227.0h0M195.0 236.4h0M198.6 236.1h0M182.3 256.0h0M201.2 233.4h0M210.5 223.4h0M201.4 229.2h0M204.9 232.7h0M194.6 239.7h0M184.5 247.2h0M181.3 251.0h0M183.9 252.2h0M211.0 223.6h0M207.9 225.1h0M187.9 248.5h0M208.7 231.8h0M204.7 240.6h0M182.5 254.9h0M183.1 249.4h0M200.2 234.9h0M202.7 229.5h0M196.5 235.2h0M209.9 223.6h0M195.1 235.6h0M185.7 249.4h0M185.7 245.5h0M193.6 242.6h0M201.7 234.9h0M214.7 222.8h0M206.0 227.5h0M194.0 237.2h0M198.9 238.6h0M190.6 241.8h0M204.2 231.9h0M183.3 251.7h0M187.6 244.7h0M192.8 241.6h0M212.4 222.7h0M202.9 228.6h0M208.5 226.1h0M189.5 244.8h0M184.4 248.9h0M197.7 240.1h0M186.0 250.2h0M199.7 232.3h0M191.7 242.0h0M210.2 222.4h0M211.2 218.9h0M189.5 248.0h0M206.1 232.1h0M208.9 224.2h0M203.6 238.8h0M195.0 241.1h0M190.2 246.2h0M181.3 256.4h0M206.3 240.5h0M206.0 236.4h0M201.9 239.2h0M211.8 226.3h0M209.9 221.3h0M208.7 227.8h0M208.1 223.2h0M213.6 216.6h0M188.7 245.4h0M208.3 225.7h0M211.3 219.0h0M185.5 250.1h0M191.4 240.3h0M211.2 223.4h0M212.0 226.7h0M182.9 251.9h0M211.7 228.4h0M193.3 244.5h0M202.3 231.5h0M185.9 245.6h0M186.1 250.2h0M185.5 246.2h0M184.7 251.9h0M187.5 244.9h0M208.9 233.4h0M201.9 231.2h0M207.6 225.2h0M208.4 228.9h0M183.1 251.2h0M182.4 255.0h0M192.6 248.0h0M211.6 223.5h0M196.7 235.3h0M209.6 226.0h0M189.6 246.6h0M185.3 251.2h0M205.2 227.8h0M188.4 245.6h0M203.8 227.2h0M203.2 227.7h0M183.0 250.9h0M181.1 257.1h0M196.0 237.0h0M208.9 234.3h0M187.8 252.9h0M202.4 234.9h0M187.7 245.6h0M199.3 241.1h0M202.0 228.9h0M212.0 217.9h0M188.5 244.0h0M191.1 247.7h0M204.6 233.6h0M205.4 230.1h0M187.6 248.1h0M200.0 232.1h0M199.2 234.5h0M186.6 250.9h0M189.4 242.4h0M211.9 219.8h0M185.1 246.1h0M187.0 251.4h0M186.2 249.6h0M191.7 246.1h0M205.5 234.4h0M203.3 237.8h0M187.7 244.0h0M197.4 237.3h0M209.7 221.2h0M206.6 225.0h0M181.1 252.0h0M202.5 230.0h0M187.8 248.9h0M211.3 223.0h0M207.4 224.8h0M202.4 230.3h0M191.0 244.6h0M193.6 240.9h0M193.5 243.9h0M187.1 247.6h0M184.7 251.3h0M187.0 247.0h0M194.8 239.5h0M184.0 249.9h0M182.5 249.1h0M198.7 239.7h0M194.3 237.1h0M188.9 249.0h0M185.1 252.8h0M211.0 222.2h0M198.7 244.0h0M188.5 248.1h0M188.7 248.1h0M191.0 242.2h0M214.4 221.9h0M195.8 246.1h0M195.1 235.9h0M190.8 244.8h0M190.3 241.0h0M201.8 232.4h0M183.1 248.2h0M190.8 243.4h0M181.3 250.5h0M201.2 232.1h0M195.2 235.5h0M188.2 248.6h0M209.0 223.3h0M185.7 247.5h0M201.0 230.0h0M189.9 245.4h0M190.2 245.8h0M213.7 219.7h0M205.8 239.2h0M189.6 246.1h0M206.5 228.6h0M199.6 237.8h0M181.3 251.9h0M210.4 231.6h0M207.1 236.8h0M196.3 237.4h0M196.4 234.4h0M209.3 226.5h0M213.3 220.4h0M187.2 245.8h0M203.3 228.3h0M203.0 233.6h0M213.0 223.9h0M181.6 253.3h0M192.8 245.8h0M207.2 227.4h0M186.5 246.4h0M189.3 243.2h0M201.4 233.4h0M213.9 221.4h0M181.6 257.8h0M191.5 248.3h0M213.2 219.3h0M183.7 251.0h0M203.8 231.9h0M194.5 239.8h0M213.7 218.8h0M187.0 256.1h0M197.3 237.8h0M186.0 248.9h0M188.4 245.2h0M185.1 252.2h0M210.6 228.9h0M185.3 246.9h0M207.3 228.0h0M189.0 244.3h0M188.1 244.6h0M184.5 252.3h0M204.1 239.4h0M202.1 240.9h0M195.3 242.8h0M210.5 224.5h0M193.9 242.9h0M205.6 225.9h0M204.5 227.5h0M182.6 249.4h0M207.8 233.8h0M206.2 224.8h0M190.4 255.7h0M207.0 223.0h0M190.9 241.9h0M198.9 237.4h0M191.1 241.6h0M213.6 219.2h0M210.0 220.2h0M204.5 232.7h0M191.6 239.9h0M190.4 240.4h0M183.1 248.8h0M189.7 245.2h0M186.4 248.9h0M195.3 236.1h0M196.8 236.8h0M205.8 224.8h0M191.1 244.7h0M195.4 236.3h0M193.4 240.6h0M192.3 238.6h0M208.7 228.3h0M187.8 246.6h0M185.6 248.4h0M200.5 232.7h0M205.6 231.4h0M191.2 249.8h0M211.1 227.8h0M182.8 251.4h0M209.6 229.8h0M207.3 237.7h0M199.2 236.8h0M210.9 223.2h0M183.7 249.0h0M183.6 250.1h0M189.5 245.2h0M185.3 247.7h0M188.5 249.4h0M202.1 228.7h0M189.9 244.1h0M192.5 245.0h0M199.8 232.8h0M203.9 233.5h0M197.2 233.6h0M197.6 242.0h0M191.8 242.2h0M213.6 219.9h0M214.3 217.3h0M212.8 217.0h0M214.7 215.0h0M210.6 227.5h0M210.6 222.4h0M181.9 250.6h0M206.3 225.7h0M187.4 247.4h0M189.6 242.8h0M213.5 220.9h0M203.1 228.3h0M196.6 235.8h0M196.9 236.7h0M186.6 245.8h0M209.1 224.8h0M189.6 245.0h0M194.3 238.7h0M204.4 227.0h0M199.0 239.1h0M199.6 234.6h0M182.0 250.2h0M191.9 239.5h0M192.5 239.6h0M214.4 220.0h0M199.7 232.6h0M182.3 251.9h0M203.3 233.7h0M193.4 240.0h0M183.7 249.1h0M196.1 234.4h0M205.6 228.9h0M208.9 224.5h0M214.1 217.1h0M182.7 255.5h0M196.1 236.3h0M189.6 242.5h0M187.4 244.9h0M207.8 226.4h0M209.5 227.0h0M197.6 246.8h0M198.9 233.1h0M197.2 239.6h0M185.5 248.6h0M214.5 219.6h0M209.5 222.0h0M203.7 236.7h0M209.1 221.2h0M193.3 238.4h0M181.3 255.1h0M191.0 250.1h0M212.0 223.2h0M214.5 225.6h0M209.7 220.9h0M187.4 247.9h0M200.9 231.9h0M191.6 243.6h0M198.9 236.6h0M211.1 236.6h0M182.7 252.5h0M184.9 247.4h0M195.8 235.5h0M194.4 248.0h0M212.5 226.4h0M192.9 239.3h0M202.5 234.8h0M182.0 252.5h0M194.3 237.9h0M190.0 246.0h0M189.3 247.5h0M184.8 252.5h0M208.1 225.1h0M190.0 244.0h0M183.5 253.9h0M190.0 245.6h0M209.7 226.2h0M194.9 237.6h0M211.0 221.0h0M211.4 237.0h0M199.6 236.4h0M193.4 239.5h0M200.1 232.4h0M198.9 233.4h0M183.7 251.7h0M207.1 232.3h0M207.0 223.2h0M193.1 246.2h0M209.5 225.1h0M196.9 235.9h0M208.5 224.3h0M210.2 231.1h0M197.3 239.2h0M213.7 231.5h0M206.5 231.7h0M184.1 248.3h0M208.1 231.6h0M186.5 247.7h0M201.0 234.7h0M194.1 242.0h0M193.6 239.1h0M192.1 243.6h0M207.6 233.8h0M183.0 251.0h0M195.3 239.3h0M186.7 249.8h0M209.6 220.3h0M197.2 234.9h0M209.9 220.6h0M212.3 223.9h0M190.4 247.1h0M200.8 243.6h0M201.6 231.2h0M212.8 226.8h0M210.8 235.9h0M194.9 239.5h0M186.0 252.4h0M184.4 256.3h0M207.3 224.3h0M209.3 233.3h0M185.4 251.1h0M194.2 238.4h0M195.1 242.7h0M192.8 238.4h0M198.6 232.3h0M208.5 223.7h0M204.5 227.7h0M203.7 239.0h0M207.8 229.2h0M186.5 247.8h0M204.1 231.8h0M186.4 253.7h0M207.6 232.9h0M184.9 246.7h0M204.8 227.2h0M209.3 222.4h0M185.9 245.7h0M208.7 228.1h0M187.2 245.8h0M191.9 250.9h0M193.4 245.9h0M182.9 248.5h0M190.8 242.3h0M213.0 219.2h0M202.4 229.3h0M193.1 246.2h0M186.4 247.5h0M192.2 246.1h0M190.9 242.5h0M183.4 254.3h0M194.5 237.0h0M200.5 232.0h0M199.5 231.6h0M197.1 233.7h0M184.3 250.7h0M207.8 224.0h0M198.3 238.4h0M190.6 245.0h0M210.2 228.6h0M184.2 250.8h0M205.3 224.8h0M203.5 230.9h0M212.2 230.5h0M202.6 229.0h0M210.2 235.4h0M184.9 248.7h0M186.0 245.6h0M183.0 252.8h0M184.4 247.8h0M186.1 245.5h0M202.1 246.9h0M205.2 240.2h0M188.6 249.6h0M210.6 228.4h0M187.1 249.1h0M202.8 234.7h0M186.4 250.2h0M183.9 258.1h0M191.4 242.5h0M214.0 217.3h0M204.3 234.6h0M189.5 241.7h0M212.5 224.0h0M206.7 228.1h0M184.3 255.5h0M207.2 223.6h0M190.6 242.4h0M214.5 220.1h0M206.6 224.5h0M192.4 249.2h0M187.2 244.1h0M191.1 243.2h0M191.5 240.0h0M207.9 230.3h0M181.9 255.2h0M184.1 249.8h0M196.5 239.9h0M197.3 237.4h0M199.4 232.8h0M211.0 227.2h0M185.6 257.4h0M187.8 247.0h0M200.3 229.9h0M189.8 247.4h0M210.7 220.8h0M205.2 226.7h0M213.9 225.8h0M207.1 231.8h0M212.2 236.0h0M208.3 227.7h0M209.8 222.1h0M197.6 233.0h0M185.8 245.4h0M185.9 245.9h0M192.7 242.1h0M182.5 255.6h0M209.8 233.2h0M212.8 218.8h0M191.2 242.4h0M187.7 247.0h0M199.8 230.5h0M196.5 238.0h0M214.1 225.4h0" stroke="#5b9bf0" stroke-width="1.3" stroke-linecap="round" fill="none"/>
<path d="M214.1 221.0h0M218.3 211.3h0M217.1 215.8h0M214.9 217.4h0M214.8 222.8h0M216.1 213.7h0M213.7 220.9h0M213.5 220.3h0M214.8 219.1h0M211.7 220.6h0M217.2 216.4h0M218.5 218.3h0M212.2 225.5h0M214.2 219.2h0M218.5 217.8h0M213.6 222.9h0M212.2 224.2h0M216.0 214.3h0M216.9 220.0h0M213.1 223.6h0M212.7 221.9h0M217.1 216.2h0M216.9 219.8h0M216.8 220.0h0M213.0 222.9h0M214.6 215.8h0M218.0 211.6h0M213.9 216.7h0M215.1 221.7h0M215.0 221.4h0M214.9 219.9h0M212.7 218.1h0M215.6 215.9h0M217.5 213.4h0M214.1 220.5h0M214.3 216.2h0M216.7 215.2h0M219.0 217.2h0M212.2 218.0h0M212.1 220.3h0M214.9 220.2h0M215.4 218.0h0M217.8 219.1h0M212.0 221.5h0M214.1 222.5h0M218.9 215.1h0M214.4 220.1h0M216.9 220.0h0M214.5 217.2h0M218.8 216.0h0M215.7 214.0h0M216.5 213.2h0M211.6 221.6h0M218.2 218.6h0M218.6 216.1h0M214.9 217.7h0M212.5 221.8h0M214.8 218.4h0M218.4 217.4h0M219.4 216.8h0M215.6 220.9h0M219.2 212.9h0M211.8 221.2h0M217.2 218.0h0M217.8 216.3h0M212.0 220.2h0M213.1 217.7h0M218.2 213.1h0M216.4 221.0h0M213.2 223.5h0M216.4 215.7h0M215.1 217.5h0M214.1 215.6h0M217.4 219.5h0M215.0 222.2h0M217.9 214.1h0M212.9 219.0h0M215.2 220.5h0M216.5 214.2h0M217.1 220.2h0" stroke="#5b9bf0" stroke-width="1.3" stroke-linecap="round" fill="none"/>
<path d="M192.1 239.2h0M202.7 228.5h0M205.8 224.9h0M215.1 215.5h0M188.3 255.3h0M201.0 233.0h0M212.5 228.9h0M214.8 216.9h0M207.9 222.4h0M204.0 231.2h0M209.5 220.5h0M203.4 229.7h0M210.7 221.3h0M188.2 245.0h0M217.1 214.4h0M193.9 240.8h0M216.7 213.4h0M196.7 235.2h0M211.8 218.8h0M198.1 233.8h0M202.8 228.6h0M211.6 225.7h0M217.1 214.8h0M198.0 234.6h0M196.8 233.7h0M191.3 242.1h0M192.8 238.8h0M205.7 227.2h0M217.6 213.8h0M197.5 236.9h0" stroke="#f7821e" stroke-width="1.2" stroke-linecap="round" fill="none"/>
<path d="M158.69,265.03 L161.11,262.94 L163.52,260.86 L165.94,258.77 L168.35,256.69 L170.77,254.60 L173.19,252.52 L175.60,250.43 L178.02,248.19 L180.43,245.90 L182.85,243.60 L185.26,241.31 L187.68,239.01 L190.09,236.72 L192.51,234.42 L194.93,232.12 L197.34,229.83 L199.76,227.49 L202.17,225.14 L204.59,222.78 L207.00,220.42 L209.42,218.07 L211.84,215.71 L214.25,213.35 L216.67,210.99 L219.08,208.64 L221.50,206.28 L223.91,203.92 L226.33,201.57 L228.74,199.21 L231.16,196.81 L231.16,197.77 L228.74,200.24 L226.33,202.76 L223.91,205.27 L221.50,207.79 L219.08,210.30 L216.67,212.82 L214.25,215.33 L211.84,217.85 L209.42,220.36 L207.00,222.88 L204.59,225.39 L202.17,227.91 L199.76,230.42 L197.34,232.96 L194.93,235.54 L192.51,238.11 L190.09,240.69 L187.68,243.27 L185.26,245.84 L182.85,248.42 L180.43,250.99 L178.02,253.57 L175.60,256.20 L173.19,258.99 L170.77,261.78 L168.35,264.57 L165.94,267.35 L163.52,270.14 L161.11,272.93 L158.69,275.71 Z" fill="#d5d5d5"/>
<circle cx="155.76" cy="247.12" r="0.60" fill="#f7821e"/>
<circle cx="161.62" cy="240.84" r="0.60" fill="#f7821e"/>
<circle cx="167.11" cy="236.05" r="0.60" fill="#f7821e"/>
<circle cx="179.92" cy="274.06" r="0.60" fill="#f7821e"/>
<circle cx="183.58" cy="271.11" r="0.60" fill="#f7821e"/>
<circle cx="214.69" cy="209.10" r="0.60" fill="#f7821e"/>
<circle cx="218.72" cy="206.15" r="0.60" fill="#f7821e"/>
<text x="184.24" y="210.53" font-size="5.00" font-style="italic" fill="#111" stroke="#111" stroke-width="0.140">CDKN1A</text>
<text x="172.49" y="215.55" font-size="5.00" font-style="italic" fill="#111" stroke="#111" stroke-width="0.140">MDM2</text>
<text x="180.51" y="221.79" font-size="5.00" font-style="italic" fill="#111" stroke="#111" stroke-width="0.140">GDF15</text>
<text x="217.98" y="233.05" font-size="5.00" font-style="italic" fill="#111" stroke="#111" stroke-width="0.140">H1-5</text>
<line x1="186.25" y1="213.75" x2="199.50" y2="215.50" stroke="#111" stroke-width="0.5"/>
<path d="M199.50,215.50 L196.72,213.62 L196.33,216.59 Z" fill="#111"/>
<circle cx="196.02" cy="222.39" r="0.60" fill="#43b51c"/>
<circle cx="205.17" cy="213.90" r="0.60" fill="#43b51c"/>
<line x1="267.00" y1="193.30" x2="267.00" y2="275.15" stroke="#222" stroke-width="0.7"/>
<line x1="266.65" y1="274.80" x2="347.82" y2="274.80" stroke="#222" stroke-width="0.7"/>
<line x1="265.70" y1="274.80" x2="267.00" y2="274.80" stroke="#222" stroke-width="0.55"/>
<text x="264.20" y="276.55" font-size="4.85" text-anchor="end" fill="#222" stroke="#222" stroke-width="0.140">&#8722;6</text>
<line x1="267.00" y1="274.80" x2="267.00" y2="276.10" stroke="#222" stroke-width="0.55"/>
<text x="267.00" y="282.05" font-size="4.85" text-anchor="middle" fill="#222" stroke="#222" stroke-width="0.140">&#8722;6</text>
<line x1="265.70" y1="267.42" x2="267.00" y2="267.42" stroke="#222" stroke-width="0.55"/>
<text x="264.20" y="269.16" font-size="4.85" text-anchor="end" fill="#222" stroke="#222" stroke-width="0.140">&#8722;4</text>
<line x1="274.32" y1="274.80" x2="274.32" y2="276.10" stroke="#222" stroke-width="0.55"/>
<text x="274.32" y="282.05" font-size="4.85" text-anchor="middle" fill="#222" stroke="#222" stroke-width="0.140">&#8722;4</text>
<line x1="265.70" y1="260.04" x2="267.00" y2="260.04" stroke="#222" stroke-width="0.55"/>
<text x="264.20" y="261.78" font-size="4.85" text-anchor="end" fill="#222" stroke="#222" stroke-width="0.140">&#8722;2</text>
<line x1="281.64" y1="274.80" x2="281.64" y2="276.10" stroke="#222" stroke-width="0.55"/>
<text x="281.64" y="282.05" font-size="4.85" text-anchor="middle" fill="#222" stroke="#222" stroke-width="0.140">&#8722;2</text>
<line x1="265.70" y1="252.65" x2="267.00" y2="252.65" stroke="#222" stroke-width="0.55"/>
<text x="264.20" y="254.40" font-size="4.85" text-anchor="end" fill="#222" stroke="#222" stroke-width="0.140">0</text>
<line x1="288.96" y1="274.80" x2="288.96" y2="276.10" stroke="#222" stroke-width="0.55"/>
<text x="288.96" y="282.05" font-size="4.85" text-anchor="middle" fill="#222" stroke="#222" stroke-width="0.140">0</text>
<line x1="265.70" y1="245.27" x2="267.00" y2="245.27" stroke="#222" stroke-width="0.55"/>
<text x="264.20" y="247.02" font-size="4.85" text-anchor="end" fill="#222" stroke="#222" stroke-width="0.140">2</text>
<line x1="296.28" y1="274.80" x2="296.28" y2="276.10" stroke="#222" stroke-width="0.55"/>
<text x="296.28" y="282.05" font-size="4.85" text-anchor="middle" fill="#222" stroke="#222" stroke-width="0.140">2</text>
<line x1="265.70" y1="237.89" x2="267.00" y2="237.89" stroke="#222" stroke-width="0.55"/>
<text x="264.20" y="239.64" font-size="4.85" text-anchor="end" fill="#222" stroke="#222" stroke-width="0.140">4</text>
<line x1="303.60" y1="274.80" x2="303.60" y2="276.10" stroke="#222" stroke-width="0.55"/>
<text x="303.60" y="282.05" font-size="4.85" text-anchor="middle" fill="#222" stroke="#222" stroke-width="0.140">4</text>
<line x1="265.70" y1="230.51" x2="267.00" y2="230.51" stroke="#222" stroke-width="0.55"/>
<text x="264.20" y="232.26" font-size="4.85" text-anchor="end" fill="#222" stroke="#222" stroke-width="0.140">6</text>
<line x1="310.92" y1="274.80" x2="310.92" y2="276.10" stroke="#222" stroke-width="0.55"/>
<text x="310.92" y="282.05" font-size="4.85" text-anchor="middle" fill="#222" stroke="#222" stroke-width="0.140">6</text>
<line x1="265.70" y1="223.13" x2="267.00" y2="223.13" stroke="#222" stroke-width="0.55"/>
<text x="264.20" y="224.87" font-size="4.85" text-anchor="end" fill="#222" stroke="#222" stroke-width="0.140">8</text>
<line x1="318.24" y1="274.80" x2="318.24" y2="276.10" stroke="#222" stroke-width="0.55"/>
<text x="318.24" y="282.05" font-size="4.85" text-anchor="middle" fill="#222" stroke="#222" stroke-width="0.140">8</text>
<line x1="265.70" y1="215.75" x2="267.00" y2="215.75" stroke="#222" stroke-width="0.55"/>
<text x="264.20" y="217.49" font-size="4.85" text-anchor="end" fill="#222" stroke="#222" stroke-width="0.140">10</text>
<line x1="325.56" y1="274.80" x2="325.56" y2="276.10" stroke="#222" stroke-width="0.55"/>
<text x="325.56" y="282.05" font-size="4.85" text-anchor="middle" fill="#222" stroke="#222" stroke-width="0.140">10</text>
<line x1="265.70" y1="208.36" x2="267.00" y2="208.36" stroke="#222" stroke-width="0.55"/>
<text x="264.20" y="210.11" font-size="4.85" text-anchor="end" fill="#222" stroke="#222" stroke-width="0.140">12</text>
<line x1="332.88" y1="274.80" x2="332.88" y2="276.10" stroke="#222" stroke-width="0.55"/>
<text x="332.88" y="282.05" font-size="4.85" text-anchor="middle" fill="#222" stroke="#222" stroke-width="0.140">12</text>
<line x1="265.70" y1="200.98" x2="267.00" y2="200.98" stroke="#222" stroke-width="0.55"/>
<text x="264.20" y="202.73" font-size="4.85" text-anchor="end" fill="#222" stroke="#222" stroke-width="0.140">14</text>
<line x1="340.20" y1="274.80" x2="340.20" y2="276.10" stroke="#222" stroke-width="0.55"/>
<text x="340.20" y="282.05" font-size="4.85" text-anchor="middle" fill="#222" stroke="#222" stroke-width="0.140">14</text>
<line x1="265.70" y1="193.60" x2="267.00" y2="193.60" stroke="#222" stroke-width="0.55"/>
<text x="264.20" y="195.35" font-size="4.85" text-anchor="end" fill="#222" stroke="#222" stroke-width="0.140">16</text>
<line x1="347.52" y1="274.80" x2="347.52" y2="276.10" stroke="#222" stroke-width="0.55"/>
<text x="347.52" y="282.05" font-size="4.85" text-anchor="middle" fill="#222" stroke="#222" stroke-width="0.140">16</text>
<text x="307.26" y="288.80" font-size="5.00" text-anchor="middle" fill="#222" stroke="#222" stroke-width="0.140">DMSO-treated</text>
<text x="254.60" y="235.00" font-size="5.00" text-anchor="middle" fill="#222" stroke="#222" stroke-width="0.140" transform="rotate(-90 254.60 235.00)">PC14586-treated</text>
<text x="312.50" y="191.84" font-size="5.10" text-anchor="middle" fill="#222" stroke="#222" stroke-width="0.140" textLength="75.00" lengthAdjust="spacingAndGlyphs">NUGC-3 KO (p53 KO) (16 hours)</text>
<path d="M273.59,265.64 L275.88,262.94 L278.18,260.29 L280.47,258.05 L282.76,255.82 L285.06,253.58 L287.35,251.34 L289.64,249.11 L291.94,246.87 L294.23,244.70 L296.52,242.57 L298.82,240.43 L301.11,238.30 L303.40,236.16 L305.70,234.03 L307.99,231.87 L310.29,229.68 L312.58,227.48 L314.87,225.28 L317.17,223.08 L319.46,220.88 L321.75,218.68 L324.05,216.49 L326.34,214.29 L328.63,212.09 L330.93,209.89 L333.22,207.65 L335.52,205.34 L337.81,203.03 L340.10,200.71 L342.40,198.40 L342.40,199.13 L340.10,201.45 L337.81,203.76 L335.52,206.07 L333.22,208.38 L330.93,210.77 L328.63,213.20 L326.34,215.63 L324.05,218.06 L321.75,220.48 L319.46,222.91 L317.17,225.34 L314.87,227.77 L312.58,230.19 L310.29,232.62 L307.99,235.05 L305.70,237.52 L303.40,240.01 L301.11,242.50 L298.82,244.99 L296.52,247.48 L294.23,249.98 L291.94,252.44 L289.64,254.83 L287.35,257.21 L285.06,259.60 L282.76,261.99 L280.47,264.38 L278.18,266.77 L275.88,268.74 L273.59,270.67 Z" fill="#d5d5d5"/>
<path d="M277.7 265.5h0M305.2 237.4h0M307.4 236.2h0M278.5 259.1h0M316.9 225.6h0M312.0 224.9h0M281.5 268.9h0M337.1 203.9h0M288.6 252.4h0M287.7 252.9h0M283.5 259.1h0M310.9 231.1h0M297.7 241.0h0M291.4 251.9h0M286.9 250.6h0M299.0 245.2h0M283.6 258.1h0M308.7 232.8h0M308.4 234.6h0M275.2 263.2h0M301.3 240.3h0M326.9 214.6h0M290.7 246.8h0M314.7 228.3h0M286.6 251.6h0M330.7 210.4h0M288.3 256.3h0M282.5 258.6h0M315.3 227.2h0M307.2 235.2h0M281.8 265.0h0M286.2 255.0h0M290.5 247.8h0M316.2 225.4h0M311.5 229.6h0M281.2 263.0h0M317.9 224.1h0M285.0 253.2h0M336.6 204.2h0M342.8 198.3h0M300.7 241.5h0M293.9 242.8h0M296.6 244.2h0M286.9 256.3h0M278.7 264.9h0M295.1 247.6h0M314.7 226.5h0M325.6 215.8h0M308.5 231.2h0M297.5 241.5h0M320.8 220.7h0M307.9 230.8h0M279.9 263.1h0M297.7 244.0h0M275.5 266.7h0M296.2 243.8h0M312.6 229.4h0M277.4 265.1h0M275.6 263.0h0M300.1 243.0h0M285.9 249.9h0M288.9 256.8h0M289.5 253.9h0M280.0 262.5h0M295.2 245.5h0M326.0 215.0h0M316.8 223.8h0M304.4 234.4h0M315.9 227.8h0M279.6 263.9h0M282.5 260.8h0M285.0 257.4h0M310.6 230.9h0M297.5 245.7h0M273.2 273.4h0M319.9 220.7h0M276.7 266.7h0M281.5 260.9h0M326.3 214.8h0M301.3 240.7h0M302.5 236.6h0M290.0 251.6h0M280.2 263.8h0M300.3 240.6h0M294.7 241.6h0M305.9 233.7h0M284.3 258.0h0M309.3 231.6h0M290.7 248.9h0M296.2 246.9h0M289.7 249.9h0M327.3 213.7h0M286.3 254.7h0M293.1 249.8h0M299.4 242.0h0M291.5 250.9h0M285.1 255.2h0M280.3 267.5h0M308.3 233.5h0M281.5 258.5h0M301.3 238.6h0M276.2 265.0h0M338.4 203.0h0M289.2 248.6h0M305.3 233.7h0M284.9 252.7h0M286.9 255.6h0M304.4 239.9h0M298.6 242.2h0M282.9 256.6h0M280.1 261.2h0M315.7 224.6h0M300.6 240.5h0M280.6 258.8h0M311.0 233.1h0M306.1 236.9h0M296.9 245.9h0M272.7 268.3h0M302.0 241.1h0M286.9 251.7h0M282.3 260.0h0M301.9 238.7h0M298.8 240.5h0M293.7 249.1h0M294.3 253.4h0M305.7 235.6h0M285.9 259.0h0M289.8 249.7h0M329.1 212.9h0M305.9 233.2h0M280.2 260.0h0M306.0 233.4h0M290.8 251.0h0M281.7 256.5h0M289.5 251.2h0M292.7 249.4h0M292.9 245.9h0M306.9 233.7h0M299.0 240.9h0M313.9 227.9h0M280.9 261.1h0M317.3 224.2h0M328.2 213.2h0M282.9 258.1h0M296.9 239.7h0M319.0 223.3h0M283.2 258.7h0M278.0 266.6h0M305.3 240.4h0M292.0 244.6h0M288.8 254.0h0M294.1 246.6h0M335.5 205.1h0M282.3 261.8h0M288.2 254.0h0M284.0 256.8h0M324.3 217.8h0M282.0 259.2h0M309.5 231.0h0M291.2 250.6h0M307.7 233.6h0M302.6 239.4h0M281.3 255.3h0M284.9 254.4h0M289.3 250.3h0M284.6 253.6h0M333.1 207.8h0M282.3 254.8h0M326.3 215.8h0M321.1 220.9h0M317.8 222.9h0M277.8 263.7h0M282.8 257.8h0M280.9 265.5h0M290.0 252.7h0M333.0 208.6h0M321.6 218.8h0M285.4 257.8h0M281.4 263.3h0M282.0 260.3h0M327.1 213.2h0M281.1 257.0h0M286.7 248.4h0M290.8 250.1h0M284.9 253.7h0M281.2 260.0h0M288.9 251.7h0M279.3 260.1h0M300.1 239.0h0M323.4 217.2h0M280.8 258.5h0M287.1 255.8h0M295.0 242.8h0M294.9 248.2h0M281.7 262.7h0M279.0 264.3h0M311.1 232.3h0M323.5 218.2h0M300.5 243.0h0M296.2 242.7h0M281.6 255.2h0M275.0 266.4h0M306.2 236.7h0M311.8 225.6h0M283.5 261.3h0M301.4 238.6h0M328.1 213.3h0M293.8 246.4h0M285.3 265.6h0M298.1 245.1h0M280.7 262.8h0M297.9 247.3h0M283.4 258.7h0M310.4 228.9h0M282.3 260.0h0M273.5 267.3h0M301.4 238.4h0M327.8 212.4h0M291.1 250.6h0M284.2 257.5h0M290.8 245.2h0M276.5 260.7h0M299.9 245.2h0M338.5 201.8h0M337.4 203.6h0M282.8 259.1h0M293.6 249.0h0M298.8 238.3h0M305.4 239.8h0M290.0 248.7h0M280.1 265.8h0M285.8 255.5h0M291.6 246.0h0M285.4 259.5h0M281.4 257.9h0M297.7 239.9h0M275.6 266.1h0M302.0 238.8h0M298.3 243.0h0M302.7 241.0h0M288.4 247.8h0M324.7 216.0h0M283.2 260.9h0M276.7 269.3h0M313.6 228.5h0M299.6 241.3h0M318.9 224.9h0M283.5 257.0h0M313.6 226.2h0M324.5 215.3h0M286.3 255.5h0M277.1 266.8h0M276.1 265.9h0M298.6 243.5h0M295.1 244.4h0M286.9 251.8h0M317.8 223.2h0M322.0 218.3h0M314.5 226.6h0M283.2 253.7h0M327.0 214.2h0M295.2 245.5h0M295.8 248.1h0M275.0 265.7h0M310.3 231.9h0M317.5 224.6h0M288.1 252.5h0M276.1 264.5h0M306.1 234.6h0M311.4 229.9h0M307.7 232.5h0M333.4 207.7h0M320.9 221.8h0M324.7 216.4h0M294.8 251.0h0M289.6 252.7h0M333.5 208.2h0M302.0 240.2h0M287.0 253.0h0M317.6 223.8h0M282.3 265.7h0M307.5 233.9h0M299.8 241.7h0M284.4 254.3h0M294.2 247.9h0M284.2 258.1h0M329.3 211.7h0M307.3 234.8h0M315.5 225.3h0M278.2 266.9h0M303.1 240.3h0M309.0 232.0h0M288.3 259.1h0M308.9 231.1h0M314.7 226.5h0M293.8 245.0h0M323.7 218.1h0M322.8 218.4h0M284.7 255.7h0M290.0 250.0h0M292.4 249.7h0M307.2 231.5h0M282.6 256.1h0M277.3 270.5h0M315.4 227.2h0M323.5 217.9h0M332.1 208.5h0M274.5 264.0h0M294.4 246.6h0M302.7 238.2h0M279.7 259.6h0M292.9 246.4h0M308.6 230.7h0M320.6 220.3h0M318.5 223.7h0M324.9 216.6h0M313.9 228.8h0M282.6 258.4h0M314.3 226.9h0M275.5 267.1h0M289.2 254.6h0M282.3 254.3h0M311.0 230.0h0M303.2 240.0h0M282.0 257.2h0M309.0 235.3h0M279.3 262.3h0M325.8 216.5h0M311.2 230.0h0M290.3 251.9h0M288.1 256.2h0M284.8 257.0h0M298.9 240.0h0M321.2 220.8h0M289.8 248.9h0M307.3 232.9h0M313.5 229.3h0M321.4 219.4h0M285.0 255.4h0M296.4 243.9h0M312.4 228.4h0M289.1 254.0h0M284.4 262.2h0M279.9 265.8h0M303.8 237.7h0M304.5 238.1h0M315.1 224.9h0M278.9 260.4h0M310.3 231.1h0M277.7 262.0h0M275.7 262.6h0M278.2 267.1h0M295.8 247.0h0M303.8 236.2h0M292.4 255.2h0M318.6 222.8h0M290.8 250.1h0M322.4 219.5h0M311.2 233.2h0M304.6 235.0h0M281.1 260.9h0M311.7 230.0h0M308.4 233.9h0M293.1 251.0h0M319.4 221.4h0M272.4 272.2h0M307.6 232.2h0M294.7 247.8h0M279.5 260.5h0M301.6 236.2h0M300.9 237.9h0M322.4 220.5h0M308.5 234.1h0M307.9 230.7h0M307.6 234.0h0M279.1 263.4h0M303.6 235.5h0M284.0 254.9h0M278.6 262.4h0M286.5 255.3h0M292.2 249.8h0M281.4 261.6h0M284.2 263.7h0M326.3 215.8h0M272.4 267.0h0M276.2 262.8h0M291.5 251.0h0M325.4 215.5h0M296.3 244.8h0M337.4 204.1h0M321.7 218.3h0M308.5 232.6h0M301.8 238.8h0M317.4 224.4h0M297.0 242.3h0M284.8 257.4h0M300.5 239.9h0M297.4 245.0h0M307.6 232.8h0M289.0 254.1h0M304.3 237.1h0M279.8 261.1h0M291.5 247.8h0M290.9 255.6h0M280.4 261.0h0M340.0 201.3h0M312.2 229.2h0M281.5 258.4h0M319.9 221.7h0M312.5 227.1h0M283.8 258.9h0M293.2 246.4h0M318.0 222.3h0M282.1 254.6h0M299.0 243.3h0M283.2 256.4h0M309.3 231.3h0M284.1 258.1h0M298.1 240.6h0M316.2 224.3h0M276.8 269.8h0M287.2 250.4h0M276.1 268.6h0M309.0 231.3h0M294.8 243.3h0M301.9 238.7h0M296.9 245.8h0M292.4 248.6h0M281.0 257.1h0M286.5 258.7h0M306.6 235.8h0M290.0 247.9h0M309.8 232.5h0M324.6 217.2h0M292.3 246.2h0M277.8 264.0h0M302.5 235.7h0M286.8 250.7h0M296.8 244.0h0M281.7 256.3h0M280.0 260.0h0M307.3 231.5h0M283.4 261.1h0M284.1 258.6h0M282.2 260.4h0M286.8 255.2h0M319.6 224.1h0M286.9 255.5h0M305.4 235.4h0M295.8 248.5h0M298.4 241.8h0M284.6 260.3h0M295.2 249.2h0M289.0 253.0h0M317.6 224.1h0M279.5 262.7h0M314.9 223.9h0M289.8 252.1h0M338.6 202.5h0M279.8 256.0h0M284.6 254.0h0M284.1 259.1h0M284.3 256.5h0M283.3 260.8h0M292.7 252.1h0M309.0 234.0h0M287.2 251.8h0M293.8 245.0h0M306.0 234.5h0M292.8 243.9h0M320.3 222.2h0M330.0 210.3h0M321.5 221.5h0M277.7 265.2h0M307.2 235.2h0M293.0 247.7h0M304.3 235.4h0M318.7 224.7h0M294.2 249.1h0M307.7 233.3h0M285.3 256.7h0M281.4 261.3h0M293.5 249.7h0M321.7 220.4h0M276.9 264.2h0M292.3 249.9h0M294.8 248.9h0M314.0 226.5h0M299.1 243.3h0M320.1 220.5h0M285.8 253.8h0M278.0 261.0h0M304.6 238.4h0M302.7 238.1h0M296.2 244.8h0M319.1 222.1h0M333.3 208.1h0M295.8 244.7h0M287.2 259.8h0M330.0 211.5h0M278.1 262.0h0M332.8 208.6h0M276.8 269.3h0M303.0 235.2h0M297.4 244.7h0M290.1 257.2h0M319.3 222.2h0M318.6 223.6h0M288.1 256.5h0M300.9 239.0h0M318.9 221.1h0M305.5 237.7h0M310.7 231.7h0M286.5 258.8h0M295.6 252.7h0M289.3 250.7h0M288.0 249.7h0M302.6 243.0h0M311.8 228.3h0M278.4 260.3h0M309.8 231.0h0M307.0 236.2h0M292.5 249.0h0M312.8 227.2h0M314.3 227.0h0M284.1 255.0h0M295.0 246.2h0M291.3 250.1h0M317.5 227.7h0M278.9 256.9h0M284.7 250.0h0M279.3 263.6h0M288.9 255.6h0M301.2 242.0h0M318.5 222.7h0M292.6 252.4h0M281.1 265.2h0M286.1 259.2h0M279.5 262.4h0M316.4 225.4h0M291.4 249.9h0M322.4 218.1h0M309.7 231.2h0M287.8 256.6h0M286.3 256.1h0M284.1 253.6h0M326.3 214.7h0M290.4 246.4h0M284.3 259.1h0M329.5 212.0h0M303.2 237.5h0M312.0 231.7h0M295.0 245.3h0M289.0 249.4h0M292.5 250.6h0M311.4 232.4h0M325.8 216.7h0M320.6 220.5h0M291.7 250.0h0M297.4 245.2h0M293.7 252.5h0M319.2 220.0h0M324.3 216.9h0M283.0 255.9h0M290.6 256.9h0M292.8 253.7h0M309.3 232.5h0M285.3 258.0h0M308.2 232.0h0M281.2 256.9h0M274.6 264.5h0M309.5 232.1h0M309.5 232.1h0M330.7 211.6h0M291.6 243.5h0M303.6 235.2h0M330.5 210.8h0M284.7 261.3h0M300.3 241.7h0M313.6 224.5h0M279.3 258.3h0M277.8 261.1h0M333.2 207.6h0M325.5 215.4h0M292.8 245.3h0M281.5 262.3h0M321.8 219.8h0M301.4 242.9h0M277.7 262.5h0M284.7 254.9h0M322.9 217.5h0M285.0 260.8h0M289.1 248.5h0M326.7 214.3h0M328.2 214.1h0M297.2 242.4h0M271.2 272.8h0M296.9 239.4h0M303.5 238.4h0M281.9 262.1h0M292.9 253.5h0M300.6 239.5h0M294.0 246.5h0M285.7 255.2h0M301.0 239.6h0M294.5 246.2h0M285.6 261.6h0M288.4 255.5h0M275.5 267.0h0M298.7 241.7h0M280.4 261.8h0M313.1 228.4h0M302.8 239.5h0M335.8 205.9h0M302.5 238.3h0M293.8 245.9h0M283.4 261.2h0M285.2 261.2h0M281.5 263.6h0M296.7 243.5h0M319.7 221.6h0M314.7 226.4h0M332.4 209.2h0M315.2 224.6h0M289.3 252.9h0M281.0 256.8h0M299.2 239.5h0M272.9 271.3h0M300.2 241.2h0M297.1 243.1h0M282.6 261.5h0M299.6 243.3h0M332.4 208.7h0M285.3 255.1h0M288.3 251.6h0M305.1 237.1h0M296.1 247.0h0M303.5 235.2h0M317.0 222.4h0M285.3 262.9h0M317.7 224.2h0M280.5 259.3h0M295.1 246.5h0M287.3 249.1h0M284.4 255.3h0M302.0 236.5h0M303.2 239.5h0M296.4 241.1h0M317.9 225.3h0M301.5 241.4h0M287.3 252.3h0M318.3 222.6h0M308.7 232.6h0M303.0 239.9h0M294.5 247.2h0M285.9 253.7h0M285.6 259.3h0M293.1 247.5h0M298.3 246.1h0M308.3 233.0h0M288.3 252.1h0M323.4 218.5h0M286.2 253.9h0M296.7 244.3h0M300.2 242.6h0M300.6 236.0h0M310.6 232.0h0M302.2 241.2h0M297.5 240.6h0M315.2 224.4h0M309.1 231.6h0M272.4 267.6h0M301.4 242.2h0M335.2 206.1h0M288.7 252.6h0M301.0 243.3h0M292.5 249.7h0M275.3 269.2h0M296.5 240.5h0M281.7 261.4h0M325.3 215.8h0M303.9 237.1h0M299.7 245.3h0M290.6 253.4h0M283.5 256.9h0M281.2 257.3h0M289.3 251.5h0M335.1 205.7h0M308.8 231.0h0M320.9 218.9h0M313.3 229.7h0M304.6 236.4h0M297.7 243.6h0M329.7 211.7h0M313.0 228.8h0M325.6 216.6h0M294.7 250.1h0M302.4 239.5h0M326.4 214.6h0M289.8 252.2h0M325.1 215.2h0M284.5 257.7h0M331.8 209.4h0M302.7 238.4h0M294.3 247.8h0M309.5 231.8h0M286.5 257.8h0M286.1 254.0h0M276.2 267.3h0M293.9 248.7h0M276.5 264.5h0M328.5 214.3h0M295.1 247.8h0M287.7 255.4h0M277.0 262.7h0M289.5 253.0h0M297.1 245.4h0M298.7 244.4h0M278.6 264.1h0M284.8 251.3h0M297.8 245.4h0M280.9 259.5h0M332.1 209.4h0M298.2 239.5h0M317.0 223.0h0M280.7 263.2h0M289.4 254.0h0M319.9 221.1h0M310.9 234.0h0M302.1 241.5h0M283.6 258.1h0M315.0 226.9h0M290.9 252.7h0M311.3 227.8h0M294.9 245.8h0M291.3 243.9h0M310.0 228.2h0M330.7 210.8h0M284.6 256.6h0M309.0 233.9h0M299.2 243.6h0M300.8 238.4h0M283.4 257.9h0M289.8 251.5h0M298.0 246.7h0M326.0 215.5h0M288.7 253.1h0M284.1 253.9h0M328.2 212.8h0M288.5 250.6h0M283.5 258.0h0M292.4 245.9h0M317.6 224.0h0M292.1 247.9h0M292.2 251.3h0M302.3 238.9h0M297.6 243.9h0M301.4 241.3h0M277.4 261.7h0M311.3 230.0h0M281.6 265.0h0M289.4 249.1h0M277.0 265.9h0M298.1 247.9h0M279.7 264.1h0M303.3 242.4h0M297.6 240.4h0M290.7 253.4h0M308.1 234.3h0M283.5 263.0h0M293.8 249.7h0M302.2 238.0h0M301.2 239.0h0M314.5 226.3h0M281.8 256.0h0M280.1 258.9h0M296.5 244.7h0M305.4 236.4h0M281.5 259.7h0M300.9 236.8h0M333.9 207.2h0M283.2 256.6h0M316.9 223.4h0M306.2 233.4h0M279.2 256.4h0M332.5 209.0h0M298.9 240.8h0M288.1 252.0h0M301.6 243.3h0M303.7 239.6h0M298.8 243.0h0M284.8 256.3h0M308.3 232.1h0M279.3 261.1h0M322.2 217.7h0M307.3 235.1h0M319.3 221.3h0M285.8 256.3h0M274.8 263.6h0M276.6 262.9h0M295.8 246.6h0M310.2 232.4h0M283.1 257.3h0M286.7 253.0h0M307.3 234.9h0M280.2 256.8h0M283.2 258.8h0M287.5 248.6h0M279.8 258.2h0M281.9 257.7h0M306.7 233.7h0M314.5 226.1h0M302.4 236.4h0M315.4 225.4h0M291.3 251.9h0M295.4 247.6h0M300.9 239.8h0M317.6 223.0h0M290.9 251.2h0M317.5 222.8h0M287.0 248.7h0M308.3 232.1h0M285.0 266.5h0M282.5 262.0h0M288.5 253.2h0M308.7 235.8h0M282.2 257.8h0M293.8 246.9h0M315.1 227.9h0M299.2 244.3h0M307.4 233.8h0M304.3 240.6h0M294.6 248.1h0M284.1 258.1h0M311.3 230.3h0M296.9 245.6h0M325.8 216.5h0M291.4 251.0h0M321.4 220.4h0M305.2 237.1h0M294.8 244.9h0M288.5 253.7h0M293.6 244.6h0M306.8 233.8h0M276.0 261.7h0M283.8 258.2h0M274.8 266.3h0M293.1 244.5h0M286.4 253.3h0M308.8 235.5h0M317.1 223.1h0M306.3 236.8h0M284.1 256.5h0M314.8 225.2h0M285.5 255.2h0M289.0 249.4h0M279.2 266.7h0M278.0 264.8h0M323.9 216.7h0M281.6 261.5h0M278.2 265.1h0M281.8 259.9h0M291.7 253.7h0M312.2 229.4h0M294.2 246.3h0M321.6 218.6h0M297.0 246.8h0M317.5 222.7h0M277.9 268.6h0M281.8 261.3h0M331.1 210.2h0M302.2 236.7h0M283.1 258.6h0M299.5 241.5h0M326.1 214.8h0M310.8 231.7h0M286.9 257.7h0M326.9 214.7h0M284.5 251.8h0M313.1 230.0h0M304.5 237.4h0M331.4 210.0h0M284.9 261.9h0M324.7 217.2h0M319.0 222.5h0M293.6 248.5h0M306.5 234.8h0M295.0 244.8h0M318.5 220.5h0M304.8 233.4h0M307.7 234.6h0M294.3 250.6h0M289.5 251.2h0M322.8 219.2h0M284.8 259.2h0M302.3 242.5h0M313.3 229.3h0M324.1 217.2h0M282.1 254.6h0M283.0 260.0h0M303.9 236.8h0M310.4 231.0h0M282.2 255.7h0M337.8 203.3h0M293.7 247.8h0M282.0 261.4h0M272.2 268.7h0M280.8 260.5h0M325.8 215.5h0M273.7 267.6h0M295.1 245.6h0M308.6 234.9h0M285.4 257.6h0M282.4 262.2h0M337.5 204.5h0M323.7 217.4h0M324.1 217.0h0M313.2 227.6h0M330.6 209.8h0M285.7 253.2h0M299.3 241.1h0M292.2 252.6h0M275.6 265.4h0M286.0 259.4h0M274.8 268.1h0M333.0 208.2h0M276.6 260.5h0M328.2 212.8h0M292.3 247.8h0M308.7 231.8h0M287.2 254.1h0M285.8 249.1h0M294.8 246.0h0M281.0 258.8h0M299.3 242.1h0M314.2 227.4h0M300.3 236.8h0M284.6 259.3h0M281.4 263.7h0M327.0 213.8h0M313.6 229.8h0M280.6 265.2h0M314.6 227.9h0M330.1 210.8h0M288.4 251.0h0M280.7 261.0h0M298.9 245.2h0M287.3 253.3h0M314.3 226.8h0M302.2 239.7h0M275.5 264.3h0M291.0 247.5h0M295.1 252.4h0M321.1 220.2h0M294.8 244.7h0M278.4 262.4h0M281.5 258.5h0M289.3 257.0h0M313.7 227.9h0M314.3 227.0h0M302.2 237.8h0M276.5 266.6h0M318.8 223.9h0M311.6 229.0h0M330.4 210.8h0M297.4 242.6h0M288.8 250.8h0M296.2 249.8h0M315.1 228.4h0M286.4 252.3h0M337.0 203.9h0M314.4 227.3h0M280.7 255.9h0M310.9 231.4h0M293.7 250.3h0M284.5 249.5h0M314.2 229.1h0M294.7 250.3h0M282.1 261.8h0M332.8 208.4h0M313.9 227.9h0M282.8 255.9h0M277.4 268.4h0M280.6 260.9h0M287.5 256.6h0M281.0 256.5h0M315.4 225.3h0M293.6 250.6h0M286.4 254.7h0M318.8 221.7h0M309.9 230.8h0M304.7 239.8h0M291.0 247.8h0M310.0 229.8h0M281.3 264.9h0M272.7 270.6h0M312.6 229.4h0M279.4 261.5h0M340.4 201.1h0M328.4 214.1h0M320.9 219.6h0M323.7 217.0h0M311.2 230.4h0M277.1 266.8h0M309.2 230.3h0M298.8 242.5h0M299.3 245.5h0M297.0 248.7h0M324.0 217.2h0M294.9 250.1h0M281.4 260.1h0M275.4 267.2h0M317.0 223.7h0M319.3 221.7h0M310.5 232.7h0M296.3 243.7h0M318.9 222.6h0M304.1 237.8h0M306.2 234.2h0M285.2 254.2h0M287.5 254.5h0M307.6 232.7h0M311.3 229.9h0M282.4 257.3h0M283.8 252.9h0M301.7 244.1h0M305.9 234.9h0M328.3 213.8h0M281.2 257.9h0M313.5 227.0h0M300.7 242.6h0M292.7 249.3h0M308.3 236.8h0M292.8 250.4h0M290.1 246.3h0M327.3 214.1h0M294.7 246.3h0M280.3 264.9h0M292.1 246.6h0M319.1 221.5h0M303.6 240.2h0M301.9 238.5h0M290.1 251.5h0M287.6 255.3h0M297.6 241.2h0M297.7 244.6h0M309.9 231.3h0M291.2 247.5h0M279.4 259.9h0M293.7 250.4h0M292.6 250.8h0M308.5 234.6h0M295.9 248.2h0M294.3 247.8h0M325.0 214.9h0M300.9 241.8h0M312.0 230.2h0M309.8 234.1h0M282.4 255.7h0M302.2 239.4h0M302.4 241.1h0M296.3 247.3h0M288.1 252.0h0M282.4 260.8h0M314.0 228.1h0M289.4 255.6h0M326.3 214.9h0M301.5 243.3h0M283.1 258.0h0M305.7 233.5h0M284.1 261.8h0M303.6 238.3h0M282.8 264.6h0M294.9 245.4h0M288.9 257.6h0M298.7 238.8h0M328.6 213.4h0M280.4 264.3h0M302.9 235.5h0M280.8 262.8h0M299.7 240.7h0M308.7 232.3h0M301.4 243.5h0M315.0 225.5h0M286.5 255.1h0M272.9 272.2h0M293.4 249.6h0M307.7 236.9h0M317.5 224.7h0M323.7 217.2h0M317.4 225.4h0M313.2 227.9h0M298.8 242.6h0M288.6 257.5h0M329.7 211.4h0M304.6 237.8h0M316.9 225.3h0M286.5 249.3h0M292.3 251.1h0M333.2 208.1h0M283.2 261.6h0M294.1 246.9h0M283.8 263.2h0M321.0 219.8h0M295.5 246.7h0M296.5 247.5h0M326.3 214.8h0M284.2 254.8h0M311.7 229.6h0M322.3 219.1h0M307.5 234.6h0M276.2 264.8h0M334.4 207.0h0M279.4 262.1h0M282.0 258.1h0M303.4 237.4h0M279.1 259.7h0M326.4 215.3h0M281.9 261.4h0M301.2 242.9h0M296.0 246.0h0M307.4 234.0h0M283.8 260.8h0M285.2 254.4h0M300.8 240.9h0M287.8 246.4h0M315.2 224.8h0M277.7 262.8h0M310.8 230.9h0M297.0 248.7h0M276.0 271.0h0M331.2 210.3h0M306.3 236.0h0M290.4 250.7h0M285.3 256.8h0M293.4 247.3h0M291.6 248.6h0M312.9 226.2h0M336.3 205.2h0M278.9 266.9h0M304.3 236.5h0M302.4 243.0h0M281.3 254.9h0M326.4 214.8h0M276.9 264.8h0M289.8 246.4h0M298.5 243.9h0M316.1 224.1h0M274.1 267.2h0M309.3 230.5h0M299.2 240.5h0M283.4 256.8h0M302.3 239.0h0M327.7 213.2h0M284.1 255.7h0M277.1 265.4h0M290.7 243.8h0M284.4 255.8h0M294.6 252.5h0M324.9 215.8h0M291.1 248.1h0M311.5 232.3h0M291.1 249.8h0M295.2 247.6h0M290.6 254.8h0M323.7 216.8h0M283.3 257.1h0M282.1 260.6h0M288.1 247.9h0M316.6 225.7h0M276.9 264.3h0M332.0 209.0h0M287.7 252.2h0M277.7 260.7h0M298.3 240.1h0M287.3 257.0h0M298.5 246.1h0M286.7 257.8h0M321.8 218.3h0M286.1 255.5h0M280.5 263.9h0M277.8 262.5h0M306.2 235.4h0M311.6 232.8h0M284.4 256.2h0M293.3 249.5h0M316.4 224.4h0M285.9 254.4h0M289.5 255.7h0M321.4 220.3h0M279.3 263.6h0M277.4 257.3h0M295.6 248.1h0M294.2 246.2h0M290.8 251.0h0M335.6 205.6h0M314.5 225.9h0M296.2 248.4h0M299.8 241.1h0M317.4 225.0h0" stroke="#d5d5d5" stroke-width="1.2" stroke-linecap="round" fill="none"/>
<circle cx="298.84" cy="236.41" r="0.70" fill="#f7821e"/>
<circle cx="299.57" cy="237.15" r="0.70" fill="#f7821e"/>
<circle cx="300.31" cy="237.89" r="0.70" fill="#f7821e"/>
<circle cx="314.58" cy="222.39" r="0.70" fill="#f7821e"/>
<circle cx="317.87" cy="220.17" r="0.70" fill="#f7821e"/>
<line x1="36.80" y1="297.60" x2="36.80" y2="350.60" stroke="#222" stroke-width="0.7"/>
<line x1="35.60" y1="298.20" x2="36.80" y2="298.20" stroke="#222" stroke-width="0.55"/>
<text x="33.60" y="299.89" font-size="4.70" text-anchor="end" fill="#222" stroke="#222" stroke-width="0.140">3,010</text>
<line x1="35.60" y1="316.00" x2="36.80" y2="316.00" stroke="#222" stroke-width="0.55"/>
<text x="33.60" y="317.69" font-size="4.70" text-anchor="end" fill="#222" stroke="#222" stroke-width="0.140">2,010</text>
<line x1="35.60" y1="334.00" x2="36.80" y2="334.00" stroke="#222" stroke-width="0.55"/>
<text x="33.60" y="335.69" font-size="4.70" text-anchor="end" fill="#222" stroke="#222" stroke-width="0.140">1,010</text>
<line x1="35.60" y1="351.70" x2="36.80" y2="351.70" stroke="#222" stroke-width="0.55"/>
<text x="33.60" y="353.39" font-size="4.70" text-anchor="end" fill="#222" stroke="#222" stroke-width="0.140">10</text>
<line x1="34.20" y1="354.60" x2="39.50" y2="349.30" stroke="#222" stroke-width="0.6"/>
<line x1="34.20" y1="362.20" x2="39.50" y2="356.90" stroke="#222" stroke-width="0.6"/>
<line x1="36.80" y1="358.30" x2="36.80" y2="379.00" stroke="#222" stroke-width="0.7"/>
<line x1="35.90" y1="378.60" x2="36.80" y2="378.60" stroke="#222" stroke-width="0.45"/>
<line x1="35.90" y1="375.04" x2="36.80" y2="375.04" stroke="#222" stroke-width="0.45"/>
<line x1="35.90" y1="371.48" x2="36.80" y2="371.48" stroke="#222" stroke-width="0.45"/>
<line x1="35.90" y1="367.92" x2="36.80" y2="367.92" stroke="#222" stroke-width="0.45"/>
<line x1="35.90" y1="364.36" x2="36.80" y2="364.36" stroke="#222" stroke-width="0.45"/>
<line x1="35.90" y1="360.80" x2="36.80" y2="360.80" stroke="#222" stroke-width="0.45"/>
<text x="33.50" y="361.52" font-size="4.50" text-anchor="end" fill="#222" stroke="#222" stroke-width="0.140">10</text>
<text x="31.80" y="371.80" font-size="3.00" text-anchor="middle" fill="#333" stroke="#333" stroke-width="0.140" transform="rotate(-90 31.80 371.80)">Unadjusted</text>
<text x="18.60" y="337.00" font-size="5.00" text-anchor="middle" fill="#222" stroke="#222" stroke-width="0.140" transform="rotate(-90 18.60 337.00)">&#8722;Log<tspan font-size="3.2" dy="1.2">10</tspan><tspan dy="-1.2"> (FDR)</tspan></text>
<line x1="36.45" y1="378.80" x2="117.60" y2="378.80" stroke="#222" stroke-width="0.7"/>
<line x1="37.30" y1="378.80" x2="37.30" y2="380.20" stroke="#222" stroke-width="0.55"/>
<text x="37.30" y="386.09" font-size="4.70" text-anchor="middle" fill="#222" stroke="#222" stroke-width="0.140">&#8722;10</text>
<line x1="57.30" y1="378.80" x2="57.30" y2="380.20" stroke="#222" stroke-width="0.55"/>
<text x="57.30" y="386.09" font-size="4.70" text-anchor="middle" fill="#222" stroke="#222" stroke-width="0.140">&#8722;5</text>
<line x1="77.30" y1="378.80" x2="77.30" y2="380.20" stroke="#222" stroke-width="0.55"/>
<text x="77.30" y="386.09" font-size="4.70" text-anchor="middle" fill="#222" stroke="#222" stroke-width="0.140">0</text>
<line x1="97.30" y1="378.80" x2="97.30" y2="380.20" stroke="#222" stroke-width="0.55"/>
<text x="97.30" y="386.09" font-size="4.70" text-anchor="middle" fill="#222" stroke="#222" stroke-width="0.140">5</text>
<line x1="117.30" y1="378.80" x2="117.30" y2="380.20" stroke="#222" stroke-width="0.55"/>
<text x="117.30" y="386.09" font-size="4.70" text-anchor="middle" fill="#222" stroke="#222" stroke-width="0.140">10</text>
<text x="77.30" y="393.30" font-size="5.00" text-anchor="middle" fill="#222" stroke="#222" stroke-width="0.140">Log<tspan font-size="3.2" dy="1.2">2</tspan><tspan dy="-1.2"> (fold change)</tspan></text>
<path d="M56.6,343.0 L59.0,342.6 L74.8,351.6 L56.6,351.6 Z" fill="#5b9bf0"/>
<path d="M73.1 350.8h0M57.4 346.2h0M59.4 344.3h0M57.4 347.7h0M65.4 348.0h0M56.9 348.7h0M68.1 346.6h0M62.6 348.4h0M66.5 347.1h0M57.4 344.7h0M66.8 344.3h0M59.2 340.8h0M57.9 339.8h0M61.0 345.9h0M62.0 343.3h0M61.5 348.6h0M69.0 349.3h0M66.0 350.4h0M70.9 347.4h0M70.9 350.8h0M62.3 351.2h0M59.5 350.6h0M59.0 345.6h0M60.5 344.0h0M64.1 343.0h0M71.0 350.1h0M63.5 347.5h0M61.3 343.8h0M66.2 345.6h0M57.8 346.7h0M66.3 349.4h0M66.3 345.5h0M66.3 344.6h0M62.9 348.7h0M64.2 344.0h0M66.2 345.3h0M72.2 349.7h0M70.3 347.3h0M61.3 342.7h0M61.5 351.0h0M63.0 344.0h0M64.7 345.7h0M59.9 341.9h0M66.4 344.2h0M60.6 349.6h0" stroke="#5b9bf0" stroke-width="1.3" stroke-linecap="round" fill="none"/>
<path d="M63.9 339.5h0M56.3 340.2h0M58.2 338.4h0M57.2 340.3h0M56.7 340.0h0M59.2 339.7h0M58.3 337.3h0M63.3 339.6h0M57.4 340.9h0M63.3 337.7h0" stroke="#5b9bf0" stroke-width="1.3" stroke-linecap="round" fill="none"/>
<circle cx="58.50" cy="339.60" r="0.50" fill="#f7821e"/>
<circle cx="61.00" cy="341.50" r="0.50" fill="#f7821e"/>
<circle cx="57.20" cy="344.80" r="0.50" fill="#f7821e"/>
<path d="M80.0,348.6 L84.0,347.8 L92.0,349.2 L102.0,351.0 L104.0,351.8 L80.0,351.8 Z" fill="#43b51c"/>
<path d="M80.3 348.0h0M95.0 349.6h0M85.3 346.2h0M96.3 347.2h0M99.7 351.1h0M103.5 351.6h0M83.2 345.7h0M99.1 349.4h0M88.2 346.2h0M88.2 348.6h0M84.4 350.1h0M91.2 348.0h0M81.5 350.2h0M90.2 351.6h0M84.3 347.9h0M95.5 347.0h0M83.7 348.3h0M96.4 349.4h0M93.0 347.4h0M87.7 351.4h0M100.9 347.6h0M83.9 348.8h0M99.0 351.4h0M106.3 348.3h0M85.1 349.2h0M81.7 350.0h0M83.6 351.6h0M101.4 349.4h0M95.1 349.8h0M83.5 349.8h0M95.4 347.0h0M90.9 350.4h0M88.5 348.6h0M95.4 351.6h0M91.2 347.0h0M93.7 347.3h0M104.7 349.8h0M86.9 347.9h0M99.0 351.3h0M83.2 347.0h0M85.3 346.9h0M89.7 350.7h0M84.1 347.4h0M80.8 347.8h0M94.8 348.2h0" stroke="#43b51c" stroke-width="1.3" stroke-linecap="round" fill="none"/>
<path d="M87.0 349.4h0M91.3 347.0h0M90.7 348.7h0M99.4 349.7h0M105.5 351.3h0M94.0 347.4h0M96.9 348.3h0M89.3 351.1h0M97.6 350.4h0M83.1 348.2h0M105.8 348.9h0M99.8 349.3h0M94.4 348.0h0M81.4 346.0h0M96.4 350.4h0M93.4 349.7h0M99.4 350.3h0M92.7 349.3h0M81.0 350.7h0M82.9 351.7h0M100.1 350.0h0M91.5 349.8h0M90.8 351.5h0M84.8 350.2h0M86.4 348.4h0M85.1 351.0h0M80.1 346.0h0M80.7 346.3h0M92.8 348.3h0M82.3 350.4h0M93.2 347.2h0M80.2 347.2h0M88.3 347.9h0M100.0 351.4h0M97.7 350.3h0M101.1 350.3h0M88.3 351.6h0M88.3 349.8h0M86.4 350.9h0M98.3 350.9h0" stroke="#f7821e" stroke-width="1.3" stroke-linecap="round" fill="none"/>
<rect x="80.00" y="350.70" width="26.00" height="1.10" fill="#f7821e"/>
<path d="M67.3 361.6h0M69.1 360.5h0M73.3 360.1h0M64.2 373.2h0M71.3 377.0h0M71.8 362.4h0M64.0 373.2h0M73.5 370.4h0M71.0 363.0h0M71.5 374.8h0M68.8 360.9h0M74.0 372.3h0M72.9 359.8h0M64.5 362.6h0M71.4 374.2h0M64.8 370.0h0M68.6 366.0h0M70.6 364.2h0M69.0 377.2h0M65.8 364.6h0M68.1 374.9h0M71.0 367.6h0M68.3 370.8h0M64.2 359.8h0M70.6 361.2h0M69.1 374.7h0M70.7 362.3h0M66.0 363.9h0M71.4 362.2h0M71.4 374.6h0M66.5 373.6h0M65.5 361.7h0M72.6 368.7h0M72.8 372.0h0M74.1 361.0h0M73.1 372.3h0M72.3 373.7h0M72.5 369.1h0M71.0 363.4h0M74.5 365.9h0M72.4 366.5h0M70.9 369.1h0M70.1 369.2h0M70.3 368.9h0M67.3 372.3h0M62.9 363.6h0M67.7 363.3h0M67.6 365.0h0M68.1 373.9h0M66.9 376.4h0M73.7 371.2h0M72.4 369.6h0M64.3 374.2h0M65.8 361.2h0M74.1 364.0h0M69.3 364.2h0M66.1 375.5h0M73.2 368.0h0M71.8 375.8h0M67.1 362.7h0M71.5 365.7h0M67.2 363.9h0M65.4 377.0h0M73.0 375.8h0M69.8 368.3h0M66.7 375.6h0M69.0 360.8h0M73.1 366.2h0M74.3 373.1h0M68.8 368.6h0M69.5 369.9h0M71.4 362.9h0M68.0 362.3h0M74.4 375.4h0M68.3 371.5h0M71.2 369.6h0M74.2 368.9h0M72.2 361.3h0M67.7 363.5h0M70.6 360.4h0M72.6 359.8h0M74.3 370.3h0M74.1 376.0h0M69.3 369.1h0M66.4 376.6h0M66.5 362.5h0M63.7 371.5h0M70.1 371.2h0M66.0 365.7h0M64.4 361.1h0M72.1 369.5h0M71.6 362.3h0M70.5 372.8h0M72.3 362.3h0M73.5 362.8h0M71.8 371.2h0M68.2 366.9h0M64.1 370.8h0M66.0 364.4h0M70.2 364.0h0M70.9 369.5h0M72.6 361.9h0M63.9 371.8h0M66.8 374.8h0M71.7 370.3h0M71.9 374.3h0M65.2 360.1h0M71.3 369.2h0M69.1 370.5h0M73.1 368.4h0M72.0 362.3h0M69.8 365.8h0M68.4 365.0h0M72.3 373.6h0M71.5 367.1h0M70.5 361.4h0M73.6 359.8h0M68.8 374.5h0M74.1 374.8h0M66.0 369.4h0M69.1 360.8h0M68.3 362.5h0M73.1 366.3h0M67.9 371.3h0M73.7 364.6h0M73.4 361.9h0M64.7 361.9h0M68.3 372.6h0M74.2 372.8h0M74.0 373.2h0M74.2 365.8h0M71.6 370.5h0M71.4 366.8h0M69.8 372.9h0M66.8 365.5h0M62.8 362.4h0M66.7 377.7h0M73.4 372.4h0M74.3 369.4h0M69.4 372.6h0" stroke="#f7821e" stroke-width="1.3" stroke-linecap="round" fill="none"/>
<path d="M71.1 359.6h0M67.2 375.4h0M71.9 375.7h0M71.7 368.1h0M67.5 368.5h0M68.4 363.6h0M67.0 368.5h0M63.7 370.3h0M64.1 370.0h0M64.1 363.0h0M67.9 373.8h0M72.9 373.9h0M71.3 367.7h0M68.4 369.8h0M72.7 375.4h0M63.6 372.5h0M70.3 376.2h0M72.3 366.9h0M67.4 363.9h0M65.3 376.0h0M70.5 375.1h0M66.6 373.9h0M63.7 368.9h0M66.5 365.1h0M72.9 359.6h0M72.6 372.1h0M72.9 367.1h0M72.0 369.9h0M69.0 371.3h0M66.0 370.9h0M65.2 360.1h0M70.4 360.0h0M72.3 363.8h0M72.2 365.3h0M70.3 365.9h0M70.1 362.9h0M65.7 364.5h0M72.8 376.5h0M67.2 377.5h0M72.4 362.2h0M69.4 363.5h0M66.8 365.2h0M65.6 370.5h0M65.6 365.7h0M64.8 364.5h0M70.9 364.9h0M72.7 361.6h0M63.8 364.2h0M68.4 365.3h0M67.3 373.6h0M69.8 364.0h0M71.9 366.3h0M68.9 366.3h0M70.7 370.4h0M68.2 362.7h0M64.2 364.4h0M71.6 376.9h0M67.4 360.9h0M65.4 377.1h0M64.7 367.3h0M64.2 368.8h0M66.8 378.0h0M72.8 369.0h0M71.4 372.2h0M67.9 374.0h0M63.8 362.7h0M71.3 369.2h0M70.0 370.9h0M71.5 364.2h0M65.2 364.9h0" stroke="#5b9bf0" stroke-width="1.3" stroke-linecap="round" fill="none"/>
<rect x="71.20" y="359.90" width="3.60" height="18.50" fill="#5b9bf0"/>
<path d="M74.3 368.9h0M73.8 373.9h0M71.7 373.3h0M73.9 369.0h0M72.6 368.3h0M72.3 363.4h0M72.9 375.5h0M71.3 367.3h0M71.9 365.0h0M74.6 373.1h0M70.4 369.2h0M71.7 366.3h0M70.6 370.8h0M71.8 372.2h0M70.6 369.2h0M72.2 371.5h0M70.3 374.2h0M72.6 364.2h0M70.8 374.7h0M70.1 370.5h0M71.5 365.9h0M74.8 362.1h0M70.9 359.7h0M71.8 360.9h0M70.2 372.3h0M74.7 362.6h0M73.0 377.5h0M70.9 362.4h0M72.5 360.5h0M72.9 375.1h0" stroke="#5b9bf0" stroke-width="1.3" stroke-linecap="round" fill="none"/>
<path d="M60.6 369.0h0M56.7 372.5h0M55.4 369.7h0M57.3 369.4h0M58.2 368.8h0M50.0 375.7h0" stroke="#f7821e" stroke-width="1.3" stroke-linecap="round" fill="none"/>
<rect x="79.60" y="360.00" width="2.60" height="18.40" fill="#43b51c"/>
<path d="M96.9 368.6h0M97.9 372.7h0M86.3 376.0h0M82.0 368.0h0M88.2 372.4h0M93.7 370.5h0M83.9 366.8h0M87.0 368.5h0M86.4 366.7h0M80.7 364.1h0M82.3 368.1h0M81.6 368.6h0M97.2 367.4h0M86.4 374.7h0M87.3 365.5h0M80.6 364.3h0M83.2 370.6h0M93.5 371.7h0M87.6 368.6h0M89.1 374.6h0M80.6 370.2h0M84.5 375.9h0M86.5 377.2h0M93.6 370.7h0M86.1 375.2h0M84.1 360.9h0M100.3 370.4h0M91.5 374.3h0M88.0 372.8h0M110.9 374.8h0M102.6 368.1h0M95.6 370.8h0M85.5 373.9h0M102.9 369.9h0M85.7 375.0h0M85.3 369.1h0M84.1 377.6h0M102.5 367.7h0M110.7 369.3h0M91.4 373.1h0M81.9 360.2h0M83.2 374.3h0M91.0 372.6h0M90.4 370.6h0M86.3 374.5h0M86.1 365.8h0M97.1 377.9h0M107.8 365.8h0M89.5 373.4h0M95.1 371.8h0M80.8 361.8h0M92.3 372.7h0M95.0 375.3h0M87.4 366.3h0M82.0 360.4h0M84.3 377.6h0M84.8 372.4h0M82.8 371.9h0M90.6 371.1h0M84.3 360.3h0M102.4 371.2h0M94.6 373.2h0M106.0 370.7h0M107.2 363.2h0M90.2 371.2h0M85.0 364.4h0M85.5 369.3h0M86.2 372.7h0M94.4 375.5h0M91.4 376.5h0M82.4 377.9h0M100.0 375.0h0M86.6 367.0h0M105.3 362.0h0M82.4 369.7h0M80.9 361.8h0M107.4 365.2h0M81.0 372.3h0M86.1 376.5h0M82.8 371.4h0M83.2 371.8h0M83.2 377.7h0M96.0 367.0h0M90.8 370.6h0M90.9 377.8h0M85.5 362.2h0M81.6 377.3h0M82.4 368.6h0M98.6 371.0h0M82.1 363.9h0M92.0 371.8h0M83.3 367.3h0M108.4 365.4h0M84.3 361.7h0M97.0 374.5h0M96.3 372.8h0M85.9 360.3h0M107.4 370.3h0M83.6 371.1h0M95.4 370.2h0M85.5 377.5h0M84.0 364.7h0M88.3 376.7h0M85.3 361.2h0M82.2 364.3h0M83.2 360.0h0M97.6 370.9h0M85.4 370.2h0M86.2 366.7h0M84.4 368.6h0M81.4 364.1h0M84.1 372.7h0M100.2 376.9h0M96.4 369.2h0M82.1 368.1h0M84.7 376.3h0M83.9 360.7h0M86.5 360.9h0M98.1 373.6h0M85.9 368.2h0M102.2 367.4h0M88.2 376.8h0M86.6 373.3h0M104.3 375.7h0M80.8 369.4h0M83.8 377.6h0M91.3 373.2h0M108.1 368.5h0M83.6 365.6h0M97.0 365.5h0M93.8 376.8h0M87.6 364.0h0M108.0 367.7h0M86.7 372.5h0M84.9 370.5h0M83.5 373.4h0M94.5 370.5h0M89.9 378.0h0M85.8 371.8h0M92.0 369.7h0M96.4 368.1h0M100.2 371.6h0M97.0 370.7h0M108.5 361.4h0M82.6 364.9h0M92.4 368.8h0M99.1 372.7h0M85.1 377.9h0M83.0 361.9h0M83.3 367.2h0M84.7 368.1h0M103.4 377.7h0M111.6 361.7h0M82.1 375.7h0M108.3 371.1h0M109.0 369.8h0M83.2 364.1h0M83.5 375.3h0M81.3 373.2h0M96.5 373.7h0M83.8 377.8h0M87.0 363.8h0M86.1 366.1h0M81.9 377.2h0M96.4 375.6h0M96.5 375.1h0M81.2 373.4h0M94.2 370.1h0M90.1 372.4h0M81.4 376.5h0M97.5 367.5h0M83.7 364.3h0M85.7 367.4h0M89.9 375.4h0M82.4 362.7h0M93.7 370.0h0M95.1 376.8h0M100.4 364.6h0M85.9 363.3h0M87.0 361.4h0M85.7 375.0h0M81.9 373.7h0M92.3 378.1h0M87.9 377.8h0M100.1 364.7h0M92.6 373.0h0M93.8 372.7h0M86.4 366.3h0M94.2 375.6h0M81.4 373.6h0M82.6 369.1h0M82.8 369.5h0M110.3 374.0h0M93.5 372.0h0M87.5 368.4h0M87.0 370.0h0M87.0 364.8h0M83.7 366.9h0M102.7 374.2h0M109.6 372.1h0M87.8 361.5h0M83.9 372.3h0M91.5 377.0h0M87.5 370.0h0M81.5 377.4h0M96.8 377.3h0M88.4 378.1h0M85.7 375.6h0M95.8 369.7h0M89.3 373.8h0M86.9 367.1h0M80.9 360.0h0M98.6 369.2h0M82.7 370.4h0M99.8 374.2h0M81.5 363.3h0M98.4 370.2h0M83.1 364.0h0M82.9 376.9h0M82.2 375.8h0M100.6 367.5h0M84.7 363.6h0M94.8 377.1h0M88.6 371.7h0M93.9 368.3h0M109.0 370.4h0M85.4 362.0h0M93.0 368.1h0M83.8 366.3h0M83.5 372.8h0" stroke="#f7821e" stroke-width="1.3" stroke-linecap="round" fill="none"/>
<path d="M89.1 361.0h0M80.7 370.7h0M81.1 361.7h0M82.3 375.0h0M81.6 372.5h0M86.8 372.8h0M85.3 365.8h0M86.4 365.3h0M89.7 361.1h0M89.1 366.3h0M88.2 375.1h0M89.8 359.9h0M81.5 373.6h0M83.6 374.3h0M87.2 373.6h0M89.5 360.1h0M81.2 377.5h0M87.5 372.8h0M80.9 374.7h0M87.2 368.3h0M89.4 360.3h0M83.8 373.8h0M84.6 377.3h0M82.7 376.0h0M86.6 371.8h0M89.9 376.7h0M82.2 376.6h0M81.3 371.3h0M81.3 366.5h0M89.1 372.8h0M87.3 362.7h0M89.2 373.4h0M87.3 368.6h0M82.9 372.1h0M85.7 368.1h0M88.4 367.2h0M86.2 378.0h0M82.1 367.0h0M80.8 376.8h0M81.1 374.9h0M81.3 360.1h0M87.5 372.1h0M85.6 368.6h0M82.1 361.1h0M85.7 372.4h0M84.2 366.6h0M83.7 362.9h0M86.3 369.1h0M89.5 371.7h0M86.4 363.5h0M81.9 368.4h0M81.5 360.0h0M84.4 360.2h0M88.0 374.2h0M86.3 363.3h0M87.4 368.8h0M84.2 368.7h0M87.0 371.4h0M81.8 365.5h0M89.3 372.0h0M84.1 376.5h0M89.3 362.5h0M85.4 376.3h0M86.9 361.9h0M88.9 364.5h0M88.9 366.8h0M87.3 364.1h0M83.5 371.0h0M84.6 371.3h0M88.8 362.2h0M84.1 364.7h0M85.5 364.4h0M88.6 362.1h0M85.5 374.0h0M86.4 366.7h0M87.2 377.7h0M84.0 367.8h0M85.8 374.2h0M86.5 375.1h0M88.4 369.3h0" stroke="#43b51c" stroke-width="1.3" stroke-linecap="round" fill="none"/>
<path d="M100.6 364.0h0M110.4 366.3h0M91.2 366.5h0M97.8 375.3h0M107.4 366.0h0M110.8 369.8h0M99.1 374.7h0M104.3 363.7h0M90.5 362.5h0M95.8 374.2h0" stroke="#43b51c" stroke-width="1.3" stroke-linecap="round" fill="none"/>
<rect x="76.50" y="377.00" width="13.00" height="1.30" fill="#c8c8c8"/>
<circle cx="97.50" cy="306.00" r="0.70" fill="#43b51c"/>
<text x="100.10" y="307.84" font-size="5.10" font-style="italic" fill="#111" stroke="#111" stroke-width="0.140">CDKN1A</text>
<circle cx="91.10" cy="326.00" r="0.70" fill="#43b51c"/>
<text x="94.20" y="327.84" font-size="5.10" font-style="italic" fill="#111" stroke="#111" stroke-width="0.140">MDM2</text>
<circle cx="104.20" cy="343.20" r="0.70" fill="#43b51c"/>
<text x="107.00" y="345.04" font-size="5.10" font-style="italic" fill="#111" stroke="#111" stroke-width="0.140">GDF15</text>
<text x="45.70" y="331.94" font-size="5.10" font-style="italic" fill="#111" stroke="#111" stroke-width="0.140">H1-5</text>
<line x1="56.80" y1="330.00" x2="59.80" y2="329.80" stroke="#5b9bf0" stroke-width="0.5"/>
<circle cx="61.20" cy="329.60" r="0.65" fill="#5b9bf0"/>
<text x="64.20" y="331.44" font-size="5.10" font-style="italic" fill="#111" stroke="#111" stroke-width="0.140">RRM2</text>
<circle cx="63.30" cy="332.60" r="0.55" fill="#5b9bf0"/>
<line x1="154.40" y1="297.60" x2="154.40" y2="350.60" stroke="#222" stroke-width="0.7"/>
<line x1="153.20" y1="298.20" x2="154.40" y2="298.20" stroke="#222" stroke-width="0.55"/>
<text x="151.20" y="299.89" font-size="4.70" text-anchor="end" fill="#222" stroke="#222" stroke-width="0.140">2,010</text>
<line x1="153.20" y1="311.50" x2="154.40" y2="311.50" stroke="#222" stroke-width="0.55"/>
<text x="151.20" y="313.19" font-size="4.70" text-anchor="end" fill="#222" stroke="#222" stroke-width="0.140">1,510</text>
<line x1="153.20" y1="324.80" x2="154.40" y2="324.80" stroke="#222" stroke-width="0.55"/>
<text x="151.20" y="326.49" font-size="4.70" text-anchor="end" fill="#222" stroke="#222" stroke-width="0.140">1,010</text>
<line x1="153.20" y1="338.20" x2="154.40" y2="338.20" stroke="#222" stroke-width="0.55"/>
<text x="151.20" y="339.89" font-size="4.70" text-anchor="end" fill="#222" stroke="#222" stroke-width="0.140">510</text>
<line x1="153.20" y1="351.70" x2="154.40" y2="351.70" stroke="#222" stroke-width="0.55"/>
<text x="151.20" y="353.39" font-size="4.70" text-anchor="end" fill="#222" stroke="#222" stroke-width="0.140">10</text>
<line x1="151.80" y1="354.60" x2="157.10" y2="349.30" stroke="#222" stroke-width="0.6"/>
<line x1="151.80" y1="362.20" x2="157.10" y2="356.90" stroke="#222" stroke-width="0.6"/>
<line x1="154.40" y1="358.30" x2="154.40" y2="379.00" stroke="#222" stroke-width="0.7"/>
<line x1="153.50" y1="378.60" x2="154.40" y2="378.60" stroke="#222" stroke-width="0.45"/>
<line x1="153.50" y1="375.04" x2="154.40" y2="375.04" stroke="#222" stroke-width="0.45"/>
<line x1="153.50" y1="371.48" x2="154.40" y2="371.48" stroke="#222" stroke-width="0.45"/>
<line x1="153.50" y1="367.92" x2="154.40" y2="367.92" stroke="#222" stroke-width="0.45"/>
<line x1="153.50" y1="364.36" x2="154.40" y2="364.36" stroke="#222" stroke-width="0.45"/>
<line x1="153.50" y1="360.80" x2="154.40" y2="360.80" stroke="#222" stroke-width="0.45"/>
<text x="151.10" y="361.52" font-size="4.50" text-anchor="end" fill="#222" stroke="#222" stroke-width="0.140">10</text>
<text x="149.40" y="371.80" font-size="3.00" text-anchor="middle" fill="#333" stroke="#333" stroke-width="0.140" transform="rotate(-90 149.40 371.80)">Unadjusted</text>
<text x="136.20" y="337.00" font-size="5.00" text-anchor="middle" fill="#222" stroke="#222" stroke-width="0.140" transform="rotate(-90 136.20 337.00)">&#8722;Log<tspan font-size="3.2" dy="1.2">10</tspan><tspan dy="-1.2"> (FDR)</tspan></text>
<line x1="154.05" y1="378.80" x2="235.30" y2="378.80" stroke="#222" stroke-width="0.7"/>
<line x1="155.00" y1="378.80" x2="155.00" y2="380.20" stroke="#222" stroke-width="0.55"/>
<text x="155.00" y="386.09" font-size="4.70" text-anchor="middle" fill="#222" stroke="#222" stroke-width="0.140">&#8722;10</text>
<line x1="175.00" y1="378.80" x2="175.00" y2="380.20" stroke="#222" stroke-width="0.55"/>
<text x="175.00" y="386.09" font-size="4.70" text-anchor="middle" fill="#222" stroke="#222" stroke-width="0.140">&#8722;5</text>
<line x1="195.00" y1="378.80" x2="195.00" y2="380.20" stroke="#222" stroke-width="0.55"/>
<text x="195.00" y="386.09" font-size="4.70" text-anchor="middle" fill="#222" stroke="#222" stroke-width="0.140">0</text>
<line x1="215.00" y1="378.80" x2="215.00" y2="380.20" stroke="#222" stroke-width="0.55"/>
<text x="215.00" y="386.09" font-size="4.70" text-anchor="middle" fill="#222" stroke="#222" stroke-width="0.140">5</text>
<line x1="235.00" y1="378.80" x2="235.00" y2="380.20" stroke="#222" stroke-width="0.55"/>
<text x="235.00" y="386.09" font-size="4.70" text-anchor="middle" fill="#222" stroke="#222" stroke-width="0.140">10</text>
<text x="195.00" y="393.30" font-size="5.00" text-anchor="middle" fill="#222" stroke="#222" stroke-width="0.140">Log<tspan font-size="3.2" dy="1.2">2</tspan><tspan dy="-1.2"> (fold change)</tspan></text>
<path d="M176.5,341.0 L181.0,340.0 L192.5,351.6 L176.5,351.6 Z" fill="#5b9bf0"/>
<path d="M187.5 350.0h0M177.1 337.2h0M175.1 339.1h0M181.9 351.1h0M184.0 347.1h0M184.8 349.1h0M185.1 342.9h0M187.7 348.8h0M176.5 339.9h0M174.8 348.2h0M183.7 342.1h0M174.9 344.2h0M178.2 345.5h0M185.5 340.3h0M180.0 337.9h0M177.8 351.5h0M187.8 346.8h0M180.1 344.2h0M186.4 344.8h0M180.4 350.3h0M176.4 336.7h0M177.9 340.5h0M181.8 341.3h0M181.4 345.1h0M180.0 348.8h0M180.4 341.9h0M180.5 350.5h0M180.3 341.4h0M176.3 351.2h0M179.4 346.6h0M186.6 351.1h0M181.8 335.7h0M186.2 350.7h0M182.7 351.3h0M175.9 337.2h0M182.4 348.1h0M183.7 347.1h0M177.5 349.9h0M176.2 347.9h0M179.7 335.8h0M184.7 348.5h0M184.9 343.5h0M181.5 345.7h0M179.3 350.2h0M187.9 342.8h0M176.7 345.3h0M187.1 346.5h0M174.7 344.5h0M187.6 349.5h0M179.6 345.0h0M182.3 342.7h0M187.2 348.7h0M181.2 350.6h0M177.9 341.1h0M187.0 347.4h0M184.4 349.7h0M178.5 344.0h0M180.9 339.6h0M178.4 336.4h0M177.6 345.2h0M177.8 348.0h0M174.5 341.3h0M186.7 349.4h0M179.5 333.9h0M180.1 351.1h0M185.8 348.9h0M177.5 351.1h0M175.8 350.0h0M180.1 348.7h0M180.4 337.1h0M182.9 349.5h0M183.9 350.8h0M182.8 343.7h0M179.9 350.2h0M181.6 349.8h0M180.9 335.9h0M185.0 348.9h0M184.7 347.2h0M180.7 350.2h0M183.6 345.5h0" stroke="#5b9bf0" stroke-width="1.3" stroke-linecap="round" fill="none"/>
<path d="M186.6 348.5h0M178.7 335.3h0M184.5 337.2h0M184.9 345.8h0M179.4 343.5h0M182.9 345.8h0M177.0 334.9h0M178.2 331.4h0M185.3 338.5h0M187.2 349.7h0" stroke="#f7821e" stroke-width="1.3" stroke-linecap="round" fill="none"/>
<path d="M198.0,347.5 L201.0,346.0 L204.0,347.0 L210.0,351.7 L198.0,351.7 Z" fill="#43b51c"/>
<path d="M199.6 346.2h0M211.3 348.4h0M210.0 346.9h0M207.8 346.5h0M213.0 350.6h0M213.3 351.6h0M211.3 350.9h0M205.3 350.2h0M212.8 350.8h0M198.0 350.8h0M212.0 351.2h0M210.1 350.5h0M206.1 344.4h0M218.4 349.4h0M199.4 344.6h0M205.3 347.9h0M201.8 343.1h0M206.3 345.7h0M198.7 341.3h0M215.8 349.4h0M203.3 350.7h0M214.4 349.2h0M208.1 347.3h0M215.0 347.1h0M204.0 351.7h0M204.3 344.6h0M200.6 346.5h0M204.3 342.0h0M208.2 343.2h0M199.5 344.8h0M201.7 347.7h0M202.2 346.4h0M203.5 344.2h0M207.1 348.0h0M210.9 350.9h0M200.6 349.4h0M215.8 350.1h0M211.7 345.7h0M206.9 349.7h0M211.2 348.7h0M204.7 351.5h0M203.7 343.5h0M211.2 346.5h0M213.1 351.1h0M214.6 347.9h0M216.2 351.0h0M208.7 347.3h0M200.8 345.6h0M202.0 345.6h0M199.0 342.5h0M203.8 346.2h0M202.6 348.0h0M198.9 349.6h0M199.6 342.4h0M213.0 350.2h0" stroke="#43b51c" stroke-width="1.3" stroke-linecap="round" fill="none"/>
<path d="M201.1 347.6h0M199.3 347.7h0M204.4 348.9h0M200.7 344.4h0M198.1 348.2h0M203.1 346.4h0M204.2 351.7h0M206.8 346.0h0M207.2 346.8h0M205.3 344.2h0M208.7 347.8h0M202.1 343.9h0M208.6 346.9h0M205.7 343.8h0M200.3 350.6h0M205.0 348.5h0M204.1 349.9h0M215.9 350.4h0M208.5 351.1h0M207.0 346.6h0M202.6 343.9h0M198.9 343.1h0M198.0 350.4h0M206.3 346.5h0M201.6 347.0h0M205.9 349.8h0M198.7 350.6h0M204.3 343.7h0M198.4 351.1h0M203.5 345.1h0M214.5 350.2h0M206.1 349.3h0M198.4 348.2h0M205.2 349.8h0M200.8 350.8h0M206.9 350.9h0M201.9 346.3h0M207.5 344.4h0M204.3 344.7h0M207.6 350.5h0M207.2 349.2h0M205.4 345.7h0M210.3 347.8h0M199.6 341.7h0M208.0 351.6h0" stroke="#f7821e" stroke-width="1.3" stroke-linecap="round" fill="none"/>
<rect x="198.00" y="350.70" width="19.50" height="1.10" fill="#f7821e"/>
<path d="M186.2 360.7h0M185.2 363.3h0M180.6 366.3h0M187.2 368.3h0M186.7 370.7h0M181.0 370.6h0M187.2 371.8h0M185.1 373.6h0M176.1 364.0h0M180.0 366.0h0M185.0 366.3h0M184.3 364.5h0M184.6 372.2h0M186.7 368.4h0M179.9 362.5h0M185.2 362.0h0M187.2 377.1h0M174.6 371.1h0M183.2 368.1h0M186.1 362.9h0M179.9 373.8h0M183.1 376.8h0M186.8 373.3h0M188.5 377.1h0M183.6 367.1h0M182.5 372.5h0M182.3 374.8h0M184.3 365.4h0M183.2 365.5h0M189.1 370.1h0M186.0 363.3h0M181.6 376.9h0M188.1 364.4h0M181.2 377.5h0M187.5 366.7h0M187.0 369.1h0M185.4 363.9h0M178.5 369.2h0M179.7 361.6h0M185.2 377.3h0M183.8 376.7h0M184.2 376.9h0M184.8 374.1h0M185.2 372.2h0M186.7 370.6h0M186.8 377.9h0M184.2 377.0h0M184.7 363.2h0M182.0 371.5h0M184.2 367.9h0M183.7 365.4h0M187.4 366.3h0M181.3 374.7h0M185.3 362.5h0M181.0 374.7h0M178.6 360.4h0M188.8 375.9h0M174.6 375.5h0M187.5 367.1h0M182.2 377.1h0M180.1 365.1h0M188.7 371.3h0M178.6 367.7h0M186.5 364.6h0M190.3 360.5h0M189.4 360.5h0M182.1 359.6h0M183.5 378.2h0M187.4 372.9h0M185.1 371.8h0M188.0 362.4h0M185.0 363.1h0M176.5 365.5h0M183.5 378.1h0M185.2 367.2h0M184.4 376.2h0M179.4 363.7h0M181.7 375.6h0M186.7 378.0h0M175.4 364.5h0M180.5 369.0h0M182.2 365.9h0M188.2 362.4h0M179.7 363.0h0M176.9 364.0h0M178.1 368.1h0M180.0 369.5h0M185.7 370.2h0M185.6 366.2h0M179.5 376.6h0M186.6 360.1h0M181.8 359.6h0M188.7 364.1h0M186.0 377.2h0M185.7 375.5h0M185.3 363.4h0M178.4 377.2h0M177.4 376.5h0M186.3 362.6h0M184.3 376.5h0M187.0 374.0h0M183.6 375.8h0M181.1 375.3h0M190.0 372.4h0M183.6 363.9h0M189.0 377.7h0M186.7 360.1h0M180.8 366.9h0M190.0 378.0h0M186.3 370.5h0M182.2 376.6h0M188.6 365.9h0M186.6 373.9h0M182.8 370.5h0M177.6 377.4h0M175.6 364.4h0M188.8 374.2h0M186.3 371.5h0M174.4 364.6h0M186.6 360.9h0M184.6 371.7h0M184.1 364.1h0M189.1 367.5h0M181.1 378.2h0M184.0 365.3h0M184.2 360.2h0M185.3 373.9h0M187.5 362.1h0M181.7 361.9h0M179.1 373.6h0M189.6 374.7h0M180.8 366.4h0M181.8 369.1h0M185.3 370.9h0M177.8 364.0h0M181.9 361.9h0M180.7 359.7h0M187.2 374.1h0M180.7 361.4h0M179.1 364.2h0" stroke="#f7821e" stroke-width="1.3" stroke-linecap="round" fill="none"/>
<rect x="188.60" y="359.80" width="4.20" height="18.60" fill="#5b9bf0"/>
<path d="M185.8 377.6h0M185.8 363.9h0M189.3 368.0h0M186.7 366.3h0M186.0 360.5h0M187.5 366.9h0M185.2 370.7h0M185.1 359.6h0M188.1 371.7h0M187.8 371.7h0M189.3 373.2h0M189.9 375.2h0M185.8 369.6h0M189.4 374.5h0M185.0 373.3h0M186.9 364.7h0M189.5 375.4h0M187.8 375.2h0M187.5 375.8h0M186.1 366.0h0M188.2 359.9h0M184.6 377.1h0M187.8 361.4h0M188.6 366.0h0M184.1 363.4h0M185.4 366.2h0M189.9 362.0h0M189.1 367.5h0M184.8 375.6h0M189.5 368.8h0M187.7 376.0h0M184.1 374.0h0M185.1 365.4h0M184.5 367.7h0M185.3 361.3h0M184.6 369.6h0M188.0 376.3h0M187.3 365.0h0M184.5 360.4h0M185.4 370.4h0M189.1 376.8h0M184.3 372.3h0M188.3 373.1h0M187.3 375.3h0M185.5 377.3h0" stroke="#5b9bf0" stroke-width="1.3" stroke-linecap="round" fill="none"/>
<path d="M174.9 366.6h0M174.6 374.8h0M177.9 366.5h0M177.8 366.5h0M174.4 367.6h0M171.7 368.0h0M175.8 371.6h0M173.1 364.6h0" stroke="#f7821e" stroke-width="1.3" stroke-linecap="round" fill="none"/>
<rect x="197.90" y="359.90" width="2.40" height="18.50" fill="#43b51c"/>
<path d="M209.9 372.0h0M205.1 373.7h0M213.4 364.5h0M230.9 366.7h0M214.9 360.4h0M204.0 372.1h0M221.9 364.2h0M208.6 373.1h0M214.1 366.4h0M201.2 369.7h0M207.2 378.2h0M217.9 364.6h0M201.2 376.4h0M200.3 367.1h0M209.7 371.9h0M212.3 375.6h0M213.0 373.2h0M203.9 377.7h0M205.8 373.5h0M203.2 374.9h0M203.5 373.7h0M209.3 359.8h0M208.3 363.4h0M204.0 377.2h0M223.6 369.1h0M204.3 362.0h0M206.6 369.7h0M204.5 368.7h0M199.5 360.8h0M204.4 368.9h0M201.5 363.8h0M200.2 375.8h0M215.0 360.3h0M210.0 363.1h0M210.8 361.6h0M204.6 363.0h0M207.5 377.2h0M200.5 362.2h0M207.7 367.7h0M200.0 375.2h0M205.3 370.2h0M201.8 365.4h0M207.3 372.1h0M204.8 367.8h0M200.3 362.4h0M208.9 373.4h0M204.0 377.7h0M219.4 369.6h0M201.2 374.4h0M219.5 368.6h0M199.6 360.7h0M223.7 373.0h0M199.8 360.7h0M199.5 373.8h0M226.6 377.7h0M205.2 363.7h0M205.3 375.0h0M226.6 370.0h0M201.8 370.0h0M201.4 364.8h0M204.3 364.6h0M201.4 374.7h0M208.2 375.6h0M221.2 375.6h0M208.7 377.1h0M201.2 361.9h0M205.5 360.5h0M206.3 360.8h0M201.6 365.8h0M201.0 361.3h0M216.0 365.0h0M220.6 373.6h0M200.8 360.1h0M204.8 371.5h0M201.0 359.9h0M216.5 362.2h0M221.4 372.4h0M216.9 369.7h0M202.2 365.4h0M220.1 377.3h0M204.3 371.5h0M220.0 368.7h0M202.7 371.3h0M205.5 364.6h0M202.4 364.8h0M215.1 371.3h0M210.4 366.6h0M210.9 371.4h0M218.6 377.4h0M221.2 367.1h0M202.2 365.3h0M206.7 367.5h0M209.4 365.8h0M213.4 362.5h0M199.7 361.9h0M206.8 376.7h0M206.9 371.2h0M203.5 378.2h0M204.7 367.7h0M206.0 378.0h0M205.8 371.6h0M206.3 375.0h0M205.5 372.1h0M201.0 367.5h0M210.2 366.6h0M200.0 375.7h0M209.8 364.4h0M218.1 374.3h0M202.9 373.9h0M209.0 371.8h0M201.8 360.9h0M203.2 367.7h0M208.9 361.9h0M210.1 367.8h0M216.8 370.1h0M210.2 377.7h0M211.7 373.0h0M211.0 374.0h0M222.8 360.9h0M203.2 371.0h0M211.0 371.2h0M199.7 364.6h0M205.7 377.6h0M204.6 371.0h0M213.9 364.3h0M203.9 362.0h0M213.7 365.4h0M218.4 371.7h0M216.3 366.8h0M203.0 368.2h0M200.4 360.9h0M204.9 377.5h0M200.9 373.7h0M212.6 368.0h0M202.5 366.8h0M212.5 359.9h0M203.2 376.1h0M199.8 369.9h0M212.2 367.9h0M203.9 371.8h0M207.8 372.3h0M203.4 364.7h0M204.0 373.4h0M206.5 364.5h0M202.3 363.1h0M204.2 368.9h0M215.9 378.0h0M207.2 372.4h0M200.1 376.6h0M207.0 377.7h0M205.2 374.0h0M201.6 374.2h0M219.6 368.9h0M206.5 376.7h0M217.9 365.6h0M217.8 377.0h0M227.9 374.5h0M216.5 375.1h0M230.3 369.4h0M201.0 363.3h0M206.8 366.3h0M204.1 363.2h0M211.1 364.4h0M203.1 375.1h0M200.0 375.1h0M200.0 377.0h0M204.6 363.9h0M213.0 375.8h0M206.9 376.3h0M211.6 378.1h0M205.2 363.0h0M204.9 366.7h0M201.9 363.2h0M204.7 361.5h0M206.5 370.6h0M202.1 361.1h0M205.9 367.2h0M222.5 365.8h0M220.9 374.6h0M205.3 360.8h0M208.1 362.7h0M219.4 361.2h0M202.0 376.8h0M201.8 375.6h0M220.8 370.4h0M214.1 360.7h0M211.5 376.4h0M205.6 364.2h0M215.4 375.9h0M210.0 372.3h0" stroke="#f7821e" stroke-width="1.3" stroke-linecap="round" fill="none"/>
<path d="M205.8 363.0h0M204.4 360.0h0M201.0 364.0h0M201.6 371.2h0M209.0 370.3h0M209.2 374.1h0M205.5 377.9h0M205.7 368.9h0M204.8 365.2h0M200.7 374.5h0M207.2 376.7h0M204.1 374.9h0M206.2 370.3h0M201.8 365.3h0M204.1 372.5h0M207.6 372.2h0M208.8 376.6h0M206.4 364.2h0M208.4 371.3h0M209.4 375.3h0M207.3 369.1h0M208.1 374.8h0M208.6 372.0h0M208.3 370.6h0M206.1 364.9h0M203.4 374.9h0M205.2 367.7h0M200.7 373.2h0M201.3 372.7h0M202.2 362.7h0M204.8 361.2h0M210.0 363.9h0M210.0 365.6h0M209.3 370.7h0M206.8 366.7h0M204.4 366.6h0M204.8 361.4h0M203.8 369.3h0M208.8 375.7h0M200.5 361.9h0M201.6 375.4h0M208.3 370.0h0M204.9 365.1h0M209.8 362.9h0M202.5 360.8h0M202.7 364.2h0M207.0 361.2h0M203.6 361.3h0M206.7 360.1h0M208.4 361.3h0M204.9 375.0h0M199.8 361.6h0M203.2 377.2h0M205.0 364.1h0M206.8 371.0h0M207.2 361.1h0M201.0 372.4h0M203.2 371.7h0M199.6 375.9h0M202.8 361.6h0M209.2 378.2h0M200.7 375.7h0M209.7 375.4h0M207.0 366.4h0M209.6 359.9h0M205.8 372.6h0M206.6 374.4h0M199.9 373.0h0M201.0 365.0h0M206.5 362.8h0" stroke="#43b51c" stroke-width="1.3" stroke-linecap="round" fill="none"/>
<path d="M215.4 360.1h0M220.7 364.1h0M211.5 374.8h0M209.1 359.7h0M213.7 362.5h0M219.6 375.5h0M212.6 367.3h0M212.8 362.7h0" stroke="#43b51c" stroke-width="1.3" stroke-linecap="round" fill="none"/>
<rect x="190.00" y="377.20" width="16.00" height="1.20" fill="#c8c8c8"/>
<circle cx="175.50" cy="317.80" r="0.65" fill="#5b9bf0"/>
<text x="178.00" y="319.64" font-size="5.10" font-style="italic" fill="#111" stroke="#111" stroke-width="0.140">H1-5</text>
<circle cx="182.50" cy="323.10" r="0.65" fill="#5b9bf0"/>
<text x="185.30" y="324.94" font-size="5.10" font-style="italic" fill="#111" stroke="#111" stroke-width="0.140">TOP2A</text>
<circle cx="212.00" cy="318.70" r="0.70" fill="#43b51c"/>
<text x="214.70" y="320.54" font-size="5.10" font-style="italic" fill="#111" stroke="#111" stroke-width="0.140">CDKN1A</text>
<text x="196.80" y="333.04" font-size="5.10" font-style="italic" fill="#111" stroke="#111" stroke-width="0.140">MDM2</text>
<circle cx="204.90" cy="335.80" r="0.60" fill="#43b51c"/>
<circle cx="220.10" cy="330.40" r="0.65" fill="#f7821e"/>
<text x="222.90" y="332.24" font-size="5.10" font-style="italic" fill="#111" stroke="#111" stroke-width="0.140">INPP5D</text>
<circle cx="210.30" cy="336.60" r="0.65" fill="#43b51c"/>
<text x="213.10" y="338.44" font-size="5.10" font-style="italic" fill="#111" stroke="#111" stroke-width="0.140">GDF15</text>
<line x1="267.00" y1="297.60" x2="267.00" y2="379.00" stroke="#222" stroke-width="0.7"/>
<line x1="265.80" y1="298.00" x2="267.00" y2="298.00" stroke="#222" stroke-width="0.55"/>
<text x="264.60" y="299.69" font-size="4.70" text-anchor="end" fill="#222" stroke="#222" stroke-width="0.140">100</text>
<line x1="265.80" y1="314.10" x2="267.00" y2="314.10" stroke="#222" stroke-width="0.55"/>
<text x="264.60" y="315.79" font-size="4.70" text-anchor="end" fill="#222" stroke="#222" stroke-width="0.140">80</text>
<line x1="265.80" y1="330.20" x2="267.00" y2="330.20" stroke="#222" stroke-width="0.55"/>
<text x="264.60" y="331.89" font-size="4.70" text-anchor="end" fill="#222" stroke="#222" stroke-width="0.140">60</text>
<line x1="265.80" y1="346.30" x2="267.00" y2="346.30" stroke="#222" stroke-width="0.55"/>
<text x="264.60" y="347.99" font-size="4.70" text-anchor="end" fill="#222" stroke="#222" stroke-width="0.140">40</text>
<line x1="265.80" y1="362.40" x2="267.00" y2="362.40" stroke="#222" stroke-width="0.55"/>
<text x="264.60" y="364.09" font-size="4.70" text-anchor="end" fill="#222" stroke="#222" stroke-width="0.140">20</text>
<line x1="265.80" y1="378.50" x2="267.00" y2="378.50" stroke="#222" stroke-width="0.55"/>
<text x="264.60" y="380.19" font-size="4.70" text-anchor="end" fill="#222" stroke="#222" stroke-width="0.140">0</text>
<text x="253.30" y="337.00" font-size="5.00" text-anchor="middle" fill="#222" stroke="#222" stroke-width="0.140" transform="rotate(-90 253.30 337.00)">&#8722;Log<tspan font-size="3.2" dy="1.2">10</tspan><tspan dy="-1.2"> (FDR)</tspan></text>
<line x1="266.65" y1="378.80" x2="347.80" y2="378.80" stroke="#222" stroke-width="0.7"/>
<line x1="267.50" y1="378.80" x2="267.50" y2="380.20" stroke="#222" stroke-width="0.55"/>
<text x="267.50" y="386.09" font-size="4.70" text-anchor="middle" fill="#222" stroke="#222" stroke-width="0.140">&#8722;10</text>
<line x1="287.50" y1="378.80" x2="287.50" y2="380.20" stroke="#222" stroke-width="0.55"/>
<text x="287.50" y="386.09" font-size="4.70" text-anchor="middle" fill="#222" stroke="#222" stroke-width="0.140">&#8722;5</text>
<line x1="307.50" y1="378.80" x2="307.50" y2="380.20" stroke="#222" stroke-width="0.55"/>
<text x="307.50" y="386.09" font-size="4.70" text-anchor="middle" fill="#222" stroke="#222" stroke-width="0.140">0</text>
<line x1="327.50" y1="378.80" x2="327.50" y2="380.20" stroke="#222" stroke-width="0.55"/>
<text x="327.50" y="386.09" font-size="4.70" text-anchor="middle" fill="#222" stroke="#222" stroke-width="0.140">5</text>
<line x1="347.50" y1="378.80" x2="347.50" y2="380.20" stroke="#222" stroke-width="0.55"/>
<text x="347.50" y="386.09" font-size="4.70" text-anchor="middle" fill="#222" stroke="#222" stroke-width="0.140">10</text>
<text x="307.50" y="393.30" font-size="5.00" text-anchor="middle" fill="#222" stroke="#222" stroke-width="0.140">Log<tspan font-size="3.2" dy="1.2">2</tspan><tspan dy="-1.2"> (fold change)</tspan></text>
<circle cx="311.20" cy="365.20" r="0.60" fill="#f7821e"/>
<circle cx="311.30" cy="367.40" r="0.60" fill="#f7821e"/>
<circle cx="311.40" cy="369.60" r="0.60" fill="#f7821e"/>
<circle cx="312.00" cy="377.30" r="0.60" fill="#f7821e"/>
<circle cx="312.80" cy="377.60" r="0.60" fill="#f7821e"/>
<circle cx="311.50" cy="377.80" r="0.60" fill="#f7821e"/>
<rect x="300.00" y="377.60" width="14.00" height="1.00" fill="#cfcfcf"/>
<rect x="290.6" y="296.3" width="83.9" height="35.0" fill="#fff" stroke="#3a4470" stroke-width="0.6"/>
<circle cx="296.30" cy="301.80" r="0.75" fill="#43b51c"/>
<text x="299.60" y="303.60" font-size="5.00" fill="#222" stroke="#222" stroke-width="0.140">Fischer direct p53 targets (up)</text>
<circle cx="296.30" cy="310.50" r="0.75" fill="#2a3bf0"/>
<text x="299.60" y="312.30" font-size="5.00" fill="#222" stroke="#222" stroke-width="0.140">Fischer DREAM targets (dn)</text>
<circle cx="296.30" cy="318.80" r="0.75" fill="#f7821e"/>
<text x="299.60" y="320.60" font-size="5.00" fill="#222" stroke="#222" stroke-width="0.140">DEGs (up &amp; dn)</text>
<circle cx="296.30" cy="327.00" r="0.75" fill="#888"/>
<text x="299.60" y="328.80" font-size="5.00" fill="#222" stroke="#222" stroke-width="0.140">Non-DEGs</text>
<text x="34.20" y="419.25" font-size="5.15" fill="#111" stroke="#111" stroke-width="0.140" textLength="108.40" lengthAdjust="spacingAndGlyphs">Upregulated in NUGC-3 by PC14586 (16 hours)</text>
<text x="137.00" y="425.35" font-size="5.15" text-anchor="middle" fill="#111" stroke="#111" stroke-width="0.140">NES</text>
<text x="121.60" y="432.82" font-size="5.05" text-anchor="middle" fill="#111" stroke="#111" stroke-width="0.140">2.5</text>
<line x1="121.60" y1="435.70" x2="121.60" y2="434.50" stroke="#111" stroke-width="0.55"/>
<text x="131.87" y="432.82" font-size="5.05" text-anchor="middle" fill="#111" stroke="#111" stroke-width="0.140">3.0</text>
<line x1="131.87" y1="435.70" x2="131.87" y2="434.50" stroke="#111" stroke-width="0.55"/>
<text x="142.13" y="432.82" font-size="5.05" text-anchor="middle" fill="#111" stroke="#111" stroke-width="0.140">3.5</text>
<line x1="142.13" y1="435.70" x2="142.13" y2="434.50" stroke="#111" stroke-width="0.55"/>
<text x="152.40" y="432.82" font-size="5.05" text-anchor="middle" fill="#111" stroke="#111" stroke-width="0.140">4.0</text>
<line x1="152.40" y1="435.70" x2="152.40" y2="434.50" stroke="#111" stroke-width="0.55"/>
<text x="118.10" y="441.35" font-size="5.15" text-anchor="end" fill="#111" stroke="#111" stroke-width="0.140">Fischer_Direct_p53_Targets</text>
<line x1="120.10" y1="439.50" x2="121.60" y2="439.50" stroke="#111" stroke-width="0.55"/>
<rect x="121.60" y="438.90" width="30.70" height="1.20" fill="#5b8ef0"/>
<rect x="121.60" y="440.65" width="13.20" height="1.10" fill="#9a9a9a"/>
<rect x="147.30" y="436.50" width="2.40" height="2.40" fill="#4cb51a"/>
<text x="118.10" y="447.48" font-size="5.15" text-anchor="end" fill="#111" stroke="#111" stroke-width="0.140">Smirnov_Response_to_IR_6Hr</text>
<line x1="120.10" y1="445.63" x2="121.60" y2="445.63" stroke="#111" stroke-width="0.55"/>
<rect x="121.60" y="445.03" width="21.30" height="1.20" fill="#5b8ef0"/>
<rect x="121.60" y="446.78" width="12.30" height="1.10" fill="#9a9a9a"/>
<rect x="141.40" y="442.63" width="2.40" height="2.40" fill="#4cb51a"/>
<text x="118.10" y="453.61" font-size="5.15" text-anchor="end" fill="#111" stroke="#111" stroke-width="0.140">Warters_Response_to_IR_Skin</text>
<line x1="120.10" y1="451.76" x2="121.60" y2="451.76" stroke="#111" stroke-width="0.55"/>
<rect x="121.60" y="451.16" width="24.50" height="1.20" fill="#5b8ef0"/>
<rect x="121.60" y="452.91" width="14.30" height="1.10" fill="#9a9a9a"/>
<rect x="138.20" y="448.76" width="2.40" height="2.40" fill="#4cb51a"/>
<text x="118.10" y="459.74" font-size="5.15" text-anchor="end" fill="#111" stroke="#111" stroke-width="0.140">Macaeva_PBMC_Response_to_IR</text>
<line x1="120.10" y1="457.89" x2="121.60" y2="457.89" stroke="#111" stroke-width="0.55"/>
<rect x="121.60" y="457.29" width="25.50" height="1.20" fill="#5b8ef0"/>
<rect x="121.60" y="459.04" width="14.50" height="1.10" fill="#9a9a9a"/>
<rect x="137.60" y="454.89" width="2.40" height="2.40" fill="#4cb51a"/>
<text x="118.10" y="465.87" font-size="5.15" text-anchor="end" fill="#111" stroke="#111" stroke-width="0.140">Warters_IR_Response_5Gy</text>
<line x1="120.10" y1="464.02" x2="121.60" y2="464.02" stroke="#111" stroke-width="0.55"/>
<rect x="121.60" y="463.42" width="28.40" height="1.20" fill="#5b8ef0"/>
<rect x="121.60" y="465.17" width="18.30" height="1.10" fill="#9a9a9a"/>
<rect x="136.80" y="461.02" width="2.40" height="2.40" fill="#4cb51a"/>
<text x="118.10" y="472.00" font-size="5.15" text-anchor="end" fill="#111" stroke="#111" stroke-width="0.140">Kerley_Response_to_Cisplatin</text>
<line x1="120.10" y1="470.15" x2="121.60" y2="470.15" stroke="#111" stroke-width="0.55"/>
<rect x="121.60" y="469.55" width="23.20" height="1.20" fill="#5b8ef0"/>
<rect x="121.60" y="471.30" width="22.40" height="1.10" fill="#9a9a9a"/>
<rect x="135.70" y="467.15" width="2.40" height="2.40" fill="#4cb51a"/>
<text x="118.10" y="478.13" font-size="5.15" text-anchor="end" fill="#111" stroke="#111" stroke-width="0.140">Concannon_Apoptosis_by_Epoxomicin</text>
<line x1="120.10" y1="476.28" x2="121.60" y2="476.28" stroke="#111" stroke-width="0.55"/>
<rect x="121.60" y="475.68" width="13.40" height="1.20" fill="#5b8ef0"/>
<rect x="121.60" y="477.43" width="3.40" height="1.10" fill="#9a9a9a"/>
<rect x="130.80" y="473.28" width="2.40" height="2.40" fill="#4cb51a"/>
<text x="118.10" y="484.26" font-size="5.15" text-anchor="end" fill="#111" stroke="#111" stroke-width="0.140">Petrova_Lymphatic_vs_Blood</text>
<line x1="120.10" y1="482.41" x2="121.60" y2="482.41" stroke="#111" stroke-width="0.55"/>
<rect x="121.60" y="481.81" width="12.30" height="1.20" fill="#5b8ef0"/>
<rect x="121.60" y="483.56" width="4.00" height="1.10" fill="#9a9a9a"/>
<rect x="129.70" y="479.41" width="2.40" height="2.40" fill="#4cb51a"/>
<text x="118.10" y="490.39" font-size="5.15" text-anchor="end" fill="#111" stroke="#111" stroke-width="0.140">PID_P53_Downstream_Pathway</text>
<line x1="120.10" y1="488.54" x2="121.60" y2="488.54" stroke="#111" stroke-width="0.55"/>
<rect x="121.60" y="487.94" width="24.00" height="1.20" fill="#5b8ef0"/>
<rect x="121.60" y="489.69" width="9.40" height="1.10" fill="#9a9a9a"/>
<rect x="128.60" y="485.54" width="2.40" height="2.40" fill="#4cb51a"/>
<text x="118.10" y="496.52" font-size="5.15" text-anchor="end" fill="#111" stroke="#111" stroke-width="0.140">Ghandhi_Direct_Irradiation</text>
<line x1="120.10" y1="494.67" x2="121.60" y2="494.67" stroke="#111" stroke-width="0.55"/>
<rect x="121.60" y="494.07" width="23.70" height="1.20" fill="#5b8ef0"/>
<rect x="121.60" y="495.82" width="7.40" height="1.10" fill="#9a9a9a"/>
<rect x="128.20" y="491.67" width="2.40" height="2.40" fill="#4cb51a"/>
<text x="118.10" y="502.65" font-size="5.15" text-anchor="end" fill="#111" stroke="#111" stroke-width="0.140">Liu_Ovarian_Tumors_and_Xenografts</text>
<line x1="120.10" y1="500.80" x2="121.60" y2="500.80" stroke="#111" stroke-width="0.55"/>
<rect x="121.60" y="500.20" width="5.40" height="1.20" fill="#5b8ef0"/>
<rect x="121.60" y="501.95" width="0.70" height="1.10" fill="#9a9a9a"/>
<rect x="127.10" y="497.80" width="2.40" height="2.40" fill="#4cb51a"/>
<text x="118.10" y="508.78" font-size="5.15" text-anchor="end" fill="#111" stroke="#111" stroke-width="0.140">Lim_Mammary_Stem_Cell</text>
<line x1="120.10" y1="506.93" x2="121.60" y2="506.93" stroke="#111" stroke-width="0.55"/>
<rect x="121.60" y="506.33" width="9.40" height="1.20" fill="#5b8ef0"/>
<rect x="121.60" y="508.08" width="3.40" height="1.10" fill="#9a9a9a"/>
<rect x="126.70" y="503.93" width="2.40" height="2.40" fill="#4cb51a"/>
<text x="118.10" y="514.91" font-size="5.15" text-anchor="end" fill="#111" stroke="#111" stroke-width="0.140">Odonnell_TFRC_Targets</text>
<line x1="120.10" y1="513.06" x2="121.60" y2="513.06" stroke="#111" stroke-width="0.55"/>
<rect x="121.60" y="512.46" width="10.00" height="1.20" fill="#5b8ef0"/>
<rect x="121.60" y="514.21" width="4.00" height="1.10" fill="#9a9a9a"/>
<rect x="126.40" y="510.06" width="2.40" height="2.40" fill="#4cb51a"/>
<text x="118.10" y="521.04" font-size="5.15" text-anchor="end" fill="#111" stroke="#111" stroke-width="0.140">Pasini_SUZ12_Targets</text>
<line x1="120.10" y1="519.19" x2="121.60" y2="519.19" stroke="#111" stroke-width="0.55"/>
<rect x="121.60" y="518.59" width="12.30" height="1.20" fill="#5b8ef0"/>
<rect x="121.60" y="520.34" width="2.10" height="1.10" fill="#9a9a9a"/>
<rect x="126.20" y="516.19" width="2.40" height="2.40" fill="#4cb51a"/>
<text x="118.10" y="527.17" font-size="5.15" text-anchor="end" fill="#111" stroke="#111" stroke-width="0.140">Nuytten_EZH2_Targets</text>
<line x1="120.10" y1="525.32" x2="121.60" y2="525.32" stroke="#111" stroke-width="0.55"/>
<rect x="121.60" y="524.72" width="8.70" height="1.20" fill="#5b8ef0"/>
<rect x="121.60" y="526.47" width="2.10" height="1.10" fill="#9a9a9a"/>
<rect x="125.80" y="522.32" width="2.40" height="2.40" fill="#4cb51a"/>
<text x="118.10" y="533.30" font-size="5.15" text-anchor="end" fill="#111" stroke="#111" stroke-width="0.140">Qi_Hypoxia</text>
<line x1="120.10" y1="531.45" x2="121.60" y2="531.45" stroke="#111" stroke-width="0.55"/>
<rect x="121.60" y="530.85" width="5.40" height="1.20" fill="#5b8ef0"/>
<rect x="121.60" y="532.60" width="6.00" height="1.10" fill="#9a9a9a"/>
<rect x="125.50" y="528.45" width="2.40" height="2.40" fill="#4cb51a"/>
<text x="118.10" y="539.43" font-size="5.15" text-anchor="end" fill="#111" stroke="#111" stroke-width="0.140">Smirnov_Response_to_IR_2Hr</text>
<line x1="120.10" y1="537.58" x2="121.60" y2="537.58" stroke="#111" stroke-width="0.55"/>
<rect x="121.60" y="536.98" width="27.40" height="1.20" fill="#5b8ef0"/>
<rect x="121.60" y="538.73" width="11.40" height="1.10" fill="#9a9a9a"/>
<rect x="125.40" y="534.58" width="2.40" height="2.40" fill="#4cb51a"/>
<text x="118.10" y="545.56" font-size="5.15" text-anchor="end" fill="#111" stroke="#111" stroke-width="0.140">Naba_Matrisome_Associated</text>
<line x1="120.10" y1="543.71" x2="121.60" y2="543.71" stroke="#111" stroke-width="0.55"/>
<rect x="121.60" y="543.11" width="5.40" height="1.20" fill="#5b8ef0"/>
<rect x="121.60" y="544.86" width="2.10" height="1.10" fill="#9a9a9a"/>
<rect x="125.30" y="540.71" width="2.40" height="2.40" fill="#4cb51a"/>
<text x="118.10" y="551.69" font-size="5.15" text-anchor="end" fill="#111" stroke="#111" stroke-width="0.140">Blanco_Melo_INF_Treated_Cells</text>
<line x1="120.10" y1="549.84" x2="121.60" y2="549.84" stroke="#111" stroke-width="0.55"/>
<rect x="121.60" y="549.24" width="4.70" height="1.20" fill="#5b8ef0"/>
<rect x="121.60" y="550.99" width="2.10" height="1.10" fill="#9a9a9a"/>
<rect x="125.10" y="546.84" width="2.40" height="2.40" fill="#4cb51a"/>
<text x="118.10" y="557.82" font-size="5.15" text-anchor="end" fill="#111" stroke="#111" stroke-width="0.140">Kannan_TP53_Targets</text>
<line x1="120.10" y1="555.97" x2="121.60" y2="555.97" stroke="#111" stroke-width="0.55"/>
<rect x="121.60" y="555.37" width="25.40" height="1.20" fill="#5b8ef0"/>
<rect x="121.60" y="557.12" width="9.10" height="1.10" fill="#9a9a9a"/>
<rect x="124.80" y="552.97" width="2.40" height="2.40" fill="#4cb51a"/>
<line x1="121.60" y1="435.70" x2="121.60" y2="559.40" stroke="#111" stroke-width="0.75"/>
<line x1="152.40" y1="435.70" x2="152.40" y2="559.40" stroke="#111" stroke-width="0.75"/>
<line x1="121.25" y1="435.70" x2="152.75" y2="435.70" stroke="#111" stroke-width="0.75"/>
<line x1="121.25" y1="559.40" x2="152.75" y2="559.40" stroke="#111" stroke-width="0.75"/>
<line x1="121.60" y1="559.40" x2="121.60" y2="560.70" stroke="#111" stroke-width="0.55"/>
<text x="121.60" y="568.75" font-size="5.15" text-anchor="middle" fill="#111" stroke="#111" stroke-width="0.140">0</text>
<line x1="137.00" y1="559.40" x2="137.00" y2="560.70" stroke="#111" stroke-width="0.55"/>
<text x="137.00" y="568.75" font-size="5.15" text-anchor="middle" fill="#111" stroke="#111" stroke-width="0.140">50</text>
<line x1="152.40" y1="559.40" x2="152.40" y2="560.70" stroke="#111" stroke-width="0.55"/>
<text x="152.40" y="568.75" font-size="5.15" text-anchor="middle" fill="#111" stroke="#111" stroke-width="0.140">100</text>
<text x="137.00" y="575.45" font-size="5.15" text-anchor="middle" fill="#111" stroke="#111" stroke-width="0.140">%</text>
<rect x="40.20" y="576.90" width="2.20" height="2.20" fill="#4cb51a"/>
<text x="51.80" y="579.85" font-size="5.15" fill="#111" stroke="#111" stroke-width="0.140">NES</text>
<rect x="35.00" y="583.70" width="12.50" height="1.20" fill="#5b8ef0"/>
<text x="51.80" y="586.15" font-size="5.15" fill="#111" stroke="#111" stroke-width="0.140">Overlap with Fischer_Direct_p53_Targets (%)</text>
<rect x="35.00" y="589.80" width="12.50" height="1.20" fill="#9a9a9a"/>
<text x="51.80" y="592.25" font-size="5.15" fill="#111" stroke="#111" stroke-width="0.140">Enrichment (%)</text>
<text x="166.60" y="419.25" font-size="5.15" fill="#111" stroke="#111" stroke-width="0.140" textLength="114.70" lengthAdjust="spacingAndGlyphs">Downregulated in NUGC-3 by PC14586 (16 hours)</text>
<text x="269.10" y="425.35" font-size="5.15" text-anchor="middle" fill="#111" stroke="#111" stroke-width="0.140">NES</text>
<text x="253.60" y="432.58" font-size="4.40" text-anchor="middle" fill="#111" stroke="#111" stroke-width="0.140">&#8722;2.4</text>
<line x1="253.60" y1="435.70" x2="253.60" y2="434.50" stroke="#111" stroke-width="0.55"/>
<text x="263.93" y="432.58" font-size="4.40" text-anchor="middle" fill="#111" stroke="#111" stroke-width="0.140">&#8722;2.6</text>
<line x1="263.93" y1="435.70" x2="263.93" y2="434.50" stroke="#111" stroke-width="0.55"/>
<text x="274.27" y="432.58" font-size="4.40" text-anchor="middle" fill="#111" stroke="#111" stroke-width="0.140">&#8722;2.8</text>
<line x1="274.27" y1="435.70" x2="274.27" y2="434.50" stroke="#111" stroke-width="0.55"/>
<text x="284.60" y="432.58" font-size="4.40" text-anchor="middle" fill="#111" stroke="#111" stroke-width="0.140">&#8722;3.0</text>
<line x1="284.60" y1="435.70" x2="284.60" y2="434.50" stroke="#111" stroke-width="0.55"/>
<text x="250.10" y="441.35" font-size="5.15" text-anchor="end" fill="#111" stroke="#111" stroke-width="0.140">Fischer_DREAM_Targets</text>
<line x1="252.10" y1="439.50" x2="253.60" y2="439.50" stroke="#111" stroke-width="0.55"/>
<rect x="253.60" y="438.90" width="31.00" height="1.20" fill="#5b8ef0"/>
<rect x="253.60" y="440.65" width="18.80" height="1.10" fill="#9a9a9a"/>
<rect x="278.00" y="436.50" width="2.40" height="2.40" fill="#4cb51a"/>
<text x="250.10" y="447.48" font-size="5.15" text-anchor="end" fill="#111" stroke="#111" stroke-width="0.140">Gobert_Oligodendrocyte_Differentiation</text>
<line x1="252.10" y1="445.63" x2="253.60" y2="445.63" stroke="#111" stroke-width="0.55"/>
<rect x="253.60" y="445.03" width="28.20" height="1.20" fill="#5b8ef0"/>
<rect x="253.60" y="446.78" width="17.40" height="1.10" fill="#9a9a9a"/>
<rect x="272.80" y="442.63" width="2.40" height="2.40" fill="#4cb51a"/>
<text x="250.10" y="453.61" font-size="5.15" text-anchor="end" fill="#111" stroke="#111" stroke-width="0.140">Rosty_Cervical_Cancer_Proliferation</text>
<line x1="252.10" y1="451.76" x2="253.60" y2="451.76" stroke="#111" stroke-width="0.55"/>
<rect x="253.60" y="451.16" width="29.00" height="1.20" fill="#5b8ef0"/>
<rect x="253.60" y="452.91" width="25.00" height="1.10" fill="#9a9a9a"/>
<rect x="271.90" y="448.76" width="2.40" height="2.40" fill="#4cb51a"/>
<text x="250.10" y="459.74" font-size="5.15" text-anchor="end" fill="#111" stroke="#111" stroke-width="0.140">Dutertre_Estradiol_Response_24Hr</text>
<line x1="252.10" y1="457.89" x2="253.60" y2="457.89" stroke="#111" stroke-width="0.55"/>
<rect x="253.60" y="457.29" width="27.70" height="1.20" fill="#5b8ef0"/>
<rect x="253.60" y="459.04" width="21.20" height="1.10" fill="#9a9a9a"/>
<rect x="271.40" y="454.89" width="2.40" height="2.40" fill="#4cb51a"/>
<text x="250.10" y="465.87" font-size="5.15" text-anchor="end" fill="#111" stroke="#111" stroke-width="0.140">Florio_Neocortex_Basal_Radial_Glia</text>
<line x1="252.10" y1="464.02" x2="253.60" y2="464.02" stroke="#111" stroke-width="0.55"/>
<rect x="253.60" y="463.42" width="28.50" height="1.20" fill="#5b8ef0"/>
<rect x="253.60" y="465.17" width="21.20" height="1.10" fill="#9a9a9a"/>
<rect x="270.80" y="461.02" width="2.40" height="2.40" fill="#4cb51a"/>
<text x="250.10" y="472.00" font-size="5.15" text-anchor="end" fill="#111" stroke="#111" stroke-width="0.140">Kobayashi_EGFR_Signaling_24Hr</text>
<line x1="252.10" y1="470.15" x2="253.60" y2="470.15" stroke="#111" stroke-width="0.55"/>
<rect x="253.60" y="469.55" width="28.20" height="1.20" fill="#5b8ef0"/>
<rect x="253.60" y="471.30" width="21.20" height="1.10" fill="#9a9a9a"/>
<rect x="270.10" y="467.15" width="2.40" height="2.40" fill="#4cb51a"/>
<text x="250.10" y="478.13" font-size="5.15" text-anchor="end" fill="#111" stroke="#111" stroke-width="0.140">Sotiriou_Breast_Cancer_Grade_1_vs_3</text>
<line x1="252.10" y1="476.28" x2="253.60" y2="476.28" stroke="#111" stroke-width="0.55"/>
<rect x="253.60" y="475.68" width="28.50" height="1.20" fill="#5b8ef0"/>
<rect x="253.60" y="477.43" width="22.00" height="1.10" fill="#9a9a9a"/>
<rect x="267.90" y="473.28" width="2.40" height="2.40" fill="#4cb51a"/>
<text x="250.10" y="484.26" font-size="5.15" text-anchor="end" fill="#111" stroke="#111" stroke-width="0.140">Mebarki_HCC_Progenitor_FZD8CRD</text>
<line x1="252.10" y1="482.41" x2="253.60" y2="482.41" stroke="#111" stroke-width="0.55"/>
<rect x="253.60" y="481.81" width="26.30" height="1.20" fill="#5b8ef0"/>
<rect x="253.60" y="483.56" width="15.50" height="1.10" fill="#9a9a9a"/>
<rect x="266.90" y="479.41" width="2.40" height="2.40" fill="#4cb51a"/>
<text x="250.10" y="490.39" font-size="5.15" text-anchor="end" fill="#111" stroke="#111" stroke-width="0.140">Marson_Bound_by_E2F4_Unstimulated</text>
<line x1="252.10" y1="488.54" x2="253.60" y2="488.54" stroke="#111" stroke-width="0.55"/>
<rect x="253.60" y="487.94" width="27.90" height="1.20" fill="#5b8ef0"/>
<rect x="253.60" y="489.69" width="13.30" height="1.10" fill="#9a9a9a"/>
<rect x="266.50" y="485.54" width="2.40" height="2.40" fill="#4cb51a"/>
<text x="250.10" y="496.52" font-size="5.15" text-anchor="end" fill="#111" stroke="#111" stroke-width="0.140">Blanco_Melo_Bronchial_Infection</text>
<line x1="252.10" y1="494.67" x2="253.60" y2="494.67" stroke="#111" stroke-width="0.55"/>
<rect x="253.60" y="494.07" width="29.20" height="1.20" fill="#5b8ef0"/>
<rect x="253.60" y="495.82" width="20.40" height="1.10" fill="#9a9a9a"/>
<rect x="264.70" y="491.67" width="2.40" height="2.40" fill="#4cb51a"/>
<text x="250.10" y="502.65" font-size="5.15" text-anchor="end" fill="#111" stroke="#111" stroke-width="0.140">Chiang_Liver_Cancer_Proliferation</text>
<line x1="252.10" y1="500.80" x2="253.60" y2="500.80" stroke="#111" stroke-width="0.55"/>
<rect x="253.60" y="500.20" width="29.00" height="1.20" fill="#5b8ef0"/>
<rect x="253.60" y="501.95" width="13.70" height="1.10" fill="#9a9a9a"/>
<rect x="264.10" y="497.80" width="2.40" height="2.40" fill="#4cb51a"/>
<text x="250.10" y="508.78" font-size="5.15" text-anchor="end" fill="#111" stroke="#111" stroke-width="0.140">Shedden_Lung_Cancer_Poor_Survival</text>
<line x1="252.10" y1="506.93" x2="253.60" y2="506.93" stroke="#111" stroke-width="0.55"/>
<rect x="253.60" y="506.33" width="28.40" height="1.20" fill="#5b8ef0"/>
<rect x="253.60" y="508.08" width="12.40" height="1.10" fill="#9a9a9a"/>
<rect x="262.80" y="503.93" width="2.40" height="2.40" fill="#4cb51a"/>
<text x="250.10" y="514.91" font-size="5.15" text-anchor="end" fill="#111" stroke="#111" stroke-width="0.140">Reactome_Cell_Cycle_Mitotic</text>
<line x1="252.10" y1="513.06" x2="253.60" y2="513.06" stroke="#111" stroke-width="0.55"/>
<rect x="253.60" y="512.46" width="26.40" height="1.20" fill="#5b8ef0"/>
<rect x="253.60" y="514.21" width="13.70" height="1.10" fill="#9a9a9a"/>
<rect x="261.70" y="510.06" width="2.40" height="2.40" fill="#4cb51a"/>
<text x="250.10" y="521.04" font-size="5.15" text-anchor="end" fill="#111" stroke="#111" stroke-width="0.140">Odonnell_TFRC_Targets</text>
<line x1="252.10" y1="519.19" x2="253.60" y2="519.19" stroke="#111" stroke-width="0.55"/>
<rect x="253.60" y="518.59" width="29.30" height="1.20" fill="#5b8ef0"/>
<rect x="253.60" y="520.34" width="15.40" height="1.10" fill="#9a9a9a"/>
<rect x="261.70" y="516.19" width="2.40" height="2.40" fill="#4cb51a"/>
<text x="250.10" y="527.17" font-size="5.15" text-anchor="end" fill="#111" stroke="#111" stroke-width="0.140">Reactome_DNA_Replication</text>
<line x1="252.10" y1="525.32" x2="253.60" y2="525.32" stroke="#111" stroke-width="0.55"/>
<rect x="253.60" y="524.72" width="24.00" height="1.20" fill="#5b8ef0"/>
<rect x="253.60" y="526.47" width="16.40" height="1.10" fill="#9a9a9a"/>
<rect x="261.70" y="522.32" width="2.40" height="2.40" fill="#4cb51a"/>
<text x="250.10" y="533.30" font-size="5.15" text-anchor="end" fill="#111" stroke="#111" stroke-width="0.140">Reactome_Cell_Cycle</text>
<line x1="252.10" y1="531.45" x2="253.60" y2="531.45" stroke="#111" stroke-width="0.55"/>
<rect x="253.60" y="530.85" width="26.00" height="1.20" fill="#5b8ef0"/>
<rect x="253.60" y="532.60" width="13.00" height="1.10" fill="#9a9a9a"/>
<rect x="261.00" y="528.45" width="2.40" height="2.40" fill="#4cb51a"/>
<text x="250.10" y="539.43" font-size="5.15" text-anchor="end" fill="#111" stroke="#111" stroke-width="0.140">Graham_CML_Dividing_vs_Quiescent</text>
<line x1="252.10" y1="537.58" x2="253.60" y2="537.58" stroke="#111" stroke-width="0.55"/>
<rect x="253.60" y="536.98" width="28.40" height="1.20" fill="#5b8ef0"/>
<rect x="253.60" y="538.73" width="16.80" height="1.10" fill="#9a9a9a"/>
<rect x="260.80" y="534.58" width="2.40" height="2.40" fill="#4cb51a"/>
<text x="250.10" y="545.56" font-size="5.15" text-anchor="end" fill="#111" stroke="#111" stroke-width="0.140">Kinsey_Targets_of_EWSR1_FLII_Fusion</text>
<line x1="252.10" y1="543.71" x2="253.60" y2="543.71" stroke="#111" stroke-width="0.55"/>
<rect x="253.60" y="543.11" width="25.40" height="1.20" fill="#5b8ef0"/>
<rect x="253.60" y="544.86" width="9.00" height="1.10" fill="#9a9a9a"/>
<rect x="260.10" y="540.71" width="2.40" height="2.40" fill="#4cb51a"/>
<text x="250.10" y="551.69" font-size="5.15" text-anchor="end" fill="#111" stroke="#111" stroke-width="0.140">Croonquist_IL6_Deprivation</text>
<line x1="252.10" y1="549.84" x2="253.60" y2="549.84" stroke="#111" stroke-width="0.55"/>
<rect x="253.60" y="549.24" width="29.30" height="1.20" fill="#5b8ef0"/>
<rect x="253.60" y="550.99" width="25.00" height="1.10" fill="#9a9a9a"/>
<rect x="260.10" y="546.84" width="2.40" height="2.40" fill="#4cb51a"/>
<text x="250.10" y="557.82" font-size="5.15" text-anchor="end" fill="#111" stroke="#111" stroke-width="0.140">Sarrio_EMT</text>
<line x1="252.10" y1="555.97" x2="253.60" y2="555.97" stroke="#111" stroke-width="0.55"/>
<rect x="253.60" y="555.37" width="27.70" height="1.20" fill="#5b8ef0"/>
<rect x="253.60" y="557.12" width="18.10" height="1.10" fill="#9a9a9a"/>
<rect x="259.80" y="552.97" width="2.40" height="2.40" fill="#4cb51a"/>
<line x1="253.60" y1="435.70" x2="253.60" y2="559.40" stroke="#111" stroke-width="0.75"/>
<line x1="284.60" y1="435.70" x2="284.60" y2="559.40" stroke="#111" stroke-width="0.75"/>
<line x1="253.25" y1="435.70" x2="284.95" y2="435.70" stroke="#111" stroke-width="0.75"/>
<line x1="253.25" y1="559.40" x2="284.95" y2="559.40" stroke="#111" stroke-width="0.75"/>
<line x1="253.60" y1="559.40" x2="253.60" y2="560.70" stroke="#111" stroke-width="0.55"/>
<text x="253.60" y="568.75" font-size="5.15" text-anchor="middle" fill="#111" stroke="#111" stroke-width="0.140">0</text>
<line x1="269.10" y1="559.40" x2="269.10" y2="560.70" stroke="#111" stroke-width="0.55"/>
<text x="269.10" y="568.75" font-size="5.15" text-anchor="middle" fill="#111" stroke="#111" stroke-width="0.140">50</text>
<line x1="284.60" y1="559.40" x2="284.60" y2="560.70" stroke="#111" stroke-width="0.55"/>
<text x="284.60" y="568.75" font-size="5.15" text-anchor="middle" fill="#111" stroke="#111" stroke-width="0.140">100</text>
<text x="269.10" y="575.45" font-size="5.15" text-anchor="middle" fill="#111" stroke="#111" stroke-width="0.140">%</text>
<rect x="172.70" y="576.90" width="2.20" height="2.20" fill="#4cb51a"/>
<text x="183.00" y="579.85" font-size="5.15" fill="#111" stroke="#111" stroke-width="0.140">NES</text>
<rect x="166.00" y="583.70" width="13.50" height="1.20" fill="#5b8ef0"/>
<text x="183.00" y="586.15" font-size="5.15" fill="#111" stroke="#111" stroke-width="0.140">Overlap with Fischer_DREAM_Targets (%)</text>
<rect x="166.00" y="589.80" width="13.50" height="1.20" fill="#9a9a9a"/>
<text x="183.00" y="592.25" font-size="5.15" fill="#111" stroke="#111" stroke-width="0.140">Enrichment (%)</text>
<rect x="169.6" y="560.1" width="34.9" height="11.1" fill="#fff" stroke="#999" stroke-width="0.6"/>
<rect x="175.10" y="563.90" width="2.30" height="2.30" fill="#4cb51a"/>
<text x="181.20" y="566.82" font-size="5.05" fill="#111" stroke="#111" stroke-width="0.140">q &lt; 0.001</text>
<rect x="306.00" y="408.80" width="102.60" height="101.80" fill="#efefef"/>
<rect x="317.30" y="420.00" width="89.90" height="76.50" fill="#fff"/>
<text x="357.60" y="413.15" font-size="4.30" text-anchor="middle" font-weight="bold" fill="#111" stroke="#111" stroke-width="0.140" textLength="30.80" lengthAdjust="spacingAndGlyphs">Enrichment plot:</text>
<text x="357.40" y="417.95" font-size="4.30" text-anchor="middle" font-weight="bold" fill="#111" stroke="#111" stroke-width="0.140" textLength="80.00" lengthAdjust="spacingAndGlyphs">Fischer_Direct_p53_Targets_Meta_Analysis</text>
<line x1="317.30" y1="457.30" x2="407.20" y2="457.30" stroke="#ececec" stroke-width="0.4"/>
<text x="316.30" y="458.45" font-size="3.20" text-anchor="end" fill="#222" stroke="#222" stroke-width="0.140">0.0</text>
<line x1="317.30" y1="452.48" x2="407.20" y2="452.48" stroke="#ececec" stroke-width="0.4"/>
<text x="316.30" y="453.63" font-size="3.20" text-anchor="end" fill="#222" stroke="#222" stroke-width="0.140">0.1</text>
<line x1="317.30" y1="447.66" x2="407.20" y2="447.66" stroke="#ececec" stroke-width="0.4"/>
<text x="316.30" y="448.81" font-size="3.20" text-anchor="end" fill="#222" stroke="#222" stroke-width="0.140">0.2</text>
<line x1="317.30" y1="442.84" x2="407.20" y2="442.84" stroke="#ececec" stroke-width="0.4"/>
<text x="316.30" y="443.99" font-size="3.20" text-anchor="end" fill="#222" stroke="#222" stroke-width="0.140">0.3</text>
<line x1="317.30" y1="438.02" x2="407.20" y2="438.02" stroke="#ececec" stroke-width="0.4"/>
<text x="316.30" y="439.17" font-size="3.20" text-anchor="end" fill="#222" stroke="#222" stroke-width="0.140">0.4</text>
<line x1="317.30" y1="433.20" x2="407.20" y2="433.20" stroke="#ececec" stroke-width="0.4"/>
<text x="316.30" y="434.35" font-size="3.20" text-anchor="end" fill="#222" stroke="#222" stroke-width="0.140">0.5</text>
<line x1="317.30" y1="428.38" x2="407.20" y2="428.38" stroke="#ececec" stroke-width="0.4"/>
<text x="316.30" y="429.53" font-size="3.20" text-anchor="end" fill="#222" stroke="#222" stroke-width="0.140">0.6</text>
<line x1="317.30" y1="423.56" x2="407.20" y2="423.56" stroke="#ececec" stroke-width="0.4"/>
<text x="316.30" y="424.71" font-size="3.20" text-anchor="end" fill="#222" stroke="#222" stroke-width="0.140">0.7</text>
<line x1="327.76" y1="420.00" x2="327.76" y2="496.50" stroke="#ececec" stroke-width="0.4"/>
<line x1="337.82" y1="420.00" x2="337.82" y2="496.50" stroke="#ececec" stroke-width="0.4"/>
<line x1="347.88" y1="420.00" x2="347.88" y2="496.50" stroke="#ececec" stroke-width="0.4"/>
<line x1="357.94" y1="420.00" x2="357.94" y2="496.50" stroke="#ececec" stroke-width="0.4"/>
<line x1="368.00" y1="420.00" x2="368.00" y2="496.50" stroke="#ececec" stroke-width="0.4"/>
<line x1="378.06" y1="420.00" x2="378.06" y2="496.50" stroke="#ececec" stroke-width="0.4"/>
<line x1="388.12" y1="420.00" x2="388.12" y2="496.50" stroke="#ececec" stroke-width="0.4"/>
<line x1="398.18" y1="420.00" x2="398.18" y2="496.50" stroke="#ececec" stroke-width="0.4"/>
<line x1="317.30" y1="457.50" x2="407.20" y2="457.50" stroke="#bbb" stroke-width="0.4"/>
<line x1="317.30" y1="472.60" x2="407.20" y2="472.60" stroke="#bbb" stroke-width="0.4"/>
<path d="M317.70,457.30 L318.20,448.62 L318.71,442.84 L319.21,438.98 L319.71,435.77 L320.21,433.20 L320.72,431.66 L321.22,430.12 L321.72,428.86 L322.23,427.90 L322.73,426.93 L323.23,426.36 L323.74,425.78 L324.24,425.20 L324.74,424.62 L325.25,424.04 L325.75,423.75 L326.25,423.46 L326.75,423.17 L327.26,422.89 L327.76,422.60 L328.26,422.48 L328.77,422.36 L329.27,422.23 L329.77,422.11 L330.27,421.99 L330.78,421.87 L331.28,421.75 L331.78,421.63 L332.29,421.65 L332.79,421.67 L333.29,421.69 L333.80,421.71 L334.30,421.74 L334.80,421.76 L335.31,421.78 L335.81,421.84 L336.31,421.91 L336.81,421.98 L337.32,422.05 L337.82,422.11 L338.32,422.07 L338.83,422.02 L339.33,421.97 L339.83,421.92 L340.33,421.87 L340.84,421.97 L341.34,422.07 L341.84,422.16 L342.35,422.26 L342.85,422.36 L343.35,422.45 L343.86,422.55 L344.36,422.64 L344.86,422.74 L345.37,422.84 L345.87,422.98 L346.37,423.13 L346.87,423.27 L347.38,423.42 L347.88,423.56 L348.38,423.70 L348.89,423.85 L349.39,423.99 L349.89,424.14 L350.39,424.28 L350.90,424.43 L351.40,424.57 L351.90,424.72 L352.41,424.86 L352.91,425.01 L353.41,425.20 L353.92,425.39 L354.42,425.58 L354.92,425.78 L355.43,425.97 L355.93,426.16 L356.43,426.36 L356.93,426.55 L357.44,426.74 L357.94,426.93 L358.44,427.13 L358.95,427.32 L359.45,427.51 L359.95,427.71 L360.45,427.90 L360.96,428.16 L361.46,428.41 L361.96,428.67 L362.47,428.93 L362.97,429.18 L363.47,429.44 L363.98,429.70 L364.48,429.95 L364.98,430.21 L365.49,430.47 L365.99,430.73 L366.49,430.98 L366.99,431.24 L367.50,431.50 L368.00,431.75 L368.50,432.04 L369.01,432.33 L369.51,432.62 L370.01,432.91 L370.51,433.20 L371.02,433.49 L371.52,433.78 L372.02,434.07 L372.53,434.36 L373.03,434.65 L373.53,434.94 L374.04,435.22 L374.54,435.51 L375.04,435.80 L375.54,436.09 L376.05,436.38 L376.55,436.67 L377.05,436.96 L377.56,437.25 L378.06,437.54 L378.56,437.85 L379.07,438.16 L379.57,438.48 L380.07,438.79 L380.57,439.10 L381.08,439.42 L381.58,439.73 L382.08,440.04 L382.59,440.36 L383.09,440.67 L383.59,440.98 L384.10,441.30 L384.60,441.61 L385.10,441.92 L385.61,442.24 L386.11,442.55 L386.61,442.86 L387.11,443.18 L387.62,443.49 L388.12,443.80 L388.62,444.16 L389.13,444.51 L389.63,444.86 L390.13,445.22 L390.63,445.57 L391.14,445.92 L391.64,446.28 L392.14,446.63 L392.65,446.99 L393.15,447.34 L393.65,447.69 L394.16,448.05 L394.66,448.40 L395.16,448.75 L395.66,449.11 L396.17,449.59 L396.67,450.07 L397.17,450.55 L397.68,451.03 L398.18,451.52 L398.68,452.00 L399.19,452.48 L399.69,452.96 L400.19,453.44 L400.69,453.93 L401.20,454.53 L401.70,455.13 L402.20,455.73 L402.71,456.34" stroke="#33ee33" stroke-width="0.9" fill="none"/>
<path d="M317.76 457.50V469.20M317.91 457.50V469.20M317.99 457.50V469.20M318.07 457.50V469.20M318.11 457.50V469.20M318.34 457.50V469.20M318.46 457.50V469.20M318.51 457.50V469.20M318.65 457.50V469.20M318.80 457.50V469.20M318.87 457.50V469.20M318.95 457.50V469.20M319.10 457.50V469.20M319.26 457.50V469.20M319.26 457.50V469.20M319.43 457.50V469.20M319.52 457.50V469.20M319.59 457.50V469.20M319.72 457.50V469.20M319.78 457.50V469.20M319.96 457.50V469.20M320.04 457.50V469.20M320.18 457.50V469.20M320.27 457.50V469.20M320.40 457.50V469.20M320.50 457.50V469.20M320.57 457.50V469.20M320.78 457.50V469.20M320.91 457.50V469.20M320.99 457.50V469.20M321.05 457.50V469.20M321.22 457.50V469.20M321.33 457.50V469.20M321.38 457.50V469.20M321.51 457.50V469.20M321.59 457.50V469.20M321.71 457.50V469.20M321.76 457.50V469.20M321.94 457.50V469.20M322.04 457.50V469.20M322.22 457.50V469.20M322.33 457.50V469.20M322.39 457.50V469.20M322.54 457.50V469.20M322.57 457.50V469.20M322.63 457.50V469.20M322.82 457.50V469.20M322.88 457.50V469.20M322.96 457.50V469.20M323.09 457.50V469.20M323.20 457.50V469.20M323.36 457.50V469.20M323.53 457.50V469.20M323.71 457.50V469.20M324.31 457.50V469.20M324.39 457.50V469.20M325.00 457.50V469.20M325.32 457.50V469.20M325.69 457.50V469.20M325.90 457.50V469.20M326.21 457.50V469.20M326.43 457.50V469.20M327.03 457.50V469.20M327.34 457.50V469.20M327.77 457.50V469.20M327.97 457.50V469.20M328.20 457.50V469.20M328.88 457.50V469.20M329.44 457.50V469.20M329.87 457.50V469.20M330.15 457.50V469.20M330.45 457.50V469.20M330.61 457.50V469.20M331.30 457.50V469.20M331.70 457.50V469.20M331.82 457.50V469.20M332.16 457.50V469.20M332.80 457.50V469.20M333.02 457.50V469.20M333.69 457.50V469.20M333.95 457.50V469.20M334.53 457.50V469.20M335.16 457.50V469.20M335.76 457.50V469.20M336.38 457.50V469.20M336.95 457.50V469.20M338.08 457.50V469.20M338.86 457.50V469.20M339.44 457.50V469.20M340.05 457.50V469.20M341.18 457.50V469.20M341.75 457.50V469.20M342.40 457.50V469.20M343.16 457.50V469.20M343.62 457.50V469.20M344.43 457.50V469.20M344.99 457.50V469.20M346.14 457.50V469.20M346.53 457.50V469.20M347.28 457.50V469.20M347.58 457.50V469.20M348.32 457.50V469.20M349.47 457.50V469.20M350.25 457.50V469.20M351.40 457.50V469.20M352.00 457.50V469.20M352.20 457.50V469.20M353.33 457.50V469.20M353.71 457.50V469.20M355.93 457.50V469.20M357.44 457.50V469.20M365.99 457.50V469.20M399.19 457.50V469.20M399.26 457.50V469.20" stroke="#000" stroke-width="0.35" fill="none"/>
<rect x="317.70" y="469.20" width="22.13" height="3.40" fill="#e53a3a"/>
<rect x="339.83" y="469.20" width="13.08" height="3.40" fill="#efaad4"/>
<rect x="352.91" y="469.20" width="20.12" height="3.40" fill="#dcdcf8"/>
<rect x="373.03" y="469.20" width="7.54" height="3.40" fill="#cacaf4"/>
<rect x="380.57" y="469.20" width="8.55" height="3.40" fill="#8a8aec"/>
<rect x="389.13" y="469.20" width="7.54" height="3.40" fill="#5050dc"/>
<rect x="396.67" y="469.20" width="6.04" height="3.40" fill="#1414a8"/>
<path d="M317.70,487.00 L317.70,480.50 L318.20,481.88 L318.71,482.88 L319.21,483.60 L319.71,484.12 L320.21,484.51 L320.72,484.80 L321.22,485.01 L321.72,485.17 L322.23,485.30 L322.73,485.39 L323.23,485.47 L323.74,485.54 L324.24,485.59 L324.74,485.64 L325.25,485.68 L325.75,485.72 L326.25,485.76 L326.75,485.79 L327.26,485.82 L327.76,485.86 L328.26,485.89 L328.77,485.92 L329.27,485.95 L329.77,485.97 L330.27,486.00 L330.78,486.03 L331.28,486.06 L331.78,486.09 L332.29,486.12 L332.79,486.14 L333.29,486.17 L333.80,486.20 L334.30,486.22 L334.80,486.25 L335.31,486.28 L335.81,486.30 L336.31,486.33 L336.81,486.35 L337.32,486.38 L337.82,486.40 L338.32,486.43 L338.83,486.45 L339.33,486.48 L339.83,486.50 L340.33,486.53 L340.84,486.55 L341.34,486.57 L341.84,486.60 L342.35,486.62 L342.85,486.64 L343.35,486.66 L343.86,486.68 L344.36,486.71 L344.86,486.73 L345.37,486.75 L345.87,486.77 L346.37,486.79 L346.87,486.81 L347.38,486.83 L347.88,486.85 L348.38,486.86 L348.89,486.88 L349.39,486.90 L349.89,486.91 L350.39,486.93 L350.90,486.94 L351.40,486.96 L351.90,486.97 L352.41,486.98 L352.91,486.99 L353.41,487.00 L353.92,487.00 L354.42,487.00 L354.92,487.01 L355.43,487.01 L355.93,487.02 L356.43,487.03 L356.93,487.03 L357.44,487.04 L357.94,487.05 L358.44,487.06 L358.95,487.07 L359.45,487.08 L359.95,487.09 L360.45,487.10 L360.96,487.11 L361.46,487.12 L361.96,487.14 L362.47,487.15 L362.97,487.16 L363.47,487.18 L363.98,487.19 L364.48,487.21 L364.98,487.22 L365.49,487.24 L365.99,487.25 L366.49,487.27 L366.99,487.29 L367.50,487.30 L368.00,487.32 L368.50,487.34 L369.01,487.36 L369.51,487.38 L370.01,487.39 L370.51,487.41 L371.02,487.43 L371.52,487.45 L372.02,487.47 L372.53,487.49 L373.03,487.52 L373.53,487.54 L374.04,487.56 L374.54,487.58 L375.04,487.60 L375.54,487.63 L376.05,487.65 L376.55,487.67 L377.05,487.70 L377.56,487.72 L378.06,487.74 L378.56,487.77 L379.07,487.79 L379.57,487.82 L380.07,487.85 L380.57,487.87 L381.08,487.90 L381.58,487.93 L382.08,487.95 L382.59,487.98 L383.09,488.01 L383.59,488.04 L384.10,488.07 L384.60,488.10 L385.10,488.14 L385.61,488.17 L386.11,488.21 L386.61,488.24 L387.11,488.28 L387.62,488.32 L388.12,488.37 L388.62,488.41 L389.13,488.46 L389.63,488.51 L390.13,488.57 L390.63,488.63 L391.14,488.69 L391.64,488.76 L392.14,488.84 L392.65,488.93 L393.15,489.02 L393.65,489.12 L394.16,489.23 L394.66,489.35 L395.16,489.49 L395.66,489.64 L396.17,489.81 L396.67,490.00 L397.17,490.21 L397.68,490.44 L398.18,490.70 L398.68,490.99 L399.19,491.31 L399.69,491.67 L400.19,492.07 L400.69,492.52 L401.20,493.01 L401.70,493.57 L402.20,494.19 L402.71,494.88 L402.71,487.00 Z" fill="#b5b5b5" stroke="#888" stroke-width="0.25"/>
<text x="316.30" y="475.65" font-size="3.20" text-anchor="end" fill="#222" stroke="#222" stroke-width="0.140">100</text>
<text x="316.30" y="481.90" font-size="3.20" text-anchor="end" fill="#222" stroke="#222" stroke-width="0.140">50</text>
<text x="316.30" y="488.15" font-size="3.20" text-anchor="end" fill="#222" stroke="#222" stroke-width="0.140">0</text>
<text x="316.30" y="494.40" font-size="3.20" text-anchor="end" fill="#222" stroke="#222" stroke-width="0.140">&#8722;50</text>
<text x="317.70" y="501.05" font-size="3.20" text-anchor="middle" fill="#222" stroke="#222" stroke-width="0.140">0</text>
<text x="327.76" y="501.05" font-size="3.20" text-anchor="middle" fill="#222" stroke="#222" stroke-width="0.140">200</text>
<text x="337.82" y="501.05" font-size="3.20" text-anchor="middle" fill="#222" stroke="#222" stroke-width="0.140">400</text>
<text x="347.88" y="501.05" font-size="3.20" text-anchor="middle" fill="#222" stroke="#222" stroke-width="0.140">600</text>
<text x="357.94" y="501.05" font-size="3.20" text-anchor="middle" fill="#222" stroke="#222" stroke-width="0.140">800</text>
<text x="368.00" y="501.05" font-size="3.20" text-anchor="middle" fill="#222" stroke="#222" stroke-width="0.140">1,000</text>
<text x="378.06" y="501.05" font-size="3.20" text-anchor="middle" fill="#222" stroke="#222" stroke-width="0.140">1,200</text>
<text x="388.12" y="501.05" font-size="3.20" text-anchor="middle" fill="#222" stroke="#222" stroke-width="0.140">1,400</text>
<text x="398.18" y="501.05" font-size="3.20" text-anchor="middle" fill="#222" stroke="#222" stroke-width="0.140">1,600</text>
<text x="362.25" y="504.75" font-size="3.20" text-anchor="middle" fill="#222" stroke="#222" stroke-width="0.140">Rank in ordered dataset</text>
<text x="319.00" y="475.31" font-size="2.80" fill="#e53a3a" stroke="#e53a3a" stroke-width="0.140" textLength="33.90" lengthAdjust="spacingAndGlyphs">na_pos (positively correlated)</text>
<text x="342.30" y="485.21" font-size="2.80" fill="#222" stroke="#222" stroke-width="0.140" textLength="19.00" lengthAdjust="spacingAndGlyphs">Zero cross at 710</text>
<text x="361.30" y="496.21" font-size="2.80" fill="#3b3bd6" stroke="#3b3bd6" stroke-width="0.140" textLength="37.10" lengthAdjust="spacingAndGlyphs">na_neg (negatively correlated)</text>
<text x="309.00" y="438.75" font-size="3.20" text-anchor="middle" fill="#333" stroke="#333" stroke-width="0.140" transform="rotate(-90 309.00 438.75)">Enrichment score</text>
<text x="309.00" y="484.35" font-size="3.20" text-anchor="middle" fill="#333" stroke="#333" stroke-width="0.140" transform="rotate(-90 309.00 484.35)">Ranked list metric (preRanked)</text>
<rect x="321.00" y="506.60" width="71.70" height="4.50" fill="#fff" stroke="#555" stroke-width="0.4"/>
<line x1="322.50" y1="508.85" x2="326.50" y2="508.85" stroke="#33ee33" stroke-width="0.8"/>
<text x="327.50" y="509.85" font-size="2.60" fill="#222" stroke="#222" stroke-width="0.140" textLength="20.00" lengthAdjust="spacingAndGlyphs">Enrichment profile</text>
<line x1="350.00" y1="508.85" x2="353.00" y2="508.85" stroke="#000" stroke-width="0.4"/>
<text x="354.00" y="509.85" font-size="2.60" fill="#222" stroke="#222" stroke-width="0.140" textLength="5.00" lengthAdjust="spacingAndGlyphs">Hits</text>
<line x1="361.00" y1="508.85" x2="364.00" y2="508.85" stroke="#aaa" stroke-width="0.4"/>
<text x="365.00" y="509.85" font-size="2.60" fill="#222" stroke="#222" stroke-width="0.140" textLength="25.00" lengthAdjust="spacingAndGlyphs">Ranking metric scores</text>
<rect x="417.70" y="407.00" width="101.90" height="103.40" fill="#efefef"/>
<rect x="430.00" y="412.00" width="86.00" height="84.00" fill="#fff"/>
<text x="471.20" y="411.15" font-size="4.30" text-anchor="middle" font-weight="bold" fill="#111" stroke="#111" stroke-width="0.140" textLength="76.40" lengthAdjust="spacingAndGlyphs">Enrichment plot: Fischer_DREAM_Targets</text>
<line x1="430.00" y1="414.40" x2="516.00" y2="414.40" stroke="#ececec" stroke-width="0.4"/>
<text x="429.00" y="415.55" font-size="3.20" text-anchor="end" fill="#222" stroke="#222" stroke-width="0.140">0.0</text>
<line x1="430.00" y1="419.15" x2="516.00" y2="419.15" stroke="#ececec" stroke-width="0.4"/>
<text x="429.00" y="420.30" font-size="3.20" text-anchor="end" fill="#222" stroke="#222" stroke-width="0.140">&#8722;0.1</text>
<line x1="430.00" y1="423.90" x2="516.00" y2="423.90" stroke="#ececec" stroke-width="0.4"/>
<text x="429.00" y="425.05" font-size="3.20" text-anchor="end" fill="#222" stroke="#222" stroke-width="0.140">&#8722;0.2</text>
<line x1="430.00" y1="428.65" x2="516.00" y2="428.65" stroke="#ececec" stroke-width="0.4"/>
<text x="429.00" y="429.80" font-size="3.20" text-anchor="end" fill="#222" stroke="#222" stroke-width="0.140">&#8722;0.3</text>
<line x1="430.00" y1="433.40" x2="516.00" y2="433.40" stroke="#ececec" stroke-width="0.4"/>
<text x="429.00" y="434.55" font-size="3.20" text-anchor="end" fill="#222" stroke="#222" stroke-width="0.140">&#8722;0.4</text>
<line x1="430.00" y1="438.15" x2="516.00" y2="438.15" stroke="#ececec" stroke-width="0.4"/>
<text x="429.00" y="439.30" font-size="3.20" text-anchor="end" fill="#222" stroke="#222" stroke-width="0.140">&#8722;0.5</text>
<line x1="430.00" y1="442.90" x2="516.00" y2="442.90" stroke="#ececec" stroke-width="0.4"/>
<text x="429.00" y="444.05" font-size="3.20" text-anchor="end" fill="#222" stroke="#222" stroke-width="0.140">&#8722;0.6</text>
<line x1="430.00" y1="447.65" x2="516.00" y2="447.65" stroke="#ececec" stroke-width="0.4"/>
<text x="429.00" y="448.80" font-size="3.20" text-anchor="end" fill="#222" stroke="#222" stroke-width="0.140">&#8722;0.7</text>
<line x1="430.00" y1="452.40" x2="516.00" y2="452.40" stroke="#ececec" stroke-width="0.4"/>
<text x="429.00" y="453.55" font-size="3.20" text-anchor="end" fill="#222" stroke="#222" stroke-width="0.140">&#8722;0.8</text>
<line x1="439.64" y1="412.00" x2="439.64" y2="496.00" stroke="#ececec" stroke-width="0.4"/>
<line x1="449.68" y1="412.00" x2="449.68" y2="496.00" stroke="#ececec" stroke-width="0.4"/>
<line x1="459.72" y1="412.00" x2="459.72" y2="496.00" stroke="#ececec" stroke-width="0.4"/>
<line x1="469.76" y1="412.00" x2="469.76" y2="496.00" stroke="#ececec" stroke-width="0.4"/>
<line x1="479.80" y1="412.00" x2="479.80" y2="496.00" stroke="#ececec" stroke-width="0.4"/>
<line x1="489.84" y1="412.00" x2="489.84" y2="496.00" stroke="#ececec" stroke-width="0.4"/>
<line x1="499.88" y1="412.00" x2="499.88" y2="496.00" stroke="#ececec" stroke-width="0.4"/>
<line x1="509.92" y1="412.00" x2="509.92" y2="496.00" stroke="#ececec" stroke-width="0.4"/>
<line x1="430.00" y1="453.30" x2="516.00" y2="453.30" stroke="#bbb" stroke-width="0.4"/>
<line x1="430.00" y1="469.20" x2="516.00" y2="469.20" stroke="#bbb" stroke-width="0.4"/>
<path d="M429.60,414.40 L430.10,414.69 L430.60,414.97 L431.11,415.25 L431.61,415.54 L432.11,415.82 L432.61,416.11 L433.11,416.39 L433.62,416.68 L434.12,416.96 L434.62,417.25 L435.12,417.58 L435.62,417.91 L436.13,418.25 L436.63,418.58 L437.13,418.91 L437.63,419.25 L438.13,419.58 L438.64,419.91 L439.14,420.24 L439.64,420.57 L440.14,420.91 L440.64,421.24 L441.15,421.57 L441.65,421.90 L442.15,422.24 L442.65,422.57 L443.15,422.90 L443.66,423.23 L444.16,423.57 L444.66,423.90 L445.16,424.24 L445.66,424.59 L446.17,424.93 L446.67,425.27 L447.17,425.62 L447.67,425.96 L448.17,426.31 L448.68,426.65 L449.18,426.99 L449.68,427.34 L450.18,427.68 L450.68,428.02 L451.19,428.37 L451.69,428.71 L452.19,429.06 L452.69,429.51 L453.19,429.99 L453.70,430.47 L454.20,430.95 L454.70,431.44 L455.20,431.92 L455.70,432.40 L456.21,432.88 L456.71,433.36 L457.21,433.84 L457.71,434.32 L458.21,434.81 L458.72,435.29 L459.22,435.77 L459.72,436.25 L460.22,436.67 L460.72,437.09 L461.23,437.51 L461.73,437.93 L462.23,438.35 L462.73,438.77 L463.23,439.19 L463.74,439.61 L464.24,440.03 L464.74,440.45 L465.24,440.87 L465.74,441.29 L466.25,441.71 L466.75,442.13 L467.25,442.52 L467.75,442.84 L468.25,443.17 L468.76,443.49 L469.26,443.81 L469.76,444.14 L470.26,444.46 L470.76,444.78 L471.27,445.10 L471.77,445.43 L472.27,445.75 L472.77,445.97 L473.27,446.19 L473.78,446.41 L474.28,446.63 L474.78,446.85 L475.28,447.07 L475.78,447.29 L476.29,447.51 L476.79,447.73 L477.29,447.95 L477.79,448.17 L478.29,448.37 L478.80,448.58 L479.30,448.79 L479.80,448.99 L480.30,449.20 L480.80,449.41 L481.31,449.61 L481.81,449.82 L482.31,450.02 L482.81,450.15 L483.31,450.27 L483.82,450.39 L484.32,450.51 L484.82,450.64 L485.32,450.76 L485.82,450.88 L486.33,451.00 L486.83,451.13 L487.33,451.20 L487.83,451.14 L488.33,451.08 L488.84,451.02 L489.34,450.97 L489.84,450.91 L490.34,450.85 L490.84,450.79 L491.35,450.74 L491.85,450.47 L492.35,450.19 L492.85,449.92 L493.35,449.65 L493.86,449.38 L494.36,449.11 L494.86,448.84 L495.36,448.27 L495.86,447.71 L496.37,447.15 L496.87,446.58 L497.37,446.02 L497.87,445.45 L498.37,444.89 L498.88,444.32 L499.38,443.55 L499.88,442.78 L500.38,442.01 L500.88,441.24 L501.39,440.47 L501.89,439.69 L502.39,438.92 L502.89,438.15 L503.39,437.18 L503.90,436.21 L504.40,435.24 L504.90,434.26 L505.40,433.29 L505.90,432.32 L506.41,431.35 L506.91,430.38 L507.41,429.39 L507.91,428.31 L508.41,427.24 L508.92,426.17 L509.42,425.10 L509.92,424.02 L510.42,422.95 L510.92,421.71 L511.43,420.47 L511.93,419.22 L512.43,417.98 L512.93,416.74 L513.43,415.50 L513.94,414.24 L514.44,412.97" stroke="#33ee33" stroke-width="0.9" fill="none"/>
<path d="M436.28 453.30V466.00M453.90 453.30V466.00M460.57 453.30V466.00M464.99 453.30V466.00M465.44 453.30V466.00M465.59 453.30V466.00M465.62 453.30V466.00M465.76 453.30V466.00M465.97 453.30V466.00M466.15 453.30V466.00M466.40 453.30V466.00M466.79 453.30V466.00M466.98 453.30V466.00M467.44 453.30V466.00M467.45 453.30V466.00M467.68 453.30V466.00M467.76 453.30V466.00M467.96 453.30V466.00M468.09 453.30V466.00M468.17 453.30V466.00M468.48 453.30V466.00M468.70 453.30V466.00M468.93 453.30V466.00M469.07 453.30V466.00M469.35 453.30V466.00M469.48 453.30V466.00M469.65 453.30V466.00M469.88 453.30V466.00M470.11 453.30V466.00M470.23 453.30V466.00M470.56 453.30V466.00M470.71 453.30V466.00M471.00 453.30V466.00M471.16 453.30V466.00M471.37 453.30V466.00M471.66 453.30V466.00M471.76 453.30V466.00M472.13 453.30V466.00M472.31 453.30V466.00M472.48 453.30V466.00M472.60 453.30V466.00M472.72 453.30V466.00M472.95 453.30V466.00M473.04 453.30V466.00M473.14 453.30V466.00M473.52 453.30V466.00M473.57 453.30V466.00M473.80 453.30V466.00M473.85 453.30V466.00M474.07 453.30V466.00M474.35 453.30V466.00M474.45 453.30V466.00M474.64 453.30V466.00M474.72 453.30V466.00M475.08 453.30V466.00M475.28 453.30V466.00M475.57 453.30V466.00M475.54 453.30V466.00M475.73 453.30V466.00M476.04 453.30V466.00M476.23 453.30V466.00M476.44 453.30V466.00M476.64 453.30V466.00M477.06 453.30V466.00M477.09 453.30V466.00M477.32 453.30V466.00M477.73 453.30V466.00M478.02 453.30V466.00M478.11 453.30V466.00M478.33 453.30V466.00M478.70 453.30V466.00M479.04 453.30V466.00M479.22 453.30V466.00M479.63 453.30V466.00M479.78 453.30V466.00M479.98 453.30V466.00M479.95 453.30V466.00M480.06 453.30V466.00M480.19 453.30V466.00M480.39 453.30V466.00M480.38 453.30V466.00M480.65 453.30V466.00M480.67 453.30V466.00M480.66 453.30V466.00M480.79 453.30V466.00M480.92 453.30V466.00M480.90 453.30V466.00M481.15 453.30V466.00M481.26 453.30V466.00M481.22 453.30V466.00M481.29 453.30V466.00M481.41 453.30V466.00M481.56 453.30V466.00M481.58 453.30V466.00M481.72 453.30V466.00M481.77 453.30V466.00M481.86 453.30V466.00M482.01 453.30V466.00M482.00 453.30V466.00M482.12 453.30V466.00M482.11 453.30V466.00M482.21 453.30V466.00M482.38 453.30V466.00M482.55 453.30V466.00M482.62 453.30V466.00M482.70 453.30V466.00M482.85 453.30V466.00M482.85 453.30V466.00M482.95 453.30V466.00M483.09 453.30V466.00M483.23 453.30V466.00M483.28 453.30V466.00M483.39 453.30V466.00M483.51 453.30V466.00M483.55 453.30V466.00M483.53 453.30V466.00M483.64 453.30V466.00M483.75 453.30V466.00M483.94 453.30V466.00M483.98 453.30V466.00M484.10 453.30V466.00M484.18 453.30V466.00M484.41 453.30V466.00M484.52 453.30V466.00M484.63 453.30V466.00M484.72 453.30V466.00M484.84 453.30V466.00M484.93 453.30V466.00M485.02 453.30V466.00M485.11 453.30V466.00M485.29 453.30V466.00M485.34 453.30V466.00M485.52 453.30V466.00M485.72 453.30V466.00M485.75 453.30V466.00M485.89 453.30V466.00M485.93 453.30V466.00M485.98 453.30V466.00M486.10 453.30V466.00M486.36 453.30V466.00M486.48 453.30V466.00M486.48 453.30V466.00M486.67 453.30V466.00M486.83 453.30V466.00M486.94 453.30V466.00M487.13 453.30V466.00M487.14 453.30V466.00M487.36 453.30V466.00M487.40 453.30V466.00M487.50 453.30V466.00M487.69 453.30V466.00M487.69 453.30V466.00M487.78 453.30V466.00M487.88 453.30V466.00M487.99 453.30V466.00M488.10 453.30V466.00M488.15 453.30V466.00M488.28 453.30V466.00M488.44 453.30V466.00M488.44 453.30V466.00M488.57 453.30V466.00M488.63 453.30V466.00M488.74 453.30V466.00M488.81 453.30V466.00M488.85 453.30V466.00M489.01 453.30V466.00M489.11 453.30V466.00M489.33 453.30V466.00M489.45 453.30V466.00M489.44 453.30V466.00M489.56 453.30V466.00M489.66 453.30V466.00M489.77 453.30V466.00M489.93 453.30V466.00M489.88 453.30V466.00M490.00 453.30V466.00M490.15 453.30V466.00M490.34 453.30V466.00M490.45 453.30V466.00M490.45 453.30V466.00M490.66 453.30V466.00M490.77 453.30V466.00M490.77 453.30V466.00M490.92 453.30V466.00M491.01 453.30V466.00M491.21 453.30V466.00M491.23 453.30V466.00M491.34 453.30V466.00M491.44 453.30V466.00M491.58 453.30V466.00M491.71 453.30V466.00M491.88 453.30V466.00M492.01 453.30V466.00M492.10 453.30V466.00M492.18 453.30V466.00M492.25 453.30V466.00M492.37 453.30V466.00M492.47 453.30V466.00M492.47 453.30V466.00M492.57 453.30V466.00M492.67 453.30V466.00M492.69 453.30V466.00M492.91 453.30V466.00M492.96 453.30V466.00M493.09 453.30V466.00M493.01 453.30V466.00M493.16 453.30V466.00M493.29 453.30V466.00M493.34 453.30V466.00M493.43 453.30V466.00M493.56 453.30V466.00M493.65 453.30V466.00M493.84 453.30V466.00M493.87 453.30V466.00M493.98 453.30V466.00M494.21 453.30V466.00M494.21 453.30V466.00M494.26 453.30V466.00M494.45 453.30V466.00M494.47 453.30V466.00M494.65 453.30V466.00M494.59 453.30V466.00M494.73 453.30V466.00M494.86 453.30V466.00M494.88 453.30V466.00M495.07 453.30V466.00M495.05 453.30V466.00M495.21 453.30V466.00M495.28 453.30V466.00M495.48 453.30V466.00M495.46 453.30V466.00M495.70 453.30V466.00M495.80 453.30V466.00M495.88 453.30V466.00M495.99 453.30V466.00M496.15 453.30V466.00M496.13 453.30V466.00M496.37 453.30V466.00M496.51 453.30V466.00M496.55 453.30V466.00M496.59 453.30V466.00M496.68 453.30V466.00M496.75 453.30V466.00M496.86 453.30V466.00M497.03 453.30V466.00M497.07 453.30V466.00M497.24 453.30V466.00M497.26 453.30V466.00M497.37 453.30V466.00M497.55 453.30V466.00M497.63 453.30V466.00M497.65 453.30V466.00M497.78 453.30V466.00M497.91 453.30V466.00M497.99 453.30V466.00M498.04 453.30V466.00M498.25 453.30V466.00M498.29 453.30V466.00M498.43 453.30V466.00M498.45 453.30V466.00M498.60 453.30V466.00M498.57 453.30V466.00M498.67 453.30V466.00M498.80 453.30V466.00M498.94 453.30V466.00M499.01 453.30V466.00M499.13 453.30V466.00M499.23 453.30V466.00M499.27 453.30V466.00M499.28 453.30V466.00M499.47 453.30V466.00M499.57 453.30V466.00M499.62 453.30V466.00M499.69 453.30V466.00M499.83 453.30V466.00M499.96 453.30V466.00M500.00 453.30V466.00M500.12 453.30V466.00M500.13 453.30V466.00M500.29 453.30V466.00M500.38 453.30V466.00M500.46 453.30V466.00M500.67 453.30V466.00M500.69 453.30V466.00M500.81 453.30V466.00M500.82 453.30V466.00M500.87 453.30V466.00M501.05 453.30V466.00M501.12 453.30V466.00M501.10 453.30V466.00M501.35 453.30V466.00M501.43 453.30V466.00M501.55 453.30V466.00M501.71 453.30V466.00M501.78 453.30V466.00M501.85 453.30V466.00M501.97 453.30V466.00M502.01 453.30V466.00M502.17 453.30V466.00M502.25 453.30V466.00M502.38 453.30V466.00M502.50 453.30V466.00M502.58 453.30V466.00M502.67 453.30V466.00M502.64 453.30V466.00M502.84 453.30V466.00M502.98 453.30V466.00M503.12 453.30V466.00M503.07 453.30V466.00M503.16 453.30V466.00M503.27 453.30V466.00M503.38 453.30V466.00M503.56 453.30V466.00M503.65 453.30V466.00M503.65 453.30V466.00M503.67 453.30V466.00M503.80 453.30V466.00M504.03 453.30V466.00M503.98 453.30V466.00M504.15 453.30V466.00M504.29 453.30V466.00M504.27 453.30V466.00M504.37 453.30V466.00M504.54 453.30V466.00M504.52 453.30V466.00M504.55 453.30V466.00M504.85 453.30V466.00M504.94 453.30V466.00M504.97 453.30V466.00M505.20 453.30V466.00M505.24 453.30V466.00M505.31 453.30V466.00M505.38 453.30V466.00M505.38 453.30V466.00M505.49 453.30V466.00M505.52 453.30V466.00M505.64 453.30V466.00M505.85 453.30V466.00M505.98 453.30V466.00M505.97 453.30V466.00M506.07 453.30V466.00M506.11 453.30V466.00M506.26 453.30V466.00M506.26 453.30V466.00M506.55 453.30V466.00M506.46 453.30V466.00M506.59 453.30V466.00M506.71 453.30V466.00M506.90 453.30V466.00M506.98 453.30V466.00M506.98 453.30V466.00M507.24 453.30V466.00M507.19 453.30V466.00M507.43 453.30V466.00M507.58 453.30V466.00M507.75 453.30V466.00M507.76 453.30V466.00M508.00 453.30V466.00M508.01 453.30V466.00M508.13 453.30V466.00M508.26 453.30V466.00M508.27 453.30V466.00M508.35 453.30V466.00M508.52 453.30V466.00M508.61 453.30V466.00M508.68 453.30V466.00M508.73 453.30V466.00M508.87 453.30V466.00M509.15 453.30V466.00M509.21 453.30V466.00M509.41 453.30V466.00M509.44 453.30V466.00M509.53 453.30V466.00M509.76 453.30V466.00M509.67 453.30V466.00M509.83 453.30V466.00M510.03 453.30V466.00M510.07 453.30V466.00M510.14 453.30V466.00M510.21 453.30V466.00M510.32 453.30V466.00M510.37 453.30V466.00M510.55 453.30V466.00M510.77 453.30V466.00M510.87 453.30V466.00M510.86 453.30V466.00M510.98 453.30V466.00M511.01 453.30V466.00M511.03 453.30V466.00M511.19 453.30V466.00M511.34 453.30V466.00M511.40 453.30V466.00M511.38 453.30V466.00M511.66 453.30V466.00M511.66 453.30V466.00M511.79 453.30V466.00M511.92 453.30V466.00M511.96 453.30V466.00M512.09 453.30V466.00M512.28 453.30V466.00M512.36 453.30V466.00M512.38 453.30V466.00M512.44 453.30V466.00M512.50 453.30V466.00M512.70 453.30V466.00M512.81 453.30V466.00M512.85 453.30V466.00M512.91 453.30V466.00M513.02 453.30V466.00M512.99 453.30V466.00M513.05 453.30V466.00M513.19 453.30V466.00M513.27 453.30V466.00M513.41 453.30V466.00M513.55 453.30V466.00M513.57 453.30V466.00M513.68 453.30V466.00M513.76 453.30V466.00M513.94 453.30V466.00M514.12 453.30V466.00M514.18 453.30V466.00M514.27 453.30V466.00M514.32 453.30V466.00M514.36 453.30V466.00" stroke="#000" stroke-width="0.35" fill="none"/>
<rect x="429.60" y="466.00" width="10.04" height="3.20" fill="#ec3434"/>
<rect x="439.64" y="466.00" width="12.35" height="3.20" fill="#f26a6a"/>
<rect x="451.99" y="466.00" width="13.20" height="3.20" fill="#efaad4"/>
<rect x="465.19" y="466.00" width="20.13" height="3.20" fill="#d2d2f4"/>
<rect x="485.32" y="466.00" width="6.38" height="3.20" fill="#c0c0ee"/>
<rect x="491.70" y="466.00" width="16.52" height="3.20" fill="#5a5ad2"/>
<rect x="508.21" y="466.00" width="6.22" height="3.20" fill="#14149e"/>
<path d="M429.60,486.10 L429.60,480.30 L430.10,481.48 L430.60,482.33 L431.11,482.95 L431.61,483.40 L432.11,483.73 L432.61,483.98 L433.11,484.17 L433.62,484.31 L434.12,484.42 L434.62,484.51 L435.12,484.58 L435.62,484.64 L436.13,484.69 L436.63,484.73 L437.13,484.78 L437.63,484.81 L438.13,484.85 L438.64,484.88 L439.14,484.91 L439.64,484.95 L440.14,484.98 L440.64,485.01 L441.15,485.03 L441.65,485.06 L442.15,485.09 L442.65,485.12 L443.15,485.15 L443.66,485.18 L444.16,485.20 L444.66,485.23 L445.16,485.26 L445.66,485.29 L446.17,485.31 L446.67,485.34 L447.17,485.37 L447.67,485.39 L448.17,485.42 L448.68,485.44 L449.18,485.47 L449.68,485.50 L450.18,485.52 L450.68,485.54 L451.19,485.57 L451.69,485.59 L452.19,485.62 L452.69,485.64 L453.19,485.66 L453.70,485.69 L454.20,485.71 L454.70,485.73 L455.20,485.76 L455.70,485.78 L456.21,485.80 L456.71,485.82 L457.21,485.84 L457.71,485.86 L458.21,485.88 L458.72,485.90 L459.22,485.92 L459.72,485.94 L460.22,485.96 L460.72,485.98 L461.23,485.99 L461.73,486.01 L462.23,486.02 L462.73,486.04 L463.23,486.05 L463.74,486.07 L464.24,486.08 L464.74,486.09 L465.24,486.10 L465.74,486.10 L466.25,486.10 L466.75,486.11 L467.25,486.11 L467.75,486.12 L468.25,486.12 L468.76,486.13 L469.26,486.14 L469.76,486.15 L470.26,486.16 L470.76,486.17 L471.27,486.18 L471.77,486.19 L472.27,486.20 L472.77,486.21 L473.27,486.22 L473.78,486.23 L474.28,486.25 L474.78,486.26 L475.28,486.27 L475.78,486.29 L476.29,486.30 L476.79,486.32 L477.29,486.34 L477.79,486.35 L478.29,486.37 L478.80,486.38 L479.30,486.40 L479.80,486.42 L480.30,486.44 L480.80,486.46 L481.31,486.47 L481.81,486.49 L482.31,486.51 L482.81,486.53 L483.31,486.55 L483.82,486.57 L484.32,486.59 L484.82,486.62 L485.32,486.64 L485.82,486.66 L486.33,486.68 L486.83,486.70 L487.33,486.73 L487.83,486.75 L488.33,486.77 L488.84,486.80 L489.34,486.82 L489.84,486.85 L490.34,486.87 L490.84,486.90 L491.35,486.92 L491.85,486.95 L492.35,486.97 L492.85,487.00 L493.35,487.03 L493.86,487.06 L494.36,487.09 L494.86,487.12 L495.36,487.15 L495.86,487.18 L496.37,487.21 L496.87,487.24 L497.37,487.28 L497.87,487.31 L498.37,487.35 L498.88,487.39 L499.38,487.43 L499.88,487.47 L500.38,487.52 L500.88,487.57 L501.39,487.62 L501.89,487.68 L502.39,487.74 L502.89,487.80 L503.39,487.87 L503.90,487.95 L504.40,488.04 L504.90,488.13 L505.40,488.23 L505.90,488.34 L506.41,488.47 L506.91,488.60 L507.41,488.76 L507.91,488.93 L508.41,489.12 L508.92,489.33 L509.42,489.56 L509.92,489.82 L510.42,490.11 L510.92,490.44 L511.43,490.80 L511.93,491.20 L512.43,491.65 L512.93,492.16 L513.43,492.72 L513.94,493.34 L514.44,494.04 L514.44,486.10 Z" fill="#b5b5b5" stroke="#888" stroke-width="0.25"/>
<text x="429.00" y="474.65" font-size="3.20" text-anchor="end" fill="#222" stroke="#222" stroke-width="0.140">100</text>
<text x="429.00" y="480.95" font-size="3.20" text-anchor="end" fill="#222" stroke="#222" stroke-width="0.140">50</text>
<text x="429.00" y="487.25" font-size="3.20" text-anchor="end" fill="#222" stroke="#222" stroke-width="0.140">0</text>
<text x="429.00" y="493.55" font-size="3.20" text-anchor="end" fill="#222" stroke="#222" stroke-width="0.140">&#8722;50</text>
<text x="429.60" y="501.05" font-size="3.20" text-anchor="middle" fill="#222" stroke="#222" stroke-width="0.140">0</text>
<text x="439.64" y="501.05" font-size="3.20" text-anchor="middle" fill="#222" stroke="#222" stroke-width="0.140">200</text>
<text x="449.68" y="501.05" font-size="3.20" text-anchor="middle" fill="#222" stroke="#222" stroke-width="0.140">400</text>
<text x="459.72" y="501.05" font-size="3.20" text-anchor="middle" fill="#222" stroke="#222" stroke-width="0.140">600</text>
<text x="469.76" y="501.05" font-size="3.20" text-anchor="middle" fill="#222" stroke="#222" stroke-width="0.140">800</text>
<text x="479.80" y="501.05" font-size="3.20" text-anchor="middle" fill="#222" stroke="#222" stroke-width="0.140">1,000</text>
<text x="489.84" y="501.05" font-size="3.20" text-anchor="middle" fill="#222" stroke="#222" stroke-width="0.140">1,200</text>
<text x="499.88" y="501.05" font-size="3.20" text-anchor="middle" fill="#222" stroke="#222" stroke-width="0.140">1,400</text>
<text x="509.92" y="501.05" font-size="3.20" text-anchor="middle" fill="#222" stroke="#222" stroke-width="0.140">1,600</text>
<text x="473.00" y="504.75" font-size="3.20" text-anchor="middle" fill="#222" stroke="#222" stroke-width="0.140">Rank in ordered dataset</text>
<text x="430.00" y="472.91" font-size="2.80" fill="#e53a3a" stroke="#e53a3a" stroke-width="0.140" textLength="34.60" lengthAdjust="spacingAndGlyphs">na_pos (positively correlated)</text>
<text x="454.80" y="485.01" font-size="2.80" fill="#222" stroke="#222" stroke-width="0.140" textLength="19.70" lengthAdjust="spacingAndGlyphs">Zero cross at 713</text>
<text x="474.50" y="494.01" font-size="2.80" fill="#3b3bd6" stroke="#3b3bd6" stroke-width="0.140" textLength="33.90" lengthAdjust="spacingAndGlyphs">na_neg (negatively correlated)</text>
<text x="420.80" y="432.65" font-size="3.20" text-anchor="middle" fill="#333" stroke="#333" stroke-width="0.140" transform="rotate(-90 420.80 432.65)">Enrichment score</text>
<text x="420.80" y="482.50" font-size="3.20" text-anchor="middle" fill="#333" stroke="#333" stroke-width="0.140" transform="rotate(-90 420.80 482.50)">Ranked list metric (preRanked)</text>
<rect x="432.80" y="505.60" width="71.00" height="4.40" fill="#fff" stroke="#555" stroke-width="0.4"/>
<line x1="434.29" y1="507.80" x2="438.25" y2="507.80" stroke="#33ee33" stroke-width="0.8"/>
<text x="439.24" y="508.80" font-size="2.60" fill="#222" stroke="#222" stroke-width="0.140" textLength="19.80" lengthAdjust="spacingAndGlyphs">Enrichment profile</text>
<line x1="461.52" y1="507.80" x2="464.49" y2="507.80" stroke="#000" stroke-width="0.4"/>
<text x="465.48" y="508.80" font-size="2.60" fill="#222" stroke="#222" stroke-width="0.140" textLength="4.95" lengthAdjust="spacingAndGlyphs">Hits</text>
<line x1="472.41" y1="507.80" x2="475.38" y2="507.80" stroke="#aaa" stroke-width="0.4"/>
<text x="476.37" y="508.80" font-size="2.60" fill="#222" stroke="#222" stroke-width="0.140" textLength="24.76" lengthAdjust="spacingAndGlyphs">Ranking metric scores</text>
<rect x="442.65" y="453.30" width="1.60" height="12.70" fill="#d8d8d8"/>
<line x1="431.41" y1="453.30" x2="431.41" y2="466.00" stroke="#999" stroke-width="0.4"/>
<text x="313.60" y="527.90" font-size="6.35" fill="#111" stroke="#111" stroke-width="0.051">p53</text>
<line x1="326.00" y1="525.80" x2="335.20" y2="525.80" stroke="#111" stroke-width="0.9"/>
<path d="M339.00,525.80 L334.40,523.80 L334.40,527.80 Z" fill="#111"/>
<text x="342.00" y="527.90" font-size="6.35" fill="#111" stroke="#111" stroke-width="0.051"><tspan font-style="italic">CDKN1A</tspan> mRNA</text>
<line x1="391.30" y1="525.80" x2="400.80" y2="525.80" stroke="#111" stroke-width="0.9"/>
<path d="M404.60,525.80 L400.00,523.80 L400.00,527.80 Z" fill="#111"/>
<text x="408.60" y="527.90" font-size="6.35" fill="#111" stroke="#111" stroke-width="0.051">p21</text>
<line x1="414.30" y1="530.10" x2="414.30" y2="538.00" stroke="#111" stroke-width="0.9"/>
<line x1="411.00" y1="538.00" x2="417.70" y2="538.00" stroke="#111" stroke-width="0.95"/>
<text x="414.70" y="545.60" font-size="6.35" text-anchor="middle" fill="#111" stroke="#111" stroke-width="0.051">Cyclin&#8211;CDK complexes</text>
<line x1="414.30" y1="548.00" x2="414.30" y2="553.40" stroke="#111" stroke-width="0.9"/>
<path d="M414.30,557.20 L412.10,552.60 L416.50,552.60 Z" fill="#111"/>
<text x="414.70" y="564.00" font-size="6.35" text-anchor="middle" fill="#111" stroke="#111" stroke-width="0.051">RB &amp; RBL1-2 hyperphosphorylation</text>
<line x1="414.30" y1="566.40" x2="414.30" y2="574.00" stroke="#111" stroke-width="0.9"/>
<line x1="411.00" y1="574.00" x2="417.70" y2="574.00" stroke="#111" stroke-width="0.95"/>
<text x="414.70" y="581.00" font-size="6.35" text-anchor="middle" fill="#111" stroke="#111" stroke-width="0.051">RB-E2F &amp; DREAM complexes</text>
<line x1="414.30" y1="583.40" x2="414.30" y2="591.10" stroke="#111" stroke-width="0.9"/>
<line x1="411.00" y1="591.10" x2="417.70" y2="591.10" stroke="#111" stroke-width="0.95"/>
<text x="414.70" y="599.20" font-size="6.35" text-anchor="middle" fill="#111" stroke="#111" stroke-width="0.051">Transcription of cell-cycle genes</text>
</svg></div></body></html>
